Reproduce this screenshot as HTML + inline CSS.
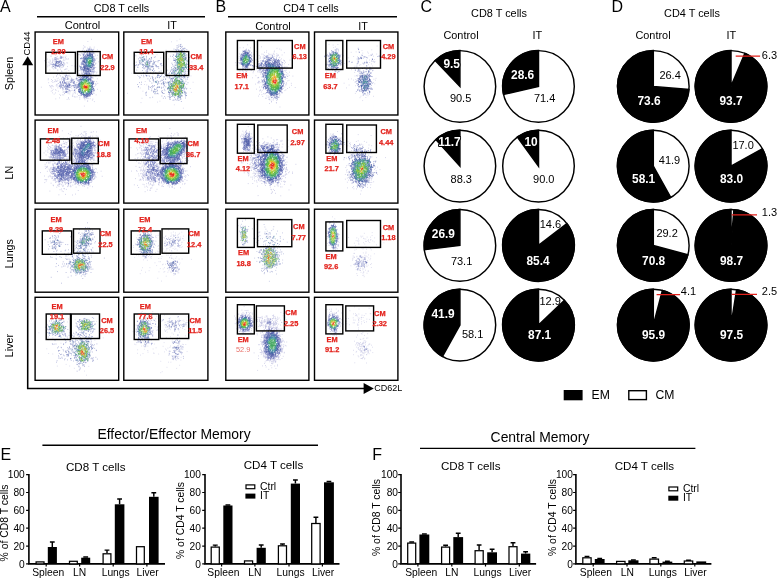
<!DOCTYPE html>
<html><head><meta charset="utf-8"><title>Figure</title>
<style>html,body{margin:0;padding:0;background:#fff}svg{display:block}</style></head><body>
<svg width="777" height="578" viewBox="0 0 777 578" font-family='"Liberation Sans", sans-serif'>
<rect width="777" height="578" fill="#fff"/>
<text x="0" y="11.6" font-size="16">A</text>
<text x="215.6" y="11.6" font-size="16">B</text>
<text x="420.4" y="11.6" font-size="16">C</text>
<text x="611.5" y="11.6" font-size="16">D</text>
<text x="121.5" y="11.8" font-size="10.8" text-anchor="middle">CD8 T cells</text>
<text x="311" y="11.8" font-size="10.8" text-anchor="middle">CD4 T cells</text>
<path d="M37 16.7H205M228 16.7H397" stroke="#000" stroke-width="1.35" fill="none"/>
<text x="82.5" y="29.3" font-size="11.0" text-anchor="middle">Control</text>
<text x="172" y="29.3" font-size="10.8" text-anchor="middle">IT</text>
<text x="273" y="29.8" font-size="11.0" text-anchor="middle">Control</text>
<text x="363" y="29.8" font-size="10.8" text-anchor="middle">IT</text>
<path d="M27.7 62V388.5H366" stroke="#000" stroke-width="1.55" fill="none"/>
<path d="M22.2 65.2L27.7 56.2L33.2 65.2Z" fill="#000"/>
<path d="M363.6 383.0L373.8 388.5L363.6 394.0Z" fill="#000"/>
<text x="30.5" y="55.4" font-size="9.4" transform="rotate(-90 30.5 55.4)">CD44</text>
<text x="374.2" y="391.3" font-size="9.0">CD62L</text>
<text x="13.2" y="73.5" font-size="10.7" text-anchor="middle" transform="rotate(-90 13.2 73.5)">Spleen</text>
<text x="13.2" y="172.6" font-size="10.7" text-anchor="middle" transform="rotate(-90 13.2 172.6)">LN</text>
<text x="13.2" y="253.7" font-size="10.7" text-anchor="middle" transform="rotate(-90 13.2 253.7)">Lungs</text>
<text x="13.2" y="345.6" font-size="10.7" text-anchor="middle" transform="rotate(-90 13.2 345.6)">Liver</text>
<g fill="none" stroke-linecap="round" stroke-width="8" transform="scale(.1)">
<path d="M936 930h0M879 981h0M880 986h0M778 821h0M934 780h0M963 842h0M942 757h0M798 991h0M843 986h0M953 835h0M1004 910h0M798 973h0M799 743h0M957 856h0M877 1013h0M838 978h0M978 834h0M943 1016h0M818 738h0M930 744h0M797 762h0M959 765h0M877 1008h0M929 991h0M771 770h0M785 955h0M945 865h0M819 729h0M764 774h0M941 934h0M819 714h0M765 825h0M967 816h0M843 1061h0M947 904h0M953 844h0M936 740h0M902 987h0M975 893h0M776 941h0M923 1002h0M963 731h0M771 719h0M737 795h0M802 957h0M955 643h0M945 707h0M957 554h0M949 563h0M955 634h0M940 490h0M796 654h0M828 537h0M975 553h0M969 582h0M952 717h0M950 541h0M820 727h0M946 531h0M832 491h0M807 598h0M936 495h0M849 474h0M909 480h0M879 415h0M926 500h0M958 590h0M958 675h0M942 471h0M809 704h0M805 552h0M961 632h0M814 532h0M833 482h0M898 477h0M973 498h0M943 719h0M807 551h0M915 393h0M986 618h0M789 548h0M837 457h0M900 468h0M686 588h0M638 622h0M657 695h0M637 593h0M648 603h0M578 700h0M635 578h0M527 588h0M506 610h0M538 690h0M639 568h0M526 620h0M466 546h0M525 669h0M573 565h0M600 676h0M635 661h0M655 574h0M498 620h0M614 709h0M501 639h0M648 643h0M532 606h0M511 564h0M668 628h0M605 559h0M659 688h0M662 586h0M526 603h0M499 700h0M638 625h0M479 651h0M519 671h0M510 559h0M585 584h0M528 615h0M493 657h0M518 630h0M561 685h0M476 591h0M584 595h0M677 630h0M617 676h0M660 594h0M628 673h0M445 608h0M660 562h0M606 692h0M501 632h0M578 702h0M462 625h0M577 747h0M526 625h0M669 689h0M550 575h0M500 600h0M645 697h0M600 587h0M647 635h0M528 681h0M632 605h0M679 592h0M594 675h0M478 668h0M530 593h0M651 580h0M546 618h0M557 552h0M676 666h0M487 622h0M575 583h0M502 646h0M565 573h0M629 902h0M753 896h0M722 903h0M671 994h0M502 868h0M532 866h0M616 780h0M494 855h0M518 857h0M689 791h0M583 912h0M607 761h0M525 858h0M483 787h0M619 715h0M511 859h0M596 979h0M630 922h0M579 804h0M711 906h0M729 947h0M799 954h0M723 960h0M741 964h0M756 911h0M751 930h0M630 892h0M482 734h0M783 740h0M698 939h0M623 948h0M602 881h0M558 989h0M564 766h0M661 722h0M637 949h0M631 769h0M758 970h0M562 857h0M565 845h0M523 906h0M581 835h0M577 746h0M684 978h0M703 871h0M756 727h0M639 733h0M529 825h0M515 795h0M565 815h0M614 801h0M645 936h0M701 919h0M413 872h0M747 970h0M665 749h0M519 815h0M747 924h0M721 789h0M512 912h0M543 817h0M716 864h0M525 928h0M561 903h0M667 796h0M682 760h0M677 763h0M741 879h0M681 937h0M613 790h0M698 758h0M487 827h0M628 891h0M720 656h0M584 835h0M681 756h0M552 816h0M590 862h0M570 861h0M640 916h0M718 865h0M702 766h0M556 897h0M541 941h0M757 931h0M532 893h0M731 932h0M691 750h0M790 705h0M757 789h0M631 740h0M579 878h0M740 798h0M691 993h0M554 929h0M760 742h0M551 796h0M640 922h0M604 955h0M718 882h0M508 868h0M558 805h0M572 788h0M524 805h0M688 705h0M620 787h0M644 933h0M571 811h0M587 780h0M713 780h0M685 823h0M564 757h0M724 961h0M575 848h0M715 787h0M696 814h0M598 799h0M482 798h0M606 757h0M517 881h0M595 749h0M634 890h0M598 944h0M536 771h0M771 753h0M703 908h0M685 980h0M961 949h0M772 666h0M874 481h0M771 968h0M811 629h0M770 758h0M970 721h0M973 788h0M745 660h0M789 545h0M829 514h0M825 508h0M1009 594h0M796 738h0M850 998h0M771 686h0M767 798h0M849 467h0" stroke="#a4a4d4" stroke-opacity=".66"/>
<path d="M758 854h0M932 867h0M923 945h0M911 944h0M888 961h0M853 975h0M790 812h0M936 903h0M861 970h0M888 963h0M839 741h0M941 905h0M752 852h0M813 955h0M837 969h0M775 848h0M746 902h0M862 982h0M759 845h0M733 829h0M868 975h0M746 850h0M833 749h0M798 774h0M917 791h0M805 765h0M780 848h0M782 798h0M769 786h0M938 715h0M936 842h0M769 863h0M836 714h0M810 776h0M948 674h0M926 940h0M940 814h0M937 814h0M763 860h0M846 977h0M789 772h0M820 758h0M813 692h0M746 816h0M785 810h0M911 747h0M925 778h0M911 775h0M900 962h0M905 765h0M909 768h0M737 854h0M938 916h0M836 723h0M893 487h0M935 687h0M890 499h0M870 535h0M902 510h0M834 546h0M841 524h0M821 638h0M923 712h0M937 532h0M928 539h0M872 501h0M930 696h0M844 512h0M937 689h0M806 687h0M814 629h0M874 526h0M934 527h0M902 755h0M944 651h0M881 536h0M824 750h0M939 673h0M827 644h0M887 518h0M884 491h0M816 663h0M841 535h0M847 542h0M927 538h0M866 545h0M885 502h0M911 512h0M866 510h0M849 520h0M911 493h0M871 515h0M910 493h0M857 520h0M837 554h0M824 601h0M929 719h0M907 744h0M803 674h0M922 523h0M878 515h0M916 530h0M929 501h0M828 585h0M918 764h0M800 667h0M801 665h0M944 609h0M818 588h0M950 598h0M923 520h0M812 646h0M891 509h0M918 500h0M843 724h0M867 504h0M810 694h0M805 682h0M945 598h0M817 699h0M851 525h0M835 557h0M926 695h0M852 520h0M922 709h0M914 739h0M870 530h0M873 523h0M939 687h0M813 675h0M821 695h0M950 605h0M806 585h0M923 512h0M939 675h0M904 777h0M911 708h0M813 634h0M830 543h0M815 580h0M945 590h0M590 664h0M587 655h0M588 659h0M529 658h0M532 662h0M593 624h0M541 646h0M559 670h0M557 618h0M603 584h0M519 644h0M602 657h0M587 650h0M539 640h0M622 649h0M619 570h0M605 608h0M544 598h0M548 587h0M580 635h0M565 609h0M618 620h0M633 631h0M592 663h0M569 588h0M624 645h0M613 635h0M551 664h0M628 647h0M548 677h0M558 597h0M605 614h0M594 646h0M620 574h0M559 600h0M563 662h0M611 565h0M614 624h0M602 573h0M613 584h0M560 637h0M536 665h0M580 639h0M619 580h0M639 651h0M597 618h0M570 593h0M615 639h0M601 612h0M632 660h0M535 642h0M577 664h0M605 639h0M603 629h0M595 611h0M601 662h0M577 661h0M591 626h0M523 644h0M615 574h0M605 649h0M604 573h0M532 643h0M560 583h0M580 660h0M617 618h0M617 657h0M592 643h0M557 592h0M552 575h0M558 631h0M544 649h0M653 830h0M713 823h0M743 877h0M661 836h0M631 848h0M680 782h0M671 919h0M597 852h0M659 889h0M633 856h0M601 822h0M775 804h0M724 856h0M630 878h0M628 854h0M606 820h0M661 921h0M666 843h0M647 798h0M673 889h0M679 788h0M738 860h0M736 828h0M664 889h0M670 758h0M689 897h0M728 797h0M751 870h0M769 883h0M604 879h0M718 806h0M625 827h0M611 871h0M624 820h0M639 776h0M702 849h0M718 814h0M651 753h0M625 772h0M617 849h0M607 859h0M642 826h0M601 868h0M654 771h0M688 919h0M623 827h0M603 830h0M650 830h0M691 875h0M626 817h0M654 885h0M664 923h0M642 869h0M652 827h0M721 801h0M644 822h0M637 852h0M667 844h0M610 841h0M636 837h0M710 816h0M657 765h0M768 879h0M734 858h0M658 863h0M736 829h0M667 822h0M669 837h0M669 897h0M698 869h0M661 881h0M665 919h0M750 864h0M744 902h0M632 859h0M657 925h0M655 852h0M642 785h0M609 837h0M620 873h0M647 817h0M741 908h0M615 863h0M637 808h0M705 826h0M656 789h0M766 788h0M760 842h0M710 854h0M656 831h0M713 794h0M790 776h0M761 876h0M750 853h0M743 875h0M761 882h0M680 820h0M644 869h0M644 832h0M656 917h0M733 830h0M674 918h0M628 830h0M708 803h0M631 797h0M744 902h0M652 873h0M694 906h0M637 783h0M718 804h0M602 824h0M744 829h0M653 897h0M639 807h0M729 803h0M694 832h0M593 862h0M665 912h0M689 901h0M728 821h0M627 881h0M769 786h0M644 788h0M671 775h0M664 918h0M682 837h0M788 800h0M742 835h0M674 850h0M602 819h0M608 849h0M611 854h0M554 680h0M659 753h0M699 875h0M652 858h0M634 798h0M821 739h0M682 878h0M673 793h0M646 823h0M628 817h0M679 791h0M674 895h0M746 820h0M666 753h0M647 803h0M600 863h0M831 560h0M913 720h0M818 757h0M737 812h0M804 668h0M816 583h0M937 700h0M807 584h0M939 723h0M912 802h0M791 804h0M810 677h0M916 776h0M835 547h0M819 646h0M947 620h0M945 687h0M912 779h0M821 689h0M930 730h0M894 494h0M839 550h0M918 718h0" stroke="#7a82c2" stroke-opacity=".95"/>
<path d="M780 854h0M912 926h0M875 954h0M898 771h0M845 964h0M914 935h0M787 917h0M933 837h0M851 963h0M890 956h0M912 934h0M788 896h0M908 802h0M860 961h0M900 786h0M925 820h0M865 963h0M905 794h0M937 899h0M916 819h0M903 794h0M934 832h0M941 898h0M927 890h0M937 829h0M776 873h0M922 898h0M840 951h0M837 954h0M787 900h0M810 939h0M785 902h0M814 940h0M818 948h0M910 805h0M870 965h0M900 955h0M892 949h0M900 944h0M872 962h0M906 940h0M794 921h0M839 958h0M934 885h0M788 917h0M801 791h0M905 785h0M900 742h0M789 894h0M797 819h0M854 758h0M810 931h0M845 741h0M880 951h0M935 883h0M795 923h0M932 883h0M875 963h0M795 795h0M896 786h0M925 810h0M906 795h0M833 768h0M914 934h0M817 776h0M823 766h0M884 717h0M793 924h0M879 954h0M904 947h0M925 826h0M856 737h0M778 864h0M833 695h0M894 734h0M853 758h0M787 915h0M846 743h0M866 740h0M847 736h0M858 738h0M898 796h0M875 752h0M797 802h0M930 820h0M927 813h0M789 875h0M938 889h0M887 758h0M823 762h0M883 741h0M898 729h0M838 678h0M824 770h0M870 743h0M898 757h0M887 712h0M936 633h0M822 682h0M894 539h0M926 651h0M844 563h0M905 715h0M899 705h0M853 724h0M885 740h0M826 636h0M833 677h0M937 564h0M874 714h0M926 556h0M894 530h0M836 648h0M907 715h0M840 697h0M892 525h0M924 658h0M905 712h0M859 730h0M929 677h0M922 555h0M878 722h0M933 573h0M867 708h0M882 728h0M822 614h0M900 529h0M930 658h0M903 702h0M833 639h0M874 718h0M860 706h0M855 553h0M878 738h0M936 584h0M920 681h0M832 579h0M863 726h0M928 664h0M842 704h0M828 690h0M835 751h0M859 556h0M849 712h0M839 604h0M849 700h0M894 538h0M836 644h0M870 716h0M912 672h0M877 743h0M851 758h0M893 540h0M863 742h0M900 713h0M900 524h0M839 656h0M863 733h0M895 731h0M921 661h0M870 569h0M903 537h0M857 738h0M838 669h0M867 738h0M834 594h0M840 601h0M878 544h0M862 715h0M926 546h0M840 680h0M837 582h0M903 531h0M845 566h0M846 646h0M839 664h0M846 578h0M837 666h0M838 638h0M925 546h0M914 674h0M894 529h0M821 674h0M858 713h0M842 706h0M917 673h0M941 582h0M831 704h0M850 755h0M855 565h0M869 564h0M858 709h0M940 658h0M839 710h0M914 675h0M870 733h0M935 650h0M831 698h0M938 622h0M870 569h0M836 702h0M866 735h0M863 720h0M918 688h0M933 650h0M830 621h0M937 620h0M924 545h0M937 644h0M589 628h0M562 629h0M584 622h0M560 651h0M569 617h0M578 616h0M566 621h0M581 613h0M553 656h0M562 614h0M590 614h0M562 653h0M551 651h0M553 642h0M556 652h0M576 658h0M575 616h0M556 641h0M591 618h0M566 627h0M577 629h0M563 631h0M565 622h0M566 652h0M561 654h0M692 854h0M661 861h0M696 849h0M787 833h0M693 859h0M686 842h0M668 870h0M662 870h0M789 878h0M673 858h0M778 872h0M824 764h0M672 880h0M695 842h0M663 859h0M679 869h0M675 861h0M676 868h0M679 862h0M691 846h0M805 937h0M682 855h0M699 846h0M678 858h0M684 868h0M694 854h0M835 767h0M901 708h0M826 611h0M890 751h0M894 711h0M831 640h0M856 709h0M839 578h0M860 566h0M933 832h0M900 738h0M888 711h0M911 697h0M806 784h0M861 551h0M898 752h0M893 951h0M893 753h0M891 743h0M823 624h0M870 733h0M896 742h0M888 729h0M875 961h0M860 704h0M832 581h0M882 766h0M867 748h0M833 572h0M880 719h0" stroke="#5e6ab2" stroke-opacity=".95"/>
<path d="M799 827h0M805 800h0M861 954h0M792 903h0M807 797h0M917 823h0M908 926h0M867 779h0M801 929h0M870 946h0M798 822h0M788 861h0M879 774h0M883 943h0M877 947h0M795 896h0M924 870h0M901 803h0M815 932h0M882 948h0M924 843h0M870 940h0M890 796h0M836 946h0M926 842h0M822 946h0M904 812h0M861 780h0M899 938h0M900 930h0M914 920h0M811 927h0M836 773h0M926 847h0M819 932h0M891 934h0M917 916h0M799 910h0M838 944h0M788 842h0M795 918h0M790 869h0M892 935h0M924 876h0M859 954h0M838 945h0M854 952h0M902 924h0M911 922h0M866 945h0M877 772h0M799 887h0M913 829h0M844 958h0M887 933h0M799 915h0M865 960h0M847 765h0M922 854h0M799 898h0M920 919h0M855 947h0M881 762h0M809 797h0M931 831h0M798 917h0M880 766h0M815 796h0M843 773h0M864 760h0M920 910h0M866 771h0M859 957h0M872 697h0M868 773h0M806 794h0M881 774h0M912 912h0M924 864h0M891 796h0M872 768h0M925 862h0M858 770h0M826 942h0M810 795h0M845 685h0M879 784h0M844 683h0M887 789h0M843 772h0M916 915h0M816 797h0M867 770h0M803 817h0M926 831h0M834 940h0M810 796h0M882 793h0M890 939h0M832 777h0M848 662h0M805 798h0M819 791h0M889 947h0M857 767h0M843 766h0M841 761h0M888 791h0M914 913h0M926 578h0M873 697h0M925 561h0M882 696h0M932 593h0M887 557h0M870 673h0M827 781h0M851 586h0M923 572h0M866 762h0M877 682h0M853 674h0M859 686h0M877 688h0M849 626h0M901 692h0M878 552h0M836 616h0M876 551h0M845 622h0M880 682h0M880 679h0M895 544h0M886 789h0M850 590h0M857 662h0M850 692h0M866 661h0M856 689h0M843 582h0M857 616h0M848 665h0M884 692h0M935 604h0M871 776h0M842 673h0M846 683h0M837 611h0M878 553h0M842 658h0M846 618h0M887 690h0M870 687h0M882 710h0M852 649h0M875 681h0M905 547h0M900 696h0M901 676h0M843 618h0M883 692h0M889 552h0M849 630h0M895 548h0M862 577h0M880 551h0M846 621h0M846 591h0M842 610h0M922 573h0M873 561h0M850 765h0M853 635h0M899 680h0M913 542h0M881 550h0M848 607h0M907 541h0M870 578h0M834 610h0M881 697h0M850 654h0M852 769h0M863 683h0M917 550h0M910 544h0M852 575h0M913 544h0M850 665h0M842 675h0M870 766h0M877 683h0M893 690h0M868 685h0M844 597h0M925 628h0M910 674h0M838 614h0M921 663h0M860 606h0M855 691h0M906 673h0M906 673h0M861 602h0M916 655h0M868 676h0M849 676h0M852 683h0M859 641h0M849 620h0M858 652h0M922 569h0M866 694h0M861 665h0M924 573h0M922 577h0M928 643h0M927 637h0M922 561h0M888 689h0M784 860h0M794 887h0M785 842h0M844 691h0M877 555h0M883 559h0M887 704h0M919 558h0M851 671h0M820 786h0M862 667h0M836 621h0M870 699h0M927 645h0M841 611h0M843 694h0M846 770h0M914 907h0M788 849h0M855 765h0M852 653h0M820 798h0M865 940h0M876 685h0M890 690h0M829 788h0M852 676h0" stroke="#4c5aa6" stroke-opacity=".95"/>
<path d="M801 865h0M893 925h0M837 931h0M820 807h0M912 861h0M913 836h0M912 868h0M809 907h0M876 934h0M828 798h0M865 930h0M861 937h0M797 838h0M843 946h0M795 838h0M833 937h0M874 936h0M866 785h0M816 814h0M835 782h0M819 925h0M818 921h0M860 930h0M795 867h0M812 811h0M859 787h0M882 807h0M824 795h0M913 884h0M795 857h0M849 946h0M921 880h0M848 789h0M816 929h0M913 861h0M812 925h0M912 896h0M814 812h0M877 800h0M905 920h0M915 898h0M824 792h0M869 933h0M820 819h0M920 895h0M814 924h0M800 845h0M913 852h0M916 834h0M791 854h0M916 877h0M909 828h0M831 935h0M874 937h0M899 929h0M913 871h0M921 897h0M875 796h0M882 805h0M796 834h0M913 855h0M845 946h0M920 835h0M843 950h0M799 840h0M802 913h0M834 789h0M866 781h0M810 916h0M903 919h0M885 806h0M918 853h0M869 608h0M866 607h0M913 572h0M925 612h0M875 586h0M871 655h0M915 571h0M919 565h0M859 595h0M861 628h0M873 654h0M860 587h0M894 554h0M857 585h0M901 661h0M890 665h0M903 558h0M866 603h0M866 658h0M897 567h0M913 649h0M893 665h0M867 647h0M923 599h0M888 677h0M876 666h0M865 620h0M858 581h0M852 592h0M922 614h0M869 586h0M920 578h0M895 560h0M882 665h0M889 580h0M909 554h0M862 652h0M895 669h0M900 569h0M930 611h0M888 577h0M877 659h0M921 644h0M926 590h0M880 652h0M860 626h0M891 662h0M863 625h0M867 647h0M857 629h0M915 637h0M904 558h0M922 582h0M915 638h0M867 595h0M852 582h0M865 593h0M927 610h0M872 662h0M904 661h0M862 637h0M876 580h0M856 591h0M860 580h0M891 573h0M855 625h0M878 589h0M894 559h0M923 607h0M874 585h0M905 563h0M927 594h0M911 630h0M915 635h0M905 558h0M921 587h0M902 550h0M865 581h0M885 663h0M911 564h0M882 575h0M885 568h0M928 595h0M891 553h0M916 638h0M906 551h0M922 614h0M927 601h0M870 622h0M916 634h0M864 782h0M805 907h0M879 797h0M793 849h0M828 793h0M897 666h0M870 647h0M915 837h0M864 615h0M869 635h0M825 799h0M798 838h0M824 797h0" stroke="#4272a8" stroke-opacity=".95"/>
<path d="M855 794h0M835 802h0M888 928h0M805 887h0M889 818h0M807 894h0M887 819h0M837 802h0M842 797h0M840 796h0M849 793h0M891 914h0M820 920h0M892 916h0M828 925h0M907 909h0M873 809h0M839 796h0M907 904h0M898 829h0M804 825h0M849 795h0M902 903h0M891 913h0M887 924h0M872 928h0M809 894h0M884 921h0M908 839h0M834 794h0M821 921h0M806 898h0M820 910h0M809 893h0M844 796h0M841 809h0M831 820h0M805 824h0M891 923h0M903 832h0M808 883h0M890 810h0M894 825h0M900 823h0M849 792h0M827 927h0M850 791h0M863 798h0M911 837h0M889 651h0M860 792h0M840 798h0M886 655h0M919 596h0M881 648h0M874 610h0M874 598h0M876 631h0M921 580h0M899 578h0M888 645h0M912 608h0M887 584h0M902 655h0M883 639h0M892 641h0M900 658h0M900 647h0M919 615h0M879 621h0M913 590h0M896 584h0M912 605h0M873 604h0M905 631h0M897 660h0M884 635h0M893 659h0M871 593h0M913 605h0M883 585h0M901 658h0M911 585h0M873 611h0M920 615h0M882 660h0M917 610h0M885 647h0M885 649h0M910 637h0M902 643h0M911 578h0M913 614h0M909 580h0M902 652h0M890 650h0M886 580h0M878 621h0M879 591h0M897 657h0M901 587h0M916 629h0M902 635h0M902 583h0M907 585h0M899 585h0M896 581h0M871 609h0M903 658h0M912 580h0M905 658h0M828 921h0M843 799h0" stroke="#40949c" stroke-opacity=".95"/>
<path d="M810 856h0M823 829h0M821 839h0M901 893h0M902 862h0M889 911h0M817 821h0M825 827h0M810 873h0M809 837h0M867 819h0M808 836h0M892 891h0M858 801h0M903 849h0M803 856h0M825 908h0M847 808h0M882 915h0M854 805h0M815 881h0M897 897h0M810 868h0M884 911h0M835 923h0M894 893h0M907 861h0M815 838h0M885 917h0M864 804h0M821 824h0M881 915h0M827 906h0M816 831h0M834 913h0M890 916h0M821 886h0M908 869h0M863 810h0M825 908h0M822 824h0M863 817h0M875 919h0M890 826h0M902 891h0M814 822h0M906 863h0M867 805h0M851 928h0M910 883h0M893 836h0M835 928h0M821 891h0M813 824h0M905 893h0M807 847h0M856 801h0M900 910h0M837 929h0M877 814h0M842 802h0M882 829h0M903 889h0M865 810h0M905 863h0M822 907h0M812 833h0M820 837h0M806 869h0M849 928h0M802 848h0M895 896h0M825 822h0M809 839h0M863 802h0M820 909h0M893 909h0M877 920h0M892 635h0M887 610h0M895 614h0M896 632h0M893 630h0M883 629h0M907 626h0M893 636h0M895 635h0M902 597h0M883 595h0M907 615h0M899 629h0M893 638h0M907 605h0M886 623h0M897 604h0M896 608h0M894 628h0M893 600h0M890 620h0M908 608h0M901 615h0M885 621h0M902 620h0M889 626h0M899 631h0M905 625h0M908 624h0M901 628h0M903 603h0M894 603h0M883 619h0M890 617h0M903 609h0M892 620h0M807 880h0M838 813h0M867 812h0M895 839h0M908 868h0M893 899h0" stroke="#44a860" stroke-opacity=".95"/>
<path d="M819 876h0M837 827h0M894 867h0M815 844h0M896 855h0M885 906h0M825 884h0M882 898h0M852 811h0M845 910h0M861 813h0M876 834h0M847 819h0M817 850h0M830 880h0M820 855h0M812 867h0M827 839h0M821 844h0M880 833h0M853 826h0M853 815h0M879 834h0M855 911h0M838 835h0M875 905h0M826 880h0M861 820h0M820 867h0M848 825h0M892 876h0M830 842h0M817 858h0M826 845h0M897 855h0M891 899h0M856 916h0M825 898h0M893 851h0M882 902h0M834 830h0M828 883h0M828 848h0M894 864h0M814 869h0M824 844h0M844 820h0M895 858h0M885 895h0M820 843h0M816 879h0M834 835h0M889 834h0M887 849h0M880 833h0M849 916h0M831 829h0M888 841h0M856 827h0M845 910h0M877 832h0M830 887h0M835 839h0M825 890h0M816 876h0M821 859h0" stroke="#5cb840" stroke-opacity=".95"/>
<path d="M855 905h0M860 830h0M850 833h0M877 892h0M890 879h0M854 904h0M851 832h0M859 832h0M889 856h0M847 832h0M873 846h0M886 881h0M867 837h0M883 887h0M827 866h0M873 898h0M870 900h0M845 907h0M837 886h0M862 905h0M870 897h0M888 861h0M826 860h0M855 905h0M883 860h0M833 881h0M825 879h0M826 859h0M823 857h0M825 872h0M854 906h0M823 873h0M832 896h0M872 890h0M849 890h0M835 845h0M860 905h0M881 847h0M874 894h0M882 882h0M843 902h0M882 877h0M874 896h0M826 868h0M885 885h0M885 871h0M839 846h0M872 894h0M863 901h0M884 868h0M887 889h0M875 891h0M882 867h0M883 886h0" stroke="#98c834" stroke-opacity=".95"/>
<path d="M864 842h0M839 859h0M838 880h0M841 856h0M881 859h0M876 855h0M843 884h0M849 841h0M858 841h0M836 857h0M853 893h0M869 841h0M836 877h0M851 841h0M833 877h0M848 886h0M873 890h0M833 877h0M840 870h0M833 880h0M872 859h0M848 845h0M877 856h0M878 852h0M859 891h0M845 888h0M856 899h0M845 886h0M862 849h0M880 856h0" stroke="#d8d22c" stroke-opacity=".95"/>
<path d="M856 884h0M838 869h0M839 866h0M871 875h0M861 887h0M870 882h0M875 861h0M878 870h0M867 887h0M838 864h0M863 888h0M868 887h0M877 869h0M860 888h0M839 867h0M877 864h0M863 881h0M879 879h0M873 875h0M855 890h0M839 863h0" stroke="#f0a026" stroke-opacity=".95"/>
<path d="M843 855h0M850 875h0M847 876h0M858 854h0M841 872h0M846 854h0M844 854h0M849 871h0M847 877h0" stroke="#ee6420" stroke-opacity=".95"/>
<path d="M855 877h0M842 869h0M868 877h0M854 871h0M843 870h0M867 877h0M865 861h0M852 862h0M854 868h0M858 867h0M859 874h0M852 868h0M864 864h0M856 867h0M861 874h0M869 866h0M870 875h0M863 871h0M865 871h0M842 868h0M862 873h0" stroke="#e6261c" stroke-opacity=".95"/>
<path d="M1903 885h0M1743 1048h0M1913 924h0M1770 408h0M1532 544h0M1609 579h0M1570 547h0M1421 526h0M1276 933h0M1410 1026h0M1444 845h0M1529 748h0M1468 849h0M1420 983h0M1599 1012h0M1318 732h0M1452 815h0M1931 823h0M1402 880h0M1429 912h0M1377 754h0M1575 1021h0M1799 392h0M1910 759h0M1716 418h0M1833 1082h0M1661 502h0M1685 590h0M1674 536h0M1916 693h0M1919 619h0" stroke="#a4a4d4" stroke-opacity=".56"/>
<path d="M1864 891h0M1868 844h0M1681 966h0M1658 868h0M1706 992h0M1762 1001h0M1730 1003h0M1872 731h0M1869 551h0M1891 709h0M1732 549h0M1809 444h0M1715 675h0M1873 775h0M1736 580h0M1868 548h0M1878 713h0M1859 792h0M1895 575h0M1868 496h0M1823 464h0M1368 701h0M1426 705h0M1593 605h0M1536 607h0M1348 547h0M1378 670h0M1359 558h0M1463 562h0M1357 725h0M1353 723h0M1362 622h0M1340 638h0M1384 589h0M1436 725h0M1436 753h0M1435 542h0M1559 615h0M1506 728h0M1348 672h0M1543 573h0M1553 568h0M1613 657h0M1379 675h0M1414 551h0M1486 881h0M1633 982h0M1527 972h0M1383 869h0M1611 710h0M1500 977h0M1638 669h0M1538 864h0M1479 788h0M1497 762h0M1672 702h0M1664 711h0M1589 836h0M1604 811h0M1553 787h0M1390 764h0M1653 731h0M1441 734h0M1632 876h0M1413 754h0M1641 935h0M1588 684h0M1592 717h0M1649 906h0M1385 866h0M1396 826h0M1654 794h0M1457 928h0M1462 955h0M1630 656h0M1627 907h0M1558 725h0M1614 883h0M1416 822h0M1488 893h0M1545 855h0M1581 938h0M1647 965h0M1493 801h0M1603 639h0M1412 844h0M1505 783h0M1519 831h0M1656 981h0M1485 862h0M1643 893h0M1619 960h0M1620 743h0M1500 814h0M1438 768h0M1377 845h0M1397 780h0M1558 777h0M1576 846h0M1518 890h0M1682 737h0M1402 774h0M1614 873h0M1490 758h0M1854 980h0M1874 791h0M1868 884h0M1771 455h0M1859 812h0M1813 1015h0M1881 773h0M1727 646h0M1671 771h0M1705 562h0M1880 827h0M1740 491h0M1719 632h0M1724 565h0" stroke="#7a82c2" stroke-opacity=".80"/>
<path d="M1857 959h0M1684 824h0M1777 789h0M1850 777h0M1695 971h0M1853 936h0M1752 768h0M1839 909h0M1691 925h0M1726 789h0M1727 828h0M1821 956h0M1805 972h0M1825 905h0M1774 773h0M1798 788h0M1691 779h0M1676 885h0M1727 816h0M1691 944h0M1697 852h0M1808 994h0M1722 933h0M1845 927h0M1690 923h0M1715 857h0M1726 902h0M1789 980h0M1824 925h0M1781 1003h0M1808 984h0M1687 874h0M1738 945h0M1827 924h0M1810 818h0M1712 811h0M1852 872h0M1816 891h0M1786 966h0M1751 808h0M1693 883h0M1701 905h0M1797 810h0M1705 974h0M1740 1000h0M1805 969h0M1865 954h0M1748 959h0M1713 965h0M1678 757h0M1695 938h0M1819 963h0M1698 970h0M1774 980h0M1692 929h0M1699 956h0M1686 922h0M1758 797h0M1726 930h0M1848 831h0M1708 923h0M1849 884h0M1813 956h0M1736 932h0M1798 933h0M1703 903h0M1794 953h0M1822 876h0M1824 682h0M1772 622h0M1850 699h0M1764 575h0M1755 617h0M1835 536h0M1764 680h0M1878 611h0M1741 519h0M1765 549h0M1805 484h0M1875 696h0M1798 742h0M1849 488h0M1737 551h0M1772 731h0M1786 509h0M1851 718h0M1781 497h0M1829 575h0M1811 716h0M1859 642h0M1746 605h0M1778 650h0M1854 576h0M1848 482h0M1835 488h0M1839 567h0M1761 639h0M1807 449h0M1741 600h0M1873 645h0M1795 807h0M1774 616h0M1794 755h0M1776 694h0M1832 764h0M1849 676h0M1784 697h0M1881 619h0M1831 499h0M1846 572h0M1755 514h0M1842 770h0M1865 646h0M1844 511h0M1797 547h0M1819 499h0M1776 664h0M1855 592h0M1858 581h0M1737 686h0M1831 692h0M1758 496h0M1797 558h0M1853 591h0M1749 627h0M1858 712h0M1790 502h0M1822 749h0M1762 749h0M1828 483h0M1751 651h0M1764 502h0M1838 781h0M1769 542h0M1842 588h0M1845 748h0M1802 465h0M1803 462h0M1805 762h0M1815 471h0M1788 513h0M1842 728h0M1887 594h0M1771 472h0M1868 570h0M1771 489h0M1813 523h0M1784 470h0M1814 515h0M1870 632h0M1872 601h0M1789 450h0M1851 568h0M1800 769h0M1424 642h0M1457 644h0M1525 642h0M1438 570h0M1449 602h0M1367 648h0M1500 625h0M1612 635h0M1384 648h0M1461 662h0M1530 671h0M1400 573h0M1578 666h0M1476 682h0M1419 577h0M1471 672h0M1517 614h0M1478 623h0M1473 667h0M1424 676h0M1517 671h0M1507 610h0M1430 603h0M1394 622h0M1496 586h0M1501 671h0M1486 679h0M1500 655h0M1472 669h0M1449 628h0M1472 698h0M1554 659h0M1580 618h0M1498 616h0M1542 636h0M1524 705h0M1487 621h0M1460 709h0M1451 678h0M1535 719h0M1455 666h0M1454 634h0M1509 616h0M1461 598h0M1547 708h0M1481 630h0M1563 654h0M1544 625h0M1491 592h0M1359 654h0M1534 643h0M1470 647h0M1481 691h0M1417 628h0M1441 688h0M1512 581h0M1462 588h0M1525 704h0M1395 640h0M1470 718h0M1514 578h0M1499 637h0M1482 602h0M1444 599h0M1565 661h0M1381 652h0M1551 647h0M1510 597h0M1514 578h0M1351 657h0M1420 644h0M1582 605h0M1445 586h0M1438 679h0M1476 637h0M1499 701h0M1547 619h0M1432 615h0M1487 643h0M1410 589h0M1401 580h0M1471 693h0M1429 649h0M1525 667h0M1493 621h0M1400 629h0M1436 663h0M1392 609h0M1533 664h0M1464 571h0M1521 663h0M1439 590h0M1426 616h0M1546 890h0M1646 853h0M1571 808h0M1504 874h0M1615 912h0M1464 922h0M1679 885h0M1518 866h0M1470 757h0M1613 838h0M1619 838h0M1524 779h0M1577 871h0M1636 843h0M1528 787h0M1616 757h0M1574 775h0M1538 924h0M1518 907h0M1621 806h0M1621 925h0M1587 668h0M1707 801h0M1657 789h0M1606 765h0M1827 817h0M1476 730h0M1536 796h0M1467 725h0M1568 881h0M1579 875h0M1559 895h0M1620 801h0M1537 686h0M1664 761h0M1591 771h0M1605 763h0M1557 821h0M1846 837h0M1725 790h0M1591 756h0M1522 765h0M1532 694h0M1709 792h0M1640 767h0M1465 755h0M1529 776h0M1490 870h0M1569 913h0M1680 820h0M1637 814h0M1557 814h0M1579 736h0M1541 913h0M1574 933h0M1471 710h0M1527 871h0M1588 816h0M1631 935h0M1458 751h0M1575 756h0M1693 819h0M1548 937h0M1530 801h0M1626 926h0M1807 936h0M1460 940h0M1534 913h0M1548 894h0M1569 668h0M1467 761h0M1577 838h0M1509 698h0M1634 793h0M1698 778h0M1672 748h0M1630 827h0M1650 745h0M1587 752h0M1866 931h0M1609 643h0M1549 912h0M1560 937h0M1537 807h0M1594 777h0M1640 861h0M1687 887h0M1527 856h0M1737 783h0M1641 771h0M1724 710h0M1703 869h0M1655 756h0M1652 821h0M1687 828h0M1576 903h0M1694 990h0M1580 751h0M1584 822h0M1539 818h0M1597 873h0M1741 735h0M1812 782h0M1778 626h0M1755 992h0M1778 780h0M1662 829h0M1745 743h0M1838 766h0M1745 796h0M1829 804h0M1714 789h0M1768 756h0M1793 737h0M1837 818h0M1847 744h0M1791 1001h0M1715 837h0M1704 714h0M1854 759h0M1736 603h0M1734 712h0M1859 956h0M1774 990h0M1717 855h0M1744 976h0M1821 775h0M1744 604h0M1835 533h0M1742 669h0M1845 914h0M1768 696h0M1767 531h0M1853 733h0M1718 727h0M1812 718h0M1696 767h0M1682 826h0M1846 771h0M1727 732h0M1695 730h0M1774 691h0M1710 703h0M1755 706h0M1731 661h0M1757 682h0M1757 687h0M1785 722h0" stroke="#5e6ab2" stroke-opacity=".80"/>
<path d="M1816 854h0M1720 915h0M1702 903h0M1731 925h0M1804 916h0M1854 921h0M1704 915h0M1699 925h0M1812 835h0M1772 939h0M1701 876h0M1765 780h0M1792 837h0M1801 933h0M1782 966h0M1835 841h0M1815 883h0M1746 806h0M1816 870h0M1806 813h0M1688 880h0M1807 904h0M1765 806h0M1729 965h0M1716 923h0M1789 947h0M1793 971h0M1836 846h0M1742 829h0M1817 795h0M1777 944h0M1718 881h0M1758 819h0M1803 951h0M1709 782h0M1706 889h0M1817 927h0M1745 942h0M1832 889h0M1756 952h0M1774 805h0M1705 879h0M1804 826h0M1788 840h0M1750 950h0M1735 926h0M1836 848h0M1819 832h0M1748 726h0M1815 722h0M1810 511h0M1858 663h0M1766 564h0M1790 731h0M1849 540h0M1787 683h0M1775 620h0M1848 696h0M1829 524h0M1856 591h0M1779 756h0M1781 542h0M1751 586h0M1834 616h0M1770 526h0M1839 546h0M1851 594h0M1817 523h0M1818 699h0M1807 517h0M1797 757h0M1768 515h0M1793 771h0M1802 715h0M1797 541h0M1785 683h0M1846 530h0M1819 691h0M1826 543h0M1820 556h0M1753 653h0M1802 510h0M1866 686h0M1822 503h0M1814 504h0M1772 736h0M1767 549h0M1755 518h0M1783 518h0M1794 689h0M1752 734h0M1839 515h0M1795 669h0M1832 587h0M1767 512h0M1801 549h0M1798 678h0M1721 693h0M1750 674h0M1834 588h0M1854 577h0M1802 517h0M1815 709h0M1511 665h0M1469 664h0M1488 681h0M1435 647h0M1400 605h0M1482 608h0M1500 692h0M1472 611h0M1477 633h0M1446 596h0M1490 655h0M1455 660h0M1432 600h0M1490 660h0M1425 601h0M1535 621h0M1723 812h0M1727 804h0M1675 752h0M1848 756h0M1639 837h0M1844 762h0M1714 904h0M1579 750h0M1677 892h0M1732 886h0M1478 711h0M1690 852h0M1726 857h0M1594 870h0M1765 816h0M1639 838h0M1792 869h0M1699 817h0M1792 916h0M1729 721h0M1770 826h0M1815 763h0M1713 852h0M1826 674h0M1696 892h0M1634 824h0M1796 816h0M1760 748h0M1758 703h0M1805 791h0M1829 721h0M1786 670h0M1746 753h0M1779 562h0M1741 817h0M1733 782h0M1751 689h0M1685 838h0M1745 820h0M1762 754h0M1751 702h0" stroke="#4c5aa6" stroke-opacity=".80"/>
<path d="M1793 869h0M1755 759h0M1791 916h0M1777 838h0M1727 951h0M1729 931h0M1796 922h0M1830 858h0M1850 927h0M1735 910h0M1743 848h0M1795 886h0M1724 892h0M1790 894h0M1808 854h0M1791 944h0M1721 882h0M1712 943h0M1746 827h0M1750 832h0M1831 862h0M1726 950h0M1830 885h0M1717 864h0M1737 842h0M1738 937h0M1715 786h0M1852 945h0M1813 886h0M1812 900h0M1709 837h0M1815 900h0M1797 821h0M1788 837h0M1802 968h0M1686 918h0M1811 879h0M1808 872h0M1715 838h0M1811 856h0M1746 858h0M1755 840h0M1808 860h0M1799 923h0M1828 933h0M1788 977h0M1687 873h0M1722 868h0M1792 882h0M1833 870h0M1707 910h0M1805 873h0M1839 633h0M1784 729h0M1796 665h0M1787 570h0M1852 538h0M1834 688h0M1788 717h0M1763 597h0M1831 568h0M1872 670h0M1755 562h0M1755 564h0M1803 730h0M1790 661h0M1865 582h0M1756 607h0M1828 589h0M1801 525h0M1828 678h0M1773 584h0M1832 674h0M1814 662h0M1787 585h0M1835 699h0M1798 529h0M1842 631h0M1870 613h0M1825 636h0M1779 637h0M1855 557h0M1811 700h0M1839 643h0M1794 581h0M1779 633h0M1829 559h0M1763 561h0M1794 603h0M1794 737h0M1792 637h0M1847 511h0M1764 597h0M1837 565h0M1842 634h0M1785 548h0M1772 537h0M1776 677h0M1844 632h0M1780 635h0M1830 750h0M1794 645h0M1816 712h0M1830 654h0M1772 698h0M1799 621h0M1816 673h0M1817 521h0M1800 635h0M1866 676h0M1827 596h0M1847 658h0M1845 683h0M1797 602h0M1843 549h0M1843 604h0M1803 538h0M1836 604h0M1415 593h0M1492 643h0M1438 565h0M1401 618h0M1432 579h0M1460 623h0M1521 659h0M1445 653h0M1500 687h0M1465 614h0M1473 626h0M1531 634h0M1494 634h0M1474 658h0M1429 653h0M1464 648h0M1462 658h0M1422 571h0M1404 639h0M1554 920h0M1717 731h0M1730 778h0M1560 817h0M1760 827h0M1568 826h0M1821 844h0M1639 834h0M1830 873h0M1572 767h0M1582 870h0M1686 849h0M1826 555h0M1742 700h0M1796 872h0M1820 798h0M1783 962h0M1786 952h0M1828 572h0M1811 882h0M1841 858h0M1734 702h0M1802 696h0M1739 702h0M1716 734h0M1736 723h0M1819 831h0M1813 735h0M1719 691h0M1758 763h0M1757 599h0M1759 765h0M1797 890h0M1781 934h0M1795 745h0M1710 840h0M1775 962h0M1805 702h0M1816 691h0M1793 859h0M1800 732h0M1839 682h0M1760 775h0" stroke="#4272a8" stroke-opacity=".80"/>
<path d="M1815 822h0M1762 930h0M1834 831h0M1799 842h0M1743 935h0M1818 859h0M1796 853h0M1782 903h0M1780 932h0M1772 906h0M1842 832h0M1739 858h0M1817 871h0M1825 814h0M1801 916h0M1799 920h0M1724 863h0M1791 837h0M1787 919h0M1735 819h0M1702 823h0M1818 830h0M1768 832h0M1788 925h0M1748 911h0M1757 912h0M1733 890h0M1818 838h0M1834 852h0M1796 881h0M1691 886h0M1760 931h0M1786 760h0M1754 953h0M1727 888h0M1755 939h0M1774 800h0M1793 814h0M1782 911h0M1760 822h0M1731 852h0M1809 836h0M1827 858h0M1781 902h0M1807 860h0M1765 942h0M1820 908h0M1824 832h0M1794 901h0M1799 938h0M1702 868h0M1798 886h0M1691 849h0M1785 879h0M1845 890h0M1865 678h0M1790 539h0M1758 716h0M1819 704h0M1775 617h0M1816 590h0M1792 706h0M1824 555h0M1812 571h0M1805 693h0M1806 640h0M1849 622h0M1795 606h0M1847 554h0M1801 616h0M1821 546h0M1800 584h0M1816 657h0M1794 697h0M1768 650h0M1803 654h0M1840 592h0M1805 672h0M1822 572h0M1810 598h0M1811 569h0M1838 532h0M1852 646h0M1786 624h0M1805 684h0M1844 627h0M1841 653h0M1823 715h0M1865 658h0M1802 509h0M1791 634h0M1797 573h0M1820 651h0M1855 676h0M1817 626h0M1850 675h0M1863 602h0M1818 667h0M1841 638h0M1783 672h0M1808 584h0M1798 656h0M1828 603h0M1818 648h0M1774 598h0M1822 613h0M1832 682h0M1818 800h0M1847 537h0M1813 589h0M1766 559h0M1784 558h0M1761 599h0M1854 665h0M1778 662h0M1768 706h0M1791 519h0M1824 674h0M1792 664h0M1850 643h0M1817 680h0M1850 604h0M1811 700h0M1768 631h0M1779 594h0M1855 674h0M1811 552h0M1813 537h0M1432 616h0M1424 576h0M1413 608h0M1428 607h0M1491 663h0M1481 671h0M1476 614h0M1425 597h0M1484 666h0M1752 937h0M1558 821h0M1796 827h0M1735 851h0M1694 865h0M1679 829h0M1564 821h0M1800 975h0M1798 957h0M1815 743h0M1761 712h0M1721 843h0M1834 873h0M1745 722h0M1775 769h0M1827 710h0M1750 677h0M1699 903h0M1790 824h0M1822 813h0M1721 734h0M1760 759h0M1846 628h0M1767 622h0M1745 772h0M1820 836h0M1794 730h0M1771 803h0M1776 646h0M1748 754h0M1810 759h0M1737 740h0M1775 732h0M1778 735h0" stroke="#40949c" stroke-opacity=".80"/>
<path d="M1721 929h0M1813 950h0M1729 952h0M1730 879h0M1800 752h0M1811 869h0M1806 862h0M1757 831h0M1742 890h0M1708 883h0M1814 908h0M1680 875h0M1772 856h0M1749 920h0M1746 827h0M1812 817h0M1782 944h0M1759 794h0M1775 934h0M1795 826h0M1782 819h0M1810 864h0M1786 878h0M1768 817h0M1691 908h0M1755 942h0M1842 842h0M1735 887h0M1836 865h0M1806 946h0M1731 852h0M1755 818h0M1784 933h0M1825 922h0M1789 930h0M1751 803h0M1742 949h0M1729 884h0M1730 942h0M1760 839h0M1718 868h0M1777 944h0M1797 769h0M1785 904h0M1729 949h0M1756 945h0M1775 902h0M1787 933h0M1768 806h0M1736 863h0M1740 908h0M1824 515h0M1843 629h0M1784 589h0M1787 624h0M1788 591h0M1826 711h0M1845 626h0M1809 577h0M1838 630h0M1798 567h0M1809 630h0M1795 614h0M1804 647h0M1814 551h0M1859 658h0M1801 572h0M1837 716h0M1837 707h0M1777 678h0M1795 628h0M1810 617h0M1836 639h0M1778 581h0M1834 640h0M1796 640h0M1786 594h0M1782 555h0M1816 672h0M1813 669h0M1787 806h0M1770 658h0M1833 648h0M1808 546h0M1769 574h0M1836 543h0M1826 582h0M1816 565h0M1809 656h0M1806 657h0M1801 545h0M1788 606h0M1791 671h0M1773 564h0M1826 589h0M1768 575h0M1780 563h0M1794 615h0M1815 520h0M1814 554h0M1813 531h0M1813 640h0M1781 610h0M1822 570h0M1811 681h0M1818 646h0M1787 661h0M1806 592h0M1796 544h0M1779 601h0M1809 567h0M1829 611h0M1817 560h0M1836 674h0M1857 667h0M1783 537h0M1783 596h0M1801 605h0M1795 622h0M1825 647h0M1806 591h0M1840 529h0M1817 606h0M1781 625h0M1780 600h0M1848 588h0M1821 544h0M1804 727h0M1866 632h0M1828 637h0M1471 648h0M1470 626h0M1460 640h0M1470 631h0M1705 844h0M1709 864h0M1768 745h0M1750 794h0M1753 845h0M1689 869h0M1731 881h0M1817 736h0M1758 844h0M1789 883h0M1806 876h0M1821 930h0M1750 956h0M1838 565h0M1750 754h0M1750 806h0M1792 747h0M1826 871h0M1714 889h0M1735 837h0M1821 649h0M1790 765h0M1755 786h0M1744 716h0M1771 810h0M1762 797h0M1698 832h0M1841 662h0M1825 713h0M1787 772h0M1810 931h0M1805 539h0M1712 884h0M1789 762h0M1811 625h0M1749 766h0M1827 837h0M1831 633h0M1769 772h0M1793 707h0M1782 581h0" stroke="#44a860" stroke-opacity=".80"/>
<path d="M1754 878h0M1795 843h0M1800 826h0M1771 832h0M1813 866h0M1790 833h0M1774 847h0M1759 872h0M1769 890h0M1794 908h0M1786 842h0M1771 802h0M1742 856h0M1802 823h0M1773 941h0M1774 841h0M1789 925h0M1792 824h0M1827 874h0M1813 911h0M1757 798h0M1759 958h0M1835 854h0M1703 877h0M1782 914h0M1783 822h0M1733 864h0M1799 910h0M1727 848h0M1787 944h0M1821 883h0M1835 858h0M1691 890h0M1792 962h0M1703 893h0M1732 902h0M1748 917h0M1760 931h0M1814 918h0M1769 870h0M1736 909h0M1791 811h0M1785 953h0M1809 877h0M1727 866h0M1720 933h0M1754 914h0M1760 838h0M1703 872h0M1757 943h0M1739 820h0M1760 901h0M1811 828h0M1783 801h0M1751 915h0M1743 827h0M1788 807h0M1749 943h0M1707 862h0M1769 906h0M1727 860h0M1797 868h0M1787 636h0M1779 677h0M1841 555h0M1832 610h0M1773 651h0M1847 646h0M1773 600h0M1802 567h0M1814 661h0M1781 565h0M1829 652h0M1818 601h0M1800 587h0M1799 588h0M1813 553h0M1794 690h0M1796 635h0M1846 612h0M1790 737h0M1804 577h0M1811 622h0M1798 617h0M1776 593h0M1842 594h0M1787 565h0M1844 640h0M1824 713h0M1812 706h0M1792 717h0M1845 653h0M1794 582h0M1802 626h0M1840 629h0M1837 695h0M1814 600h0M1805 535h0M1784 641h0M1779 668h0M1808 667h0M1806 617h0M1796 549h0M1819 590h0M1780 690h0M1796 591h0M1802 672h0M1851 582h0M1474 646h0M1802 904h0M1764 833h0M1473 645h0M1749 936h0M1745 856h0M1709 883h0M1704 907h0M1716 849h0M1810 725h0M1802 625h0M1804 835h0M1725 839h0M1853 654h0M1800 706h0M1812 691h0M1796 804h0M1836 854h0M1792 723h0M1776 753h0M1792 811h0M1770 815h0M1782 812h0M1809 691h0M1760 785h0M1777 621h0M1783 610h0M1783 726h0M1835 858h0M1763 785h0M1757 911h0" stroke="#5cb840" stroke-opacity=".80"/>
<path d="M1748 888h0M1764 950h0M1803 834h0M1761 947h0M1744 897h0M1763 916h0M1784 942h0M1756 816h0M1746 866h0M1804 891h0M1757 847h0M1779 941h0M1811 857h0M1796 897h0M1753 860h0M1793 898h0M1756 924h0M1741 859h0M1815 918h0M1789 828h0M1762 834h0M1814 916h0M1772 918h0M1763 826h0M1757 837h0M1731 874h0M1745 941h0M1740 831h0M1738 898h0M1777 915h0M1803 895h0M1796 918h0M1771 930h0M1742 853h0M1737 866h0M1768 918h0M1789 847h0M1775 901h0M1782 870h0M1748 897h0M1754 847h0M1786 925h0M1762 910h0M1823 592h0M1800 553h0M1818 597h0M1803 586h0M1823 631h0M1825 549h0M1817 536h0M1815 591h0M1804 657h0M1792 590h0M1834 628h0M1823 709h0M1844 634h0M1805 536h0M1804 527h0M1822 601h0M1801 527h0M1802 668h0M1799 611h0M1818 631h0M1803 646h0M1805 640h0M1801 699h0M1809 532h0M1800 685h0M1807 592h0M1828 659h0M1836 606h0M1804 551h0M1822 602h0M1834 611h0M1793 591h0M1814 641h0M1809 569h0M1813 640h0M1804 549h0M1829 601h0M1825 640h0M1820 550h0M1823 858h0M1755 876h0M1823 661h0M1811 849h0M1781 592h0M1831 844h0M1738 821h0M1794 846h0M1743 832h0M1804 675h0M1817 667h0M1740 834h0M1834 844h0" stroke="#98c834" stroke-opacity=".80"/>
<path d="M1773 855h0M1746 899h0M1767 860h0M1785 884h0M1775 876h0M1784 882h0M1749 862h0M1786 861h0M1766 833h0M1786 854h0M1791 885h0M1740 883h0M1768 883h0M1741 866h0M1743 873h0M1759 893h0M1753 895h0M1755 914h0M1767 846h0M1757 860h0M1751 900h0M1820 585h0M1822 649h0M1816 631h0M1789 646h0M1789 645h0M1830 650h0M1814 657h0M1788 602h0M1797 590h0M1820 592h0M1811 608h0M1825 581h0M1801 635h0M1811 571h0M1811 561h0M1809 583h0M1790 649h0M1779 600h0M1799 581h0M1810 663h0M1830 646h0M1799 655h0" stroke="#d8d22c" stroke-opacity=".80"/>
<path d="M1750 909h0M1756 907h0M1765 853h0M1770 862h0M1772 855h0M1742 898h0M1782 876h0M1740 889h0M1760 895h0M1764 899h0M1764 905h0M1772 860h0M1769 886h0M1769 876h0M1753 893h0M1816 608h0M1803 607h0M1776 863h0" stroke="#f0a026" stroke-opacity=".80"/>
<path d="M1776 865h0M1760 851h0M1758 878h0M1746 898h0M1766 886h0M1742 892h0" stroke="#ee6420" stroke-opacity=".80"/>
<path d="M1759 896h0M1758 880h0M1775 872h0M1770 867h0M1765 898h0" stroke="#e6261c" stroke-opacity=".80"/>
<path d="M824 1857h0M915 1825h0M958 1685h0M963 1691h0M927 1677h0M962 1771h0M816 1845h0M763 1833h0M953 1726h0M782 1842h0M942 1763h0M811 1847h0M839 1843h0M734 1820h0M831 1860h0M953 1765h0M885 1855h0M947 1781h0M925 1676h0M900 1860h0M939 1791h0M840 1852h0M938 1791h0M950 1778h0M901 1656h0M958 1721h0M1022 1763h0M923 1662h0M713 1802h0M936 1606h0M920 1659h0M945 1694h0M941 1595h0M845 1864h0M936 1630h0M928 1652h0M924 1679h0M925 1794h0M925 1867h0M926 1648h0M682 1847h0M674 1866h0M1011 1712h0M704 1808h0M861 1849h0M873 1849h0M791 1856h0M757 1844h0M878 1879h0M922 1645h0M949 1606h0M943 1783h0M782 1905h0M956 1751h0M897 1649h0M936 1794h0M974 1727h0M977 1606h0M784 1354h0M820 1369h0M696 1459h0M780 1362h0M943 1504h0M954 1529h0M962 1359h0M934 1527h0M706 1484h0M902 1386h0M952 1475h0M946 1565h0M927 1362h0M744 1480h0M746 1602h0M885 1371h0M766 1436h0M862 1352h0M1001 1401h0M939 1528h0M959 1529h0M918 1613h0M941 1581h0M854 1331h0M913 1398h0M893 1368h0M805 1387h0M729 1545h0M842 1375h0M842 1361h0M842 1377h0M760 1357h0M932 1401h0M905 1606h0M715 1412h0M739 1557h0M942 1530h0M700 1504h0M985 1480h0M979 1363h0M947 1631h0M864 1377h0M880 1607h0M889 1626h0M768 1434h0M823 1404h0M910 1323h0M860 1316h0M948 1485h0M915 1646h0M696 1615h0M814 1334h0M781 1397h0M867 1376h0M902 1595h0M778 1421h0M752 1420h0M739 1558h0M834 1353h0M902 1386h0M935 1591h0M804 1403h0M952 1448h0M956 1500h0M839 1321h0M744 1572h0M999 1493h0M716 1463h0M822 1348h0M951 1502h0M936 1317h0M739 1491h0M805 1391h0M847 1393h0M965 1319h0M882 1375h0M876 1610h0M947 1500h0M975 1460h0M768 1411h0M768 1450h0M926 1592h0M941 1489h0M903 1383h0M965 1394h0M778 1407h0M945 1481h0M963 1445h0M941 1539h0M974 1436h0M848 1396h0M904 1369h0M897 1595h0M766 1463h0M804 1392h0M814 1366h0M958 1435h0M887 1366h0M793 1410h0M995 1462h0M855 1369h0M801 1419h0M854 1349h0M982 1505h0M961 1475h0M948 1390h0M952 1520h0M868 1374h0M918 1322h0M906 1361h0M865 1337h0M925 1397h0M929 1387h0M677 1503h0M576 1626h0M478 1509h0M646 1498h0M586 1461h0M638 1470h0M700 1475h0M651 1442h0M500 1536h0M539 1458h0M550 1395h0M485 1452h0M613 1454h0M481 1493h0M652 1466h0M685 1459h0M495 1573h0M494 1465h0M702 1496h0M646 1469h0M561 1444h0M653 1422h0M636 1382h0M505 1567h0M641 1471h0M616 1450h0M479 1524h0M504 1469h0M505 1542h0M718 1512h0M508 1517h0M531 1479h0M683 1566h0M561 1453h0M496 1490h0M721 1469h0M646 1435h0M613 1608h0M698 1378h0M661 1565h0M667 1447h0M499 1590h0M689 1492h0M623 1308h0M547 1416h0M553 1592h0M526 1491h0M594 1448h0M533 1607h0M671 1513h0M614 1597h0M677 1538h0M675 1529h0M678 1516h0M672 1484h0M556 1457h0M510 1478h0M615 1455h0M682 1414h0M522 1455h0M662 1536h0M530 1603h0M675 1602h0M545 1471h0M505 1505h0M506 1526h0M668 1429h0M523 1450h0M640 1430h0M641 1472h0M668 1426h0M527 1602h0M614 1620h0M507 1503h0M508 1478h0M600 1445h0M583 1429h0M459 1510h0M675 1589h0M669 1499h0M483 1449h0M682 1521h0M678 1616h0M666 1595h0M571 1398h0M657 1498h0M691 1533h0M638 1437h0M543 1608h0M621 1466h0M612 1454h0M490 1568h0M483 1481h0M664 1495h0M441 1529h0M621 1440h0M597 1406h0M461 1549h0M503 1579h0M508 1559h0M636 1414h0M475 1472h0M669 1565h0M533 1609h0M674 1533h0M549 1463h0M505 1574h0M594 1445h0M699 1532h0M549 1460h0M569 1595h0M662 1831h0M532 1802h0M539 1610h0M579 1856h0M682 1855h0M483 1769h0M515 1736h0M492 1761h0M650 1587h0M622 1825h0M555 1822h0M707 1825h0M533 1639h0M673 1609h0M539 1664h0M560 1669h0M471 1676h0M666 1583h0M708 1868h0M658 1832h0M639 1582h0M524 1784h0M611 1812h0M490 1690h0M499 1620h0M706 1608h0M458 1795h0M531 1743h0M622 1831h0M602 1840h0M485 1630h0M711 1594h0M499 1911h0M578 1801h0M535 1655h0M519 1769h0M631 1604h0M640 1885h0M655 1944h0M589 1948h0M505 1767h0M627 1824h0M452 1663h0M448 1826h0M650 1827h0M577 1608h0M703 1573h0M554 1639h0M550 1806h0M596 1844h0M667 1607h0M505 1724h0M588 1846h0M510 1729h0M594 1829h0M615 1890h0M523 1739h0M512 1715h0M523 1766h0M719 1606h0M703 1587h0M465 1673h0M540 1800h0M513 1713h0M746 1841h0M455 1684h0M469 1666h0M712 1608h0M709 1863h0M568 1872h0M513 1729h0M555 1736h0M527 1587h0M474 1663h0M522 1777h0M542 1791h0M507 1677h0M527 1736h0M497 1699h0M739 1821h0M531 1851h0M687 1841h0M702 1827h0M632 1916h0M634 1591h0M590 1865h0M508 1698h0M731 1610h0M715 1532h0M646 1593h0M445 1760h0M693 1619h0M522 1676h0M645 1600h0M688 1842h0M584 1823h0M649 1826h0M673 1824h0M495 1710h0M502 1753h0M643 1888h0M481 1619h0M718 1822h0M551 1623h0M707 1853h0M525 1640h0M688 1816h0M509 1616h0M462 1810h0M714 1822h0M689 1632h0M624 1862h0M449 1796h0M683 1816h0M563 1816h0M559 1822h0M552 1803h0M736 1611h0M537 1647h0M698 1620h0M778 1845h0M405 1726h0M519 1786h0M630 1851h0M578 1850h0M504 1686h0M689 1862h0M546 1783h0M519 1674h0M653 1604h0M451 1643h0M648 1820h0M550 1631h0M621 1909h0M591 1835h0M701 1598h0M592 1848h0M616 1847h0M729 1638h0M700 1832h0M691 1803h0M676 1831h0M544 1790h0M468 1796h0M466 1628h0M473 1713h0M750 1614h0M653 1844h0M636 1860h0M663 1894h0M680 1579h0M544 1634h0M536 1767h0M615 1619h0M527 1651h0M536 1857h0M565 1647h0M499 1631h0M669 1829h0M522 1612h0M511 1832h0M600 1897h0M644 1603h0M549 1783h0M693 1583h0M844 1378h0M699 1477h0M685 1406h0M802 1344h0M671 1474h0M872 1618h0M926 1586h0M714 1451h0M738 1371h0M704 1460h0M765 1432h0M766 1452h0M732 1594h0M748 1596h0M782 1422h0M648 1465h0M993 1614h0M871 1601h0M754 1941h0M725 1623h0M749 1393h0M546 1429h0M724 1473h0M702 1347h0M769 1461h0M702 1430h0M810 1263h0M755 1835h0M737 1588h0M747 1386h0M711 1538h0M981 1514h0M731 1429h0M733 1488h0M745 1469h0M725 1950h0M734 1456h0M946 1554h0M741 1602h0M720 1472h0M908 1648h0M689 1580h0M737 1504h0M725 1399h0M677 1381h0M718 1459h0M738 1614h0M684 1336h0M744 1624h0M692 1624h0M706 1377h0M761 1871h0M727 1628h0M727 1437h0M680 1490h0M682 1589h0M712 1319h0M707 1591h0M728 1851h0M761 1833h0M709 1490h0M847 1318h0M592 1366h0M779 1399h0M882 1376h0" stroke="#a4a4d4" stroke-opacity=".70"/>
<path d="M929 1692h0M932 1737h0M841 1839h0M939 1746h0M706 1716h0M933 1717h0M925 1765h0M941 1730h0M771 1825h0M742 1804h0M917 1807h0M789 1637h0M861 1631h0M783 1836h0M860 1842h0M892 1829h0M887 1836h0M856 1836h0M716 1694h0M939 1724h0M774 1631h0M922 1700h0M948 1723h0M941 1724h0M833 1834h0M924 1775h0M913 1791h0M778 1822h0M853 1839h0M925 1782h0M852 1835h0M906 1802h0M883 1837h0M940 1754h0M862 1638h0M713 1794h0M947 1744h0M858 1832h0M786 1831h0M715 1689h0M923 1698h0M932 1713h0M937 1701h0M931 1749h0M681 1641h0M766 1649h0M886 1842h0M774 1826h0M740 1657h0M876 1835h0M932 1723h0M722 1664h0M771 1645h0M791 1638h0M689 1760h0M935 1710h0M903 1673h0M937 1723h0M796 1597h0M922 1770h0M772 1646h0M748 1665h0M752 1816h0M945 1732h0M804 1835h0M747 1807h0M792 1596h0M803 1633h0M757 1626h0M730 1660h0M794 1638h0M761 1642h0M666 1631h0M901 1824h0M890 1844h0M938 1752h0M850 1600h0M699 1790h0M683 1778h0M919 1809h0M813 1648h0M933 1765h0M723 1656h0M735 1677h0M892 1831h0M771 1639h0M713 1717h0M766 1618h0M942 1424h0M917 1518h0M753 1537h0M800 1458h0M847 1598h0M911 1550h0M756 1562h0M789 1472h0M865 1586h0M912 1504h0M911 1509h0M744 1502h0M745 1659h0M948 1423h0M921 1502h0M795 1592h0M779 1562h0M871 1383h0M759 1535h0M796 1439h0M924 1544h0M851 1630h0M925 1535h0M776 1553h0M886 1582h0M937 1456h0M929 1479h0M738 1540h0M756 1653h0M919 1529h0M788 1442h0M786 1503h0M750 1527h0M760 1572h0M862 1620h0M878 1585h0M897 1374h0M870 1626h0M866 1579h0M807 1417h0M919 1571h0M935 1553h0M769 1518h0M870 1410h0M772 1564h0M886 1589h0M874 1639h0M876 1403h0M865 1595h0M773 1448h0M941 1460h0M748 1501h0M898 1378h0M785 1477h0M762 1612h0M722 1538h0M819 1634h0M769 1508h0M753 1550h0M776 1535h0M931 1565h0M756 1553h0M876 1590h0M768 1530h0M759 1581h0M920 1499h0M936 1429h0M756 1497h0M810 1640h0M757 1520h0M908 1410h0M934 1423h0M757 1580h0M759 1513h0M768 1529h0M757 1490h0M911 1552h0M749 1488h0M848 1604h0M813 1418h0M844 1599h0M887 1650h0M737 1546h0M940 1463h0M858 1601h0M765 1540h0M785 1437h0M851 1383h0M778 1543h0M829 1414h0M781 1589h0M858 1378h0M785 1474h0M948 1457h0M753 1495h0M928 1524h0M873 1586h0M917 1541h0M950 1461h0M933 1439h0M760 1587h0M883 1588h0M870 1586h0M772 1511h0M761 1497h0M735 1539h0M773 1512h0M927 1549h0M770 1473h0M904 1575h0M756 1507h0M933 1557h0M922 1479h0M774 1570h0M771 1530h0M743 1500h0M936 1444h0M788 1531h0M795 1448h0M852 1605h0M712 1673h0M910 1557h0M932 1444h0M846 1602h0M785 1467h0M903 1396h0M781 1482h0M862 1392h0M929 1548h0M852 1624h0M792 1592h0M907 1589h0M770 1617h0M753 1536h0M779 1469h0M906 1552h0M953 1457h0M779 1469h0M751 1536h0M914 1576h0M944 1457h0M732 1524h0M775 1504h0M904 1402h0M758 1545h0M750 1496h0M915 1527h0M913 1512h0M947 1457h0M920 1493h0M935 1427h0M915 1551h0M919 1528h0M841 1605h0M781 1445h0M780 1516h0M779 1477h0M917 1510h0M905 1577h0M938 1471h0M744 1559h0M781 1593h0M848 1406h0M884 1396h0M922 1480h0M751 1482h0M759 1493h0M925 1510h0M764 1526h0M765 1599h0M901 1407h0M913 1419h0M928 1424h0M936 1413h0M881 1391h0M886 1396h0M917 1420h0M930 1424h0M932 1423h0M928 1428h0M574 1491h0M593 1607h0M625 1581h0M623 1549h0M626 1560h0M700 1466h0M521 1530h0M557 1561h0M636 1541h0M541 1506h0M634 1509h0M580 1571h0M658 1625h0M606 1478h0M583 1558h0M636 1572h0M640 1542h0M613 1486h0M601 1585h0M597 1592h0M595 1582h0M577 1570h0M643 1536h0M541 1501h0M587 1464h0M626 1543h0M525 1551h0M600 1566h0M537 1564h0M644 1525h0M536 1543h0M618 1556h0M651 1537h0M655 1563h0M653 1555h0M648 1528h0M639 1553h0M604 1645h0M517 1516h0M514 1522h0M560 1486h0M646 1520h0M608 1578h0M600 1589h0M621 1578h0M651 1548h0M570 1545h0M583 1578h0M591 1470h0M573 1469h0M622 1498h0M551 1591h0M512 1529h0M568 1582h0M579 1587h0M512 1561h0M533 1548h0M599 1475h0M574 1591h0M666 1548h0M613 1576h0M603 1554h0M511 1543h0M516 1542h0M599 1559h0M596 1627h0M609 1633h0M555 1577h0M571 1571h0M587 1482h0M529 1507h0M640 1507h0M653 1530h0M569 1542h0M545 1595h0M584 1549h0M643 1552h0M555 1483h0M512 1531h0M681 1476h0M646 1565h0M570 1568h0M595 1562h0M531 1527h0M598 1608h0M585 1555h0M626 1497h0M649 1516h0M674 1477h0M595 1576h0M570 1551h0M642 1546h0M556 1547h0M595 1457h0M537 1513h0M601 1573h0M538 1573h0M550 1496h0M516 1522h0M644 1544h0M527 1542h0M585 1480h0M535 1577h0M606 1548h0M517 1571h0M595 1480h0M537 1556h0M605 1479h0M549 1513h0M542 1592h0M600 1553h0M690 1477h0M604 1594h0M526 1534h0M521 1541h0M606 1549h0M560 1464h0M530 1507h0M565 1475h0M583 1476h0M649 1504h0M618 1474h0M546 1555h0M630 1577h0M545 1491h0M587 1551h0M528 1506h0M584 1464h0M573 1553h0M516 1508h0M555 1559h0M580 1542h0M561 1480h0M599 1555h0M609 1567h0M612 1589h0M548 1488h0M570 1552h0M611 1482h0M656 1555h0M512 1502h0M522 1581h0M533 1553h0M605 1655h0M590 1590h0M566 1462h0M605 1580h0M561 1568h0M555 1545h0M588 1598h0M523 1557h0M534 1562h0M626 1636h0M522 1574h0M570 1462h0M621 1552h0M525 1545h0M603 1548h0M547 1573h0M552 1474h0M645 1558h0M593 1470h0M533 1513h0M545 1518h0M631 1509h0M597 1811h0M572 1647h0M679 1658h0M546 1741h0M717 1680h0M577 1706h0M654 1773h0M699 1760h0M575 1780h0M694 1649h0M653 1622h0M646 1639h0M544 1717h0M553 1790h0M588 1686h0M570 1775h0M726 1643h0M585 1809h0M590 1638h0M591 1659h0M651 1652h0M686 1834h0M614 1640h0M597 1771h0M547 1740h0M700 1755h0M550 1755h0M620 1809h0M682 1778h0M579 1723h0M631 1805h0M710 1755h0M536 1734h0M578 1752h0M658 1763h0M664 1788h0M593 1688h0M560 1763h0M649 1772h0M657 1639h0M593 1796h0M700 1655h0M642 1637h0M598 1594h0M538 1578h0M577 1682h0M638 1785h0M530 1719h0M716 1690h0M684 1831h0M609 1649h0M566 1685h0M666 1646h0M650 1808h0M656 1757h0M534 1684h0M717 1799h0M634 1780h0M551 1672h0M559 1682h0M573 1588h0M578 1752h0M576 1670h0M586 1763h0M702 1716h0M540 1706h0M569 1713h0M650 1750h0M550 1766h0M581 1669h0M634 1624h0M594 1614h0M673 1768h0M703 1784h0M650 1655h0M552 1693h0M754 1638h0M569 1705h0M611 1793h0M571 1642h0M550 1759h0M702 1656h0M571 1685h0M716 1664h0M653 1648h0M567 1724h0M637 1630h0M628 1636h0M657 1779h0M586 1622h0M564 1701h0M581 1748h0M658 1646h0M611 1651h0M578 1763h0M573 1742h0M626 1639h0M681 1783h0M552 1758h0M659 1755h0M667 1665h0M579 1719h0M601 1802h0M645 1783h0M716 1788h0M674 1801h0M637 1627h0M627 1643h0M683 1789h0M612 1645h0M575 1774h0M716 1716h0M598 1816h0M676 1777h0M694 1731h0M702 1708h0M560 1761h0M617 1795h0M692 1775h0M533 1699h0M537 1695h0M656 1662h0M676 1790h0M579 1569h0M581 1816h0M694 1652h0M549 1700h0M610 1580h0M768 1645h0M637 1775h0M581 1633h0M535 1681h0M578 1677h0M574 1723h0M623 1799h0M687 1765h0M662 1788h0M656 1617h0M576 1707h0M649 1791h0M647 1652h0M689 1807h0M579 1639h0M665 1768h0M611 1649h0M571 1642h0M634 1560h0M685 1836h0M626 1791h0M563 1701h0M670 1644h0M634 1654h0M633 1552h0M682 1648h0M563 1581h0M610 1658h0M594 1663h0M647 1653h0M565 1695h0M686 1781h0M605 1799h0M525 1712h0M684 1801h0M632 1809h0M580 1789h0M597 1815h0M669 1620h0M597 1785h0M540 1708h0M651 1769h0M756 1820h0M584 1683h0M540 1732h0M695 1781h0M670 1630h0M558 1688h0M691 1655h0M644 1797h0M611 1809h0M630 1796h0M649 1793h0M670 1795h0M682 1756h0M550 1582h0M660 1626h0M632 1645h0M592 1773h0M693 1737h0M597 1763h0M571 1774h0M684 1807h0M675 1753h0M657 1561h0M553 1712h0M576 1701h0M636 1777h0M532 1715h0M582 1764h0M691 1658h0M540 1675h0M534 1672h0M636 1787h0M657 1789h0M555 1743h0M646 1781h0M659 1752h0M655 1795h0M629 1583h0M572 1776h0M542 1676h0M596 1634h0M573 1635h0M571 1752h0M579 1676h0M695 1738h0M561 1763h0M578 1671h0M729 1662h0M522 1696h0M625 1638h0M667 1791h0M524 1695h0M589 1619h0M588 1692h0M593 1816h0M548 1701h0M656 1628h0M655 1660h0M663 1643h0M578 1665h0M670 1791h0M675 1785h0M576 1643h0M672 1644h0M555 1713h0M583 1611h0M711 1674h0M568 1759h0M674 1802h0M605 1801h0M632 1655h0M649 1802h0M521 1687h0M535 1700h0M748 1652h0M595 1681h0M574 1670h0M615 1640h0M569 1722h0M590 1800h0M717 1642h0M573 1640h0M544 1685h0M564 1778h0M605 1597h0M569 1779h0M666 1669h0M526 1718h0M577 1670h0M532 1738h0M751 1639h0M700 1764h0M582 1653h0M697 1644h0M579 1787h0M597 1799h0M597 1812h0M691 1796h0M545 1716h0M568 1699h0M696 1755h0M577 1769h0M536 1694h0M591 1785h0M545 1755h0M709 1669h0M576 1731h0M632 1660h0M661 1799h0M653 1800h0M559 1786h0M708 1663h0M750 1522h0M880 1393h0M783 1519h0M802 1426h0M938 1553h0M744 1495h0M912 1591h0M689 1469h0M650 1633h0M711 1667h0M780 1639h0M771 1599h0M908 1570h0M848 1842h0M943 1454h0M923 1691h0M942 1451h0M733 1522h0M689 1463h0M762 1625h0M940 1555h0M654 1543h0M748 1649h0M767 1543h0M779 1560h0M776 1586h0M927 1577h0M665 1638h0M767 1498h0M853 1604h0M683 1660h0M724 1690h0M864 1640h0M883 1646h0M831 1832h0M917 1576h0M684 1466h0M778 1569h0M599 1621h0M745 1568h0M786 1481h0M761 1660h0M719 1694h0M760 1518h0M684 1753h0M647 1504h0M591 1762h0M761 1604h0M780 1531h0M764 1619h0M681 1473h0M767 1536h0M774 1460h0M761 1598h0M655 1618h0M780 1546h0M824 1832h0M779 1449h0M771 1598h0M643 1567h0M706 1660h0M780 1627h0M680 1639h0M630 1550h0M773 1553h0M729 1533h0M656 1549h0M724 1644h0M741 1514h0M812 1636h0M855 1391h0M796 1649h0M800 1443h0M705 1648h0M917 1582h0M744 1648h0M771 1548h0M750 1564h0M759 1586h0M716 1659h0M801 1637h0M771 1561h0M775 1493h0M765 1498h0M927 1571h0" stroke="#7a82c2"/>
<path d="M840 1643h0M733 1793h0M923 1758h0M885 1826h0M875 1826h0M892 1668h0M737 1772h0M861 1830h0M919 1716h0M786 1826h0M896 1802h0M728 1732h0M922 1720h0M922 1748h0M902 1688h0M776 1817h0M900 1667h0M836 1645h0M922 1730h0M844 1823h0M896 1669h0M727 1723h0M859 1649h0M885 1814h0M850 1822h0M914 1771h0M885 1816h0M914 1789h0M719 1757h0M874 1651h0M874 1655h0M817 1658h0M894 1662h0M726 1768h0M882 1823h0M737 1785h0M926 1709h0M930 1719h0M899 1676h0M919 1777h0M724 1703h0M740 1743h0M921 1769h0M776 1812h0M727 1791h0M818 1653h0M863 1652h0M916 1718h0M900 1804h0M913 1719h0M792 1654h0M708 1780h0M897 1805h0M768 1667h0M720 1759h0M734 1795h0M850 1824h0M728 1784h0M922 1725h0M864 1823h0M895 1802h0M868 1660h0M859 1823h0M876 1655h0M728 1768h0M926 1748h0M716 1733h0M878 1651h0M834 1648h0M789 1827h0M725 1752h0M800 1828h0M754 1679h0M789 1822h0M886 1829h0M925 1717h0M719 1740h0M901 1679h0M922 1746h0M880 1646h0M895 1804h0M850 1646h0M924 1750h0M740 1687h0M761 1676h0M740 1777h0M739 1787h0M903 1791h0M905 1698h0M751 1685h0M899 1670h0M701 1772h0M906 1795h0M738 1794h0M762 1667h0M846 1647h0M719 1771h0M808 1660h0M859 1647h0M828 1633h0M796 1589h0M838 1635h0M904 1686h0M821 1620h0M722 1716h0M776 1657h0M835 1616h0M735 1754h0M731 1771h0M852 1647h0M851 1826h0M879 1653h0M881 1829h0M841 1624h0M725 1744h0M921 1703h0M841 1657h0M738 1773h0M887 1826h0M781 1661h0M885 1830h0M729 1693h0M740 1797h0M834 1636h0M886 1816h0M738 1693h0M878 1653h0M784 1660h0M821 1609h0M928 1746h0M801 1658h0M726 1768h0M748 1679h0M726 1757h0M847 1631h0M746 1677h0M824 1605h0M883 1666h0M702 1684h0M867 1658h0M840 1614h0M817 1580h0M808 1630h0M785 1629h0M847 1661h0M807 1604h0M823 1621h0M753 1665h0M794 1615h0M714 1734h0M740 1785h0M795 1603h0M733 1747h0M745 1685h0M782 1625h0M885 1653h0M723 1711h0M912 1708h0M730 1745h0M885 1663h0M709 1674h0M844 1621h0M910 1696h0M917 1700h0M719 1755h0M726 1694h0M786 1612h0M825 1630h0M769 1815h0M832 1634h0M801 1628h0M776 1656h0M790 1657h0M807 1462h0M909 1541h0M903 1511h0M856 1562h0M855 1416h0M791 1572h0M847 1624h0M915 1473h0M847 1424h0M822 1466h0M837 1650h0M905 1503h0M897 1539h0M799 1463h0M806 1467h0M877 1539h0M817 1444h0M808 1603h0M800 1580h0M817 1422h0M902 1530h0M864 1413h0M800 1566h0M802 1572h0M825 1619h0M900 1512h0M854 1423h0M798 1516h0M840 1431h0M802 1444h0M822 1609h0M796 1573h0M797 1494h0M839 1588h0M836 1639h0M852 1420h0M807 1455h0M787 1533h0M928 1453h0M822 1591h0M884 1403h0M866 1560h0M814 1467h0M810 1433h0M880 1565h0M802 1586h0M843 1562h0M915 1487h0M870 1544h0M911 1464h0M795 1489h0M820 1582h0M835 1591h0M852 1401h0M799 1533h0M899 1508h0M915 1456h0M915 1462h0M883 1555h0M814 1425h0M833 1632h0M825 1612h0M918 1471h0M827 1592h0M885 1529h0M793 1545h0M899 1571h0M889 1578h0M815 1469h0M842 1420h0M892 1404h0M811 1448h0M867 1418h0M811 1614h0M811 1435h0M894 1560h0M914 1481h0M798 1579h0M887 1550h0M885 1543h0M897 1548h0M912 1462h0M845 1615h0M824 1461h0M902 1507h0M820 1619h0M872 1581h0M917 1432h0M885 1570h0M828 1600h0M814 1572h0M848 1638h0M806 1601h0M788 1542h0M863 1548h0M854 1578h0M852 1569h0M812 1614h0M873 1542h0M897 1401h0M896 1565h0M829 1630h0M840 1621h0M912 1433h0M908 1500h0M815 1422h0M894 1535h0M793 1578h0M889 1559h0M917 1447h0M801 1494h0M800 1489h0M875 1552h0M880 1660h0M828 1605h0M793 1573h0M840 1423h0M793 1508h0M797 1562h0M795 1491h0M810 1467h0M800 1463h0M888 1413h0M792 1526h0M838 1580h0M866 1417h0M818 1443h0M786 1612h0M878 1536h0M907 1531h0M928 1455h0M833 1415h0M882 1402h0M818 1425h0M896 1505h0M847 1629h0M833 1428h0M818 1435h0M789 1567h0M894 1563h0M788 1629h0M857 1580h0M847 1424h0M813 1573h0M816 1450h0M924 1454h0M793 1543h0M860 1413h0M870 1564h0M889 1568h0M894 1527h0M884 1546h0M873 1558h0M873 1581h0M823 1623h0M862 1646h0M803 1572h0M892 1536h0M796 1477h0M823 1575h0M910 1529h0M885 1562h0M852 1402h0M867 1550h0M787 1535h0M926 1436h0M841 1577h0M889 1570h0M814 1449h0M829 1426h0M882 1556h0M831 1585h0M809 1454h0M885 1574h0M816 1457h0M887 1563h0M799 1519h0M811 1626h0M899 1534h0M816 1593h0M899 1533h0M795 1543h0M835 1602h0M791 1559h0M896 1550h0M879 1549h0M892 1550h0M910 1540h0M864 1555h0M820 1435h0M793 1554h0M793 1549h0M811 1593h0M879 1564h0M804 1450h0M849 1573h0M918 1462h0M796 1537h0M846 1621h0M840 1575h0M829 1469h0M921 1488h0M860 1572h0M897 1509h0M851 1419h0M891 1543h0M814 1437h0M783 1612h0M917 1435h0M911 1431h0M816 1577h0M846 1426h0M782 1579h0M799 1536h0M909 1532h0M796 1489h0M860 1429h0M792 1494h0M823 1586h0M833 1573h0M852 1574h0M826 1424h0M907 1528h0M930 1439h0M865 1560h0M874 1532h0M874 1552h0M789 1553h0M854 1413h0M896 1515h0M928 1450h0M901 1509h0M786 1612h0M839 1426h0M871 1421h0M889 1410h0M926 1458h0M917 1433h0M879 1419h0M626 1503h0M535 1525h0M556 1519h0M557 1496h0M568 1493h0M614 1508h0M544 1535h0M598 1486h0M589 1525h0M556 1516h0M595 1550h0M564 1537h0M542 1538h0M568 1519h0M629 1521h0M587 1669h0M600 1510h0M538 1522h0M570 1497h0M636 1537h0M621 1522h0M614 1658h0M620 1531h0M601 1496h0M572 1494h0M629 1529h0M600 1549h0M623 1518h0M578 1521h0M566 1523h0M603 1489h0M610 1530h0M567 1486h0M588 1511h0M564 1495h0M577 1508h0M558 1523h0M558 1493h0M563 1493h0M562 1503h0M586 1524h0M589 1518h0M598 1492h0M555 1502h0M597 1507h0M627 1514h0M547 1537h0M573 1507h0M583 1503h0M615 1523h0M607 1491h0M582 1531h0M616 1506h0M566 1533h0M544 1524h0M588 1528h0M538 1534h0M571 1536h0M596 1522h0M574 1536h0M634 1521h0M637 1514h0M570 1515h0M577 1506h0M612 1526h0M586 1520h0M613 1498h0M587 1514h0M562 1489h0M604 1494h0M564 1518h0M619 1504h0M560 1497h0M581 1531h0M617 1504h0M603 1522h0M574 1495h0M605 1493h0M562 1495h0M546 1540h0M617 1510h0M635 1525h0M626 1513h0M641 1513h0M557 1531h0M609 1529h0M579 1529h0M595 1539h0M587 1527h0M583 1497h0M591 1492h0M555 1534h0M560 1505h0M639 1524h0M608 1501h0M539 1527h0M596 1539h0M556 1536h0M620 1538h0M572 1528h0M611 1524h0M617 1497h0M558 1503h0M612 1528h0M555 1497h0M578 1528h0M626 1525h0M558 1525h0M608 1482h0M546 1537h0M577 1502h0M586 1535h0M638 1534h0M566 1509h0M569 1510h0M600 1535h0M580 1536h0M625 1510h0M607 1525h0M590 1524h0M540 1534h0M558 1521h0M609 1491h0M636 1710h0M612 1715h0M636 1725h0M614 1791h0M634 1762h0M669 1718h0M675 1720h0M623 1711h0M690 1669h0M677 1726h0M665 1733h0M588 1745h0M603 1716h0M679 1717h0M674 1701h0M620 1690h0M620 1778h0M787 1615h0M640 1718h0M681 1688h0M584 1724h0M720 1733h0M584 1720h0M581 1671h0M592 1727h0M613 1670h0M640 1749h0M610 1754h0M605 1760h0M651 1715h0M640 1758h0M801 1659h0M685 1688h0M628 1741h0M633 1748h0M641 1683h0M687 1739h0M717 1747h0M697 1674h0M620 1730h0M607 1702h0M586 1720h0M713 1744h0M606 1736h0M629 1768h0M643 1672h0M603 1728h0M655 1676h0M677 1691h0M611 1746h0M583 1670h0M606 1671h0M615 1656h0M640 1728h0M676 1677h0M608 1670h0M583 1725h0M685 1678h0M637 1686h0M671 1722h0M705 1689h0M588 1710h0M750 1689h0M696 1684h0M589 1704h0M631 1742h0M686 1725h0M678 1697h0M682 1685h0M694 1716h0M677 1729h0M627 1680h0M658 1737h0M642 1694h0M705 1726h0M584 1667h0M609 1703h0M677 1671h0M641 1718h0M610 1789h0M627 1699h0M677 1744h0M615 1659h0M618 1763h0M637 1750h0M712 1758h0M683 1742h0M704 1772h0M781 1651h0M640 1695h0M589 1680h0M627 1739h0M632 1731h0M650 1738h0M670 1679h0M691 1663h0M614 1771h0M605 1782h0M672 1717h0M707 1695h0M609 1674h0M684 1727h0M642 1719h0M631 1712h0M605 1746h0M611 1693h0M597 1691h0M787 1615h0M610 1698h0M641 1753h0M638 1718h0M615 1748h0M611 1787h0M665 1743h0M681 1684h0M647 1689h0M635 1753h0M633 1743h0M662 1743h0M617 1681h0M671 1720h0M694 1690h0M606 1668h0M685 1689h0M654 1713h0M676 1682h0M668 1687h0M706 1694h0M623 1674h0M657 1716h0M600 1747h0M699 1712h0M598 1748h0M617 1763h0M586 1759h0M635 1740h0M690 1673h0M708 1770h0M602 1702h0M631 1685h0M660 1697h0M667 1759h0M621 1757h0M612 1674h0M677 1725h0M627 1774h0M683 1697h0M606 1716h0M619 1709h0M632 1710h0M597 1748h0M718 1770h0M693 1683h0M613 1790h0M680 1670h0M614 1766h0M688 1730h0M618 1689h0M582 1680h0M667 1680h0M680 1749h0M693 1721h0M665 1741h0M631 1710h0M641 1705h0M628 1752h0M715 1779h0M662 1692h0M632 1702h0M598 1733h0M612 1758h0M660 1737h0M595 1741h0M612 1676h0M599 1749h0M616 1711h0M676 1673h0M684 1702h0M604 1722h0M618 1764h0M659 1734h0M716 1748h0M646 1674h0M673 1730h0M621 1662h0M629 1728h0M710 1696h0M627 1672h0M595 1708h0M712 1724h0M650 1709h0M682 1739h0M615 1789h0M594 1746h0M617 1765h0M667 1694h0M685 1674h0M637 1731h0M701 1724h0M677 1718h0M595 1703h0M641 1695h0M626 1713h0M618 1696h0M633 1704h0M591 1708h0M585 1752h0M609 1787h0M688 1728h0M650 1667h0M646 1681h0M615 1731h0M691 1708h0M611 1697h0M669 1735h0M600 1729h0M604 1693h0M660 1702h0M679 1670h0M697 1690h0M604 1783h0M691 1722h0M678 1697h0M618 1705h0M595 1727h0M741 1674h0M634 1690h0M741 1693h0M600 1741h0M631 1727h0M589 1714h0M666 1720h0M629 1664h0M597 1730h0M667 1729h0M633 1737h0M614 1743h0M691 1662h0M615 1717h0M749 1796h0M606 1678h0M609 1780h0M707 1727h0M650 1708h0M610 1755h0M623 1670h0M592 1736h0M670 1760h0M695 1692h0M595 1748h0M621 1732h0M649 1719h0M630 1770h0M651 1694h0M669 1742h0M696 1699h0M623 1729h0M712 1767h0M595 1536h0M662 1695h0M677 1667h0M643 1663h0M679 1746h0M649 1721h0M641 1665h0M586 1713h0M655 1673h0M606 1709h0M681 1700h0M625 1712h0M758 1663h0M663 1724h0M652 1699h0M634 1681h0M615 1768h0M614 1713h0M583 1719h0M660 1697h0M606 1690h0M625 1731h0M676 1673h0M627 1758h0M582 1751h0M618 1747h0M707 1684h0M642 1680h0M618 1752h0M616 1733h0M688 1681h0M718 1765h0M683 1735h0M674 1705h0M614 1669h0M600 1708h0M648 1703h0M670 1757h0M689 1715h0M708 1775h0M651 1664h0M587 1742h0M609 1677h0M699 1716h0M703 1773h0M640 1769h0M624 1666h0M729 1736h0M603 1688h0M618 1750h0M700 1701h0M608 1701h0M724 1713h0M630 1701h0M685 1748h0M661 1717h0M621 1751h0M617 1746h0M793 1525h0M717 1773h0M668 1696h0M798 1490h0M698 1727h0M649 1682h0M863 1829h0M665 1743h0M805 1628h0M663 1735h0M651 1747h0M907 1415h0M823 1572h0M822 1593h0M822 1614h0M730 1731h0M814 1601h0M759 1810h0M816 1609h0M819 1625h0M846 1638h0M795 1502h0M714 1752h0M589 1745h0M808 1455h0M656 1711h0M808 1574h0M826 1636h0M810 1591h0M829 1613h0M791 1620h0M782 1612h0M828 1430h0M887 1578h0M633 1533h0M814 1579h0M772 1656h0M621 1728h0M853 1632h0M788 1532h0M747 1798h0M840 1614h0M880 1661h0M797 1625h0M786 1625h0M848 1639h0M809 1612h0M749 1682h0M844 1575h0M700 1692h0M817 1592h0M793 1611h0M734 1783h0M815 1587h0M851 1651h0M914 1710h0M756 1803h0M927 1731h0M788 1579h0M685 1675h0M795 1611h0M765 1669h0M834 1578h0" stroke="#5e6ab2"/>
<path d="M859 1661h0M732 1732h0M748 1773h0M754 1691h0M910 1707h0M784 1814h0M805 1666h0M745 1743h0M908 1782h0M918 1724h0M814 1824h0M770 1682h0M744 1773h0M903 1705h0M901 1780h0M899 1683h0M884 1802h0M876 1674h0M777 1678h0M742 1707h0M806 1824h0M748 1777h0M753 1789h0M745 1784h0M745 1699h0M903 1772h0M763 1801h0M890 1805h0M908 1704h0M771 1803h0M742 1777h0M905 1791h0M831 1660h0M881 1680h0M782 1669h0M768 1680h0M912 1737h0M892 1691h0M899 1698h0M765 1691h0M893 1793h0M765 1681h0M904 1791h0M837 1821h0M895 1689h0M757 1708h0M756 1799h0M873 1680h0M888 1810h0M921 1733h0M735 1713h0M745 1703h0M843 1665h0M840 1660h0M879 1661h0M747 1772h0M820 1830h0M902 1783h0M748 1777h0M735 1712h0M783 1666h0M765 1681h0M743 1693h0M763 1673h0M888 1676h0M754 1708h0M860 1665h0M851 1665h0M896 1684h0M867 1666h0M880 1681h0M903 1773h0M741 1705h0M809 1664h0M912 1755h0M734 1703h0M887 1679h0M817 1553h0M903 1703h0M916 1757h0M756 1707h0M890 1801h0M824 1655h0M898 1697h0M805 1559h0M749 1789h0M738 1706h0M811 1824h0M918 1722h0M765 1802h0M805 1824h0M778 1666h0M809 1485h0M910 1445h0M899 1483h0M883 1505h0M829 1448h0M882 1430h0M825 1556h0M868 1525h0M860 1545h0M905 1483h0M907 1475h0M805 1472h0M883 1521h0M849 1546h0M873 1525h0M834 1560h0M819 1521h0M871 1532h0M816 1547h0M803 1471h0M838 1454h0M817 1483h0M830 1435h0M839 1452h0M901 1488h0M860 1445h0M900 1489h0M878 1503h0M838 1448h0M849 1550h0M822 1454h0M848 1550h0M866 1516h0M908 1463h0M902 1489h0M839 1472h0M877 1524h0M863 1424h0M813 1514h0M824 1564h0M910 1465h0M817 1487h0M886 1509h0M850 1455h0M901 1435h0M841 1468h0M907 1465h0M904 1440h0M805 1500h0M809 1570h0M888 1517h0M832 1463h0M833 1440h0M901 1415h0M877 1516h0M815 1480h0M878 1511h0M887 1424h0M801 1669h0M825 1454h0M801 1486h0M834 1454h0M873 1515h0M857 1529h0M837 1439h0M859 1544h0M802 1548h0M843 1554h0M847 1532h0M805 1534h0M848 1548h0M863 1526h0M842 1439h0M819 1552h0M875 1527h0M872 1522h0M860 1542h0M839 1448h0M839 1443h0M867 1534h0M806 1520h0M823 1553h0M844 1553h0M891 1484h0M835 1562h0M822 1458h0M890 1515h0M829 1559h0M824 1434h0M846 1560h0M832 1472h0M874 1516h0M808 1522h0M858 1561h0M839 1467h0M882 1521h0M801 1482h0M810 1563h0M841 1446h0M808 1531h0M822 1443h0M844 1453h0M831 1445h0M840 1456h0M812 1485h0M881 1503h0M809 1545h0M891 1412h0M834 1450h0M906 1436h0M849 1446h0M824 1660h0M859 1545h0M892 1417h0M809 1484h0M901 1430h0M879 1527h0M828 1472h0M807 1481h0M812 1476h0M844 1431h0M803 1556h0M875 1521h0M804 1474h0M860 1444h0M887 1426h0M842 1529h0M835 1570h0M909 1430h0M846 1543h0M810 1517h0M820 1495h0M819 1557h0M882 1509h0M817 1558h0M810 1567h0M861 1527h0M834 1441h0M891 1490h0M904 1480h0M850 1452h0M803 1551h0M852 1542h0M858 1544h0M805 1532h0M888 1504h0M804 1504h0M821 1502h0M811 1487h0M832 1565h0M880 1516h0M831 1459h0M813 1511h0M820 1486h0M820 1476h0M875 1501h0M896 1429h0M856 1529h0M869 1514h0M843 1528h0M876 1424h0M856 1530h0M904 1429h0M883 1485h0M895 1419h0M894 1416h0M906 1461h0M905 1455h0M904 1445h0M874 1507h0M905 1466h0M873 1498h0M608 1502h0M606 1519h0M605 1502h0M603 1512h0M593 1519h0M595 1515h0M593 1518h0M608 1508h0M737 1715h0M763 1677h0M750 1756h0M750 1700h0M740 1708h0M732 1707h0M814 1548h0M812 1551h0M889 1496h0M823 1479h0M808 1543h0M798 1669h0M746 1756h0M824 1556h0M779 1671h0M820 1566h0M806 1550h0M817 1486h0M772 1679h0M815 1515h0M902 1711h0M759 1688h0M831 1460h0M733 1740h0" stroke="#4c5aa6"/>
<path d="M770 1784h0M750 1724h0M851 1819h0M839 1667h0M853 1815h0M864 1817h0M790 1679h0M759 1779h0M893 1785h0M745 1735h0M879 1684h0M907 1732h0M759 1777h0M878 1681h0M864 1815h0M867 1672h0M751 1714h0M801 1814h0M902 1759h0M769 1794h0M758 1765h0M755 1754h0M889 1795h0M766 1787h0M883 1685h0M767 1784h0M781 1805h0M754 1763h0M909 1765h0M760 1720h0M773 1807h0M837 1812h0M743 1722h0M888 1688h0M864 1816h0M749 1724h0M910 1736h0M850 1819h0M896 1702h0M903 1732h0M899 1708h0M792 1679h0M762 1696h0M756 1771h0M761 1708h0M809 1821h0M865 1674h0M905 1726h0M838 1815h0M905 1759h0M905 1769h0M743 1732h0M867 1814h0M903 1752h0M898 1789h0M815 1663h0M884 1796h0M749 1731h0M780 1808h0M885 1682h0M864 1818h0M804 1817h0M750 1713h0M770 1697h0M799 1679h0M906 1755h0M750 1729h0M895 1789h0M863 1820h0M886 1794h0M793 1679h0M837 1665h0M822 1665h0M742 1716h0M882 1699h0M906 1737h0M883 1700h0M758 1774h0M888 1689h0M767 1791h0M756 1718h0M859 1816h0M878 1691h0M745 1727h0M808 1819h0M875 1807h0M890 1698h0M766 1791h0M874 1687h0M788 1678h0M767 1691h0M793 1671h0M853 1819h0M825 1662h0M771 1804h0M865 1679h0M774 1685h0M826 1482h0M845 1490h0M847 1481h0M818 1526h0M846 1486h0M856 1470h0M822 1542h0M851 1509h0M825 1524h0M838 1550h0M848 1481h0M852 1475h0M831 1532h0M837 1495h0M820 1536h0M871 1448h0M874 1438h0M860 1487h0M853 1468h0M833 1491h0M839 1509h0M825 1524h0M856 1486h0M833 1533h0M874 1436h0M900 1449h0M827 1541h0M837 1533h0M895 1432h0M885 1466h0M824 1550h0M831 1546h0M879 1483h0M861 1465h0M840 1496h0M885 1466h0M821 1518h0M827 1511h0M844 1521h0M864 1493h0M853 1466h0M895 1475h0M833 1488h0M827 1541h0M828 1533h0M869 1451h0M818 1537h0M843 1512h0M875 1435h0M824 1491h0M900 1480h0M814 1530h0M837 1548h0M821 1506h0M868 1495h0M828 1482h0M865 1446h0M858 1459h0M838 1495h0M868 1462h0M897 1438h0M858 1458h0M897 1477h0M876 1437h0M879 1486h0M819 1526h0M824 1540h0M816 1522h0M827 1514h0M899 1440h0M837 1486h0M844 1484h0M839 1506h0M835 1531h0M825 1509h0M851 1452h0M825 1527h0M872 1442h0M878 1474h0M882 1435h0M857 1476h0M892 1443h0M867 1462h0M829 1503h0M891 1438h0M875 1443h0M861 1461h0M893 1435h0M890 1479h0M861 1489h0M875 1451h0M891 1451h0M821 1506h0M894 1440h0M862 1498h0M852 1498h0M894 1466h0M858 1496h0M862 1461h0M881 1445h0M868 1459h0M896 1434h0M858 1507h0M897 1458h0M865 1445h0M900 1449h0M851 1471h0M899 1453h0M842 1517h0M843 1488h0M892 1476h0M891 1468h0M871 1473h0M837 1522h0M852 1467h0M745 1726h0M755 1721h0M753 1763h0M750 1738h0M831 1497h0M854 1680h0M816 1670h0M835 1548h0M784 1680h0" stroke="#4272a8"/>
<path d="M823 1818h0M769 1779h0M894 1721h0M880 1800h0M861 1805h0M899 1716h0M898 1779h0M868 1684h0M759 1747h0M827 1678h0M843 1680h0M800 1802h0M864 1686h0M879 1700h0M792 1689h0M900 1728h0M782 1810h0M802 1680h0M815 1672h0M878 1696h0M766 1775h0M869 1806h0M811 1672h0M894 1761h0M798 1685h0M863 1804h0M799 1687h0M874 1795h0M821 1815h0M794 1688h0M887 1705h0M785 1687h0M837 1677h0M862 1690h0M894 1712h0M805 1680h0M753 1724h0M880 1698h0M759 1730h0M867 1801h0M826 1812h0M885 1786h0M753 1748h0M779 1796h0M773 1800h0M898 1722h0M794 1689h0M881 1785h0M780 1696h0M837 1678h0M790 1686h0M791 1686h0M822 1820h0M756 1727h0M821 1812h0M802 1679h0M802 1671h0M895 1728h0M886 1782h0M786 1804h0M791 1802h0M800 1686h0M826 1812h0M843 1676h0M833 1673h0M810 1678h0M815 1674h0M790 1685h0M792 1809h0M889 1444h0M844 1501h0M843 1499h0M874 1463h0M871 1477h0M890 1449h0M867 1479h0M890 1451h0M843 1504h0M867 1473h0M848 1491h0M847 1505h0M884 1447h0M883 1443h0M842 1505h0M889 1452h0M884 1443h0M881 1456h0M875 1464h0M875 1456h0M847 1496h0M862 1474h0M828 1679h0M892 1762h0" stroke="#40949c"/>
<path d="M889 1743h0M778 1773h0M803 1694h0M787 1786h0M813 1695h0M764 1769h0M850 1690h0M892 1734h0M792 1795h0M808 1806h0M867 1796h0M848 1682h0M778 1788h0M879 1788h0M853 1800h0M823 1808h0M823 1693h0M772 1703h0M886 1718h0M888 1763h0M887 1721h0M835 1806h0M764 1746h0M856 1791h0M766 1743h0M782 1782h0M866 1799h0M887 1777h0M779 1713h0M788 1791h0M825 1803h0M851 1693h0M766 1737h0M883 1712h0M863 1692h0M882 1770h0M817 1806h0M769 1729h0M784 1795h0M817 1690h0M817 1808h0M762 1762h0M812 1808h0M882 1740h0M766 1730h0M857 1802h0M860 1799h0M813 1691h0M880 1778h0M860 1684h0M782 1701h0M894 1757h0M830 1689h0M778 1709h0M779 1779h0M862 1693h0M887 1719h0M790 1703h0M768 1750h0M839 1684h0M800 1796h0M791 1796h0M877 1709h0M898 1754h0M810 1688h0M771 1716h0M872 1773h0M837 1688h0M787 1786h0M815 1698h0M778 1790h0M876 1784h0M891 1760h0M858 1687h0M820 1802h0M789 1786h0M771 1744h0M792 1792h0M857 1795h0M890 1775h0M884 1740h0M870 1795h0M776 1719h0M859 1697h0M855 1809h0M774 1706h0M852 1683h0M853 1690h0M801 1696h0M784 1698h0M803 1804h0M804 1808h0M795 1792h0M799 1798h0M773 1778h0M822 1807h0M831 1683h0M810 1685h0M782 1783h0M869 1795h0M891 1727h0M881 1767h0M828 1811h0M778 1775h0M803 1685h0M834 1683h0M818 1802h0M778 1772h0M896 1747h0M894 1758h0M854 1690h0M863 1799h0M779 1765h0M781 1697h0M808 1696h0M846 1693h0M898 1741h0M888 1766h0M774 1702h0M899 1734h0M842 1685h0M766 1759h0M788 1801h0M764 1723h0M791 1695h0M882 1773h0M766 1725h0M788 1698h0M817 1685h0M865 1696h0M791 1700h0M793 1701h0M874 1709h0" stroke="#44a860"/>
<path d="M866 1716h0M867 1715h0M879 1721h0M878 1730h0M865 1701h0M780 1729h0M843 1793h0M789 1774h0M880 1717h0M797 1774h0M800 1771h0M878 1717h0M780 1746h0M775 1730h0M810 1784h0M793 1719h0M816 1800h0M781 1761h0M815 1702h0M855 1784h0M850 1706h0M878 1713h0M802 1707h0M852 1776h0M859 1711h0M792 1716h0M877 1724h0M810 1798h0M869 1768h0M817 1705h0M839 1703h0M877 1751h0M801 1800h0M863 1706h0M780 1724h0M776 1747h0M812 1796h0M808 1782h0M856 1707h0M771 1729h0M880 1765h0M807 1705h0M801 1706h0M869 1706h0M859 1780h0M792 1703h0M838 1708h0M869 1716h0M864 1776h0M837 1791h0M871 1761h0M878 1727h0M801 1772h0M879 1750h0M873 1738h0M793 1775h0M841 1793h0M840 1711h0M834 1692h0M802 1708h0M876 1737h0M819 1797h0M875 1742h0M866 1719h0M838 1800h0M875 1762h0M811 1704h0M791 1762h0M841 1794h0M865 1721h0M776 1760h0M777 1727h0M819 1795h0M809 1789h0M790 1781h0M852 1789h0M817 1703h0M776 1746h0M786 1772h0M775 1723h0M795 1787h0M835 1798h0M792 1777h0M876 1737h0M879 1731h0M800 1789h0M773 1759h0M835 1699h0M778 1752h0M853 1780h0M797 1701h0M803 1796h0M875 1762h0M879 1767h0M783 1776h0M872 1748h0M787 1724h0M881 1768h0M783 1723h0M784 1716h0M868 1719h0M873 1720h0M776 1732h0M851 1707h0M832 1706h0M881 1735h0M871 1751h0M850 1706h0" stroke="#5cb840"/>
<path d="M801 1714h0M861 1722h0M863 1728h0M826 1785h0M799 1769h0M793 1761h0M841 1784h0M835 1781h0M860 1769h0M815 1716h0M820 1719h0M844 1779h0M787 1745h0M799 1761h0M869 1756h0M829 1785h0M784 1736h0M820 1714h0M866 1727h0M804 1720h0M855 1761h0M836 1784h0M844 1777h0M862 1761h0M871 1757h0M857 1714h0M837 1719h0M820 1779h0M803 1773h0M801 1757h0M865 1735h0M850 1780h0M811 1780h0M825 1785h0M834 1716h0M821 1717h0M783 1757h0M795 1757h0M816 1772h0M822 1782h0M806 1716h0M847 1777h0M823 1720h0M827 1785h0M849 1712h0M815 1779h0M868 1732h0M851 1781h0M793 1769h0M868 1735h0M785 1758h0M788 1746h0M829 1787h0M841 1790h0M868 1721h0M828 1783h0M864 1739h0M816 1771h0M823 1717h0M847 1715h0M870 1759h0M784 1742h0M804 1771h0M844 1712h0" stroke="#98c834"/>
<path d="M858 1726h0M857 1748h0M802 1724h0M855 1748h0M858 1736h0M795 1734h0M792 1732h0M857 1746h0M794 1744h0M858 1730h0M793 1740h0M795 1745h0M835 1776h0M855 1744h0M859 1761h0M857 1726h0M853 1758h0M858 1748h0M858 1740h0M855 1748h0M795 1744h0" stroke="#d8d22c"/>
<path d="M830 1780h0M811 1770h0M821 1730h0M828 1779h0M840 1722h0M849 1762h0M846 1768h0M839 1728h0M848 1770h0M849 1764h0M816 1722h0M821 1762h0M830 1727h0M825 1773h0M831 1780h0M820 1727h0" stroke="#f0a026"/>
<path d="M851 1736h0M832 1765h0M837 1770h0M849 1749h0M842 1757h0M833 1763h0M833 1762h0M804 1738h0M806 1738h0M846 1738h0M824 1762h0M834 1766h0M846 1756h0M843 1741h0M823 1761h0M848 1754h0M850 1743h0M835 1768h0M847 1740h0M803 1734h0M837 1766h0" stroke="#ee6420"/>
<path d="M837 1753h0M826 1736h0M815 1738h0M829 1741h0M832 1755h0M836 1731h0M838 1735h0M826 1760h0M812 1747h0M835 1740h0M829 1739h0M814 1746h0M821 1758h0M827 1745h0M834 1751h0M839 1734h0M839 1757h0M817 1750h0M819 1749h0M820 1742h0M819 1748h0M813 1736h0" stroke="#e6261c"/>
<path d="M1726 1867h0M1743 1882h0M1617 1826h0M1621 1813h0M1744 1852h0M1821 1814h0M1606 1647h0M1695 1841h0M1842 1765h0M1701 1855h0M1861 1760h0M1636 1865h0M1724 1873h0M1845 1687h0M1870 1804h0M1850 1708h0M1582 1798h0M1847 1841h0M1849 1794h0M1715 1869h0M1788 1837h0M1841 1739h0M1806 1877h0M1874 1746h0M1680 1858h0M1885 1754h0M1905 1667h0M1588 1637h0M1568 1635h0M1830 1814h0M1846 1622h0M1819 1798h0M1591 1826h0M1807 1825h0M1852 1757h0M1631 1842h0M1615 1817h0M1869 1709h0M1855 1773h0M1822 1802h0M1831 1810h0M1850 1834h0M1832 1680h0M1856 1411h0M1892 1452h0M1902 1425h0M1853 1531h0M1873 1431h0M1841 1383h0M1879 1448h0M1848 1381h0M1872 1419h0M1619 1563h0M1854 1370h0M1879 1445h0M1835 1399h0M1843 1386h0M1881 1460h0M1829 1387h0M1825 1384h0M1874 1481h0M1851 1625h0M1842 1565h0M1560 1424h0M1843 1542h0M1856 1527h0M1737 1353h0M1739 1384h0M1692 1413h0M1848 1511h0M1732 1420h0M1716 1421h0M1786 1352h0M1650 1449h0M1840 1546h0M1850 1583h0M1752 1408h0M1889 1409h0M1839 1548h0M1748 1339h0M1606 1465h0M1602 1442h0M1607 1436h0M1716 1399h0M1782 1337h0M1621 1625h0M1715 1334h0M1810 1597h0M1824 1576h0M1757 1400h0M1877 1489h0M1778 1401h0M1630 1468h0M1637 1457h0M1777 1350h0M1685 1416h0M1856 1588h0M1712 1391h0M1722 1387h0M1705 1358h0M1615 1448h0M1671 1392h0M1714 1374h0M1819 1669h0M1715 1359h0M1816 1567h0M1631 1449h0M1834 1647h0M1588 1363h0M1638 1442h0M1846 1559h0M1827 1583h0M1699 1285h0M1649 1436h0M1606 1466h0M1672 1395h0M1830 1567h0M1884 1606h0M1663 1409h0M1828 1679h0M1610 1460h0M1573 1544h0M1393 1479h0M1374 1498h0M1444 1491h0M1411 1532h0M1349 1408h0M1480 1432h0M1484 1433h0M1437 1566h0M1420 1663h0M1485 1479h0M1396 1443h0M1342 1418h0M1310 1477h0M1576 1427h0M1555 1449h0M1477 1459h0M1413 1462h0M1443 1535h0M1435 1417h0M1455 1470h0M1577 1449h0M1611 1458h0M1581 1434h0M1559 1470h0M1437 1428h0M1602 1519h0M1374 1537h0M1438 1568h0M1558 1449h0M1445 1402h0M1574 1385h0M1558 1425h0M1442 1508h0M1417 1618h0M1530 1418h0M1515 1596h0M1512 1418h0M1425 1435h0M1508 1537h0M1496 1374h0M1428 1528h0M1427 1585h0M1388 1533h0M1445 1479h0M1465 1444h0M1368 1480h0M1520 1437h0M1439 1602h0M1436 1472h0M1433 1498h0M1492 1467h0M1581 1440h0M1438 1586h0M1434 1546h0M1446 1565h0M1443 1523h0M1437 1446h0M1484 1453h0M1416 1548h0M1410 1537h0M1458 1552h0M1430 1459h0M1413 1506h0M1443 1422h0M1558 1602h0M1592 1518h0M1359 1549h0M1498 1431h0M1351 1586h0M1622 1658h0M1579 1477h0M1466 1582h0M1403 1527h0M1430 1504h0M1402 1453h0M1454 1435h0M1425 1548h0M1523 1441h0M1402 1472h0M1463 1441h0M1498 1445h0M1607 1521h0M1557 1460h0M1444 1416h0M1509 1417h0M1555 1549h0M1409 1457h0M1593 1478h0M1451 1398h0M1388 1412h0M1493 1411h0M1560 1399h0M1506 1369h0M1414 1423h0M1421 1510h0M1458 1583h0M1421 1419h0M1421 1400h0M1454 1558h0M1417 1490h0M1437 1535h0M1508 1437h0M1433 1503h0M1580 1663h0M1459 1609h0M1403 1583h0M1413 1488h0M1413 1566h0M1506 1834h0M1619 1862h0M1569 1784h0M1495 1749h0M1499 1815h0M1419 1734h0M1564 1491h0M1503 1814h0M1440 1771h0M1535 1831h0M1486 1825h0M1410 1678h0M1424 1771h0M1434 1672h0M1429 1749h0M1390 1759h0M1429 1589h0M1450 1620h0M1476 1801h0M1575 1650h0M1447 1639h0M1403 1792h0M1390 1627h0M1457 1703h0M1554 1822h0M1508 1845h0M1559 1813h0M1577 1652h0M1501 1902h0M1445 1744h0M1380 1577h0M1451 1917h0M1316 1711h0M1439 1695h0M1365 1612h0M1430 1792h0M1387 1875h0M1371 1713h0M1594 1820h0M1594 1828h0M1446 1763h0M1453 1612h0M1586 1831h0M1426 1775h0M1521 1850h0M1364 1706h0M1432 1783h0M1448 1715h0M1447 1707h0M1434 1625h0M1474 1673h0M1410 1694h0M1406 1737h0M1376 1854h0M1462 1694h0M1533 1824h0M1487 1835h0M1581 1787h0M1570 1813h0M1430 1750h0M1374 1583h0M1427 1739h0M1443 1582h0M1434 1723h0M1393 1801h0M1429 1602h0M1432 1785h0M1585 1845h0M1457 1779h0M1418 1763h0M1481 1747h0M1434 1803h0M1466 1862h0M1449 1870h0M1476 1901h0M1459 1688h0M1431 1701h0M1510 1818h0M1454 1800h0M1430 1652h0M1568 1604h0M1465 1799h0M1595 1644h0M1519 1879h0M1570 1893h0M1433 1637h0M1442 1848h0M1442 1729h0M1489 1803h0M1511 1880h0M1408 1797h0M1480 1804h0M1601 1669h0M1450 1653h0M1438 1761h0M1623 1859h0M1392 1673h0M1518 1812h0M1403 1708h0M1389 1634h0M1593 1808h0M1512 1802h0M1408 1637h0M1529 1852h0M1446 1663h0M1523 1858h0M1467 1837h0M1398 1674h0M1409 1801h0M1354 1786h0M1559 1622h0M1384 1739h0M1494 1758h0M1549 1823h0M1477 1872h0M1602 1649h0M1559 1914h0M1430 1843h0M1501 1903h0M1492 1807h0M1437 1686h0M1360 1664h0M1611 1630h0M1435 1701h0M1506 1883h0M1438 1740h0M1459 1768h0M1443 1709h0M1343 1848h0M1462 1652h0M1491 1849h0M1599 1642h0M1412 1703h0M1460 1675h0M1591 1850h0M1539 1848h0M1424 1710h0M1437 1612h0M1819 1624h0M1630 1399h0M1871 1619h0M1596 1628h0M1608 1496h0M1601 1625h0M1826 1840h0M1832 1641h0M1590 1660h0M1694 1870h0M1559 1786h0M1613 1830h0M1873 1622h0M1595 1624h0M1889 1546h0M1692 1389h0M1771 1327h0M1827 1620h0M1642 1469h0M1569 1614h0M1901 1574h0M1628 1649h0M1623 1418h0M1854 1606h0M1578 1639h0M1645 1832h0M1598 1673h0M1679 1359h0M1566 1645h0M1855 1712h0M1823 1610h0M1717 1373h0" stroke="#a4a4d4" stroke-opacity=".70"/>
<path d="M1630 1805h0M1639 1823h0M1822 1734h0M1623 1805h0M1824 1763h0M1798 1818h0M1664 1836h0M1686 1644h0M1793 1813h0M1751 1629h0M1814 1790h0M1724 1848h0M1599 1741h0M1607 1693h0M1819 1719h0M1820 1772h0M1777 1833h0M1829 1733h0M1655 1648h0M1761 1650h0M1671 1834h0M1644 1819h0M1799 1809h0M1818 1724h0M1598 1749h0M1836 1719h0M1583 1673h0M1591 1718h0M1646 1618h0M1769 1606h0M1814 1651h0M1831 1722h0M1600 1754h0M1621 1583h0M1594 1744h0M1809 1694h0M1783 1649h0M1813 1693h0M1786 1653h0M1829 1736h0M1809 1659h0M1821 1736h0M1636 1807h0M1633 1669h0M1798 1658h0M1668 1647h0M1757 1633h0M1819 1708h0M1543 1777h0M1667 1649h0M1722 1843h0M1788 1634h0M1807 1590h0M1769 1836h0M1834 1704h0M1801 1633h0M1804 1659h0M1761 1643h0M1600 1779h0M1601 1763h0M1606 1708h0M1823 1691h0M1532 1760h0M1831 1715h0M1548 1719h0M1654 1648h0M1802 1673h0M1572 1686h0M1647 1634h0M1753 1846h0M1685 1611h0M1681 1635h0M1628 1645h0M1560 1695h0M1792 1635h0M1655 1630h0M1823 1687h0M1810 1626h0M1608 1748h0M1819 1771h0M1774 1610h0M1824 1696h0M1587 1681h0M1810 1636h0M1606 1768h0M1623 1677h0M1768 1648h0M1824 1781h0M1789 1633h0M1636 1816h0M1810 1618h0M1799 1658h0M1758 1638h0M1760 1633h0M1592 1789h0M1820 1702h0M1825 1779h0M1561 1736h0M1631 1668h0M1816 1800h0M1867 1456h0M1859 1418h0M1844 1505h0M1865 1426h0M1876 1471h0M1629 1587h0M1820 1405h0M1721 1425h0M1852 1440h0M1844 1403h0M1859 1481h0M1864 1481h0M1711 1437h0M1836 1409h0M1865 1419h0M1846 1411h0M1850 1473h0M1874 1442h0M1875 1461h0M1749 1415h0M1850 1511h0M1852 1414h0M1873 1479h0M1850 1496h0M1843 1529h0M1858 1431h0M1717 1434h0M1817 1401h0M1842 1415h0M1866 1421h0M1866 1460h0M1869 1445h0M1835 1523h0M1643 1577h0M1642 1577h0M1664 1603h0M1835 1421h0M1617 1609h0M1631 1485h0M1613 1481h0M1759 1623h0M1758 1421h0M1808 1638h0M1632 1536h0M1626 1543h0M1669 1434h0M1780 1632h0M1632 1553h0M1682 1430h0M1676 1431h0M1862 1480h0M1645 1590h0M1634 1472h0M1691 1434h0M1629 1540h0M1627 1510h0M1638 1614h0M1597 1569h0M1795 1596h0M1615 1463h0M1621 1599h0M1680 1435h0M1726 1430h0M1745 1412h0M1807 1628h0M1613 1486h0M1635 1498h0M1703 1439h0M1645 1617h0M1800 1650h0M1655 1628h0M1628 1540h0M1525 1540h0M1624 1514h0M1619 1517h0M1678 1440h0M1652 1471h0M1732 1422h0M1615 1573h0M1771 1631h0M1684 1426h0M1756 1421h0M1788 1621h0M1765 1615h0M1791 1627h0M1621 1487h0M1646 1478h0M1617 1477h0M1814 1634h0M1633 1484h0M1808 1621h0M1608 1539h0M1804 1605h0M1805 1620h0M1839 1511h0M1632 1558h0M1668 1613h0M1613 1539h0M1843 1514h0M1691 1431h0M1805 1615h0M1808 1663h0M1661 1454h0M1838 1521h0M1635 1495h0M1788 1638h0M1812 1554h0M1678 1424h0M1655 1470h0M1525 1461h0M1498 1570h0M1522 1472h0M1482 1499h0M1534 1455h0M1494 1588h0M1578 1552h0M1543 1633h0M1454 1571h0M1506 1527h0M1587 1534h0M1605 1481h0M1504 1491h0M1510 1485h0M1459 1481h0M1482 1544h0M1522 1616h0M1519 1460h0M1533 1597h0M1476 1544h0M1541 1465h0M1599 1608h0M1528 1539h0M1538 1503h0M1498 1552h0M1535 1511h0M1475 1615h0M1509 1493h0M1565 1504h0M1465 1490h0M1542 1472h0M1550 1528h0M1467 1497h0M1483 1532h0M1492 1580h0M1576 1558h0M1537 1502h0M1527 1529h0M1535 1605h0M1464 1539h0M1496 1456h0M1566 1522h0M1629 1600h0M1484 1522h0M1546 1471h0M1459 1475h0M1532 1569h0M1478 1580h0M1475 1503h0M1603 1563h0M1516 1480h0M1529 1597h0M1491 1456h0M1479 1575h0M1495 1552h0M1464 1635h0M1583 1525h0M1469 1502h0M1476 1547h0M1542 1493h0M1496 1493h0M1462 1530h0M1486 1587h0M1476 1502h0M1486 1522h0M1472 1608h0M1517 1523h0M1521 1563h0M1568 1511h0M1464 1482h0M1490 1543h0M1472 1518h0M1468 1581h0M1525 1564h0M1459 1633h0M1474 1509h0M1547 1652h0M1566 1590h0M1481 1546h0M1540 1552h0M1548 1577h0M1480 1501h0M1458 1645h0M1450 1497h0M1499 1513h0M1503 1619h0M1459 1526h0M1609 1479h0M1451 1504h0M1596 1569h0M1566 1577h0M1542 1468h0M1581 1501h0M1456 1549h0M1520 1553h0M1470 1541h0M1522 1585h0M1529 1463h0M1483 1570h0M1550 1488h0M1529 1608h0M1532 1514h0M1521 1611h0M1529 1534h0M1496 1501h0M1569 1508h0M1566 1599h0M1589 1595h0M1533 1545h0M1563 1555h0M1512 1561h0M1473 1475h0M1481 1583h0M1534 1515h0M1610 1529h0M1505 1526h0M1548 1621h0M1544 1454h0M1554 1572h0M1511 1490h0M1517 1692h0M1536 1534h0M1468 1516h0M1496 1588h0M1597 1600h0M1464 1497h0M1455 1562h0M1487 1494h0M1507 1530h0M1480 1612h0M1540 1638h0M1513 1460h0M1545 1499h0M1479 1626h0M1548 1524h0M1451 1506h0M1508 1640h0M1516 1509h0M1492 1458h0M1517 1460h0M1459 1497h0M1634 1628h0M1491 1573h0M1515 1562h0M1500 1570h0M1582 1525h0M1541 1475h0M1461 1531h0M1577 1562h0M1488 1453h0M1530 1521h0M1513 1554h0M1625 1505h0M1523 1557h0M1551 1512h0M1585 1489h0M1516 1515h0M1482 1481h0M1536 1574h0M1543 1561h0M1587 1493h0M1467 1525h0M1470 1528h0M1462 1531h0M1572 1531h0M1533 1573h0M1496 1588h0M1451 1573h0M1563 1562h0M1642 1599h0M1504 1459h0M1537 1645h0M1459 1472h0M1504 1612h0M1474 1478h0M1538 1532h0M1467 1542h0M1507 1481h0M1583 1483h0M1522 1541h0M1576 1601h0M1552 1484h0M1618 1514h0M1586 1518h0M1557 1587h0M1512 1653h0M1522 1566h0M1541 1510h0M1501 1502h0M1527 1511h0M1574 1583h0M1481 1620h0M1545 1495h0M1455 1540h0M1486 1538h0M1527 1493h0M1459 1642h0M1546 1555h0M1601 1489h0M1566 1520h0M1520 1477h0M1451 1571h0M1518 1500h0M1579 1537h0M1548 1520h0M1582 1594h0M1529 1590h0M1506 1623h0M1521 1752h0M1500 1779h0M1527 1739h0M1481 1637h0M1506 1755h0M1507 1665h0M1535 1654h0M1533 1628h0M1580 1699h0M1508 1646h0M1481 1618h0M1519 1669h0M1481 1795h0M1470 1725h0M1466 1754h0M1511 1765h0M1545 1601h0M1571 1667h0M1530 1734h0M1568 1758h0M1516 1795h0M1520 1657h0M1556 1775h0M1484 1724h0M1544 1808h0M1509 1749h0M1591 1786h0M1557 1753h0M1547 1751h0M1551 1698h0M1523 1596h0M1502 1718h0M1475 1717h0M1576 1593h0M1553 1806h0M1593 1719h0M1532 1774h0M1571 1712h0M1499 1570h0M1587 1702h0M1473 1717h0M1604 1768h0M1514 1781h0M1474 1697h0M1461 1723h0M1482 1767h0M1469 1716h0M1524 1783h0M1488 1723h0M1607 1707h0M1464 1633h0M1482 1610h0M1484 1675h0M1484 1647h0M1595 1567h0M1542 1745h0M1497 1729h0M1592 1568h0M1494 1791h0M1563 1723h0M1493 1671h0M1524 1772h0M1530 1799h0M1491 1713h0M1572 1702h0M1472 1781h0M1540 1664h0M1545 1633h0M1473 1665h0M1532 1573h0M1539 1672h0M1505 1636h0M1634 1809h0M1566 1666h0M1482 1767h0M1492 1692h0M1495 1718h0M1575 1689h0M1566 1653h0M1489 1778h0M1508 1577h0M1538 1707h0M1545 1735h0M1546 1782h0M1646 1659h0M1505 1784h0M1483 1586h0M1523 1667h0M1597 1704h0M1616 1789h0M1549 1629h0M1529 1810h0M1511 1714h0M1470 1610h0M1540 1678h0M1509 1760h0M1480 1709h0M1552 1581h0M1502 1556h0M1559 1694h0M1542 1581h0M1527 1730h0M1465 1753h0M1621 1677h0M1581 1757h0M1462 1638h0M1579 1685h0M1642 1603h0M1504 1777h0M1549 1808h0M1499 1685h0M1527 1677h0M1505 1672h0M1464 1737h0M1477 1712h0M1521 1725h0M1515 1479h0M1483 1693h0M1489 1654h0M1558 1670h0M1589 1795h0M1507 1692h0M1490 1725h0M1502 1739h0M1586 1540h0M1610 1576h0M1547 1733h0M1501 1700h0M1528 1622h0M1554 1753h0M1451 1632h0M1516 1647h0M1540 1767h0M1481 1780h0M1502 1722h0M1482 1562h0M1532 1791h0M1572 1711h0M1466 1747h0M1539 1773h0M1553 1813h0M1511 1771h0M1549 1749h0M1518 1618h0M1544 1799h0M1498 1612h0M1459 1755h0M1554 1621h0M1572 1713h0M1462 1735h0M1503 1737h0M1513 1708h0M1516 1790h0M1540 1583h0M1484 1719h0M1552 1752h0M1523 1738h0M1600 1781h0M1534 1645h0M1534 1784h0M1525 1727h0M1626 1794h0M1484 1652h0M1589 1725h0M1539 1727h0M1545 1702h0M1542 1676h0M1532 1590h0M1517 1798h0M1550 1697h0M1512 1695h0M1508 1711h0M1521 1727h0M1531 1632h0M1487 1731h0M1456 1742h0M1466 1625h0M1548 1793h0M1565 1723h0M1483 1792h0M1631 1597h0M1607 1767h0M1469 1631h0M1559 1714h0M1594 1752h0M1590 1723h0M1653 1822h0M1531 1763h0M1492 1698h0M1566 1764h0M1583 1702h0M1571 1768h0M1581 1766h0M1627 1796h0M1476 1774h0M1524 1625h0M1555 1738h0M1513 1716h0M1501 1651h0M1511 1652h0M1541 1791h0M1503 1642h0M1530 1638h0M1449 1647h0M1591 1800h0M1596 1767h0M1554 1701h0M1508 1730h0M1587 1577h0M1591 1799h0M1536 1787h0M1526 1674h0M1511 1746h0M1478 1535h0M1480 1786h0M1557 1809h0M1615 1781h0M1536 1604h0M1492 1693h0M1573 1734h0M1477 1753h0M1499 1769h0M1614 1609h0M1585 1753h0M1580 1766h0M1536 1650h0M1550 1779h0M1606 1590h0M1478 1783h0M1605 1709h0M1587 1519h0M1483 1668h0M1554 1713h0M1516 1613h0M1478 1666h0M1529 1736h0M1483 1668h0M1570 1711h0M1550 1789h0M1526 1642h0M1483 1703h0M1486 1622h0M1555 1792h0M1439 1754h0M1517 1731h0M1497 1649h0M1556 1654h0M1537 1611h0M1538 1803h0M1557 1815h0M1485 1654h0M1515 1663h0M1628 1619h0M1525 1627h0M1664 1617h0M1766 1650h0M1663 1599h0M1613 1549h0M1632 1650h0M1569 1502h0M1588 1559h0M1594 1577h0M1550 1569h0M1632 1604h0M1632 1533h0M1645 1626h0M1674 1451h0M1688 1639h0M1573 1496h0M1660 1645h0M1648 1602h0M1541 1674h0M1602 1597h0M1690 1604h0M1639 1488h0M1679 1620h0M1613 1577h0M1475 1696h0M1671 1616h0M1611 1551h0M1595 1494h0M1614 1555h0M1616 1678h0M1797 1634h0M1626 1602h0M1546 1616h0M1633 1608h0M1547 1672h0M1527 1605h0M1620 1553h0M1696 1609h0M1605 1605h0M1550 1712h0M1586 1723h0M1802 1653h0M1632 1666h0M1790 1633h0M1591 1579h0M1577 1507h0M1537 1509h0M1836 1693h0M1622 1510h0M1596 1590h0M1539 1463h0M1670 1614h0M1763 1602h0M1672 1603h0M1550 1626h0M1610 1591h0M1654 1647h0M1571 1704h0M1649 1628h0M1686 1603h0M1563 1569h0M1703 1426h0M1802 1621h0M1571 1599h0M1775 1621h0M1639 1553h0M1785 1604h0M1555 1518h0M1634 1642h0M1798 1592h0M1572 1669h0M1616 1687h0M1818 1551h0M1789 1597h0M1639 1579h0M1791 1591h0M1558 1518h0M1820 1542h0M1685 1606h0M1629 1617h0M1601 1696h0M1640 1610h0M1669 1641h0M1647 1650h0" stroke="#7a82c2"/>
<path d="M1732 1642h0M1798 1809h0M1743 1839h0M1740 1834h0M1810 1771h0M1775 1824h0M1638 1674h0M1617 1697h0M1614 1738h0M1755 1832h0M1608 1759h0M1662 1827h0M1768 1826h0M1625 1784h0M1686 1837h0M1735 1832h0M1815 1705h0M1806 1682h0M1776 1826h0M1795 1677h0M1696 1646h0M1809 1758h0M1791 1675h0M1772 1824h0M1812 1743h0M1610 1740h0M1810 1717h0M1621 1770h0M1646 1804h0M1795 1806h0M1781 1667h0M1784 1812h0M1789 1810h0M1611 1727h0M1616 1716h0M1813 1751h0M1813 1714h0M1758 1670h0M1762 1841h0M1727 1832h0M1626 1779h0M1739 1633h0M1622 1770h0M1761 1665h0M1633 1679h0M1607 1723h0M1783 1814h0M1766 1655h0M1758 1834h0M1812 1734h0M1654 1811h0M1603 1716h0M1812 1763h0M1735 1634h0M1815 1731h0M1618 1778h0M1807 1788h0M1812 1762h0M1802 1710h0M1768 1835h0M1800 1789h0M1650 1814h0M1736 1841h0M1629 1678h0M1800 1793h0M1776 1655h0M1763 1821h0M1572 1749h0M1658 1668h0M1758 1837h0M1721 1840h0M1765 1824h0M1608 1726h0M1640 1803h0M1619 1760h0M1740 1597h0M1622 1686h0M1758 1662h0M1729 1602h0M1800 1691h0M1793 1674h0M1802 1798h0M1688 1647h0M1655 1662h0M1727 1837h0M1626 1696h0M1800 1720h0M1803 1720h0M1755 1610h0M1789 1676h0M1814 1777h0M1811 1770h0M1771 1660h0M1799 1696h0M1812 1727h0M1656 1667h0M1723 1838h0M1791 1672h0M1666 1668h0M1817 1702h0M1805 1689h0M1722 1630h0M1679 1832h0M1628 1783h0M1738 1612h0M1809 1703h0M1771 1667h0M1654 1813h0M1730 1650h0M1694 1633h0M1619 1772h0M1757 1652h0M1636 1793h0M1782 1666h0M1813 1740h0M1680 1832h0M1691 1642h0M1788 1815h0M1618 1781h0M1613 1717h0M1804 1783h0M1680 1590h0M1658 1654h0M1684 1837h0M1626 1753h0M1621 1784h0M1766 1664h0M1739 1646h0M1643 1669h0M1638 1678h0M1784 1665h0M1609 1734h0M1750 1656h0M1849 1455h0M1815 1416h0M1847 1471h0M1776 1587h0M1814 1414h0M1851 1446h0M1631 1515h0M1737 1604h0M1831 1502h0M1643 1496h0M1839 1432h0M1844 1475h0M1667 1562h0M1836 1422h0M1815 1412h0M1833 1505h0M1848 1460h0M1758 1424h0M1643 1501h0M1829 1429h0M1826 1428h0M1777 1414h0M1646 1532h0M1823 1425h0M1816 1532h0M1675 1470h0M1840 1482h0M1652 1573h0M1684 1582h0M1828 1427h0M1692 1592h0M1678 1469h0M1724 1431h0M1734 1433h0M1844 1438h0M1784 1571h0M1801 1412h0M1848 1469h0M1807 1414h0M1854 1452h0M1839 1426h0M1835 1428h0M1743 1427h0M1820 1529h0M1851 1460h0M1839 1494h0M1843 1424h0M1729 1591h0M1818 1530h0M1822 1429h0M1801 1414h0M1658 1510h0M1844 1485h0M1809 1533h0M1643 1494h0M1824 1423h0M1641 1500h0M1828 1427h0M1782 1414h0M1717 1445h0M1776 1416h0M1832 1426h0M1760 1426h0M1853 1442h0M1841 1437h0M1692 1448h0M1857 1464h0M1792 1591h0M1684 1451h0M1693 1443h0M1817 1530h0M1774 1584h0M1707 1621h0M1804 1554h0M1708 1597h0M1736 1611h0M1746 1597h0M1741 1602h0M1667 1513h0M1707 1624h0M1638 1504h0M1702 1442h0M1650 1568h0M1699 1608h0M1775 1597h0M1680 1462h0M1649 1581h0M1727 1593h0M1678 1458h0M1775 1599h0M1656 1566h0M1667 1477h0M1777 1594h0M1683 1452h0M1662 1588h0M1747 1608h0M1757 1652h0M1651 1545h0M1799 1542h0M1760 1431h0M1730 1601h0M1656 1521h0M1653 1540h0M1683 1459h0M1813 1538h0M1634 1521h0M1760 1592h0M1745 1623h0M1671 1453h0M1767 1430h0M1741 1631h0M1758 1597h0M1710 1611h0M1774 1582h0M1700 1599h0M1776 1591h0M1679 1453h0M1649 1544h0M1730 1626h0M1714 1610h0M1757 1592h0M1793 1555h0M1659 1511h0M1733 1582h0M1781 1568h0M1651 1565h0M1717 1446h0M1781 1668h0M1673 1467h0M1641 1521h0M1684 1442h0M1743 1617h0M1713 1615h0M1788 1574h0M1702 1625h0M1642 1527h0M1704 1458h0M1763 1421h0M1791 1564h0M1726 1639h0M1671 1582h0M1742 1598h0M1721 1604h0M1784 1584h0M1655 1543h0M1663 1574h0M1807 1545h0M1657 1516h0M1736 1629h0M1737 1599h0M1628 1528h0M1753 1650h0M1773 1413h0M1724 1589h0M1773 1418h0M1648 1555h0M1732 1438h0M1659 1551h0M1716 1581h0M1747 1599h0M1670 1456h0M1667 1574h0M1656 1579h0M1770 1591h0M1657 1551h0M1629 1522h0M1656 1502h0M1643 1516h0M1750 1600h0M1758 1428h0M1704 1445h0M1727 1612h0M1822 1527h0M1810 1532h0M1630 1528h0M1679 1469h0M1723 1449h0M1724 1431h0M1657 1532h0M1704 1600h0M1744 1614h0M1671 1588h0M1708 1611h0M1722 1600h0M1641 1503h0M1784 1577h0M1825 1518h0M1646 1495h0M1715 1445h0M1846 1490h0M1681 1450h0M1780 1587h0M1724 1630h0M1794 1567h0M1818 1522h0M1790 1584h0M1716 1446h0M1710 1600h0M1788 1559h0M1795 1568h0M1640 1545h0M1728 1624h0M1646 1547h0M1696 1597h0M1711 1453h0M1667 1476h0M1642 1520h0M1714 1589h0M1816 1531h0M1703 1585h0M1643 1546h0M1605 1724h0M1613 1756h0M1542 1689h0M1536 1676h0M1528 1684h0M1525 1700h0M1609 1713h0M1583 1744h0M1518 1709h0M1530 1709h0M1587 1740h0M1535 1700h0M1536 1708h0M1667 1573h0M1612 1746h0M1580 1748h0M1626 1689h0M1578 1749h0M1519 1696h0M1621 1688h0M1542 1694h0M1535 1695h0M1568 1707h0M1533 1683h0M1565 1703h0M1573 1750h0M1610 1735h0M1559 1709h0M1534 1702h0M1524 1688h0M1544 1692h0M1528 1687h0M1582 1737h0M1573 1750h0M1522 1698h0M1576 1746h0M1570 1742h0M1533 1674h0M1536 1703h0M1536 1689h0M1614 1699h0M1535 1694h0M1579 1735h0M1582 1739h0M1626 1695h0M1654 1669h0M1661 1585h0M1696 1626h0M1776 1667h0M1658 1534h0M1653 1654h0M1738 1622h0M1726 1613h0M1641 1510h0M1841 1436h0M1708 1625h0M1780 1581h0M1689 1638h0M1793 1578h0M1705 1591h0M1788 1586h0M1674 1451h0M1723 1603h0M1684 1442h0M1740 1635h0M1703 1614h0M1666 1662h0M1685 1586h0M1657 1500h0M1631 1677h0M1696 1628h0M1668 1653h0M1757 1597h0M1773 1601h0M1660 1669h0M1610 1723h0M1788 1590h0M1658 1529h0M1761 1420h0M1801 1553h0M1696 1589h0M1738 1618h0M1619 1778h0M1659 1588h0M1706 1616h0M1654 1562h0M1800 1553h0M1706 1622h0M1521 1699h0M1689 1585h0M1679 1599h0M1698 1442h0M1737 1613h0" stroke="#5e6ab2"/>
<path d="M1771 1683h0M1800 1776h0M1677 1827h0M1778 1685h0M1716 1828h0M1652 1683h0M1654 1803h0M1803 1769h0M1655 1685h0M1742 1655h0M1736 1659h0M1685 1823h0M1699 1649h0M1712 1659h0M1636 1770h0M1752 1829h0M1799 1733h0M1721 1824h0M1679 1826h0M1680 1825h0M1799 1778h0M1638 1780h0M1670 1667h0M1673 1663h0M1625 1705h0M1734 1658h0M1783 1806h0M1718 1827h0M1736 1830h0M1663 1678h0M1722 1654h0M1632 1783h0M1734 1823h0M1791 1710h0M1623 1705h0M1637 1755h0M1661 1676h0M1740 1652h0M1763 1815h0M1722 1659h0M1761 1813h0M1745 1824h0M1624 1723h0M1638 1754h0M1807 1775h0M1651 1680h0M1761 1814h0M1736 1829h0M1780 1801h0M1797 1798h0M1643 1788h0M1706 1649h0M1636 1698h0M1802 1736h0M1800 1729h0M1806 1724h0M1746 1830h0M1783 1687h0M1652 1683h0M1679 1667h0M1779 1809h0M1720 1823h0M1664 1816h0M1796 1708h0M1680 1825h0M1712 1625h0M1769 1681h0M1756 1667h0M1629 1788h0M1710 1822h0M1633 1688h0M1620 1724h0M1636 1716h0M1793 1706h0M1635 1685h0M1637 1755h0M1628 1700h0M1690 1654h0M1757 1666h0M1695 1667h0M1701 1644h0M1628 1713h0M1724 1660h0M1620 1739h0M1701 1821h0M1676 1662h0M1719 1647h0M1791 1685h0M1702 1647h0M1632 1696h0M1715 1642h0M1639 1798h0M1797 1794h0M1791 1796h0M1712 1629h0M1642 1685h0M1701 1655h0M1691 1659h0M1633 1715h0M1697 1825h0M1642 1689h0M1627 1714h0M1621 1703h0M1668 1680h0M1732 1652h0M1622 1739h0M1783 1677h0M1697 1664h0M1763 1680h0M1724 1646h0M1791 1684h0M1789 1710h0M1622 1731h0M1797 1790h0M1689 1830h0M1684 1668h0M1710 1648h0M1631 1694h0M1720 1658h0M1621 1706h0M1711 1630h0M1670 1830h0M1741 1660h0M1676 1667h0M1695 1578h0M1831 1487h0M1662 1488h0M1832 1432h0M1802 1429h0M1673 1519h0M1825 1432h0M1834 1449h0M1827 1441h0M1668 1538h0M1791 1425h0M1683 1491h0M1834 1495h0M1676 1488h0M1740 1573h0M1685 1496h0M1670 1501h0M1796 1542h0M1834 1447h0M1834 1472h0M1763 1437h0M1736 1576h0M1793 1539h0M1667 1535h0M1672 1543h0M1817 1439h0M1790 1543h0M1685 1565h0M1833 1483h0M1780 1543h0M1669 1553h0M1845 1441h0M1843 1448h0M1823 1432h0M1746 1432h0M1681 1501h0M1679 1489h0M1665 1487h0M1738 1447h0M1780 1426h0M1768 1586h0M1663 1534h0M1816 1439h0M1839 1460h0M1724 1572h0M1674 1562h0M1725 1458h0M1700 1574h0M1794 1427h0M1683 1475h0M1779 1550h0M1761 1573h0M1684 1574h0M1785 1430h0M1672 1540h0M1675 1572h0M1845 1469h0M1753 1432h0M1692 1578h0M1703 1574h0M1832 1449h0M1820 1505h0M1667 1496h0M1763 1437h0M1818 1512h0M1842 1458h0M1675 1524h0M1795 1550h0M1813 1435h0M1774 1567h0M1834 1443h0M1846 1466h0M1830 1495h0M1697 1476h0M1710 1573h0M1674 1564h0M1812 1517h0M1734 1449h0M1672 1506h0M1678 1528h0M1662 1491h0M1772 1555h0M1793 1540h0M1767 1574h0M1774 1429h0M1763 1581h0M1669 1528h0M1663 1483h0M1672 1516h0M1705 1635h0M1718 1626h0M1835 1501h0M1812 1513h0M1792 1427h0M1675 1568h0M1662 1538h0M1747 1439h0M1754 1579h0M1751 1439h0M1670 1580h0M1790 1543h0M1663 1523h0M1703 1578h0M1661 1543h0M1748 1583h0M1691 1665h0M1740 1587h0M1693 1471h0M1679 1477h0M1686 1580h0M1702 1572h0M1708 1462h0M1686 1479h0M1768 1562h0M1762 1573h0M1671 1486h0M1676 1535h0M1768 1571h0M1673 1479h0M1708 1576h0M1719 1575h0M1802 1529h0M1776 1578h0M1774 1562h0M1675 1573h0M1666 1535h0M1676 1488h0M1745 1591h0M1782 1550h0M1845 1451h0M1700 1465h0M1673 1506h0M1664 1524h0M1671 1483h0M1729 1571h0M1670 1485h0M1699 1468h0M1727 1647h0M1664 1497h0M1677 1509h0M1774 1553h0M1668 1504h0M1676 1568h0M1676 1493h0M1673 1540h0M1829 1434h0M1765 1567h0M1830 1433h0M1725 1578h0M1710 1575h0M1708 1573h0M1747 1587h0M1677 1480h0M1804 1531h0M1659 1521h0M1808 1521h0M1660 1492h0M1666 1492h0M1678 1580h0M1809 1518h0M1677 1483h0M1660 1490h0M1664 1549h0M1636 1692h0M1621 1732h0M1625 1739h0M1718 1649h0M1671 1531h0M1705 1659h0M1666 1499h0M1645 1794h0M1661 1485h0M1715 1575h0M1668 1536h0M1756 1579h0M1619 1744h0M1696 1656h0M1674 1565h0M1752 1578h0M1784 1691h0M1710 1643h0M1741 1578h0M1804 1730h0M1716 1634h0M1683 1496h0M1655 1678h0M1632 1765h0M1717 1627h0M1709 1638h0M1669 1547h0M1698 1632h0M1803 1522h0M1662 1496h0" stroke="#4c5aa6"/>
<path d="M1654 1799h0M1725 1669h0M1747 1675h0M1681 1812h0M1746 1679h0M1733 1670h0M1672 1811h0M1787 1693h0M1701 1821h0M1761 1688h0M1645 1761h0M1785 1700h0M1748 1663h0M1685 1817h0M1673 1812h0M1652 1788h0M1780 1787h0M1785 1794h0M1791 1726h0M1737 1679h0M1640 1707h0M1711 1669h0M1660 1804h0M1651 1698h0M1656 1693h0M1782 1798h0M1630 1751h0M1633 1751h0M1671 1819h0M1770 1802h0M1648 1706h0M1642 1773h0M1781 1794h0M1644 1705h0M1751 1812h0M1704 1815h0M1660 1801h0M1679 1673h0M1801 1759h0M1795 1720h0M1788 1762h0M1730 1674h0M1762 1804h0M1719 1679h0M1765 1802h0M1721 1663h0M1655 1792h0M1674 1821h0M1777 1696h0M1745 1668h0M1782 1783h0M1785 1697h0M1651 1786h0M1739 1675h0M1674 1686h0M1705 1666h0M1797 1719h0M1698 1811h0M1719 1667h0M1718 1662h0M1640 1716h0M1673 1812h0M1711 1814h0M1639 1762h0M1649 1697h0M1782 1790h0M1728 1675h0M1701 1669h0M1665 1791h0M1798 1749h0M1788 1785h0M1744 1672h0M1665 1801h0M1791 1776h0M1635 1747h0M1669 1815h0M1640 1719h0M1713 1814h0M1770 1805h0M1676 1811h0M1682 1677h0M1707 1668h0M1681 1675h0M1671 1689h0M1798 1776h0M1775 1805h0M1778 1791h0M1649 1791h0M1662 1793h0M1790 1772h0M1712 1813h0M1641 1724h0M1762 1691h0M1653 1787h0M1685 1817h0M1803 1746h0M1681 1817h0M1650 1700h0M1702 1816h0M1629 1750h0M1699 1571h0M1679 1820h0M1725 1670h0M1681 1672h0M1636 1751h0M1643 1698h0M1733 1669h0M1728 1663h0M1807 1760h0M1715 1670h0M1679 1675h0M1736 1670h0M1762 1685h0M1770 1809h0M1713 1814h0M1808 1758h0M1670 1671h0M1640 1694h0M1725 1663h0M1685 1560h0M1760 1555h0M1790 1514h0M1785 1533h0M1695 1568h0M1813 1500h0M1691 1490h0M1721 1568h0M1727 1469h0M1827 1453h0M1816 1500h0M1681 1556h0M1814 1504h0M1693 1558h0M1832 1464h0M1742 1448h0M1828 1472h0M1682 1541h0M1812 1497h0M1803 1511h0M1716 1480h0M1817 1503h0M1715 1561h0M1823 1458h0M1768 1548h0M1832 1453h0M1683 1546h0M1804 1438h0M1680 1516h0M1708 1477h0M1751 1562h0M1754 1442h0M1834 1456h0M1819 1489h0M1782 1438h0M1822 1479h0M1725 1468h0M1775 1440h0M1817 1509h0M1811 1503h0M1824 1489h0M1695 1562h0M1686 1509h0M1783 1532h0M1760 1542h0M1712 1474h0M1679 1527h0M1692 1564h0M1822 1487h0M1807 1514h0M1688 1491h0M1818 1476h0M1693 1552h0M1686 1514h0M1832 1469h0M1747 1450h0M1830 1460h0M1741 1447h0M1702 1480h0M1791 1515h0M1741 1449h0M1835 1457h0M1709 1478h0M1691 1499h0M1768 1547h0M1834 1468h0M1711 1478h0M1698 1484h0M1738 1561h0M1736 1455h0M1695 1498h0M1701 1479h0M1687 1526h0M1837 1461h0M1714 1563h0M1816 1499h0M1784 1540h0M1794 1514h0M1823 1493h0M1720 1469h0M1822 1489h0M1684 1554h0M1679 1506h0M1733 1567h0M1702 1562h0M1687 1551h0M1766 1559h0M1740 1441h0M1772 1541h0M1743 1569h0M1710 1570h0M1743 1566h0M1731 1456h0M1703 1473h0M1753 1551h0M1782 1537h0M1755 1448h0M1772 1542h0M1735 1470h0M1796 1523h0M1756 1568h0M1782 1541h0M1737 1461h0M1818 1455h0M1780 1535h0M1692 1498h0M1785 1535h0M1812 1501h0M1645 1720h0M1643 1695h0M1654 1796h0M1749 1552h0M1745 1571h0M1833 1469h0M1651 1692h0M1796 1713h0M1686 1546h0M1742 1815h0M1685 1560h0M1793 1716h0M1645 1779h0M1744 1570h0M1646 1712h0M1718 1669h0M1701 1666h0" stroke="#4272a8"/>
<path d="M1714 1677h0M1673 1810h0M1782 1779h0M1673 1798h0M1682 1683h0M1784 1780h0M1652 1707h0M1762 1794h0M1775 1800h0M1783 1721h0M1763 1794h0M1656 1771h0M1773 1799h0M1762 1795h0M1751 1806h0M1672 1810h0M1762 1800h0M1655 1730h0M1646 1752h0M1655 1775h0M1776 1788h0M1679 1803h0M1704 1671h0M1665 1784h0M1651 1781h0M1789 1749h0M1666 1784h0M1738 1815h0M1650 1707h0M1666 1789h0M1641 1739h0M1674 1805h0M1676 1809h0M1782 1714h0M1770 1787h0M1789 1732h0M1775 1788h0M1771 1701h0M1657 1701h0M1769 1702h0M1656 1718h0M1784 1780h0M1757 1686h0M1678 1684h0M1639 1752h0M1790 1743h0M1700 1679h0M1705 1679h0M1794 1759h0M1753 1685h0M1669 1801h0M1679 1683h0M1750 1804h0M1709 1681h0M1755 1805h0M1657 1728h0M1763 1800h0M1638 1733h0M1780 1772h0M1747 1684h0M1659 1700h0M1778 1781h0M1724 1811h0M1792 1759h0M1790 1739h0M1653 1713h0M1679 1687h0M1682 1688h0M1735 1816h0M1738 1683h0M1642 1741h0M1676 1803h0M1758 1699h0M1764 1698h0M1655 1773h0M1681 1682h0M1650 1722h0M1789 1760h0M1758 1454h0M1773 1528h0M1804 1501h0M1787 1529h0M1822 1463h0M1730 1559h0M1771 1449h0M1769 1445h0M1807 1447h0M1689 1515h0M1824 1466h0M1806 1441h0M1690 1548h0M1716 1483h0M1786 1525h0M1732 1554h0M1761 1441h0M1694 1541h0M1793 1440h0M1740 1557h0M1802 1450h0M1702 1488h0M1766 1539h0M1715 1559h0M1713 1554h0M1787 1512h0M1729 1560h0M1800 1450h0M1768 1445h0M1761 1534h0M1698 1498h0M1815 1476h0M1760 1531h0M1770 1522h0M1805 1484h0M1740 1559h0M1689 1501h0M1708 1551h0M1698 1487h0M1707 1560h0M1721 1559h0M1793 1503h0M1698 1552h0M1806 1491h0M1817 1464h0M1753 1454h0M1790 1505h0M1693 1504h0M1702 1553h0M1725 1555h0M1729 1545h0M1774 1443h0M1691 1539h0M1777 1528h0M1690 1522h0M1815 1467h0M1747 1555h0M1815 1467h0M1694 1514h0M1734 1474h0M1769 1531h0M1714 1486h0M1723 1477h0M1693 1538h0M1714 1557h0M1696 1505h0M1741 1558h0M1815 1456h0M1728 1561h0M1654 1726h0M1699 1679h0M1715 1490h0M1700 1681h0M1800 1484h0M1681 1690h0M1694 1674h0M1697 1511h0M1654 1712h0" stroke="#40949c"/>
<path d="M1673 1784h0M1664 1720h0M1660 1764h0M1686 1794h0M1762 1785h0M1692 1792h0M1725 1805h0M1683 1782h0M1678 1783h0M1666 1706h0M1776 1723h0M1761 1788h0M1673 1787h0M1667 1771h0M1769 1722h0M1742 1699h0M1660 1707h0M1771 1772h0M1759 1786h0M1714 1805h0M1737 1686h0M1758 1783h0M1713 1804h0M1760 1710h0M1719 1803h0M1780 1764h0M1754 1794h0M1661 1780h0M1665 1717h0M1658 1727h0M1652 1760h0M1668 1717h0M1779 1746h0M1664 1719h0M1715 1809h0M1691 1800h0M1747 1699h0M1676 1711h0M1706 1805h0M1734 1687h0M1779 1738h0M1774 1711h0M1662 1773h0M1694 1687h0M1663 1702h0M1763 1716h0M1684 1789h0M1671 1780h0M1653 1754h0M1664 1733h0M1758 1693h0M1671 1776h0M1765 1719h0M1667 1727h0M1741 1800h0M1652 1731h0M1654 1735h0M1662 1723h0M1690 1801h0M1656 1745h0M1648 1769h0M1755 1791h0M1675 1698h0M1739 1803h0M1668 1775h0M1777 1775h0M1741 1800h0M1666 1737h0M1668 1773h0M1743 1802h0M1685 1795h0M1752 1703h0M1781 1744h0M1681 1786h0M1762 1713h0M1670 1773h0M1661 1767h0M1769 1780h0M1703 1802h0M1732 1804h0M1766 1791h0M1744 1692h0M1778 1750h0M1782 1732h0M1773 1765h0M1723 1801h0M1681 1799h0M1783 1769h0M1666 1764h0M1782 1745h0M1777 1715h0M1653 1752h0M1750 1701h0M1749 1695h0M1668 1772h0M1787 1756h0M1745 1796h0M1709 1681h0M1674 1695h0M1655 1736h0M1782 1742h0M1719 1809h0M1675 1698h0M1760 1705h0M1774 1713h0M1658 1703h0M1663 1763h0M1675 1710h0M1670 1713h0M1767 1704h0M1667 1767h0M1732 1689h0M1768 1721h0M1666 1702h0M1730 1538h0M1792 1498h0M1748 1478h0M1708 1549h0M1720 1486h0M1792 1441h0M1770 1454h0M1713 1511h0M1786 1447h0M1746 1534h0M1803 1479h0M1702 1512h0M1796 1463h0M1722 1506h0M1785 1466h0M1720 1538h0M1788 1449h0M1720 1498h0M1706 1532h0M1716 1529h0M1744 1491h0M1798 1460h0M1747 1481h0M1775 1457h0M1792 1449h0M1780 1494h0M1789 1448h0M1726 1542h0M1742 1540h0M1726 1527h0M1732 1522h0M1777 1471h0M1793 1467h0M1794 1467h0M1791 1472h0M1795 1496h0M1779 1444h0M1795 1494h0M1765 1511h0M1768 1523h0M1717 1524h0M1801 1471h0M1758 1514h0M1776 1465h0M1777 1518h0M1802 1477h0M1805 1456h0M1712 1522h0M1771 1470h0M1714 1508h0M1752 1475h0M1752 1468h0M1804 1469h0M1699 1506h0M1802 1480h0M1702 1513h0M1738 1533h0M1709 1526h0M1743 1489h0M1704 1533h0M1761 1451h0M1725 1526h0M1722 1486h0M1777 1457h0M1716 1546h0M1740 1479h0M1706 1506h0M1780 1503h0M1782 1506h0M1712 1514h0M1725 1527h0M1802 1461h0M1725 1522h0M1721 1500h0M1800 1451h0M1751 1471h0M1792 1468h0M1733 1485h0M1723 1548h0M1766 1460h0M1779 1451h0M1727 1513h0M1768 1466h0M1714 1538h0M1735 1496h0M1788 1451h0M1738 1479h0M1713 1513h0M1775 1463h0M1728 1536h0M1749 1530h0M1745 1487h0M1723 1508h0M1730 1496h0M1737 1500h0M1762 1453h0M1711 1512h0M1791 1473h0M1704 1549h0M1757 1534h0M1799 1458h0M1717 1519h0M1749 1533h0M1712 1536h0M1701 1513h0M1745 1471h0M1717 1531h0M1706 1515h0M1759 1463h0M1758 1528h0M1705 1520h0M1735 1535h0M1749 1465h0M1711 1494h0M1739 1466h0M1751 1473h0M1789 1477h0M1744 1469h0M1733 1537h0M1713 1520h0M1716 1501h0M1712 1527h0M1741 1549h0M1731 1532h0M1769 1460h0M1756 1522h0M1713 1504h0M1708 1532h0M1702 1526h0M1762 1455h0M1702 1536h0M1785 1456h0M1786 1461h0M1703 1546h0M1722 1500h0M1768 1468h0M1710 1543h0M1748 1490h0M1705 1526h0M1753 1534h0M1723 1530h0M1786 1457h0M1709 1505h0M1709 1519h0M1717 1502h0M1702 1541h0M1779 1492h0M1783 1506h0M1691 1693h0M1735 1494h0M1690 1695h0M1745 1698h0M1710 1522h0M1660 1707h0M1692 1804h0" stroke="#44a860"/>
<path d="M1676 1722h0M1683 1708h0M1701 1797h0M1671 1725h0M1692 1709h0M1775 1740h0M1690 1783h0M1707 1693h0M1765 1752h0M1662 1756h0M1772 1758h0M1758 1776h0M1758 1725h0M1733 1798h0M1724 1792h0M1701 1795h0M1701 1794h0M1749 1774h0M1746 1790h0M1765 1781h0M1736 1793h0M1741 1707h0M1722 1795h0M1765 1726h0M1764 1729h0M1772 1750h0M1747 1710h0M1742 1709h0M1743 1787h0M1778 1751h0M1684 1776h0M1750 1718h0M1733 1692h0M1694 1783h0M1734 1794h0M1663 1754h0M1734 1692h0M1777 1736h0M1732 1784h0M1677 1760h0M1728 1699h0M1762 1772h0M1715 1697h0M1764 1753h0M1756 1713h0M1772 1734h0M1772 1736h0M1761 1763h0M1752 1720h0M1705 1698h0M1701 1794h0M1774 1755h0M1720 1794h0M1667 1759h0M1758 1761h0M1675 1750h0M1765 1765h0M1702 1794h0M1777 1739h0M1751 1776h0M1723 1691h0M1762 1732h0M1719 1699h0M1683 1779h0M1729 1798h0M1731 1783h0M1750 1783h0M1759 1733h0M1690 1787h0M1769 1750h0M1774 1738h0M1718 1801h0M1729 1791h0M1694 1709h0M1682 1719h0M1732 1793h0M1731 1706h0M1762 1722h0M1750 1717h0M1738 1705h0M1763 1760h0M1761 1732h0M1734 1784h0M1739 1709h0M1690 1788h0M1672 1747h0M1745 1711h0M1677 1751h0M1769 1732h0M1669 1754h0M1742 1711h0M1742 1710h0M1774 1749h0M1749 1772h0M1712 1697h0M1752 1714h0M1692 1708h0M1772 1755h0M1668 1748h0M1681 1707h0M1674 1742h0M1754 1720h0M1760 1735h0M1740 1514h0M1765 1496h0M1761 1477h0M1755 1493h0M1731 1520h0M1768 1507h0M1769 1489h0M1755 1484h0M1769 1486h0M1746 1519h0M1775 1481h0M1749 1512h0M1756 1484h0M1746 1493h0M1730 1517h0M1767 1504h0M1772 1508h0M1782 1487h0M1769 1494h0M1760 1482h0M1771 1474h0M1757 1499h0M1741 1524h0M1747 1524h0M1759 1492h0M1762 1487h0M1771 1489h0M1759 1509h0M1735 1507h0M1770 1498h0M1772 1484h0M1755 1512h0M1778 1510h0M1754 1486h0M1747 1497h0M1739 1528h0M1756 1503h0M1770 1506h0M1772 1507h0M1767 1507h0M1762 1504h0M1742 1524h0M1769 1481h0M1745 1526h0M1769 1500h0M1740 1530h0M1739 1500h0M1732 1502h0M1736 1520h0M1753 1514h0M1733 1520h0M1748 1512h0M1756 1503h0M1747 1518h0M1757 1501h0M1735 1511h0M1739 1505h0M1763 1730h0M1774 1497h0" stroke="#5cb840"/>
<path d="M1690 1717h0M1711 1703h0M1700 1709h0M1728 1705h0M1680 1739h0M1696 1712h0M1704 1785h0M1681 1758h0M1752 1756h0M1755 1768h0M1741 1772h0M1755 1728h0M1753 1764h0M1689 1713h0M1732 1778h0M1717 1785h0M1695 1725h0M1679 1736h0M1753 1741h0M1695 1726h0M1694 1766h0M1694 1769h0M1703 1788h0M1719 1717h0M1742 1721h0M1749 1734h0M1740 1728h0M1722 1719h0M1683 1767h0M1727 1713h0M1745 1778h0M1704 1776h0M1756 1758h0M1689 1722h0M1704 1782h0M1755 1760h0M1684 1762h0M1748 1769h0M1698 1712h0M1692 1777h0M1708 1787h0M1678 1762h0M1748 1717h0M1702 1713h0M1715 1787h0M1697 1721h0M1728 1782h0M1733 1713h0M1678 1756h0M1682 1750h0M1697 1716h0M1686 1757h0M1722 1709h0M1692 1731h0M1741 1712h0M1749 1763h0M1755 1760h0M1730 1714h0M1679 1763h0M1681 1746h0M1683 1755h0M1702 1773h0M1768 1744h0M1742 1716h0M1751 1729h0M1690 1774h0M1755 1723h0M1712 1705h0M1746 1719h0M1724 1713h0M1681 1749h0M1761 1746h0M1742 1775h0M1701 1788h0M1689 1714h0" stroke="#98c834"/>
<path d="M1716 1772h0M1736 1726h0M1723 1773h0M1713 1776h0M1738 1762h0M1757 1748h0M1724 1775h0M1755 1750h0M1724 1780h0M1716 1720h0" stroke="#d8d22c"/>
<path d="M1700 1728h0M1695 1731h0M1713 1724h0M1710 1725h0M1701 1727h0M1742 1734h0M1697 1748h0M1694 1743h0M1704 1764h0M1741 1753h0M1714 1726h0M1702 1727h0M1726 1731h0M1718 1723h0M1713 1731h0M1704 1729h0M1743 1739h0M1737 1766h0M1717 1724h0M1690 1736h0M1709 1731h0M1716 1728h0M1711 1730h0M1696 1759h0M1695 1739h0M1689 1742h0M1740 1734h0" stroke="#f0a026"/>
<path d="M1730 1736h0M1728 1765h0M1700 1751h0M1709 1768h0M1737 1737h0M1742 1748h0M1708 1765h0M1734 1733h0M1708 1754h0M1724 1763h0M1748 1744h0M1713 1762h0M1718 1738h0M1730 1740h0M1730 1741h0M1726 1769h0M1709 1766h0" stroke="#ee6420"/>
<path d="M1705 1737h0M1709 1750h0M1735 1746h0M1729 1749h0M1734 1743h0M1717 1759h0M1709 1739h0M1713 1742h0M1732 1746h0M1716 1751h0M1700 1737h0M1704 1738h0M1716 1745h0M1736 1749h0M1738 1755h0M1725 1752h0M1734 1757h0M1731 1748h0M1734 1741h0M1726 1747h0M1725 1747h0M1715 1733h0M1735 1748h0M1719 1744h0M1719 1761h0M1732 1760h0M1724 1757h0M1700 1743h0M1707 1748h0M1703 1744h0" stroke="#e6261c"/>
<path d="M904 2649h0M828 2785h0M728 2595h0M929 2691h0M850 2762h0M912 2615h0M881 2714h0M910 2725h0M737 2587h0M829 2746h0M840 2748h0M868 2737h0M911 2693h0M813 2760h0M824 2573h0M852 2744h0M803 2345h0M907 2297h0M850 2302h0M801 2387h0M855 2276h0M769 2458h0M750 2413h0M878 2278h0M751 2488h0M820 2331h0M876 2228h0M893 2462h0M946 2370h0M892 2515h0M955 2416h0M948 2429h0M787 2333h0M818 2360h0M804 2368h0M925 2302h0M881 2494h0M934 2344h0M917 2433h0M539 2302h0M483 2447h0M528 2380h0M564 2379h0M496 2385h0M480 2420h0M503 2411h0M586 2364h0M545 2378h0M629 2424h0M487 2490h0M451 2398h0M508 2430h0M523 2357h0M582 2376h0M528 2407h0M539 2515h0M596 2335h0M565 2470h0M605 2329h0M521 2461h0M544 2355h0M497 2465h0M564 2511h0M581 2357h0M548 2292h0M661 2725h0M700 2601h0M632 2618h0M708 2723h0M504 2569h0M750 2460h0M678 2671h0M520 2574h0M644 2538h0M599 2566h0M571 2502h0M681 2772h0M612 2574h0M709 2720h0M928 2478h0M659 2584h0M563 2593h0M650 2660h0M512 2773h0M585 2654h0M560 2666h0M658 2560h0M729 2574h0M684 2498h0M619 2669h0M562 2552h0M759 2752h0M565 2636h0M561 2584h0M562 2535h0M657 2445h0M895 2596h0M627 2640h0M616 2832h0M657 2501h0M669 2559h0M636 2661h0M703 2547h0M651 2508h0M703 2525h0M610 2513h0M644 2639h0M673 2592h0M574 2716h0M1043 2581h0M690 2591h0M682 2659h0M682 2529h0M667 2595h0M712 2759h0M893 2526h0M795 2297h0M745 2503h0M687 2550h0M916 2571h0M879 2544h0M706 2368h0M853 2532h0M791 2328h0M931 2520h0M885 2564h0M742 2548h0M767 2449h0M678 2446h0M792 2544h0M714 2518h0M873 2521h0M877 2534h0M911 2553h0" stroke="#7a82c2" stroke-opacity=".72"/>
<path d="M708 2644h0M799 2726h0M848 2567h0M734 2703h0M850 2725h0M854 2692h0M834 2723h0M855 2738h0M855 2712h0M799 2729h0M734 2716h0M763 2722h0M804 2732h0M882 2586h0M771 2739h0M693 2617h0M863 2714h0M858 2703h0M872 2645h0M760 2683h0M882 2694h0M743 2616h0M874 2711h0M750 2657h0M894 2678h0M737 2645h0M802 2585h0M780 2710h0M760 2604h0M841 2608h0M909 2668h0M883 2631h0M730 2628h0M862 2715h0M712 2700h0M833 2694h0M836 2729h0M840 2586h0M736 2623h0M787 2576h0M866 2677h0M728 2698h0M815 2713h0M776 2570h0M726 2565h0M842 2564h0M719 2663h0M752 2636h0M856 2675h0M885 2654h0M871 2630h0M839 2700h0M847 2616h0M878 2664h0M856 2673h0M836 2584h0M748 2701h0M847 2589h0M868 2682h0M821 2591h0M721 2562h0M723 2659h0M909 2678h0M884 2644h0M848 2681h0M845 2714h0M762 2719h0M813 2729h0M861 2618h0M900 2641h0M770 2724h0M779 2721h0M875 2690h0M734 2605h0M808 2727h0M876 2634h0M894 2619h0M882 2704h0M777 2582h0M812 2722h0M892 2621h0M798 2602h0M748 2720h0M842 2580h0M847 2618h0M756 2731h0M793 2579h0M828 2599h0M783 2702h0M902 2627h0M883 2579h0M795 2591h0M869 2604h0M795 2739h0M822 2617h0M775 2608h0M787 2720h0M876 2663h0M827 2601h0M837 2704h0M737 2606h0M719 2694h0M749 2626h0M850 2365h0M825 2401h0M894 2311h0M828 2394h0M875 2358h0M904 2403h0M844 2329h0M896 2285h0M834 2352h0M879 2405h0M859 2459h0M813 2408h0M781 2508h0M886 2402h0M842 2452h0M929 2327h0M816 2461h0M886 2307h0M799 2458h0M793 2417h0M917 2349h0M861 2475h0M918 2325h0M911 2405h0M861 2314h0M863 2458h0M832 2394h0M837 2413h0M869 2341h0M881 2358h0M846 2352h0M789 2521h0M864 2375h0M778 2417h0M894 2367h0M868 2377h0M845 2369h0M863 2308h0M895 2394h0M830 2340h0M867 2343h0M762 2520h0M868 2408h0M875 2336h0M801 2460h0M913 2411h0M841 2429h0M883 2384h0M816 2399h0M886 2307h0M781 2431h0M811 2387h0M809 2429h0M879 2455h0M873 2339h0M873 2425h0M846 2346h0M893 2282h0M916 2500h0M822 2398h0M851 2392h0M802 2515h0M813 2475h0M804 2398h0M909 2336h0M908 2441h0M854 2391h0M925 2393h0M827 2418h0M848 2420h0M830 2461h0M930 2397h0M842 2382h0M927 2341h0M824 2427h0M816 2435h0M856 2499h0M928 2382h0M786 2490h0M848 2456h0M872 2431h0M863 2310h0M802 2485h0M820 2529h0M865 2378h0M827 2372h0M872 2432h0M884 2433h0M832 2488h0M775 2437h0M879 2332h0M857 2340h0M791 2531h0M886 2410h0M808 2509h0M854 2338h0M799 2429h0M882 2447h0M911 2494h0M823 2443h0M773 2406h0M832 2358h0M855 2441h0M908 2397h0M852 2311h0M897 2349h0M869 2338h0M910 2443h0M845 2484h0M867 2451h0M848 2398h0M851 2543h0M884 2323h0M851 2486h0M834 2454h0M841 2339h0M900 2438h0M884 2444h0M844 2382h0M888 2407h0M791 2404h0M922 2343h0M854 2408h0M897 2330h0M903 2397h0M909 2354h0M863 2423h0M907 2338h0M860 2390h0M863 2481h0M845 2451h0M864 2360h0M891 2430h0M864 2408h0M864 2415h0M807 2472h0M808 2442h0M611 2443h0M546 2443h0M557 2399h0M600 2463h0M558 2488h0M523 2479h0M547 2473h0M540 2415h0M541 2404h0M506 2380h0M572 2399h0M531 2488h0M524 2461h0M579 2441h0M570 2405h0M554 2463h0M546 2426h0M554 2480h0M576 2400h0M544 2434h0M546 2470h0M555 2388h0M599 2459h0M516 2428h0M569 2443h0M537 2444h0M545 2414h0M539 2471h0M530 2426h0M554 2452h0M561 2426h0M597 2442h0M564 2446h0M541 2447h0M527 2364h0M559 2368h0M577 2407h0M589 2418h0M593 2429h0M550 2485h0M580 2403h0M552 2357h0M595 2462h0M555 2490h0M600 2412h0M502 2379h0M613 2423h0M522 2485h0M561 2425h0M606 2423h0M723 2653h0M769 2581h0M667 2641h0M703 2686h0M864 2531h0M667 2638h0M762 2478h0M764 2557h0M683 2637h0M855 2592h0M843 2495h0M711 2652h0M778 2534h0M703 2615h0M725 2546h0M700 2623h0M730 2659h0M859 2520h0M722 2545h0M845 2505h0M692 2641h0M692 2632h0M704 2673h0M824 2529h0M741 2668h0M891 2690h0M853 2475h0M763 2423h0M822 2534h0M840 2507h0M784 2454h0M851 2516h0M835 2551h0M880 2434h0M824 2543h0M814 2478h0M774 2591h0M774 2523h0M751 2599h0M767 2527h0M918 2510h0M812 2521h0M821 2444h0M800 2487h0M790 2465h0M872 2512h0M764 2473h0M817 2442h0M862 2601h0M830 2516h0M725 2560h0M770 2565h0M896 2580h0M803 2456h0M777 2560h0M794 2513h0M877 2605h0M784 2549h0M891 2589h0M829 2556h0M777 2487h0M787 2542h0M790 2468h0M857 2564h0M816 2484h0" stroke="#5e6ab2" stroke-opacity=".72"/>
<path d="M804 2704h0M813 2699h0M810 2723h0M801 2609h0M761 2610h0M726 2669h0M735 2646h0M853 2605h0M732 2699h0M703 2630h0M827 2720h0M795 2597h0M738 2676h0M755 2694h0M856 2684h0M747 2645h0M764 2646h0M742 2601h0M781 2599h0M853 2663h0M828 2627h0M785 2574h0M767 2591h0M757 2616h0M839 2687h0M741 2675h0M805 2695h0M895 2664h0M883 2669h0M867 2625h0M780 2627h0M843 2664h0M874 2637h0M839 2720h0M819 2692h0M855 2706h0M858 2651h0M819 2595h0M865 2659h0M755 2639h0M749 2636h0M811 2619h0M845 2625h0M887 2413h0M846 2354h0M908 2344h0M824 2387h0M857 2435h0M836 2492h0M861 2394h0M852 2436h0M838 2412h0M882 2382h0M808 2403h0M916 2347h0M844 2382h0M862 2421h0M835 2403h0M829 2384h0M820 2417h0M817 2423h0M807 2417h0M827 2381h0M902 2398h0M839 2365h0M827 2446h0M901 2384h0M856 2356h0M893 2388h0M860 2450h0M828 2387h0M871 2366h0M850 2363h0M861 2417h0M867 2432h0M882 2438h0M594 2462h0M572 2429h0M590 2428h0M521 2423h0M543 2446h0M541 2422h0M751 2625h0M707 2620h0M750 2698h0M796 2423h0M803 2463h0M822 2437h0M817 2422h0M825 2597h0M848 2608h0M886 2391h0M850 2509h0" stroke="#4c5aa6" stroke-opacity=".72"/>
<path d="M754 2629h0M855 2657h0M827 2701h0M866 2667h0M813 2671h0M754 2701h0M831 2695h0M817 2598h0M808 2616h0M798 2683h0M762 2690h0M770 2670h0M784 2625h0M823 2667h0M871 2679h0M762 2706h0M800 2710h0M821 2681h0M779 2669h0M845 2615h0M799 2585h0M768 2674h0M757 2602h0M827 2627h0M878 2675h0M798 2607h0M756 2602h0M808 2608h0M694 2633h0M869 2675h0M761 2665h0M812 2683h0M811 2672h0M852 2664h0M786 2590h0M818 2618h0M802 2721h0M773 2731h0M719 2671h0M760 2657h0M859 2672h0M810 2663h0M774 2594h0M834 2706h0M726 2626h0M773 2668h0M841 2704h0M812 2691h0M856 2641h0M757 2667h0M762 2672h0M760 2659h0M846 2635h0M814 2610h0M762 2623h0M889 2629h0M778 2707h0M822 2401h0M869 2466h0M887 2435h0M906 2396h0M874 2395h0M836 2374h0M896 2378h0M861 2448h0M855 2461h0M885 2367h0M868 2396h0M892 2406h0M802 2455h0M891 2339h0M850 2345h0M798 2485h0M869 2390h0M804 2475h0M819 2429h0M807 2453h0M857 2347h0M849 2353h0M865 2455h0M831 2428h0M908 2389h0M899 2348h0M819 2458h0M860 2363h0M851 2456h0M844 2350h0M585 2457h0M591 2461h0M546 2414h0M557 2434h0M542 2421h0M528 2418h0M581 2405h0M530 2478h0M775 2517h0M740 2641h0M904 2389h0M789 2721h0M770 2707h0M757 2669h0M711 2621h0M833 2498h0M867 2601h0M899 2614h0M839 2560h0M803 2426h0M815 2411h0M829 2549h0" stroke="#4272a8" stroke-opacity=".72"/>
<path d="M835 2614h0M767 2670h0M815 2602h0M780 2686h0M744 2657h0M890 2682h0M714 2662h0M796 2620h0M861 2651h0M777 2622h0M835 2686h0M799 2688h0M842 2646h0M841 2711h0M792 2704h0M858 2606h0M808 2676h0M822 2630h0M830 2625h0M773 2641h0M851 2689h0M770 2678h0M819 2599h0M825 2687h0M858 2603h0M819 2696h0M823 2691h0M769 2609h0M785 2693h0M750 2693h0M815 2667h0M826 2620h0M865 2670h0M771 2700h0M751 2646h0M736 2628h0M808 2639h0M788 2617h0M762 2657h0M771 2620h0M732 2623h0M783 2640h0M757 2670h0M876 2688h0M853 2634h0M843 2697h0M748 2648h0M836 2699h0M774 2727h0M788 2618h0M836 2671h0M818 2642h0M825 2616h0M785 2619h0M743 2665h0M791 2625h0M808 2635h0M844 2431h0M823 2432h0M893 2389h0M865 2379h0M861 2363h0M831 2430h0M828 2426h0M843 2396h0M832 2389h0M835 2495h0M848 2442h0M842 2435h0M828 2391h0M836 2424h0M860 2427h0M876 2371h0M831 2437h0M874 2691h0M824 2618h0M757 2715h0M756 2597h0M763 2728h0M775 2691h0M740 2661h0M754 2703h0M812 2421h0M772 2599h0M761 2621h0M819 2694h0M776 2657h0" stroke="#40949c" stroke-opacity=".72"/>
<path d="M838 2659h0M759 2692h0M852 2681h0M772 2684h0M812 2652h0M792 2709h0M755 2634h0M783 2625h0M778 2690h0M816 2627h0M747 2637h0M787 2637h0M796 2610h0M749 2663h0M783 2666h0M756 2616h0M742 2682h0M830 2603h0M759 2670h0M820 2596h0M773 2697h0M773 2645h0M791 2685h0M763 2638h0M791 2695h0M849 2698h0M788 2619h0M855 2664h0M765 2631h0M828 2677h0M782 2596h0M778 2636h0M810 2709h0M793 2619h0M804 2610h0M831 2635h0M768 2653h0M849 2624h0M761 2674h0M837 2605h0M764 2712h0M783 2663h0M840 2674h0M826 2404h0M876 2396h0M861 2389h0M868 2372h0M808 2420h0M875 2398h0M897 2386h0M864 2409h0M850 2409h0M875 2403h0M842 2421h0M825 2433h0M843 2421h0M887 2402h0M894 2388h0M838 2380h0M822 2446h0M819 2425h0M831 2416h0M799 2600h0M795 2632h0M765 2609h0M758 2625h0M769 2607h0M841 2405h0" stroke="#44a860" stroke-opacity=".72"/>
<path d="M824 2677h0M803 2637h0M802 2653h0M811 2628h0M838 2633h0M843 2645h0M778 2686h0M836 2627h0M790 2632h0M762 2684h0M790 2632h0M748 2678h0M834 2663h0M778 2615h0M839 2697h0M802 2654h0M828 2654h0M745 2680h0M757 2650h0M788 2676h0M783 2677h0M789 2646h0M819 2610h0M821 2667h0M852 2680h0M780 2662h0M852 2671h0M792 2694h0M802 2614h0M766 2625h0M829 2670h0M840 2633h0M782 2597h0M790 2686h0M778 2686h0M826 2609h0M812 2675h0M785 2605h0M832 2621h0M827 2413h0M744 2640h0M757 2679h0M769 2645h0M843 2635h0" stroke="#5cb840" stroke-opacity=".72"/>
<path d="M795 2684h0M814 2628h0M791 2662h0M785 2686h0M859 2669h0M829 2636h0M781 2634h0M792 2622h0M805 2627h0M773 2618h0M772 2624h0M790 2682h0M838 2653h0M829 2640h0M784 2659h0M832 2628h0M840 2640h0M804 2611h0M776 2618h0M804 2650h0M794 2701h0M810 2619h0M831 2654h0M847 2656h0M813 2683h0M781 2645h0M837 2679h0M830 2688h0M777 2653h0M799 2604h0M839 2690h0M784 2674h0M766 2620h0M768 2612h0" stroke="#98c834" stroke-opacity=".72"/>
<path d="M779 2661h0M835 2646h0M804 2654h0M799 2633h0M794 2640h0M793 2636h0M804 2671h0M810 2670h0M791 2661h0M761 2659h0M798 2690h0M823 2645h0M783 2642h0M850 2647h0M817 2658h0M800 2675h0M793 2677h0M778 2670h0M754 2657h0" stroke="#d8d22c" stroke-opacity=".72"/>
<path d="M790 2656h0M798 2671h0M822 2641h0M787 2659h0M784 2656h0M814 2650h0M786 2665h0M815 2650h0M786 2672h0M825 2640h0M812 2645h0M790 2640h0M809 2635h0" stroke="#f0a026" stroke-opacity=".72"/>
<path d="M813 2643h0M793 2676h0M787 2650h0M807 2646h0M805 2652h0M805 2652h0" stroke="#ee6420" stroke-opacity=".72"/>
<path d="M796 2653h0M790 2660h0M793 2681h0M794 2652h0M808 2650h0M793 2650h0M829 2648h0M818 2647h0M828 2649h0" stroke="#e6261c" stroke-opacity=".72"/>
<path d="M1560 2357h0M1411 2319h0M1554 2368h0M1508 2334h0M1391 2539h0M1527 2316h0M1335 2537h0M1347 2576h0M1444 2582h0M1516 2565h0M1561 2412h0M1562 2375h0M1512 2582h0M1585 2456h0M1388 2559h0M1435 2598h0M1525 2548h0M1530 2299h0M1473 2603h0M1504 2570h0M1335 2457h0M1353 2437h0M1552 2411h0M1552 2312h0M1467 2305h0M1424 2677h0M1592 2340h0M1369 2503h0M1367 2378h0M1311 2477h0M1441 2307h0M1542 2476h0M1335 2315h0M1417 2287h0M1486 2565h0M1485 2315h0M1549 2316h0M1679 2484h0M1818 2322h0M1759 2487h0M1755 2329h0M1660 2359h0M1749 2468h0M1895 2406h0M1645 2454h0M1687 2375h0M1655 2364h0M1667 2484h0M1640 2374h0M1816 2423h0M1687 2299h0M1815 2443h0M1779 2349h0M1697 2500h0M1733 2320h0M1553 2454h0M1691 2455h0M1748 2493h0M1708 2476h0M1829 2387h0M1837 2361h0M1733 2347h0M1580 2464h0M1712 2361h0M1645 2419h0M1807 2370h0M1643 2382h0M1823 2422h0M1731 2484h0M1788 2343h0M1828 2385h0M1795 2333h0M1772 2359h0M1728 2380h0M1712 2330h0M1840 2403h0M1772 2502h0M1793 2474h0M1714 2506h0M1822 2467h0M1707 2364h0M1655 2404h0M1675 2683h0M1632 2642h0M1679 2722h0M1639 2721h0M1717 2573h0M1590 2617h0M1739 2751h0M1715 2585h0M1705 2555h0M1667 2611h0M1758 2583h0M1796 2644h0M1655 2643h0M1714 2722h0M1779 2728h0M1788 2728h0M1821 2590h0M1738 2591h0M1705 2720h0M1662 2762h0M1646 2677h0M1682 2552h0M1719 2511h0M1721 2584h0M1674 2686h0M1697 2578h0M1689 2707h0M1800 2630h0M1791 2591h0M1697 2574h0M1811 2475h0M1581 2354h0M1587 2519h0M1555 2524h0M1402 2737h0M1632 2690h0M1612 2585h0M1590 2718h0M1455 2722h0M1578 2510h0M1642 2517h0M1337 2475h0M1567 2656h0M1919 2309h0M1648 2716h0M1366 2551h0M1719 2349h0M1379 2352h0M1578 2782h0M1579 2520h0M1767 2568h0M1550 2628h0M1603 2686h0M1491 2707h0M1415 2703h0M1659 2511h0M1631 2489h0M1717 2551h0M1585 2489h0M1913 2594h0M1598 2517h0M1499 2677h0M1619 2566h0M1604 2617h0M1626 2647h0M1668 2499h0M1588 2585h0M1697 2473h0M1668 2551h0M1615 2811h0" stroke="#a4a4d4" stroke-opacity=".50"/>
<path d="M1454 2321h0M1536 2375h0M1475 2329h0M1516 2343h0M1529 2445h0M1482 2330h0M1537 2407h0M1496 2551h0M1377 2425h0M1488 2341h0M1406 2517h0M1472 2550h0M1406 2343h0M1373 2393h0M1438 2324h0M1392 2513h0M1394 2350h0M1376 2416h0M1541 2435h0M1360 2447h0M1463 2577h0M1404 2534h0M1393 2495h0M1534 2464h0M1544 2445h0M1533 2475h0M1404 2349h0M1404 2348h0M1501 2542h0M1523 2497h0M1527 2372h0M1524 2374h0M1443 2563h0M1692 2441h0M1785 2444h0M1753 2352h0M1757 2379h0M1734 2402h0M1770 2397h0M1730 2456h0M1709 2385h0M1739 2357h0M1710 2465h0M1672 2445h0M1757 2437h0M1688 2418h0M1695 2425h0M1665 2449h0M1710 2453h0M1667 2456h0M1661 2420h0M1751 2430h0M1695 2396h0M1700 2397h0M1740 2363h0M1754 2377h0M1699 2429h0M1798 2459h0M1778 2463h0M1698 2416h0M1800 2456h0M1738 2390h0M1674 2449h0M1677 2394h0M1787 2372h0M1779 2378h0M1785 2412h0M1802 2388h0M1671 2394h0M1781 2454h0M1711 2406h0M1650 2433h0M1758 2375h0M1742 2436h0M1664 2385h0M1786 2463h0M1802 2401h0M1790 2402h0M1788 2412h0M1694 2434h0M1780 2455h0M1676 2425h0M1783 2433h0M1688 2388h0M1793 2401h0M1778 2402h0M1730 2397h0M1751 2741h0M1776 2620h0M1676 2616h0M1702 2627h0M1692 2689h0M1772 2612h0M1673 2609h0M1771 2674h0M1755 2609h0M1793 2689h0M1717 2697h0M1766 2652h0M1685 2652h0M1759 2646h0M1784 2698h0M1760 2704h0M1768 2689h0M1694 2637h0M1777 2670h0M1760 2658h0M1762 2714h0M1735 2714h0M1739 2734h0M1759 2711h0M1779 2684h0M1677 2640h0M1745 2610h0M1771 2621h0M1754 2712h0M1677 2634h0M1778 2712h0M1777 2623h0M1759 2637h0M1752 2738h0M1683 2621h0M1726 2715h0M1675 2632h0M1676 2634h0M1648 2436h0M1652 2461h0M1457 2579h0M1464 2555h0M1463 2561h0M1791 2696h0M1673 2438h0M1475 2546h0M1776 2433h0" stroke="#7a82c2" stroke-opacity=".72"/>
<path d="M1394 2404h0M1435 2541h0M1518 2406h0M1448 2355h0M1437 2360h0M1461 2531h0M1493 2371h0M1384 2444h0M1509 2493h0M1441 2346h0M1499 2501h0M1455 2521h0M1472 2486h0M1464 2515h0M1405 2498h0M1386 2403h0M1504 2519h0M1433 2522h0M1418 2463h0M1502 2504h0M1490 2479h0M1523 2429h0M1509 2355h0M1410 2470h0M1454 2522h0M1391 2405h0M1416 2370h0M1417 2399h0M1475 2503h0M1437 2358h0M1392 2425h0M1476 2350h0M1495 2378h0M1395 2466h0M1374 2448h0M1505 2532h0M1405 2496h0M1498 2484h0M1428 2497h0M1518 2448h0M1498 2484h0M1391 2472h0M1491 2376h0M1509 2456h0M1514 2471h0M1485 2507h0M1398 2465h0M1370 2448h0M1466 2512h0M1416 2493h0M1399 2411h0M1452 2504h0M1435 2543h0M1481 2352h0M1442 2529h0M1381 2444h0M1498 2352h0M1495 2467h0M1381 2395h0M1462 2536h0M1526 2416h0M1469 2525h0M1531 2420h0M1439 2349h0M1502 2390h0M1413 2371h0M1515 2452h0M1490 2483h0M1510 2364h0M1415 2472h0M1445 2521h0M1501 2380h0M1513 2418h0M1497 2484h0M1393 2444h0M1491 2374h0M1391 2393h0M1498 2346h0M1510 2429h0M1454 2563h0M1482 2385h0M1476 2489h0M1480 2501h0M1497 2514h0M1504 2390h0M1434 2339h0M1413 2385h0M1423 2477h0M1500 2474h0M1467 2354h0M1388 2395h0M1482 2371h0M1499 2433h0M1390 2433h0M1438 2513h0M1437 2333h0M1413 2376h0M1520 2453h0M1492 2522h0M1412 2404h0M1445 2520h0M1437 2357h0M1390 2379h0M1437 2543h0M1394 2422h0M1421 2371h0M1415 2521h0M1407 2488h0M1470 2346h0M1479 2374h0M1433 2485h0M1426 2359h0M1483 2353h0M1408 2353h0M1410 2377h0M1425 2470h0M1472 2351h0M1394 2379h0M1439 2543h0M1512 2413h0M1372 2441h0M1526 2437h0M1513 2388h0M1413 2521h0M1431 2557h0M1397 2415h0M1522 2403h0M1445 2549h0M1461 2536h0M1488 2402h0M1403 2453h0M1450 2350h0M1522 2516h0M1489 2519h0M1521 2424h0M1441 2493h0M1520 2502h0M1418 2391h0M1418 2523h0M1407 2382h0M1497 2353h0M1524 2502h0M1398 2475h0M1431 2561h0M1418 2414h0M1439 2545h0M1513 2371h0M1524 2523h0M1518 2531h0M1428 2538h0M1476 2528h0M1487 2506h0M1378 2452h0M1502 2425h0M1390 2437h0M1496 2526h0M1485 2502h0M1517 2410h0M1470 2363h0M1505 2529h0M1448 2336h0M1426 2355h0M1500 2355h0M1501 2489h0M1720 2460h0M1754 2406h0M1725 2426h0M1732 2426h0M1747 2423h0M1715 2433h0M1733 2442h0M1723 2412h0M1756 2404h0M1750 2418h0M1726 2421h0M1732 2415h0M1743 2410h0M1709 2434h0M1716 2445h0M1721 2453h0M1737 2427h0M1742 2415h0M1746 2403h0M1719 2443h0M1725 2410h0M1734 2617h0M1739 2678h0M1683 2649h0M1706 2676h0M1741 2631h0M1740 2633h0M1757 2677h0M1744 2680h0M1689 2652h0M1744 2645h0M1733 2703h0M1699 2637h0M1722 2625h0M1731 2653h0M1753 2616h0M1694 2667h0M1736 2670h0M1721 2632h0M1736 2698h0M1715 2661h0M1702 2654h0M1723 2705h0M1754 2637h0M1720 2680h0M1736 2615h0M1741 2694h0M1692 2653h0M1739 2623h0M1717 2667h0M1758 2614h0M1732 2681h0M1720 2682h0M1703 2641h0M1723 2684h0M1738 2655h0M1709 2642h0M1725 2646h0M1714 2664h0M1731 2658h0M1746 2681h0M1716 2644h0M1709 2653h0M1723 2640h0M1733 2698h0M1700 2673h0M1728 2708h0M1752 2679h0M1737 2638h0M1723 2670h0M1694 2676h0M1724 2656h0M1730 2708h0M1736 2698h0M1768 2672h0M1754 2679h0M1521 2528h0M1690 2674h0M1516 2466h0M1424 2529h0M1453 2572h0M1728 2618h0" stroke="#5e6ab2" stroke-opacity=".72"/>
<path d="M1455 2359h0M1504 2446h0M1401 2473h0M1478 2493h0M1494 2485h0M1389 2400h0M1512 2455h0M1444 2371h0M1447 2374h0M1490 2446h0M1495 2421h0M1402 2437h0M1447 2366h0M1447 2388h0M1504 2484h0M1446 2495h0M1455 2342h0M1501 2401h0M1489 2411h0M1490 2411h0M1502 2388h0M1416 2396h0M1462 2390h0M1486 2462h0M1444 2468h0M1502 2401h0M1469 2470h0M1412 2493h0M1493 2401h0M1433 2390h0M1457 2391h0M1413 2414h0M1492 2405h0M1518 2412h0M1505 2513h0M1466 2374h0M1401 2430h0M1447 2483h0M1487 2354h0M1433 2496h0M1494 2504h0M1423 2355h0M1511 2390h0M1488 2489h0M1425 2490h0M1442 2506h0M1408 2457h0M1395 2452h0M1470 2507h0M1465 2371h0M1470 2396h0M1413 2365h0M1433 2503h0M1425 2444h0M1396 2427h0M1499 2503h0M1435 2524h0M1448 2510h0M1399 2374h0M1431 2506h0M1483 2357h0M1410 2470h0M1477 2492h0M1448 2356h0M1414 2488h0M1448 2349h0M1430 2459h0M1442 2531h0M1468 2510h0M1422 2491h0M1467 2493h0M1402 2439h0M1479 2529h0M1434 2487h0M1444 2520h0M1455 2336h0M1509 2442h0M1421 2497h0M1489 2456h0M1406 2465h0M1722 2636h0M1735 2625h0M1733 2632h0M1704 2653h0M1711 2632h0" stroke="#4c5aa6" stroke-opacity=".72"/>
<path d="M1500 2428h0M1419 2420h0M1460 2358h0M1464 2513h0M1505 2472h0M1455 2355h0M1459 2495h0M1425 2476h0M1458 2476h0M1521 2422h0M1502 2428h0M1446 2407h0M1414 2420h0M1455 2353h0M1433 2485h0M1500 2453h0M1415 2389h0M1414 2449h0M1443 2503h0M1452 2342h0M1438 2387h0M1448 2492h0M1496 2384h0M1478 2417h0M1434 2434h0M1505 2467h0M1443 2402h0M1474 2500h0M1470 2378h0M1404 2386h0M1502 2505h0M1432 2369h0M1433 2520h0M1498 2373h0M1489 2356h0M1422 2473h0M1467 2383h0M1447 2408h0M1473 2383h0M1397 2395h0M1411 2411h0M1490 2469h0M1403 2462h0M1427 2503h0M1476 2463h0M1436 2416h0M1413 2465h0M1422 2478h0M1489 2395h0M1468 2526h0M1459 2401h0M1504 2466h0M1460 2507h0M1432 2420h0M1474 2527h0M1417 2489h0M1424 2491h0M1442 2350h0M1415 2406h0M1452 2410h0M1476 2360h0M1510 2435h0M1428 2446h0M1408 2419h0M1510 2466h0M1430 2532h0M1436 2478h0M1505 2506h0M1439 2502h0M1460 2493h0M1512 2405h0M1461 2400h0M1508 2437h0M1482 2508h0M1442 2470h0M1457 2363h0M1713 2654h0M1722 2625h0M1731 2630h0M1515 2517h0M1397 2443h0" stroke="#4272a8" stroke-opacity=".72"/>
<path d="M1395 2411h0M1451 2457h0M1474 2475h0M1408 2403h0M1447 2410h0M1412 2383h0M1402 2431h0M1469 2386h0M1460 2406h0M1434 2352h0M1420 2437h0M1478 2379h0M1419 2502h0M1413 2401h0M1434 2497h0M1483 2410h0M1433 2408h0M1474 2519h0M1417 2411h0M1458 2461h0M1503 2422h0M1414 2442h0M1427 2479h0M1405 2454h0M1444 2442h0M1426 2490h0M1410 2430h0M1417 2406h0M1404 2426h0M1416 2447h0M1432 2393h0M1416 2409h0M1484 2385h0M1431 2415h0M1441 2458h0M1502 2425h0M1495 2407h0M1517 2451h0M1499 2412h0M1437 2372h0M1516 2415h0M1433 2450h0M1431 2475h0M1425 2497h0M1474 2381h0M1408 2430h0M1442 2502h0M1441 2375h0M1472 2406h0M1430 2449h0M1475 2494h0M1408 2418h0M1478 2362h0M1456 2503h0M1405 2445h0M1394 2462h0M1434 2459h0M1495 2492h0M1399 2460h0M1450 2455h0M1437 2521h0M1497 2460h0M1399 2458h0M1457 2518h0" stroke="#40949c" stroke-opacity=".72"/>
<path d="M1497 2409h0M1475 2411h0M1452 2378h0M1483 2423h0M1413 2483h0M1470 2446h0M1408 2434h0M1448 2392h0M1470 2360h0M1476 2370h0M1438 2448h0M1409 2436h0M1474 2383h0M1486 2389h0M1464 2452h0M1459 2394h0M1430 2453h0M1459 2380h0M1420 2427h0M1500 2413h0M1414 2490h0M1452 2387h0M1461 2493h0M1489 2441h0M1456 2355h0M1482 2378h0M1426 2445h0M1449 2401h0M1462 2422h0M1475 2465h0M1474 2434h0M1439 2387h0M1510 2414h0M1504 2401h0M1489 2464h0M1436 2498h0M1457 2498h0M1405 2395h0M1400 2415h0M1460 2461h0M1401 2398h0M1459 2422h0M1457 2359h0M1474 2449h0M1484 2468h0M1453 2406h0M1483 2407h0M1451 2462h0M1401 2462h0M1482 2500h0M1453 2486h0M1472 2357h0" stroke="#44a860" stroke-opacity=".72"/>
<path d="M1413 2427h0M1456 2454h0M1469 2410h0M1500 2419h0M1411 2439h0M1470 2461h0M1464 2426h0M1421 2427h0M1449 2402h0M1471 2370h0M1416 2471h0M1463 2420h0M1484 2386h0M1499 2443h0M1496 2412h0M1472 2409h0M1426 2456h0M1459 2406h0M1402 2431h0M1423 2482h0M1453 2424h0M1435 2380h0M1448 2469h0M1458 2396h0M1436 2424h0M1417 2420h0M1455 2402h0M1422 2385h0M1500 2448h0M1470 2469h0M1452 2488h0M1471 2410h0M1435 2387h0M1427 2487h0M1478 2390h0M1485 2466h0M1448 2391h0M1447 2423h0M1453 2479h0M1444 2475h0M1461 2364h0M1410 2466h0" stroke="#5cb840" stroke-opacity=".72"/>
<path d="M1489 2447h0M1449 2472h0M1451 2408h0M1470 2432h0M1444 2388h0M1469 2392h0M1422 2416h0M1447 2454h0M1456 2452h0M1475 2457h0M1464 2460h0M1429 2445h0M1455 2468h0M1452 2476h0M1471 2384h0M1450 2487h0M1453 2426h0M1438 2486h0M1479 2396h0M1433 2427h0M1435 2409h0M1471 2449h0M1453 2389h0M1437 2407h0M1466 2417h0M1478 2408h0M1447 2452h0M1430 2474h0M1472 2389h0M1419 2440h0M1456 2487h0M1438 2388h0M1486 2397h0M1471 2384h0M1476 2455h0M1492 2442h0" stroke="#98c834" stroke-opacity=".72"/>
<path d="M1452 2442h0M1436 2424h0M1478 2422h0M1475 2456h0M1442 2443h0M1452 2470h0M1439 2443h0M1458 2410h0M1458 2415h0M1441 2424h0M1483 2411h0M1441 2449h0M1445 2440h0M1442 2414h0M1487 2418h0M1461 2458h0" stroke="#d8d22c" stroke-opacity=".72"/>
<path d="M1465 2441h0M1452 2441h0M1448 2446h0M1454 2427h0M1459 2456h0M1463 2451h0M1444 2439h0M1450 2437h0" stroke="#f0a026" stroke-opacity=".72"/>
<path d="M1442 2424h0M1464 2451h0M1460 2445h0M1468 2461h0M1456 2421h0" stroke="#ee6420" stroke-opacity=".72"/>
<path d="M1460 2445h0M1451 2446h0" stroke="#e6261c" stroke-opacity=".72"/>
<path d="M673 3220h0M528 3379h0M610 3432h0M389 3328h0M622 3113h0M705 3245h0M967 3213h0M752 3198h0M802 3145h0M888 3664h0M866 3752h0M1010 3334h0M743 3683h0M949 3403h0M979 3372h0M844 3711h0M684 3189h0M1032 3379h0M487 3535h0M573 3661h0M697 3660h0M468 3488h0M528 3540h0M486 3396h0M661 3644h0" stroke="#a4a4d4" stroke-opacity=".52"/>
<path d="M514 3209h0M495 3210h0M495 3355h0M457 3272h0M638 3356h0M475 3249h0M482 3370h0M678 3295h0M523 3188h0M691 3354h0M557 3192h0M542 3441h0M923 3175h0M937 3183h0M911 3334h0M911 3430h0M927 3614h0M933 3578h0M674 3599h0M736 3332h0M734 3610h0M750 3340h0M792 3701h0M806 3680h0M736 3368h0M743 3361h0M760 3321h0M699 3328h0M973 3591h0M927 3325h0M964 3506h0M771 3712h0M943 3447h0M947 3484h0M698 3416h0M913 3412h0M671 3564h0M923 3520h0M969 3439h0M962 3501h0M959 3573h0M672 3370h0M674 3389h0M637 3438h0M560 3440h0M523 3437h0M622 3583h0M631 3497h0M589 3570h0M565 3622h0M712 3604h0M714 3549h0M635 3445h0M611 3473h0M637 3509h0M550 3406h0M651 3587h0M606 3584h0M529 3445h0M619 3572h0M616 3477h0M656 3427h0M635 3550h0M642 3558h0M570 3394h0M586 3558h0M574 3479h0M769 3643h0M646 3598h0M677 3476h0M662 3420h0M590 3584h0M593 3535h0M571 3607h0M584 3469h0" stroke="#7a82c2" stroke-opacity=".75"/>
<path d="M616 3195h0M567 3205h0M614 3328h0M624 3250h0M504 3289h0M504 3289h0M550 3314h0M595 3208h0M574 3224h0M576 3333h0M520 3330h0M477 3291h0M589 3365h0M566 3213h0M616 3238h0M614 3260h0M539 3213h0M635 3258h0M520 3303h0M521 3285h0M482 3298h0M485 3269h0M499 3288h0M656 3269h0M585 3212h0M630 3345h0M601 3197h0M592 3232h0M533 3345h0M634 3281h0M656 3341h0M511 3254h0M477 3326h0M624 3301h0M604 3356h0M569 3345h0M507 3335h0M558 3356h0M617 3262h0M599 3227h0M620 3311h0M639 3220h0M617 3199h0M647 3293h0M572 3344h0M624 3341h0M603 3364h0M594 3364h0M527 3350h0M591 3347h0M593 3364h0M497 3276h0M484 3262h0M648 3390h0M587 3324h0M612 3197h0M646 3340h0M493 3330h0M639 3212h0M632 3317h0M655 3285h0M640 3308h0M509 3235h0M557 3335h0M658 3360h0M792 3221h0M923 3286h0M941 3291h0M859 3304h0M896 3204h0M761 3231h0M889 3199h0M808 3237h0M797 3195h0M939 3214h0M837 3321h0M769 3240h0M789 3299h0M932 3256h0M925 3313h0M949 3292h0M779 3275h0M948 3246h0M797 3271h0M804 3262h0M775 3268h0M777 3215h0M762 3261h0M820 3203h0M839 3312h0M923 3231h0M907 3279h0M882 3313h0M797 3248h0M818 3320h0M784 3287h0M924 3243h0M802 3297h0M785 3218h0M797 3249h0M836 3338h0M916 3265h0M773 3261h0M837 3190h0M861 3339h0M914 3243h0M878 3194h0M906 3277h0M861 3202h0M911 3296h0M901 3260h0M951 3239h0M828 3213h0M849 3184h0M845 3208h0M822 3335h0M843 3189h0M800 3197h0M839 3442h0M911 3587h0M769 3590h0M807 3612h0M705 3585h0M844 3432h0M902 3551h0M853 3601h0M876 3538h0M772 3561h0M808 3617h0M833 3625h0M795 3632h0M826 3414h0M748 3579h0M865 3471h0M762 3495h0M890 3474h0M914 3494h0M883 3607h0M906 3465h0M802 3633h0M759 3546h0M864 3459h0M792 3641h0M893 3575h0M791 3669h0M774 3500h0M837 3384h0M764 3576h0M782 3544h0M883 3415h0M908 3510h0M850 3417h0M865 3363h0M767 3484h0M882 3585h0M758 3568h0M860 3626h0M855 3607h0M876 3454h0M755 3601h0M772 3621h0M884 3460h0M746 3528h0M831 3648h0M846 3663h0M829 3657h0M887 3410h0M925 3589h0M908 3444h0M853 3588h0M821 3414h0M896 3484h0M891 3545h0M769 3605h0M890 3420h0M842 3618h0M857 3627h0M825 3432h0M860 3444h0M811 3633h0M792 3589h0M923 3447h0M786 3635h0M825 3604h0M799 3691h0M860 3444h0M695 3470h0M729 3444h0M890 3513h0M764 3469h0M882 3578h0M814 3399h0M798 3606h0M752 3449h0M839 3622h0M715 3348h0M863 3392h0M784 3420h0M792 3396h0M930 3477h0M688 3518h0M909 3396h0M710 3584h0M743 3457h0M725 3520h0M897 3358h0M766 3327h0M760 3513h0M846 3355h0M776 3403h0M797 3292h0M713 3508h0M780 3339h0M881 3416h0M785 3339h0M884 3369h0M803 3399h0M708 3532h0M759 3439h0M707 3589h0M843 3381h0M728 3407h0M760 3528h0M775 3561h0M912 3475h0M797 3584h0M809 3394h0M917 3390h0M922 3485h0M893 3345h0M859 3334h0M903 3391h0M713 3353h0M773 3646h0M931 3457h0M790 3345h0M691 3532h0M728 3353h0M925 3366h0M728 3450h0M884 3313h0M865 3426h0M804 3377h0M733 3431h0M745 3469h0M738 3554h0M704 3416h0M848 3391h0M857 3405h0M915 3473h0M916 3464h0M874 3440h0M761 3401h0M749 3558h0M797 3364h0M745 3487h0M854 3364h0M790 3360h0M739 3457h0M819 3326h0M816 3396h0M930 3607h0M842 3603h0M769 3556h0M882 3394h0M919 3580h0M908 3316h0M720 3402h0M695 3472h0M785 3612h0M782 3344h0M804 3347h0M800 3324h0M878 3396h0M756 3538h0M769 3384h0M900 3394h0M913 3364h0M915 3453h0M757 3399h0M770 3605h0M884 3467h0M730 3473h0M867 3370h0M826 3604h0M934 3310h0M751 3423h0M787 3382h0M838 3343h0M752 3414h0M792 3433h0M686 3560h0M882 3379h0M817 3354h0M830 3362h0M653 3339h0M743 3581h0M933 3601h0M727 3492h0M617 3543h0M714 3442h0M660 3524h0M668 3547h0M584 3507h0M670 3549h0M586 3510h0M672 3543h0M678 3503h0M683 3489h0M682 3552h0M707 3440h0M664 3522h0M656 3358h0M711 3535h0M703 3439h0M736 3465h0M680 3546h0M743 3526h0M604 3546h0M706 3489h0M656 3516h0M597 3505h0M653 3403h0M758 3487h0M788 3661h0M701 3403h0M738 3512h0M761 3436h0M641 3390h0M660 3508h0M693 3489h0" stroke="#5e6ab2" stroke-opacity=".75"/>
<path d="M531 3275h0M516 3288h0M598 3311h0M532 3291h0M508 3265h0M502 3303h0M614 3231h0M623 3225h0M629 3320h0M498 3268h0M612 3278h0M502 3269h0M560 3209h0M600 3241h0M538 3241h0M506 3260h0M615 3306h0M515 3243h0M493 3323h0M600 3257h0M531 3240h0M595 3247h0M619 3259h0M603 3280h0M501 3295h0M577 3336h0M494 3295h0M552 3239h0M498 3332h0M523 3311h0M644 3318h0M550 3336h0M579 3317h0M561 3204h0M638 3273h0M659 3265h0M556 3315h0M600 3338h0M530 3326h0M519 3262h0M902 3269h0M889 3286h0M845 3206h0M787 3278h0M913 3284h0M871 3223h0M811 3267h0M861 3220h0M823 3212h0M890 3230h0M829 3259h0M923 3217h0M816 3265h0M882 3221h0M815 3229h0M880 3307h0M866 3302h0M885 3293h0M827 3236h0M850 3231h0M861 3193h0M909 3249h0M816 3233h0M888 3292h0M901 3215h0M908 3299h0M844 3215h0M793 3206h0M790 3504h0M769 3465h0M750 3577h0M791 3461h0M781 3506h0M897 3550h0M810 3578h0M889 3559h0M737 3416h0M864 3566h0M754 3550h0M757 3551h0M843 3444h0M823 3584h0M862 3563h0M801 3433h0M847 3576h0M862 3548h0M798 3579h0M829 3428h0M785 3475h0M876 3418h0M880 3488h0M896 3540h0M888 3416h0M877 3509h0M784 3493h0M800 3601h0M814 3582h0M791 3515h0M856 3582h0M878 3491h0M791 3454h0M774 3520h0M809 3546h0M785 3534h0M839 3571h0M864 3593h0M854 3539h0M807 3580h0M854 3592h0M887 3496h0M759 3483h0M885 3544h0M768 3464h0M786 3491h0M813 3290h0M879 3441h0M869 3399h0M880 3541h0M818 3385h0M803 3350h0M837 3416h0M772 3351h0M775 3448h0M808 3609h0M785 3505h0M813 3413h0M922 3487h0M840 3649h0M853 3564h0M768 3453h0M827 3406h0M810 3459h0M797 3485h0M686 3513h0M821 3420h0M761 3469h0M898 3375h0M690 3522h0M752 3558h0M783 3464h0M749 3484h0M728 3459h0M687 3541h0M681 3553h0M733 3422h0" stroke="#4c5aa6" stroke-opacity=".75"/>
<path d="M625 3226h0M527 3250h0M602 3204h0M634 3306h0M492 3339h0M535 3251h0M600 3287h0M584 3231h0M549 3249h0M566 3199h0M596 3263h0M551 3352h0M534 3278h0M553 3238h0M599 3292h0M593 3263h0M531 3229h0M498 3284h0M594 3312h0M528 3231h0M582 3320h0M540 3284h0M546 3251h0M633 3268h0M593 3256h0M546 3281h0M529 3273h0M525 3272h0M547 3222h0M547 3324h0M610 3372h0M521 3243h0M597 3355h0M529 3313h0M545 3314h0M567 3312h0M614 3313h0M633 3274h0M636 3285h0M523 3307h0M522 3336h0M561 3319h0M490 3330h0M526 3243h0M591 3260h0M562 3218h0M565 3215h0M853 3266h0M895 3251h0M823 3230h0M850 3285h0M850 3219h0M910 3271h0M845 3226h0M804 3266h0M839 3253h0M871 3287h0M829 3285h0M820 3207h0M848 3283h0M872 3226h0M821 3229h0M880 3250h0M852 3223h0M870 3273h0M840 3322h0M810 3216h0M832 3284h0M904 3244h0M875 3274h0M844 3298h0M874 3281h0M936 3289h0M907 3264h0M849 3243h0M851 3285h0M799 3279h0M859 3221h0M881 3257h0M814 3269h0M893 3251h0M829 3324h0M912 3250h0M868 3213h0M904 3250h0M848 3222h0M863 3226h0M897 3236h0M890 3240h0M874 3283h0M853 3280h0M852 3264h0M812 3301h0M889 3221h0M908 3238h0M891 3538h0M799 3508h0M820 3492h0M844 3501h0M822 3493h0M854 3521h0M882 3595h0M781 3507h0M873 3472h0M839 3413h0M854 3517h0M920 3484h0M842 3564h0M871 3591h0M879 3432h0M868 3554h0M820 3464h0M803 3462h0M835 3456h0M793 3479h0M859 3513h0M883 3473h0M874 3554h0M778 3495h0M864 3447h0M763 3600h0M842 3531h0M867 3558h0M802 3401h0M834 3597h0M816 3583h0M814 3442h0M857 3469h0M868 3412h0M826 3638h0M825 3554h0M829 3459h0M850 3449h0M817 3477h0M875 3530h0M876 3608h0M875 3569h0M831 3456h0M847 3556h0M805 3487h0M783 3468h0M819 3581h0M826 3562h0M864 3585h0M863 3453h0M850 3512h0M877 3610h0M834 3565h0M852 3532h0M895 3491h0M860 3511h0M805 3535h0M791 3463h0M797 3598h0M808 3437h0M857 3375h0M850 3301h0M865 3449h0M849 3594h0M723 3430h0M812 3475h0M764 3511h0M815 3427h0M810 3462h0M854 3481h0M802 3441h0M724 3412h0M725 3500h0M890 3561h0M874 3287h0M871 3565h0M746 3455h0M902 3560h0M828 3395h0M917 3380h0M868 3413h0M754 3453h0M717 3491h0M737 3527h0" stroke="#4272a8" stroke-opacity=".75"/>
<path d="M549 3241h0M587 3231h0M526 3296h0M540 3270h0M601 3287h0M531 3280h0M593 3284h0M601 3277h0M604 3303h0M518 3246h0M578 3331h0M516 3275h0M558 3314h0M493 3267h0M590 3277h0M547 3238h0M530 3304h0M574 3324h0M630 3314h0M545 3272h0M586 3294h0M514 3318h0M581 3278h0M589 3259h0M558 3310h0M625 3299h0M554 3223h0M560 3239h0M559 3295h0M585 3307h0M547 3291h0M604 3312h0M592 3240h0M590 3333h0M640 3280h0M588 3260h0M599 3286h0M577 3231h0M579 3234h0M555 3323h0M578 3310h0M609 3234h0M564 3239h0M651 3267h0M598 3309h0M533 3256h0M576 3311h0M577 3233h0M631 3295h0M899 3246h0M826 3261h0M880 3253h0M832 3267h0M866 3258h0M866 3200h0M827 3258h0M802 3233h0M916 3218h0M888 3292h0M903 3234h0M930 3256h0M855 3271h0M873 3286h0M876 3255h0M827 3264h0M839 3237h0M839 3263h0M874 3249h0M819 3273h0M913 3227h0M899 3227h0M839 3215h0M892 3299h0M827 3245h0M844 3245h0M899 3259h0M887 3298h0M828 3236h0M866 3239h0M837 3275h0M817 3287h0M841 3216h0M833 3250h0M877 3261h0M821 3233h0M921 3280h0M876 3232h0M821 3284h0M851 3278h0M868 3294h0M899 3223h0M871 3283h0M924 3269h0M848 3295h0M844 3243h0M856 3234h0M857 3503h0M793 3569h0M834 3446h0M881 3449h0M857 3473h0M790 3571h0M796 3510h0M863 3493h0M818 3593h0M900 3527h0M865 3487h0M849 3543h0M777 3496h0M832 3589h0M853 3496h0M817 3410h0M784 3552h0M823 3570h0M812 3586h0M792 3522h0M862 3531h0M867 3565h0M878 3570h0M787 3507h0M871 3548h0M823 3476h0M776 3595h0M816 3563h0M763 3545h0M797 3588h0M778 3608h0M809 3531h0M768 3548h0M814 3554h0M845 3435h0M848 3490h0M813 3436h0M808 3536h0M816 3604h0M829 3560h0M840 3462h0M809 3540h0M868 3415h0M810 3553h0M844 3601h0M824 3424h0M844 3537h0M851 3466h0M795 3491h0M842 3484h0M782 3480h0M813 3441h0M893 3524h0M867 3538h0M864 3483h0M876 3512h0M841 3529h0M853 3570h0M894 3476h0M874 3529h0M842 3467h0M818 3572h0M788 3466h0M837 3499h0M866 3489h0M753 3513h0M890 3500h0M828 3483h0M927 3264h0M809 3620h0M812 3423h0M795 3447h0M797 3548h0M820 3451h0M825 3453h0M868 3583h0M799 3509h0M849 3427h0M782 3459h0M809 3576h0M896 3559h0M833 3458h0M790 3546h0M805 3214h0M856 3486h0M843 3603h0M751 3493h0M751 3536h0" stroke="#40949c" stroke-opacity=".75"/>
<path d="M578 3308h0M494 3267h0M536 3245h0M548 3294h0M539 3329h0M592 3304h0M537 3320h0M586 3293h0M603 3245h0M541 3279h0M523 3320h0M623 3271h0M636 3269h0M543 3299h0M558 3217h0M615 3265h0M607 3258h0M561 3310h0M592 3229h0M514 3266h0M531 3248h0M594 3260h0M532 3248h0M571 3305h0M556 3280h0M574 3228h0M565 3305h0M596 3226h0M592 3294h0M534 3260h0M531 3246h0M628 3267h0M579 3247h0M612 3290h0M562 3321h0M647 3278h0M557 3293h0M586 3277h0M575 3248h0M537 3248h0M590 3292h0M891 3214h0M827 3252h0M846 3269h0M842 3264h0M834 3294h0M895 3297h0M814 3286h0M846 3208h0M833 3232h0M856 3245h0M839 3259h0M878 3284h0M864 3259h0M822 3282h0M849 3250h0M890 3275h0M881 3227h0M920 3261h0M870 3229h0M826 3297h0M844 3249h0M864 3264h0M871 3290h0M903 3221h0M844 3290h0M841 3285h0M868 3200h0M859 3227h0M820 3218h0M900 3239h0M881 3220h0M894 3251h0M841 3223h0M831 3252h0M861 3464h0M816 3614h0M796 3500h0M831 3464h0M873 3456h0M864 3562h0M829 3427h0M864 3559h0M862 3532h0M803 3504h0M879 3433h0M771 3458h0M852 3535h0M844 3453h0M817 3498h0M838 3440h0M841 3466h0M808 3430h0M801 3451h0M822 3464h0M803 3444h0M825 3567h0M777 3508h0M814 3584h0M841 3602h0M763 3544h0M843 3576h0M861 3474h0M784 3538h0M835 3459h0M854 3579h0M864 3597h0M879 3584h0M837 3569h0M883 3524h0M895 3542h0M839 3558h0M789 3458h0M789 3537h0M875 3598h0M881 3499h0M847 3481h0M863 3547h0M811 3603h0M805 3504h0M859 3521h0M766 3504h0M803 3500h0M887 3487h0M868 3516h0M871 3512h0M847 3439h0M867 3446h0M839 3424h0M797 3471h0M776 3518h0M790 3535h0M808 3484h0M869 3482h0M638 3272h0" stroke="#44a860" stroke-opacity=".75"/>
<path d="M557 3247h0M609 3304h0M621 3288h0M513 3273h0M562 3234h0M593 3283h0M579 3243h0M556 3327h0M589 3290h0M529 3261h0M556 3226h0M544 3313h0M543 3279h0M565 3318h0M592 3241h0M539 3305h0M595 3269h0M593 3269h0M601 3318h0M528 3247h0M614 3267h0M602 3277h0M560 3253h0M553 3281h0M575 3295h0M550 3289h0M576 3248h0M525 3288h0M615 3274h0M550 3255h0M539 3266h0M618 3310h0M623 3305h0M603 3301h0M587 3267h0M574 3286h0M622 3301h0M890 3272h0M850 3293h0M889 3251h0M891 3258h0M814 3222h0M828 3235h0M868 3208h0M813 3256h0M869 3209h0M845 3247h0M829 3242h0M885 3229h0M831 3218h0M823 3280h0M819 3235h0M842 3259h0M823 3298h0M870 3209h0M842 3247h0M880 3242h0M840 3229h0M840 3290h0M816 3292h0M868 3288h0M836 3206h0M873 3279h0M848 3287h0M866 3270h0M889 3274h0M854 3278h0M872 3240h0M838 3218h0M840 3284h0M869 3297h0M863 3248h0M885 3245h0M844 3267h0M859 3291h0M853 3240h0M819 3234h0M815 3227h0M854 3503h0M809 3531h0M794 3522h0M849 3481h0M783 3538h0M821 3554h0M852 3494h0M877 3517h0M783 3512h0M796 3537h0M781 3531h0M859 3577h0M838 3488h0M865 3512h0M816 3586h0M848 3489h0M851 3503h0M816 3464h0M828 3606h0M849 3561h0M840 3549h0M762 3470h0M831 3607h0M868 3549h0M861 3523h0M866 3525h0M819 3500h0M799 3513h0M806 3478h0M805 3472h0M833 3562h0M876 3603h0M858 3580h0M809 3542h0M862 3543h0M843 3544h0M849 3569h0M831 3614h0M843 3580h0M798 3565h0M809 3462h0M849 3569h0M809 3599h0M827 3423h0M791 3573h0M824 3608h0M821 3457h0M870 3486h0M851 3508h0M824 3512h0M822 3601h0M804 3482h0M835 3577h0M791 3573h0M798 3479h0M812 3593h0M781 3472h0M813 3578h0M875 3589h0M858 3295h0M799 3540h0M832 3474h0M780 3481h0M852 3440h0M796 3469h0M790 3472h0M616 3301h0" stroke="#5cb840" stroke-opacity=".75"/>
<path d="M577 3243h0M560 3257h0M536 3245h0M540 3282h0M586 3313h0M579 3252h0M611 3311h0M558 3316h0M590 3311h0M529 3249h0M587 3272h0M543 3251h0M521 3266h0M599 3276h0M555 3291h0M555 3246h0M547 3282h0M599 3270h0M558 3293h0M554 3289h0M589 3318h0M523 3262h0M609 3284h0M839 3242h0M857 3289h0M829 3247h0M888 3275h0M841 3257h0M867 3251h0M897 3223h0M859 3244h0M824 3282h0M835 3279h0M864 3288h0M851 3248h0M845 3259h0M874 3247h0M820 3227h0M900 3262h0M889 3271h0M829 3268h0M863 3246h0M891 3222h0M880 3229h0M887 3292h0M858 3219h0M897 3236h0M877 3239h0M858 3245h0M878 3271h0M843 3554h0M814 3594h0M808 3524h0M830 3516h0M859 3486h0M792 3542h0M789 3464h0M866 3520h0M819 3604h0M796 3456h0M801 3483h0M856 3494h0M819 3593h0M865 3520h0M865 3544h0M858 3516h0M826 3512h0M861 3554h0M829 3493h0M809 3602h0M870 3512h0M849 3466h0M839 3531h0M845 3528h0M871 3509h0M809 3471h0M839 3531h0M824 3525h0M836 3500h0M867 3531h0M845 3475h0M795 3481h0M816 3548h0M822 3512h0M846 3581h0M859 3551h0M799 3515h0M819 3501h0M809 3577h0M825 3510h0M862 3495h0M797 3490h0M817 3554h0M834 3465h0M834 3455h0M815 3587h0M806 3519h0M809 3516h0M791 3517h0M858 3555h0M782 3517h0M862 3291h0M819 3444h0M846 3544h0M843 3444h0M813 3454h0M785 3485h0" stroke="#98c834" stroke-opacity=".75"/>
<path d="M554 3303h0M546 3289h0M573 3281h0M583 3306h0M554 3284h0M579 3243h0M588 3299h0M546 3273h0M577 3305h0M575 3305h0M569 3256h0M572 3266h0M546 3262h0M569 3286h0M593 3268h0M593 3269h0M531 3243h0M870 3239h0M849 3234h0M855 3233h0M837 3266h0M879 3261h0M828 3251h0M837 3272h0M859 3237h0M843 3255h0M826 3481h0M829 3510h0M844 3543h0M845 3488h0M860 3501h0M854 3492h0M855 3562h0M827 3489h0M827 3488h0M827 3550h0M849 3501h0M825 3461h0M835 3468h0M812 3499h0M827 3457h0M810 3520h0M845 3518h0M820 3531h0M857 3492h0M845 3565h0M843 3472h0M825 3544h0M797 3471h0M814 3489h0M828 3543h0M839 3509h0M810 3503h0M809 3464h0M839 3561h0M814 3552h0M849 3525h0M843 3473h0M826 3463h0" stroke="#d8d22c" stroke-opacity=".75"/>
<path d="M563 3256h0M549 3259h0M570 3248h0M571 3290h0M553 3298h0M554 3291h0M573 3289h0M557 3262h0M555 3256h0M580 3262h0M574 3252h0M850 3256h0M843 3244h0M838 3544h0M804 3527h0M827 3523h0M826 3522h0M837 3553h0M830 3520h0M812 3547h0M803 3517h0M802 3533h0M856 3484h0M847 3490h0" stroke="#f0a026" stroke-opacity=".75"/>
<path d="M556 3284h0M552 3276h0M567 3254h0M566 3291h0M572 3284h0M572 3261h0M568 3261h0M560 3276h0M836 3535h0M826 3513h0M839 3541h0M812 3542h0M833 3525h0M836 3537h0M820 3516h0M819 3540h0" stroke="#ee6420" stroke-opacity=".75"/>
<path d="M565 3268h0M564 3256h0M840 3538h0M819 3526h0M818 3509h0M812 3513h0M821 3519h0M825 3542h0M830 3538h0M813 3504h0M824 3519h0M817 3533h0M816 3528h0" stroke="#e6261c" stroke-opacity=".75"/>
<path d="M1360 3250h0M1366 3351h0M1518 3253h0M1445 3153h0M1532 3302h0M1514 3403h0M1492 3165h0M1412 3126h0M1561 3478h0M1432 3135h0M1422 3115h0M1359 3447h0M1543 3440h0M1479 3461h0M1347 3442h0M1405 3160h0M1405 3551h0M1542 3533h0M1480 3187h0M1430 3536h0M1331 3317h0M1443 3492h0M1417 3461h0M1376 3533h0M1451 3131h0M1551 3265h0M1358 3342h0M1377 3498h0M1437 3418h0M1480 3522h0M1437 3457h0M1528 3116h0M1478 3505h0M1663 3374h0M1645 3150h0M1795 3322h0M1702 3179h0M1619 3215h0M1703 3297h0M1869 3205h0M1679 3294h0M1825 3284h0M1911 3283h0M1877 3169h0M1582 3183h0M1840 3216h0M1821 3207h0M1892 3279h0M1646 3250h0M1651 3223h0M1903 3307h0M1838 3202h0M1672 3216h0M1592 3215h0M1667 3301h0M1792 3191h0M1853 3358h0M1915 3178h0M1646 3298h0M1806 3275h0M1848 3295h0M1938 3256h0M1943 3244h0M1869 3260h0M1554 3188h0M1912 3230h0M1871 3516h0M1788 3567h0M1762 3603h0M1767 3684h0M1703 3367h0M1654 3490h0M1809 3601h0M1720 3330h0M1797 3653h0M1709 3622h0M1721 3410h0M1684 3622h0M1796 3375h0M1665 3501h0M1704 3460h0M1823 3443h0M1811 3573h0M1699 3474h0M1679 3481h0M1834 3446h0M1858 3445h0M1654 3271h0M1608 3727h0M1589 3378h0M1608 3613h0M1558 3214h0M1727 3391h0M1568 3305h0M1559 3397h0M1646 3519h0M1734 3342h0M1631 3463h0M1568 3163h0M1670 3673h0M1641 3426h0M1529 3365h0M1587 3540h0M1672 3321h0M1671 3142h0M1591 3239h0M1578 3289h0M1534 3531h0M1622 3717h0M1531 3490h0M1880 3398h0M1621 3390h0" stroke="#a4a4d4" stroke-opacity=".50"/>
<path d="M1376 3269h0M1385 3400h0M1361 3291h0M1524 3319h0M1458 3173h0M1377 3212h0M1374 3216h0M1532 3235h0M1365 3322h0M1506 3245h0M1463 3203h0M1372 3211h0M1454 3197h0M1500 3211h0M1498 3401h0M1521 3433h0M1524 3235h0M1529 3349h0M1502 3345h0M1451 3185h0M1388 3413h0M1513 3434h0M1527 3352h0M1360 3312h0M1555 3239h0M1514 3446h0M1506 3232h0M1369 3426h0M1465 3439h0M1458 3457h0M1519 3147h0M1449 3438h0M1407 3423h0M1528 3328h0M1545 3206h0M1519 3434h0M1513 3346h0M1443 3467h0M1377 3408h0M1528 3309h0M1517 3203h0M1490 3429h0M1382 3422h0M1457 3467h0M1783 3233h0M1629 3205h0M1795 3257h0M1678 3265h0M1726 3208h0M1837 3238h0M1871 3224h0M1827 3245h0M1779 3289h0M1783 3165h0M1588 3263h0M1783 3218h0M1779 3207h0M1748 3307h0M1815 3251h0M1697 3202h0M1861 3243h0M1680 3233h0M1756 3209h0M1850 3250h0M1660 3248h0M1605 3264h0M1671 3272h0M1621 3200h0M1667 3256h0M1780 3351h0M1716 3208h0M1692 3223h0M1828 3268h0M1578 3271h0M1788 3298h0M1783 3246h0M1833 3265h0M1801 3246h0M1712 3277h0M1773 3380h0M1659 3246h0M1797 3257h0M1778 3351h0M1765 3274h0M1757 3282h0M1746 3282h0M1850 3240h0M1692 3272h0M1774 3391h0M1718 3249h0M1692 3287h0M1785 3286h0M1859 3228h0M1760 3225h0M1636 3195h0M1602 3257h0M1805 3206h0M1756 3211h0M1692 3185h0M1728 3525h0M1692 3512h0M1792 3428h0M1731 3570h0M1771 3433h0M1736 3596h0M1798 3473h0M1767 3398h0M1723 3591h0M1725 3566h0M1827 3468h0M1697 3540h0M1810 3459h0M1721 3558h0M1801 3527h0M1791 3496h0M1816 3539h0M1787 3459h0M1800 3490h0M1836 3583h0M1761 3507h0M1732 3435h0M1771 3587h0M1701 3513h0M1760 3423h0M1813 3489h0M1761 3539h0M1792 3515h0M1740 3558h0M1817 3471h0M1790 3440h0M1726 3423h0M1833 3564h0M1793 3408h0M1805 3463h0M1784 3538h0M1739 3583h0M1773 3459h0M1800 3411h0M1823 3527h0M1760 3427h0M1787 3586h0M1787 3546h0M1828 3491h0M1755 3536h0M1792 3504h0M1831 3471h0M1756 3590h0M1782 3512h0M1774 3571h0M1730 3584h0M1745 3511h0M1682 3213h0M1573 3299h0M1539 3201h0M1755 3403h0M1689 3551h0M1653 3311h0M1776 3405h0M1735 3507h0M1779 3170h0M1556 3244h0M1484 3206h0M1514 3147h0M1692 3533h0M1526 3359h0" stroke="#7a82c2" stroke-opacity=".72"/>
<path d="M1492 3342h0M1456 3351h0M1386 3342h0M1509 3333h0M1417 3344h0M1480 3263h0M1476 3368h0M1370 3299h0M1434 3215h0M1436 3198h0M1451 3368h0M1459 3225h0M1403 3212h0M1416 3222h0M1508 3332h0M1445 3374h0M1474 3229h0M1427 3212h0M1425 3198h0M1471 3347h0M1399 3366h0M1392 3350h0M1406 3225h0M1428 3242h0M1390 3383h0M1497 3265h0M1448 3219h0M1500 3283h0M1396 3239h0M1472 3377h0M1406 3210h0M1378 3274h0M1407 3284h0M1376 3314h0M1465 3207h0M1405 3239h0M1489 3266h0M1501 3314h0M1515 3284h0M1443 3214h0M1502 3308h0M1448 3380h0M1497 3344h0M1481 3358h0M1395 3335h0M1403 3369h0M1466 3387h0M1381 3279h0M1410 3324h0M1494 3241h0M1477 3374h0M1458 3242h0M1411 3355h0M1416 3253h0M1387 3378h0M1484 3347h0M1435 3201h0M1481 3372h0M1386 3314h0M1500 3325h0M1393 3238h0M1505 3289h0M1479 3385h0M1482 3263h0M1378 3286h0M1397 3228h0M1486 3234h0M1478 3267h0M1386 3381h0M1442 3403h0M1452 3371h0M1386 3297h0M1475 3214h0M1476 3242h0M1411 3325h0M1491 3276h0M1425 3229h0M1517 3277h0M1465 3371h0M1404 3225h0M1390 3260h0M1382 3251h0M1424 3400h0M1450 3395h0M1498 3294h0M1427 3355h0M1445 3222h0M1397 3242h0M1471 3252h0M1449 3219h0M1407 3253h0M1455 3370h0M1428 3364h0M1391 3262h0M1460 3355h0M1483 3404h0M1394 3323h0M1484 3334h0M1412 3211h0M1382 3259h0M1443 3390h0M1372 3257h0M1430 3211h0M1413 3260h0M1459 3349h0M1411 3197h0M1406 3215h0M1512 3338h0M1432 3219h0M1493 3287h0M1399 3234h0M1393 3302h0M1450 3213h0M1389 3351h0M1461 3389h0M1516 3275h0M1391 3305h0M1403 3343h0M1513 3281h0M1473 3425h0M1448 3397h0M1399 3419h0M1415 3422h0M1455 3413h0M1452 3447h0M1469 3432h0M1454 3414h0M1413 3386h0M1458 3412h0M1451 3217h0M1453 3370h0M1493 3325h0M1394 3324h0M1481 3222h0M1496 3343h0M1393 3383h0M1421 3392h0M1517 3312h0M1499 3313h0M1427 3383h0M1386 3287h0M1410 3371h0M1409 3214h0M1411 3374h0M1381 3258h0M1410 3429h0M1402 3405h0M1451 3448h0M1454 3422h0M1493 3240h0M1406 3410h0M1408 3399h0M1383 3392h0M1481 3241h0M1473 3379h0M1480 3413h0M1469 3374h0M1476 3264h0M1388 3337h0M1403 3231h0M1429 3386h0M1392 3282h0M1386 3381h0M1487 3417h0M1462 3381h0M1413 3426h0M1406 3370h0M1481 3409h0M1691 3252h0M1763 3261h0M1717 3214h0M1750 3252h0M1727 3231h0M1755 3221h0M1756 3253h0M1751 3270h0M1717 3265h0M1739 3264h0M1832 3263h0M1748 3250h0M1832 3254h0M1792 3210h0M1748 3311h0M1740 3229h0M1721 3231h0M1730 3233h0M1725 3248h0M1699 3220h0M1767 3217h0M1794 3210h0M1728 3246h0M1745 3263h0M1756 3230h0M1703 3221h0M1720 3225h0M1738 3236h0M1759 3251h0M1749 3294h0M1754 3293h0M1749 3294h0M1709 3268h0M1696 3248h0M1755 3232h0M1845 3261h0M1691 3259h0M1694 3262h0M1839 3245h0M1701 3220h0M1714 3269h0M1729 3250h0M1749 3519h0M1772 3545h0M1748 3511h0M1748 3570h0M1751 3485h0M1785 3420h0M1745 3425h0M1757 3568h0M1783 3480h0M1768 3470h0M1767 3475h0M1773 3491h0M1810 3521h0M1745 3470h0M1776 3544h0M1750 3502h0M1740 3420h0M1800 3513h0M1772 3476h0M1729 3477h0M1734 3432h0M1754 3561h0M1783 3478h0M1761 3473h0M1742 3419h0M1783 3484h0M1761 3486h0M1811 3523h0M1753 3576h0M1756 3533h0M1764 3494h0M1748 3415h0M1768 3561h0M1761 3479h0M1768 3538h0M1753 3475h0M1744 3526h0M1741 3470h0M1731 3483h0M1740 3474h0M1758 3568h0M1757 3473h0M1783 3477h0M1773 3495h0M1740 3524h0M1782 3430h0M1486 3426h0M1496 3384h0M1386 3334h0M1790 3415h0M1451 3423h0M1764 3253h0" stroke="#5e6ab2" stroke-opacity=".72"/>
<path d="M1442 3358h0M1445 3244h0M1450 3217h0M1379 3313h0M1438 3365h0M1390 3250h0M1427 3250h0M1415 3285h0M1493 3297h0M1433 3362h0M1416 3264h0M1461 3256h0M1434 3240h0M1456 3354h0M1416 3242h0M1475 3220h0M1408 3205h0M1420 3225h0M1433 3351h0M1428 3240h0M1404 3342h0M1494 3289h0M1405 3348h0M1483 3273h0M1446 3339h0M1383 3379h0M1451 3259h0M1450 3358h0M1415 3259h0M1483 3314h0M1416 3252h0M1414 3330h0M1451 3389h0M1404 3366h0M1481 3385h0M1471 3239h0M1442 3360h0M1481 3393h0M1401 3346h0M1485 3267h0M1487 3375h0M1480 3345h0M1425 3246h0M1451 3383h0M1429 3372h0M1491 3303h0M1508 3273h0" stroke="#4c5aa6" stroke-opacity=".72"/>
<path d="M1428 3279h0M1480 3313h0M1429 3258h0M1480 3300h0M1391 3360h0M1460 3218h0M1470 3297h0M1395 3319h0M1457 3335h0M1444 3356h0M1497 3307h0M1461 3267h0M1472 3303h0M1481 3352h0M1387 3297h0M1462 3340h0M1481 3345h0M1424 3263h0M1473 3230h0M1481 3294h0M1430 3324h0M1435 3238h0M1501 3291h0M1474 3307h0M1393 3293h0M1435 3360h0M1413 3350h0M1465 3276h0M1421 3216h0M1483 3365h0M1403 3267h0M1403 3362h0M1450 3335h0M1448 3244h0M1406 3284h0M1389 3325h0M1457 3261h0M1426 3280h0M1468 3256h0M1411 3241h0M1476 3344h0M1393 3268h0M1474 3280h0M1456 3272h0M1414 3316h0M1481 3382h0M1412 3336h0M1399 3336h0M1453 3217h0M1387 3320h0M1458 3346h0M1421 3246h0M1390 3357h0M1431 3259h0M1404 3308h0M1503 3326h0M1475 3333h0M1379 3316h0M1420 3358h0M1396 3269h0M1467 3228h0M1383 3291h0M1414 3320h0M1764 3479h0" stroke="#4272a8" stroke-opacity=".72"/>
<path d="M1390 3319h0M1463 3336h0M1399 3271h0M1431 3365h0M1483 3322h0M1431 3337h0M1467 3233h0M1471 3297h0M1448 3229h0M1384 3311h0M1405 3308h0M1431 3315h0M1405 3321h0M1427 3262h0M1391 3342h0M1416 3295h0M1436 3258h0M1452 3353h0M1397 3302h0M1471 3251h0M1457 3323h0M1485 3248h0M1429 3224h0M1469 3258h0M1417 3238h0M1402 3327h0M1407 3254h0M1442 3339h0M1456 3241h0M1438 3371h0M1436 3227h0M1456 3355h0M1433 3262h0M1476 3326h0M1487 3305h0M1432 3358h0M1459 3330h0M1422 3244h0M1390 3293h0M1480 3249h0M1419 3223h0M1493 3275h0M1392 3275h0M1414 3340h0M1413 3286h0M1481 3289h0M1393 3271h0M1453 3241h0M1453 3315h0M1414 3268h0M1416 3242h0M1413 3232h0M1484 3374h0M1491 3279h0" stroke="#40949c" stroke-opacity=".72"/>
<path d="M1416 3328h0M1488 3281h0M1450 3231h0M1454 3337h0M1460 3262h0M1416 3291h0M1400 3298h0M1461 3233h0M1398 3289h0M1418 3285h0M1418 3280h0M1490 3286h0M1434 3226h0M1447 3232h0M1465 3330h0M1470 3287h0M1445 3220h0M1468 3256h0M1443 3319h0M1440 3260h0M1465 3259h0M1455 3337h0M1426 3286h0M1412 3298h0M1399 3308h0M1421 3297h0M1433 3338h0M1414 3344h0M1477 3279h0M1409 3348h0M1404 3254h0M1414 3297h0M1448 3231h0M1452 3335h0M1441 3318h0M1414 3337h0M1402 3318h0M1485 3279h0M1473 3330h0M1417 3230h0M1453 3236h0M1458 3259h0M1494 3276h0M1421 3330h0M1391 3267h0M1433 3349h0M1449 3230h0M1473 3283h0M1400 3308h0M1457 3241h0M1471 3312h0M1419 3318h0M1404 3295h0M1423 3248h0M1437 3346h0" stroke="#44a860" stroke-opacity=".72"/>
<path d="M1397 3302h0M1397 3311h0M1471 3329h0M1414 3265h0M1454 3230h0M1466 3251h0M1458 3287h0M1433 3272h0M1423 3313h0M1483 3277h0M1454 3341h0M1414 3281h0M1440 3259h0M1425 3278h0M1416 3233h0M1401 3298h0M1487 3300h0M1447 3339h0M1435 3323h0M1470 3307h0M1464 3283h0M1416 3315h0M1475 3286h0M1433 3335h0M1408 3297h0M1475 3281h0M1440 3243h0M1440 3311h0M1429 3334h0M1467 3275h0M1448 3239h0M1431 3338h0M1412 3272h0M1466 3318h0M1412 3344h0" stroke="#5cb840" stroke-opacity=".72"/>
<path d="M1460 3306h0M1435 3347h0M1439 3270h0M1429 3260h0M1427 3245h0M1459 3290h0M1461 3280h0M1457 3256h0M1453 3327h0M1432 3258h0M1452 3327h0M1420 3312h0M1428 3294h0M1426 3294h0M1466 3265h0M1436 3276h0M1432 3270h0M1443 3309h0M1409 3284h0M1442 3268h0M1428 3303h0M1422 3350h0M1411 3286h0" stroke="#98c834" stroke-opacity=".72"/>
<path d="M1412 3303h0M1437 3326h0M1453 3315h0M1450 3325h0M1464 3318h0M1449 3308h0M1465 3313h0M1466 3274h0M1470 3306h0M1465 3299h0M1460 3294h0M1425 3293h0M1435 3276h0M1450 3330h0M1436 3302h0M1442 3256h0M1429 3320h0M1435 3312h0M1473 3305h0M1429 3284h0" stroke="#d8d22c" stroke-opacity=".72"/>
<path d="M1464 3315h0M1441 3315h0M1438 3291h0M1436 3289h0M1434 3291h0M1455 3313h0M1437 3276h0M1444 3293h0M1461 3321h0M1436 3276h0M1463 3321h0M1448 3320h0M1458 3296h0M1444 3292h0" stroke="#f0a026" stroke-opacity=".72"/>
<path d="M1450 3284h0M1432 3297h0M1451 3307h0M1451 3290h0M1443 3294h0M1468 3308h0M1451 3310h0M1448 3295h0M1449 3298h0" stroke="#ee6420" stroke-opacity=".72"/>
<path d="M1443 3285h0M1436 3289h0M1436 3291h0M1444 3301h0M1443 3291h0" stroke="#e6261c" stroke-opacity=".72"/>
<path d="M2402 692h0M2399 710h0M2395 604h0M2427 509h0M2489 505h0M2466 490h0M2453 702h0M2477 756h0M2400 478h0M2474 754h0M2456 498h0M2379 583h0M2474 756h0M2506 478h0M2425 691h0M2392 568h0M2462 712h0M2362 652h0M2425 708h0M2513 529h0M2398 539h0M2523 562h0M2357 627h0M2514 527h0M2477 448h0M2453 724h0M2464 497h0M2526 678h0M2433 477h0M2426 686h0M2496 683h0M2387 626h0M2434 720h0M2655 934h0M2698 971h0M2720 999h0M2823 927h0M2669 959h0M2800 949h0M2775 998h0M2698 988h0M2763 1025h0M2842 664h0M2781 546h0M2585 777h0M2764 1030h0M2868 670h0M2859 843h0M2688 961h0M2659 984h0M2952 875h0M2811 614h0M2789 970h0M2566 892h0M2634 937h0M2715 1014h0M2863 701h0M2613 770h0M2892 754h0M2849 906h0M2594 943h0M2613 920h0M2736 985h0M2867 837h0M2861 746h0M2616 796h0M2589 811h0M2586 823h0M2800 1070h0M2741 520h0M2878 809h0M2805 600h0M2619 947h0M2595 909h0M2687 992h0M2605 901h0M2660 982h0M2584 961h0M2870 785h0M2853 703h0M2694 995h0M2895 874h0M2770 553h0M2622 903h0M2913 833h0M2875 765h0M2711 543h0M2868 757h0M2859 852h0M2586 818h0M2591 723h0M2896 722h0M2621 827h0M2852 793h0M2849 870h0M2863 826h0M2694 1035h0M2867 726h0M2594 816h0M2929 761h0M2688 534h0M2874 885h0M2842 705h0M2577 778h0M2851 677h0M2742 546h0M2824 646h0M2914 853h0M2682 975h0M2765 1004h0M2768 538h0M2795 958h0M2603 901h0M2878 764h0M2554 841h0M2578 642h0M2852 718h0M2729 543h0M2859 898h0M2858 669h0M2589 832h0M2879 739h0M2826 928h0M2715 1020h0M2736 999h0M2627 858h0M2890 803h0M2628 965h0M2700 1000h0M2595 871h0M2738 536h0M2649 939h0M2575 828h0M2531 728h0M2614 869h0M2634 892h0M2587 774h0M2609 610h0M2535 543h0M2604 741h0M2557 661h0M2609 607h0M2544 672h0M2632 569h0M2632 543h0M2770 483h0M2614 468h0M2570 516h0M2798 572h0M2619 541h0M2603 567h0M2564 689h0M2462 782h0M2525 778h0M2774 560h0M2900 601h0M2812 501h0M2821 550h0M2792 578h0M2887 646h0M2690 545h0M2667 507h0M2549 631h0M2702 570h0M2813 619h0M2784 555h0M2820 639h0M2603 720h0M2746 510h0M2878 672h0M2562 597h0M2700 549h0M2575 718h0M2538 583h0M2534 716h0M2747 563h0M2544 645h0M2601 826h0M2644 523h0M2602 577h0M2574 613h0M2846 608h0M2581 707h0M2601 585h0M2643 554h0M2467 718h0M2767 561h0M2583 615h0M2592 556h0M2515 704h0M2508 701h0M2641 558h0M2559 757h0M2529 622h0M2547 555h0M2577 612h0M2834 602h0M2926 557h0M2533 696h0M2845 609h0M2856 623h0M2843 527h0M2577 613h0M2664 522h0M2816 589h0M2844 638h0M2631 579h0M2798 490h0" stroke="#a4a4d4" stroke-opacity=".66"/>
<path d="M2515 562h0M2493 512h0M2398 630h0M2431 514h0M2480 678h0M2492 523h0M2457 687h0M2504 547h0M2500 511h0M2423 662h0M2444 508h0M2403 627h0M2525 604h0M2509 623h0M2487 500h0M2443 676h0M2519 594h0M2416 540h0M2438 685h0M2510 647h0M2477 681h0M2512 558h0M2474 697h0M2457 680h0M2461 504h0M2509 543h0M2468 692h0M2480 510h0M2436 513h0M2507 652h0M2429 677h0M2471 694h0M2480 694h0M2402 638h0M2431 666h0M2765 963h0M2789 938h0M2709 961h0M2788 975h0M2835 850h0M2750 976h0M2747 977h0M2852 777h0M2818 660h0M2796 921h0M2813 927h0M2813 913h0M2838 820h0M2799 636h0M2822 892h0M2771 968h0M2850 765h0M2796 608h0M2792 936h0M2832 850h0M2820 893h0M2834 841h0M2776 989h0M2841 833h0M2707 952h0M2770 976h0M2627 743h0M2828 676h0M2779 943h0M2643 806h0M2644 798h0M2765 982h0M2735 604h0M2821 662h0M2764 580h0M2830 884h0M2627 809h0M2777 970h0M2593 638h0M2568 665h0M2637 760h0M2631 843h0M2760 987h0M2686 931h0M2653 892h0M2623 811h0M2636 659h0M2623 819h0M2761 593h0M2665 925h0M2647 784h0M2829 686h0M2710 606h0M2766 594h0M2634 753h0M2646 619h0M2835 862h0M2675 925h0M2624 760h0M2621 809h0M2637 881h0M2633 796h0M2636 874h0M2642 755h0M2635 764h0M2756 977h0M2813 652h0M2635 878h0M2852 773h0M2828 856h0M2600 691h0M2675 919h0M2631 705h0M2818 674h0M2746 590h0M2642 675h0M2842 747h0M2810 901h0M2632 877h0M2639 777h0M2627 712h0M2605 697h0M2830 835h0M2612 720h0M2718 974h0M2716 976h0M2623 739h0M2638 850h0M2632 803h0M2728 972h0M2769 965h0M2843 775h0M2828 627h0M2669 928h0M2579 657h0M2638 689h0M2530 657h0M2597 690h0M2666 570h0M2725 561h0M2676 560h0M2593 675h0M2638 648h0M2602 637h0M2633 702h0M2677 578h0M2737 586h0M2629 699h0M2629 687h0M2787 599h0M2842 677h0M2584 664h0M2596 696h0M2635 610h0M2645 581h0M2611 625h0M2583 688h0M2612 727h0M2662 559h0M2526 655h0M2625 618h0M2719 609h0M2628 703h0M2521 658h0M2641 583h0M2821 627h0M2784 595h0M2630 609h0M2726 615h0M2651 609h0M2635 870h0M2681 560h0M2592 708h0M2733 572h0M2619 715h0M2688 589h0M2664 597h0M2661 580h0M2686 576h0M2666 571h0M2734 590h0M2727 599h0M2634 648h0M2634 768h0M2635 600h0M2687 579h0M2531 661h0M2633 613h0M2756 599h0M2626 769h0M2657 609h0M2839 744h0M2659 565h0M2500 652h0M2722 570h0M2748 593h0M2537 669h0M2581 680h0M2789 604h0M2631 736h0M2576 675h0M2696 577h0M2726 575h0M2579 672h0M2610 697h0M2588 650h0M2624 607h0M2588 639h0M2642 673h0M2637 750h0M2672 562h0M2631 664h0M2722 556h0M2581 640h0M2593 672h0M2672 591h0M2672 575h0M2651 581h0M2608 699h0" stroke="#7a82c2" stroke-opacity=".95"/>
<path d="M2489 556h0M2468 676h0M2509 602h0M2413 628h0M2403 586h0M2435 535h0M2406 581h0M2425 558h0M2481 525h0M2440 514h0M2470 670h0M2405 609h0M2425 559h0M2418 627h0M2415 641h0M2515 617h0M2439 664h0M2490 531h0M2411 551h0M2421 560h0M2456 511h0M2439 515h0M2411 567h0M2450 512h0M2429 530h0M2463 672h0M2425 547h0M2496 558h0M2419 544h0M2404 591h0M2469 526h0M2414 576h0M2511 588h0M2479 525h0M2490 547h0M2416 635h0M2409 552h0M2442 513h0M2420 547h0M2432 532h0M2494 547h0M2410 569h0M2446 524h0M2410 575h0M2460 514h0M2475 523h0M2413 645h0M2518 601h0M2470 673h0M2773 650h0M2814 896h0M2829 754h0M2646 811h0M2680 918h0M2791 643h0M2823 707h0M2770 948h0M2711 953h0M2768 629h0M2691 924h0M2748 957h0M2837 761h0M2803 916h0M2832 751h0M2747 606h0M2818 864h0M2821 855h0M2787 625h0M2770 624h0M2656 732h0M2831 771h0M2665 885h0M2740 959h0M2761 959h0M2837 815h0M2778 607h0M2736 955h0M2832 758h0M2710 587h0M2656 725h0M2698 942h0M2830 812h0M2653 771h0M2831 804h0M2641 847h0M2776 646h0M2749 960h0M2762 616h0M2819 863h0M2708 943h0M2833 745h0M2772 949h0M2651 707h0M2649 867h0M2675 898h0M2774 942h0M2648 800h0M2823 861h0M2802 905h0M2653 864h0M2725 623h0M2809 698h0M2813 688h0M2779 638h0M2795 660h0M2663 883h0M2652 695h0M2663 869h0M2664 882h0M2772 620h0M2835 739h0M2659 870h0M2684 599h0M2711 581h0M2656 725h0M2665 681h0M2698 935h0M2613 657h0M2653 637h0M2793 632h0M2666 616h0M2741 626h0M2708 624h0M2804 915h0M2649 703h0M2807 647h0M2654 880h0M2652 679h0M2673 908h0M2695 923h0M2695 596h0M2753 634h0M2648 815h0M2654 880h0M2655 633h0M2653 710h0M2829 714h0M2648 864h0M2786 642h0M2824 863h0M2741 601h0M2657 774h0M2793 639h0M2656 755h0M2656 673h0M2693 602h0M2670 902h0M2830 777h0M2640 825h0M2645 739h0M2837 758h0M2765 623h0M2750 635h0M2639 767h0M2608 645h0M2746 616h0M2746 624h0M2712 583h0M2832 731h0M2645 727h0M2761 648h0M2820 871h0M2722 950h0M2831 765h0M2682 595h0M2686 625h0M2633 727h0M2673 907h0M2673 880h0M2803 650h0M2640 814h0M2623 632h0M2829 824h0M2653 882h0M2656 718h0M2649 862h0M2657 860h0M2682 904h0M2785 607h0M2683 920h0M2646 861h0M2652 816h0M2770 646h0M2717 951h0M2752 647h0M2720 954h0M2825 681h0M2752 601h0M2810 693h0M2655 878h0M2776 636h0M2665 874h0M2762 606h0M2770 631h0M2643 726h0M2779 615h0M2640 749h0M2760 625h0M2795 645h0M2617 650h0M2793 611h0M2515 590h0M2817 673h0M2786 619h0M2664 690h0M2696 620h0M2713 582h0M2591 666h0M2612 675h0M2794 639h0M2655 738h0M2601 680h0M2796 634h0M2625 671h0M2681 607h0M2616 634h0M2681 610h0M2615 632h0M2654 739h0M2653 706h0M2662 620h0M2698 594h0M2640 651h0M2653 638h0M2771 652h0M2612 687h0M2807 680h0M2678 606h0M2709 583h0M2699 605h0M2619 667h0M2650 656h0M2678 614h0M2644 636h0M2615 681h0M2693 602h0M2609 674h0M2640 669h0M2701 626h0M2592 660h0M2827 690h0M2652 626h0M2625 675h0M2734 625h0M2620 648h0M2682 613h0M2515 582h0M2676 611h0M2659 615h0M2678 593h0M2709 594h0M2793 621h0M2705 606h0M2621 636h0M2616 632h0M2746 614h0M2655 649h0M2605 653h0M2657 623h0M2648 728h0M2772 602h0M2654 639h0M2742 619h0M2690 623h0M2611 657h0M2775 605h0M2610 677h0M2638 695h0M2648 657h0M2768 639h0M2655 624h0M2819 682h0M2754 642h0M2668 611h0M2502 626h0M2499 555h0M2802 675h0M2597 658h0M2609 669h0M2617 646h0M2691 590h0M2601 651h0M2770 624h0M2823 696h0M2635 718h0M2651 644h0M2779 618h0" stroke="#5e6ab2" stroke-opacity=".95"/>
<path d="M2499 616h0M2467 663h0M2478 537h0M2414 585h0M2469 661h0M2479 647h0M2499 578h0M2507 612h0M2435 559h0M2479 559h0M2471 652h0M2468 523h0M2437 552h0M2460 666h0M2490 567h0M2481 535h0M2459 531h0M2427 648h0M2450 652h0M2506 614h0M2457 669h0M2454 522h0M2417 593h0M2416 599h0M2475 534h0M2418 587h0M2415 593h0M2457 526h0M2408 598h0M2413 592h0M2489 644h0M2427 643h0M2445 548h0M2452 669h0M2466 667h0M2503 575h0M2489 642h0M2453 533h0M2505 615h0M2478 657h0M2427 641h0M2484 556h0M2454 650h0M2481 654h0M2437 655h0M2505 575h0M2476 664h0M2471 536h0M2461 527h0M2431 558h0M2428 576h0M2496 635h0M2494 629h0M2409 601h0M2483 538h0M2494 622h0M2493 636h0M2459 523h0M2438 548h0M2491 562h0M2456 534h0M2482 641h0M2481 659h0M2476 651h0M2481 541h0M2430 654h0M2505 605h0M2494 632h0M2430 566h0M2425 580h0M2448 537h0M2500 577h0M2491 631h0M2437 557h0M2438 547h0M2444 535h0M2485 642h0M2471 537h0M2498 600h0M2449 527h0M2451 653h0M2502 614h0M2427 650h0M2426 640h0M2416 602h0M2412 585h0M2490 641h0M2502 580h0M2735 948h0M2793 903h0M2810 715h0M2751 940h0M2769 925h0M2769 926h0M2744 656h0M2677 858h0M2744 642h0M2793 910h0M2663 799h0M2686 881h0M2810 868h0M2680 885h0M2712 939h0M2673 695h0M2785 651h0M2716 933h0M2668 718h0M2671 686h0M2673 854h0M2685 679h0M2748 945h0M2667 791h0M2728 942h0M2675 679h0M2823 752h0M2664 786h0M2683 886h0M2655 834h0M2649 849h0M2809 877h0M2663 787h0M2823 814h0M2700 930h0M2677 699h0M2811 882h0M2676 703h0M2791 668h0M2668 807h0M2764 665h0M2680 871h0M2687 892h0M2711 935h0M2819 766h0M2666 753h0M2793 672h0M2824 783h0M2764 936h0M2672 698h0M2727 943h0M2820 792h0M2776 925h0M2769 920h0M2673 851h0M2693 920h0M2705 917h0M2817 712h0M2779 914h0M2703 928h0M2824 807h0M2667 698h0M2673 874h0M2812 876h0M2766 946h0M2779 664h0M2753 941h0M2696 635h0M2650 843h0M2696 632h0M2815 882h0M2714 637h0M2823 787h0M2705 917h0M2818 806h0M2814 880h0M2818 717h0M2709 946h0M2700 911h0M2785 671h0M2796 909h0M2725 648h0M2718 939h0M2712 642h0M2654 832h0M2739 648h0M2766 662h0M2769 931h0M2781 656h0M2738 646h0M2697 900h0M2753 627h0M2711 934h0M2722 941h0M2823 789h0M2824 817h0M2827 781h0M2732 642h0M2819 778h0M2660 648h0M2655 830h0M2654 844h0M2801 701h0M2699 911h0M2823 786h0M2822 826h0M2754 619h0M2798 907h0M2742 660h0M2682 631h0M2662 854h0M2791 688h0M2723 647h0M2661 730h0M2816 876h0M2684 633h0M2791 675h0M2660 757h0M2671 620h0M2764 944h0M2658 730h0M2757 613h0M2653 841h0M2720 646h0M2675 871h0M2668 705h0M2814 876h0M2822 810h0M2710 948h0M2659 750h0M2689 902h0M2669 642h0M2822 775h0M2675 708h0M2671 631h0M2724 647h0M2827 712h0M2814 712h0M2700 638h0M2820 713h0M2816 845h0M2667 851h0M2714 948h0M2824 718h0M2803 702h0M2704 934h0M2667 802h0M2722 940h0M2685 690h0M2794 670h0M2667 840h0M2710 642h0M2811 879h0M2774 660h0M2654 836h0M2654 824h0M2662 624h0M2672 859h0M2678 862h0M2768 922h0M2700 910h0M2656 839h0M2798 899h0M2756 653h0M2649 835h0M2682 896h0M2748 632h0M2771 940h0M2809 713h0M2663 793h0M2721 637h0M2712 638h0M2752 614h0M2744 631h0M2669 652h0M2687 664h0M2662 663h0M2792 672h0M2663 661h0M2789 670h0M2797 666h0M2667 664h0M2683 665h0M2674 668h0M2669 656h0M2672 650h0M2669 650h0M2691 637h0M2819 714h0M2791 671h0M2681 664h0M2499 588h0M2784 666h0M2677 678h0M2662 643h0M2477 536h0M2796 662h0M2670 695h0M2661 664h0M2685 662h0M2669 701h0M2487 650h0M2662 669h0M2673 700h0M2660 663h0M2685 683h0M2664 758h0M2790 676h0M2753 611h0M2659 622h0M2801 693h0M2739 642h0M2737 636h0M2722 632h0M2684 631h0M2737 637h0M2662 642h0M2678 677h0M2781 657h0M2667 694h0M2667 664h0M2777 669h0M2664 668h0M2453 665h0M2678 635h0M2697 637h0M2753 657h0M2673 649h0M2673 621h0M2662 709h0M2666 649h0M2727 649h0" stroke="#4c5aa6" stroke-opacity=".95"/>
<path d="M2473 648h0M2469 556h0M2444 557h0M2476 548h0M2444 648h0M2442 641h0M2429 576h0M2446 556h0M2454 643h0M2423 639h0M2494 608h0M2422 620h0M2436 643h0M2486 635h0M2492 580h0M2480 627h0M2476 636h0M2420 618h0M2489 574h0M2462 545h0M2496 618h0M2486 611h0M2488 609h0M2422 636h0M2498 601h0M2463 541h0M2454 549h0M2492 575h0M2464 650h0M2472 646h0M2454 543h0M2466 542h0M2496 598h0M2458 550h0M2492 572h0M2424 636h0M2468 648h0M2430 573h0M2472 642h0M2486 636h0M2421 588h0M2494 586h0M2469 558h0M2469 554h0M2461 655h0M2426 597h0M2431 649h0M2486 636h0M2493 600h0M2476 645h0M2487 565h0M2475 560h0M2464 549h0M2490 616h0M2461 658h0M2427 634h0M2491 572h0M2498 581h0M2424 599h0M2471 637h0M2428 619h0M2430 646h0M2466 657h0M2426 604h0M2476 543h0M2463 653h0M2419 596h0M2436 643h0M2755 932h0M2772 914h0M2759 915h0M2695 658h0M2691 667h0M2809 770h0M2719 915h0M2753 934h0M2665 816h0M2808 763h0M2806 885h0M2726 666h0M2763 672h0M2724 666h0M2739 665h0M2680 706h0M2723 923h0M2743 937h0M2713 926h0M2665 770h0M2686 646h0M2685 857h0M2804 711h0M2733 667h0M2797 891h0M2733 934h0M2676 734h0M2818 752h0M2774 917h0M2789 695h0M2681 718h0M2804 874h0M2733 926h0M2791 691h0M2751 935h0M2705 675h0M2811 765h0M2695 704h0M2717 671h0M2712 924h0M2741 927h0M2696 708h0M2668 730h0M2824 729h0M2708 683h0M2824 736h0M2795 693h0M2669 738h0M2754 933h0M2669 734h0M2823 740h0M2658 761h0M2711 913h0M2728 938h0M2663 834h0M2781 903h0M2816 783h0M2763 917h0M2802 884h0M2673 746h0M2697 887h0M2740 927h0M2675 781h0M2698 667h0M2827 736h0M2806 882h0M2719 935h0M2748 922h0M2683 868h0M2747 920h0M2734 667h0M2686 852h0M2700 689h0M2812 776h0M2811 838h0M2761 920h0M2690 705h0M2799 724h0M2716 671h0M2813 766h0M2767 929h0M2811 725h0M2667 826h0M2757 668h0M2803 879h0M2811 835h0M2744 928h0M2823 739h0M2727 923h0M2680 711h0M2668 780h0M2675 745h0M2731 937h0M2729 658h0M2700 905h0M2738 921h0M2737 654h0M2756 936h0M2727 663h0M2669 752h0M2666 778h0M2694 685h0M2812 726h0M2762 926h0M2707 656h0M2708 657h0M2703 906h0M2716 657h0M2690 644h0M2692 687h0M2668 786h0M2822 739h0M2679 715h0M2666 766h0M2740 938h0M2793 693h0M2816 832h0M2690 695h0M2761 918h0M2714 674h0M2755 924h0M2706 664h0M2802 884h0M2664 760h0M2689 654h0M2675 733h0M2701 658h0M2703 671h0M2736 662h0M2718 925h0M2731 656h0M2780 686h0M2784 904h0M2702 641h0M2731 932h0M2687 647h0M2765 912h0M2716 667h0M2677 745h0M2754 667h0M2789 700h0M2688 696h0M2817 727h0M2690 710h0M2735 666h0M2691 662h0M2675 756h0M2679 853h0M2771 675h0M2691 693h0M2798 887h0M2679 869h0M2816 836h0M2676 744h0M2729 920h0M2662 771h0M2691 897h0M2820 737h0M2743 937h0M2691 649h0M2659 776h0M2658 767h0M2815 729h0M2763 671h0M2676 781h0M2815 785h0M2719 928h0M2709 920h0M2699 680h0M2680 647h0M2804 890h0M2827 724h0M2760 676h0M2694 645h0M2707 648h0M2732 658h0M2766 677h0M2705 656h0M2701 665h0M2704 663h0M2477 636h0M2739 668h0M2698 666h0M2690 651h0M2692 698h0M2671 723h0M2722 652h0M2819 727h0M2750 664h0M2778 682h0M2707 661h0M2722 652h0M2699 649h0M2706 649h0M2690 676h0M2683 641h0M2682 656h0" stroke="#4272a8" stroke-opacity=".95"/>
<path d="M2441 569h0M2460 554h0M2450 635h0M2457 551h0M2433 615h0M2488 583h0M2460 556h0M2444 630h0M2463 552h0M2469 626h0M2438 632h0M2444 637h0M2448 566h0M2432 616h0M2444 572h0M2475 568h0M2443 565h0M2447 574h0M2448 565h0M2436 632h0M2450 640h0M2429 620h0M2466 631h0M2438 638h0M2430 630h0M2442 633h0M2487 570h0M2433 616h0M2468 562h0M2469 575h0M2465 552h0M2456 555h0M2438 615h0M2437 582h0M2433 581h0M2430 639h0M2432 586h0M2468 631h0M2473 624h0M2458 555h0M2451 558h0M2818 790h0M2743 909h0M2676 834h0M2811 790h0M2670 813h0M2719 685h0M2802 732h0M2782 895h0M2810 821h0M2793 875h0M2791 711h0M2770 689h0M2687 776h0M2692 879h0M2688 716h0M2673 821h0M2673 770h0M2798 855h0M2792 729h0M2681 749h0M2786 891h0M2686 728h0M2720 679h0M2703 898h0M2685 741h0M2808 782h0M2727 673h0M2791 871h0M2721 689h0M2726 688h0M2683 736h0M2708 692h0M2711 680h0M2812 828h0M2719 685h0M2734 680h0M2669 761h0M2790 707h0M2815 744h0M2813 808h0M2809 804h0M2795 886h0M2812 746h0M2676 776h0M2695 712h0M2709 682h0M2736 910h0M2799 783h0M2705 899h0M2680 771h0M2783 890h0M2691 879h0M2704 897h0M2790 704h0M2728 906h0M2776 909h0M2802 735h0M2775 690h0M2722 904h0M2721 906h0M2669 828h0M2752 920h0M2803 855h0M2676 799h0M2674 821h0M2702 700h0M2678 829h0M2699 694h0M2680 733h0M2683 740h0M2720 900h0M2682 734h0M2802 773h0M2684 728h0M2679 736h0M2806 861h0M2813 810h0M2786 895h0M2671 794h0M2704 693h0M2668 822h0M2813 829h0M2816 736h0M2672 819h0M2810 791h0M2809 817h0M2815 798h0M2780 895h0M2676 780h0M2771 688h0M2673 767h0M2788 887h0M2809 742h0M2673 801h0M2670 831h0M2805 860h0M2800 734h0M2788 714h0M2680 724h0M2748 918h0M2816 734h0M2684 736h0M2795 714h0M2690 716h0M2758 675h0M2671 769h0M2740 672h0M2669 780h0M2680 726h0M2696 720h0" stroke="#40949c" stroke-opacity=".95"/>
<path d="M2478 618h0M2440 583h0M2480 593h0M2455 628h0M2455 582h0M2460 561h0M2454 584h0M2475 616h0M2433 599h0M2445 616h0M2440 598h0M2450 580h0M2453 625h0M2464 565h0M2487 598h0M2477 596h0M2446 608h0M2457 568h0M2431 609h0M2466 621h0M2438 614h0M2438 629h0M2441 592h0M2467 614h0M2477 596h0M2484 607h0M2446 606h0M2456 588h0M2459 585h0M2441 589h0M2436 596h0M2453 627h0M2455 576h0M2472 608h0M2466 620h0M2458 565h0M2479 593h0M2480 607h0M2447 585h0M2475 580h0M2455 579h0M2462 566h0M2462 624h0M2434 595h0M2464 574h0M2458 589h0M2445 615h0M2468 580h0M2457 572h0M2440 583h0M2439 622h0M2440 621h0M2447 611h0M2462 620h0M2441 599h0M2469 593h0M2433 602h0M2463 589h0M2487 591h0M2792 780h0M2785 698h0M2697 785h0M2753 694h0M2790 823h0M2772 886h0M2799 746h0M2790 822h0M2736 897h0M2795 772h0M2718 723h0M2724 897h0M2783 881h0M2792 774h0M2724 703h0M2764 909h0M2716 871h0M2784 884h0M2806 762h0M2691 770h0M2798 791h0M2727 712h0M2688 840h0M2797 735h0M2681 799h0M2791 867h0M2750 891h0M2762 891h0M2770 884h0M2687 838h0M2801 809h0M2689 820h0M2709 691h0M2803 766h0M2797 776h0M2791 867h0M2695 744h0M2774 690h0M2704 713h0M2746 688h0M2680 782h0M2770 875h0M2795 856h0M2766 881h0M2781 885h0M2779 861h0M2740 709h0M2780 890h0M2801 822h0M2700 863h0M2788 705h0M2797 820h0M2743 897h0M2715 871h0M2725 695h0M2804 813h0M2801 753h0M2743 893h0M2792 818h0M2786 882h0M2758 896h0M2766 699h0M2759 698h0M2802 826h0M2759 906h0M2688 761h0M2740 697h0M2789 868h0M2756 693h0M2793 830h0M2789 767h0M2704 724h0M2713 883h0M2735 896h0M2792 817h0M2795 740h0M2794 827h0M2781 717h0M2695 782h0M2714 892h0M2723 899h0M2799 833h0M2718 698h0M2794 811h0M2702 730h0M2683 750h0M2696 851h0M2773 886h0M2680 810h0M2795 735h0M2786 705h0M2779 706h0M2717 895h0M2776 889h0M2695 755h0M2682 808h0M2692 830h0M2766 687h0M2753 894h0M2795 790h0M2758 896h0M2726 694h0M2783 713h0M2799 792h0M2711 691h0M2748 897h0M2697 845h0M2714 714h0M2780 877h0M2760 693h0M2774 871h0M2708 885h0M2679 758h0M2782 877h0M2744 696h0M2683 799h0M2702 884h0M2806 813h0M2693 727h0M2693 818h0M2770 708h0M2682 836h0M2687 832h0M2799 806h0M2712 874h0M2697 821h0M2705 710h0M2778 695h0M2778 868h0M2765 881h0M2721 881h0M2807 797h0M2785 877h0M2692 835h0M2771 898h0M2763 893h0M2715 889h0M2683 849h0M2708 723h0M2721 897h0M2789 755h0M2767 685h0M2717 708h0M2807 816h0M2778 868h0M2732 705h0M2791 843h0M2695 760h0M2746 692h0M2798 775h0M2804 747h0M2755 692h0M2755 909h0M2754 909h0M2700 729h0M2728 882h0M2792 741h0M2692 777h0M2788 837h0M2720 702h0M2753 907h0M2791 746h0M2762 693h0M2725 896h0M2796 756h0M2715 889h0M2749 907h0M2803 793h0M2682 769h0M2714 874h0M2793 787h0M2796 775h0M2747 687h0M2804 767h0M2787 701h0M2800 793h0M2731 707h0M2679 768h0M2697 790h0M2770 885h0M2795 787h0M2686 796h0M2692 745h0M2739 691h0M2717 694h0M2796 743h0M2680 795h0M2798 766h0M2763 695h0M2726 700h0M2753 690h0M2680 757h0M2682 807h0M2729 893h0M2756 894h0M2737 696h0M2723 706h0M2701 721h0M2717 712h0M2704 862h0M2717 895h0M2798 842h0M2777 874h0M2719 695h0M2710 702h0M2801 807h0M2749 685h0M2680 831h0M2707 879h0M2804 769h0M2756 689h0M2780 865h0M2788 746h0M2680 757h0M2738 680h0M2803 752h0M2744 691h0M2794 761h0M2786 701h0M2691 842h0M2703 866h0M2748 896h0M2725 694h0M2707 730h0M2743 689h0M2747 685h0M2694 819h0M2710 699h0M2776 889h0M2773 705h0M2698 712h0M2713 718h0M2719 720h0M2764 886h0M2738 684h0M2697 857h0M2779 709h0M2722 718h0M2795 781h0M2753 891h0M2765 887h0M2752 900h0M2729 699h0M2753 907h0M2786 875h0M2777 709h0M2693 726h0M2745 688h0M2748 693h0M2723 699h0M2733 688h0M2756 690h0M2748 696h0M2688 785h0M2726 692h0M2770 701h0M2780 694h0" stroke="#44a860" stroke-opacity=".95"/>
<path d="M2462 597h0M2461 598h0M2455 596h0M2458 601h0M2458 601h0M2455 598h0M2449 605h0M2461 610h0M2452 603h0M2751 862h0M2788 782h0M2752 860h0M2782 837h0M2722 874h0M2746 871h0M2730 875h0M2701 844h0M2778 846h0M2769 736h0M2716 849h0M2764 702h0M2727 869h0M2706 740h0M2705 736h0M2734 870h0M2787 795h0M2739 883h0M2781 824h0M2748 871h0M2778 777h0M2757 873h0M2723 871h0M2754 877h0M2773 726h0M2768 874h0M2724 723h0M2709 843h0M2721 854h0M2776 855h0M2790 806h0M2742 728h0M2779 763h0M2784 849h0M2772 725h0M2786 851h0M2781 768h0M2731 878h0M2715 843h0M2771 731h0M2736 867h0M2774 868h0M2697 799h0M2770 854h0M2770 732h0M2760 875h0M2736 880h0M2749 860h0M2731 710h0M2703 802h0M2773 732h0M2762 851h0M2732 890h0M2713 731h0M2769 769h0M2752 717h0M2707 795h0M2770 713h0M2711 856h0M2707 760h0M2743 872h0M2717 850h0M2699 806h0M2778 831h0M2784 825h0M2737 862h0M2692 809h0M2707 755h0M2771 751h0M2737 729h0M2708 731h0M2711 857h0M2787 739h0M2700 740h0M2704 750h0M2708 828h0M2756 887h0M2690 808h0M2716 854h0M2747 728h0M2737 874h0M2703 751h0M2706 847h0M2749 712h0M2753 864h0M2718 852h0M2763 870h0M2731 889h0M2714 868h0M2719 867h0M2705 820h0M2781 753h0M2769 716h0M2767 862h0M2757 886h0M2703 834h0M2704 819h0M2784 832h0M2706 776h0M2726 735h0M2772 868h0M2747 870h0M2754 864h0M2728 868h0M2692 798h0M2772 743h0M2776 767h0M2731 880h0M2749 704h0M2703 843h0M2786 738h0M2768 769h0M2767 713h0M2777 856h0M2764 877h0M2748 715h0M2788 750h0M2706 804h0M2710 850h0M2738 710h0M2773 861h0M2688 794h0M2780 751h0M2782 770h0M2760 858h0M2787 770h0M2755 703h0M2774 852h0M2777 717h0M2707 776h0M2774 721h0M2765 867h0M2702 745h0M2699 750h0M2723 732h0M2713 855h0M2730 869h0M2787 747h0M2744 729h0M2771 728h0M2763 715h0M2728 856h0M2788 841h0M2786 860h0M2713 734h0M2714 852h0M2781 737h0M2776 728h0M2781 756h0M2763 852h0M2707 772h0M2699 761h0M2778 728h0M2744 715h0M2712 864h0M2782 792h0M2748 715h0M2741 880h0M2722 854h0M2705 766h0M2752 716h0M2778 764h0M2747 876h0M2762 711h0M2776 711h0M2734 722h0M2705 775h0M2785 858h0M2700 768h0M2735 890h0M2730 715h0M2688 795h0M2701 736h0M2777 735h0M2772 856h0M2703 750h0M2780 853h0M2756 874h0M2699 840h0M2787 732h0M2775 718h0M2788 775h0M2720 732h0M2774 752h0M2780 752h0M2703 790h0M2778 727h0M2754 876h0M2769 857h0M2774 747h0M2748 705h0" stroke="#5cb840" stroke-opacity=".95"/>
<path d="M2774 821h0M2765 720h0M2740 856h0M2720 744h0M2740 865h0M2733 739h0M2722 742h0M2771 841h0M2740 745h0M2744 742h0M2772 778h0M2773 824h0M2763 744h0M2718 794h0M2726 755h0M2711 806h0M2756 846h0M2743 750h0M2772 849h0M2725 746h0M2743 851h0M2764 731h0M2726 741h0M2709 750h0M2718 799h0M2719 755h0M2735 856h0M2754 720h0M2742 866h0M2715 764h0M2709 776h0M2767 848h0M2709 766h0M2733 859h0M2755 850h0M2734 857h0M2767 753h0M2772 820h0M2730 846h0M2768 842h0M2775 833h0M2712 822h0M2711 792h0M2712 806h0M2757 723h0M2711 832h0M2742 749h0M2728 849h0M2753 841h0M2710 783h0M2723 750h0M2773 849h0M2711 783h0M2763 767h0M2731 733h0M2777 799h0M2751 859h0M2711 751h0M2768 848h0M2730 845h0M2716 746h0M2715 755h0M2726 748h0M2725 837h0M2748 739h0M2716 783h0M2777 835h0M2715 785h0M2767 755h0M2717 768h0M2764 757h0M2710 808h0M2718 847h0M2771 777h0M2744 865h0M2725 744h0M2761 844h0M2749 738h0M2725 747h0M2747 750h0M2742 844h0M2720 747h0M2738 747h0M2717 794h0M2759 721h0M2722 745h0M2775 837h0M2730 855h0M2752 723h0M2752 725h0M2727 835h0M2741 846h0M2759 846h0M2759 753h0M2711 755h0M2726 743h0M2726 754h0M2770 835h0M2749 731h0M2770 835h0M2710 757h0" stroke="#98c834" stroke-opacity=".95"/>
<path d="M2724 820h0M2741 752h0M2721 821h0M2735 753h0M2778 810h0M2726 777h0M2724 778h0M2728 774h0M2724 761h0M2742 753h0M2721 820h0M2726 821h0M2719 781h0M2724 825h0M2724 782h0M2768 774h0M2721 788h0M2761 784h0M2719 828h0M2762 772h0M2726 789h0M2771 805h0" stroke="#d8d22c" stroke-opacity=".95"/>
<path d="M2733 786h0M2742 778h0M2743 840h0M2741 761h0M2741 794h0M2755 833h0M2746 775h0M2739 800h0M2746 770h0M2729 828h0M2731 821h0M2762 798h0M2740 778h0M2730 772h0M2731 784h0M2742 766h0M2725 800h0M2743 761h0M2737 783h0M2735 796h0M2766 830h0M2723 812h0M2767 823h0M2735 792h0M2752 788h0M2738 763h0M2720 814h0M2740 774h0M2757 771h0M2720 792h0M2726 811h0M2756 769h0M2754 777h0M2753 782h0M2727 817h0M2753 779h0M2747 830h0M2741 780h0M2726 809h0M2725 816h0M2756 787h0M2760 790h0M2734 826h0M2760 797h0M2757 838h0M2734 828h0M2751 765h0" stroke="#f0a026" stroke-opacity=".95"/>
<path d="M2758 793h0M2735 803h0M2733 802h0M2761 811h0M2760 814h0M2768 802h0M2767 807h0M2765 809h0M2737 809h0M2762 803h0M2732 808h0M2751 792h0M2731 807h0M2765 811h0" stroke="#ee6420" stroke-opacity=".95"/>
<path d="M2740 810h0M2743 827h0M2757 822h0M2750 806h0M2738 827h0M2757 803h0M2732 813h0M2740 818h0M2736 814h0M2754 828h0M2750 825h0M2752 827h0M2757 814h0M2753 829h0M2741 814h0M2741 827h0M2751 828h0M2749 801h0M2751 804h0" stroke="#e6261c" stroke-opacity=".95"/>
<path d="M3353 469h0M3436 558h0M3309 730h0M3290 446h0M3409 544h0M3415 682h0M3325 704h0M3340 742h0M3300 699h0M3266 722h0M3408 706h0M3316 770h0M3331 450h0M3337 476h0M3370 783h0M3379 445h0M3637 705h0M3555 857h0M3754 802h0M3627 1006h0M3734 826h0M3662 952h0M3600 977h0M3735 963h0M3609 962h0M3680 958h0M3736 702h0M3648 674h0M3677 520h0M3550 662h0M3514 697h0M3466 879h0M3739 792h0M3536 801h0M3659 975h0M3441 832h0M3574 568h0M3558 795h0M3487 792h0M3595 652h0M3577 762h0M3550 822h0M3491 850h0M3547 724h0M3608 647h0M3748 838h0M3442 635h0M3349 876h0M3760 783h0M3553 934h0M3718 498h0M3715 639h0M3726 660h0M3550 760h0M3697 625h0M3664 601h0M3514 789h0M3580 750h0M3750 617h0M3767 541h0M3771 460h0M3746 595h0M3628 531h0M3683 532h0M3690 558h0M3620 506h0M3685 647h0M3561 519h0M3735 562h0M3481 579h0M3512 523h0M3537 565h0M3695 600h0" stroke="#a4a4d4" stroke-opacity=".59"/>
<path d="M3359 715h0M3284 597h0M3276 678h0M3361 496h0M3247 567h0M3261 556h0M3285 558h0M3303 678h0M3272 544h0M3279 561h0M3285 685h0M3293 529h0M3383 509h0M3350 706h0M3294 539h0M3351 499h0M3369 487h0M3244 561h0M3317 505h0M3385 675h0M3409 651h0M3391 716h0M3377 727h0M3420 643h0M3280 621h0M3271 689h0M3324 695h0M3419 609h0M3351 719h0M3381 493h0M3259 648h0M3382 714h0M3632 954h0M3647 721h0M3574 901h0M3598 708h0M3633 712h0M3591 904h0M3724 832h0M3716 880h0M3602 718h0M3667 657h0M3647 934h0M3677 926h0M3599 697h0M3566 810h0M3701 871h0M3591 871h0M3633 941h0M3583 891h0M3585 868h0M3568 757h0M3695 779h0M3583 709h0M3695 940h0M3655 939h0M3711 894h0M3575 900h0M3722 766h0M3624 928h0M3668 691h0M3705 732h0M3723 893h0M3569 836h0M3600 914h0M3716 764h0M3673 740h0M3713 853h0M3600 897h0M3679 939h0M3559 818h0M3665 717h0M3670 697h0M3573 837h0M3576 712h0M3585 598h0M3587 687h0M3568 678h0M3657 717h0M3579 611h0M3591 719h0M3582 693h0M3569 661h0M3571 639h0M3719 691h0M3699 673h0M3574 631h0M3661 694h0M3552 700h0M3630 632h0M3563 916h0M3673 579h0M3542 680h0M3625 685h0M3710 725h0M3585 494h0M3632 581h0M3626 685h0M3582 483h0M3717 610h0M3725 707h0M3493 613h0M3710 736h0M3599 735h0M3638 640h0M3647 631h0M3543 681h0M3572 590h0M3585 628h0M3519 625h0M3650 568h0M3591 520h0M3619 551h0M3603 580h0M3491 618h0M3587 496h0M3725 592h0M3623 556h0M3742 621h0M3649 571h0M3778 565h0M3717 553h0M3521 621h0M3796 561h0M3664 574h0M3585 615h0M3790 561h0M3583 575h0M3731 612h0M3555 702h0M3594 524h0M3723 542h0M3668 661h0M3640 566h0M3709 551h0" stroke="#7a82c2" stroke-opacity=".85"/>
<path d="M3303 536h0M3377 675h0M3332 517h0M3354 525h0M3386 645h0M3387 563h0M3401 555h0M3366 686h0M3375 531h0M3289 654h0M3398 603h0M3377 653h0M3390 547h0M3315 666h0M3293 639h0M3401 648h0M3391 559h0M3373 679h0M3379 530h0M3314 548h0M3301 564h0M3343 524h0M3361 673h0M3304 551h0M3346 673h0M3289 567h0M3292 668h0M3314 647h0M3381 559h0M3389 575h0M3292 609h0M3367 535h0M3338 672h0M3369 679h0M3337 520h0M3360 511h0M3357 529h0M3400 623h0M3300 545h0M3361 511h0M3335 682h0M3358 669h0M3395 617h0M3293 651h0M3308 640h0M3366 526h0M3304 631h0M3310 547h0M3395 636h0M3402 568h0M3328 520h0M3314 530h0M3301 645h0M3400 616h0M3318 678h0M3409 609h0M3329 528h0M3321 514h0M3354 526h0M3298 554h0M3355 677h0M3378 637h0M3358 691h0M3291 585h0M3269 555h0M3404 638h0M3268 650h0M3291 610h0M3318 684h0M3414 624h0M3303 645h0M3328 682h0M3282 646h0M3373 691h0M3398 596h0M3289 662h0M3271 641h0M3378 654h0M3409 636h0M3304 655h0M3330 521h0M3370 684h0M3407 603h0M3334 674h0M3377 540h0M3361 698h0M3290 617h0M3319 678h0M3303 624h0M3311 661h0M3305 580h0M3377 675h0M3696 917h0M3639 742h0M3599 782h0M3612 831h0M3633 907h0M3620 909h0M3637 789h0M3607 773h0M3681 777h0M3657 790h0M3676 879h0M3700 843h0M3631 884h0M3586 810h0M3597 825h0M3706 804h0M3683 752h0M3684 711h0M3644 855h0M3693 911h0M3595 815h0M3578 788h0M3611 870h0M3616 887h0M3696 792h0M3613 841h0M3681 831h0M3610 786h0M3642 940h0M3615 772h0M3647 880h0M3595 795h0M3665 778h0M3641 907h0M3706 798h0M3601 754h0M3637 912h0M3591 812h0M3623 841h0M3654 794h0M3684 711h0M3673 885h0M3639 903h0M3583 808h0M3677 775h0M3639 886h0M3622 813h0M3666 793h0M3605 806h0M3617 869h0M3691 805h0M3697 885h0M3586 849h0M3577 852h0M3650 785h0M3640 832h0M3614 761h0M3625 767h0M3620 732h0M3598 908h0M3706 836h0M3647 866h0M3631 799h0M3591 822h0M3677 885h0M3647 833h0M3660 880h0M3692 830h0M3657 903h0M3623 853h0M3629 772h0M3673 796h0M3677 813h0M3694 713h0M3586 818h0M3665 824h0M3659 804h0M3657 883h0M3704 813h0M3677 790h0M3619 886h0M3697 692h0M3668 904h0M3613 890h0M3644 795h0M3653 879h0M3657 849h0M3695 840h0M3621 853h0M3675 814h0M3713 818h0M3698 920h0M3665 766h0M3662 883h0M3608 798h0M3705 888h0M3596 777h0M3627 923h0M3694 922h0M3694 790h0M3676 782h0M3619 793h0M3675 742h0M3597 826h0M3586 785h0M3662 789h0M3646 900h0M3701 764h0M3687 846h0M3683 901h0M3686 807h0M3589 865h0M3615 872h0M3698 795h0M3699 920h0M3594 813h0M3676 882h0M3676 843h0M3695 797h0M3643 753h0M3688 728h0M3619 912h0M3712 828h0M3662 908h0M3675 845h0M3644 893h0M3619 821h0M3656 834h0M3631 909h0M3690 836h0M3622 764h0M3687 830h0M3605 769h0M3595 867h0M3586 844h0M3610 737h0M3681 862h0M3587 794h0M3719 888h0M3683 781h0M3644 888h0M3593 791h0M3633 791h0M3612 728h0M3667 897h0M3688 856h0M3687 884h0M3658 908h0M3653 758h0M3614 866h0M3632 729h0M3651 852h0M3651 749h0M3686 768h0M3684 828h0M3637 910h0M3615 858h0M3633 723h0M3654 794h0M3632 815h0M3648 840h0M3632 921h0M3697 843h0M3602 765h0M3698 755h0M3618 895h0M3684 714h0M3663 888h0M3670 741h0M3644 782h0M3703 814h0M3627 768h0M3672 758h0M3704 843h0M3634 808h0M3622 784h0M3688 726h0M3613 818h0M3644 894h0M3638 873h0M3617 822h0M3694 745h0M3703 758h0M3708 693h0M3701 681h0M3667 765h0M3671 630h0M3584 841h0M3578 807h0M3692 743h0M3686 812h0M3690 866h0M3723 591h0M3615 574h0M3692 762h0M3591 813h0M3627 780h0M3701 840h0M3646 623h0M3625 736h0M3662 627h0M3699 699h0M3587 824h0M3626 754h0M3601 753h0M3692 810h0M3616 720h0M3587 700h0M3586 586h0M3663 620h0M3724 595h0M3616 584h0M3609 584h0M3673 623h0M3605 573h0M3616 586h0M3594 588h0" stroke="#5e6ab2" stroke-opacity=".85"/>
<path d="M3363 658h0M3391 619h0M3390 600h0M3334 547h0M3336 658h0M3377 559h0M3310 554h0M3306 578h0M3304 575h0M3392 564h0M3376 601h0M3384 602h0M3309 583h0M3386 586h0M3341 654h0M3306 608h0M3323 664h0M3387 549h0M3358 640h0M3363 654h0M3384 626h0M3361 657h0M3333 647h0M3393 583h0M3387 635h0M3336 656h0M3294 614h0M3395 602h0M3295 586h0M3394 580h0M3368 564h0M3315 645h0M3347 663h0M3310 582h0M3374 659h0M3297 583h0M3333 662h0M3365 646h0M3299 616h0M3395 571h0M3326 646h0M3341 676h0M3315 608h0M3388 581h0M3356 653h0M3381 553h0M3298 649h0M3338 536h0M3365 687h0M3381 636h0M3335 651h0M3328 539h0M3304 603h0M3297 610h0M3346 656h0M3360 672h0M3314 639h0M3339 663h0M3337 534h0M3653 783h0M3645 860h0M3635 832h0M3648 817h0M3653 814h0M3685 889h0M3659 814h0M3641 861h0M3617 860h0M3613 857h0M3677 891h0M3697 764h0M3691 800h0M3599 822h0M3675 813h0M3632 882h0M3620 821h0M3622 760h0M3615 869h0M3639 776h0M3595 787h0M3628 858h0M3651 766h0M3672 833h0M3658 857h0M3606 804h0M3621 902h0M3617 858h0M3630 754h0M3619 759h0M3651 757h0M3608 796h0M3647 764h0M3639 832h0M3697 816h0M3696 792h0M3635 805h0M3670 862h0M3681 844h0M3661 757h0M3665 834h0M3623 773h0M3634 877h0M3668 855h0M3602 857h0M3612 858h0M3671 798h0M3662 865h0M3607 769h0M3631 758h0M3679 851h0M3656 873h0M3640 803h0M3647 778h0M3670 851h0M3605 809h0M3668 893h0M3636 803h0M3637 852h0M3655 772h0M3667 752h0M3651 851h0M3657 815h0M3664 858h0M3647 777h0M3620 801h0M3672 878h0M3659 897h0M3695 802h0M3624 902h0M3681 814h0M3645 828h0M3625 830h0M3676 783h0M3636 843h0M3664 849h0M3687 756h0M3675 852h0M3674 813h0M3680 869h0M3633 814h0M3669 760h0M3600 769h0M3621 751h0" stroke="#4c5aa6" stroke-opacity=".85"/>
<path d="M3318 616h0M3303 581h0M3365 635h0M3329 554h0M3354 631h0M3328 554h0M3386 629h0M3356 653h0M3317 558h0M3325 567h0M3305 645h0M3306 545h0M3306 606h0M3344 545h0M3366 597h0M3402 615h0M3330 559h0M3336 626h0M3330 640h0M3367 545h0M3313 591h0M3307 555h0M3320 613h0M3384 579h0M3324 549h0M3314 595h0M3398 629h0M3370 533h0M3364 562h0M3322 657h0M3324 598h0M3322 630h0M3345 655h0M3317 651h0M3357 552h0M3296 620h0M3320 547h0M3378 590h0M3366 575h0M3394 558h0M3395 616h0M3343 620h0M3370 598h0M3344 663h0M3368 689h0M3385 582h0M3365 573h0M3320 670h0M3390 595h0M3358 540h0M3300 579h0M3317 558h0M3319 590h0M3320 573h0M3348 634h0M3375 561h0M3297 603h0M3325 669h0M3386 625h0M3630 794h0M3636 870h0M3641 859h0M3598 821h0M3608 828h0M3671 875h0M3651 803h0M3661 801h0M3646 800h0M3656 827h0M3631 835h0M3629 772h0M3644 816h0M3630 823h0M3662 835h0M3633 847h0M3638 887h0M3651 862h0M3624 848h0M3648 896h0M3676 816h0M3664 820h0M3650 862h0M3629 775h0M3681 856h0M3665 874h0M3661 790h0M3629 793h0M3657 858h0M3641 765h0M3666 770h0M3684 865h0M3638 818h0M3680 859h0M3619 758h0M3665 767h0M3617 812h0M3675 767h0M3620 860h0M3650 907h0M3610 852h0M3658 909h0M3649 903h0M3688 854h0M3679 861h0M3613 820h0M3648 835h0M3617 859h0M3670 861h0M3682 873h0M3673 838h0M3650 868h0M3636 830h0M3637 800h0M3630 789h0" stroke="#4272a8" stroke-opacity=".85"/>
<path d="M3379 559h0M3315 574h0M3372 627h0M3363 559h0M3344 651h0M3383 606h0M3376 574h0M3381 611h0M3328 601h0M3335 559h0M3368 562h0M3382 554h0M3331 606h0M3384 605h0M3343 550h0M3381 557h0M3347 530h0M3390 604h0M3359 650h0M3372 603h0M3317 611h0M3363 642h0M3376 613h0M3321 633h0M3315 664h0M3356 654h0M3318 570h0M3315 612h0M3362 542h0M3386 573h0M3343 616h0M3337 650h0M3361 541h0M3370 634h0M3334 598h0M3383 552h0M3319 621h0M3354 531h0M3366 570h0M3348 555h0M3321 657h0M3368 612h0M3361 538h0M3305 593h0M3358 598h0M3374 548h0M3323 581h0M3356 627h0M3392 628h0M3314 615h0M3343 631h0M3357 532h0M3323 594h0M3362 563h0M3310 639h0M3310 556h0M3360 540h0M3350 626h0M3308 577h0M3306 630h0M3309 642h0M3320 663h0M3632 836h0M3648 884h0M3646 825h0M3641 821h0M3663 813h0M3637 808h0M3665 776h0M3665 824h0M3648 874h0M3644 767h0M3645 875h0M3648 878h0M3673 829h0M3672 827h0M3649 789h0M3656 823h0M3667 814h0M3631 829h0M3658 850h0M3645 780h0M3644 810h0M3666 856h0" stroke="#40949c" stroke-opacity=".85"/>
<path d="M3328 613h0M3333 631h0M3346 641h0M3332 630h0M3352 550h0M3329 639h0M3367 579h0M3369 603h0M3372 585h0M3337 607h0M3323 606h0M3351 575h0M3306 592h0M3335 544h0M3359 621h0M3354 553h0M3370 610h0M3349 632h0M3323 604h0M3344 654h0M3336 646h0M3325 562h0M3341 614h0M3336 530h0M3330 592h0M3356 554h0M3353 631h0M3313 575h0M3381 628h0M3308 552h0M3313 564h0M3378 589h0M3363 601h0M3378 585h0M3317 608h0M3333 634h0M3323 558h0M3359 650h0M3381 625h0M3329 580h0M3313 632h0M3314 637h0M3357 553h0M3327 549h0M3309 573h0M3336 658h0M3359 578h0M3324 555h0M3331 656h0M3349 650h0M3358 632h0M3357 651h0M3365 644h0M3651 813h0M3655 760h0M3639 826h0" stroke="#44a860" stroke-opacity=".85"/>
<path d="M3340 549h0M3326 588h0M3357 600h0M3362 611h0M3322 564h0M3334 618h0M3370 571h0M3364 544h0M3350 596h0M3363 592h0M3320 590h0M3351 620h0M3341 578h0M3370 618h0M3325 556h0M3341 549h0M3340 626h0M3364 609h0M3326 560h0M3309 595h0M3364 544h0M3317 588h0M3343 578h0M3332 589h0M3330 610h0M3327 628h0M3315 598h0" stroke="#5cb840" stroke-opacity=".85"/>
<path d="M3325 581h0M3335 586h0M3328 605h0M3327 598h0M3361 591h0M3353 584h0M3347 594h0M3332 578h0M3372 618h0M3343 564h0M3346 563h0M3356 613h0M3353 581h0M3331 578h0M3358 624h0M3341 568h0M3351 614h0M3353 558h0M3365 599h0M3358 606h0M3372 584h0M3338 618h0" stroke="#98c834" stroke-opacity=".85"/>
<path d="M3329 589h0M3349 591h0M3343 590h0M3354 583h0M3336 571h0M3342 582h0M3347 595h0M3357 586h0M3355 613h0" stroke="#d8d22c" stroke-opacity=".85"/>
<path d="M3346 589h0M3344 584h0M3342 599h0" stroke="#f0a026" stroke-opacity=".85"/>
<path d="M3344 582h0M3344 587h0" stroke="#e6261c" stroke-opacity=".85"/>
<path d="M2464 1303h0M2432 1346h0M2518 1370h0M2482 1266h0M2428 1364h0M2433 1358h0M2410 1358h0M2437 1614h0M2524 1451h0M2415 1618h0M2419 1342h0M2418 1431h0M2512 1338h0M2523 1426h0M2518 1513h0M2473 1516h0M2434 1516h0M2469 1325h0M2459 1314h0M2419 1400h0M2495 1318h0M2507 1484h0M2535 1450h0M2459 1314h0M2415 1420h0M2521 1390h0M2406 1368h0M2510 1510h0M2440 1330h0M2436 1535h0M2527 1483h0M2531 1411h0M2429 1312h0M2523 1376h0M2455 1323h0M2859 1710h0M2814 1793h0M2842 1686h0M2776 1469h0M2817 1813h0M2780 1850h0M2885 1727h0M2656 1855h0M2858 1716h0M2582 1797h0M2617 1802h0M2806 1410h0M2880 1467h0M2628 1814h0M2821 1470h0M2852 1750h0M2867 1647h0M2771 1849h0M2563 1454h0M2758 1822h0M2662 1830h0M2686 1833h0M2745 1905h0M2860 1502h0M2860 1645h0M2804 1840h0M2814 1767h0M2836 1813h0M2755 1933h0M2733 1894h0M2843 1844h0M2671 1439h0M2867 1695h0M2855 1777h0M2793 1822h0M2841 1761h0M2841 1638h0M2585 1789h0M2795 1459h0M2748 1863h0M2716 1898h0M2847 1674h0M2806 1522h0M2959 1643h0M2855 1691h0M2584 1536h0M2685 1430h0M2852 1596h0M2648 1839h0M2876 1572h0M2846 1812h0M2629 1388h0M2853 1816h0M2865 1573h0M2868 1744h0M2703 1871h0M2713 1935h0M2721 1926h0M2848 1561h0M2856 1719h0M2862 1736h0M2591 1476h0M2854 1628h0M2820 1869h0M2723 1917h0M2709 1893h0M2864 1687h0M2836 1760h0M2830 1762h0M2874 1700h0M2822 1786h0M2624 1784h0M2880 1402h0M2853 1748h0M2925 1721h0M2864 1677h0M2864 1673h0M2547 1511h0M2848 1824h0M2909 1850h0M2712 1380h0M2896 1718h0M2582 1748h0M2776 1425h0M2730 1427h0M2890 1899h0M2587 1804h0M2752 1456h0M2767 1469h0M2819 1521h0M2662 1833h0M2808 1958h0M2821 1760h0M2576 1410h0M2699 1854h0M2781 1862h0M2870 1621h0M2791 1506h0M2816 1534h0M2805 1869h0M2925 1734h0M2566 1539h0M2637 1435h0M2845 1554h0M2820 1404h0M2681 1441h0M2677 1429h0M2777 1397h0M2779 1448h0M2790 1476h0M2767 1430h0M2505 1576h0M2509 1576h0M2553 1482h0M2544 1531h0M2785 1474h0M2571 1422h0M2559 1495h0M2818 1413h0M2764 1398h0M2795 1445h0M2543 1501h0M2556 1556h0M2819 1539h0M2874 1521h0M2733 1424h0M2594 1450h0M2581 1460h0M2904 1455h0M2648 1422h0M2704 1437h0M2738 1398h0M2575 1436h0M2668 1428h0M2576 1513h0M2764 1477h0M2571 1488h0M2743 1411h0M2794 1500h0M2761 1441h0M2679 1369h0M2580 1478h0M2626 1438h0M2828 1520h0M2513 1535h0M2570 1415h0M2588 1435h0M2499 1557h0M2593 1425h0M2644 1418h0M2754 1449h0M2637 1425h0M2828 1442h0M2600 1450h0M2781 1471h0M2741 1440h0M2618 1808h0M2429 1629h0M2469 1671h0M2521 1679h0M2443 1584h0M2442 1728h0M2514 1701h0M2543 1779h0M2548 1739h0M2525 1634h0M2499 1644h0M2482 1836h0M2531 1736h0M2512 1625h0M2519 1664h0M2504 1640h0M2608 1784h0M2514 1562h0M2481 1701h0M2488 1732h0M2579 1753h0M2619 1835h0M2517 1561h0M2509 1771h0M2522 1611h0M2567 1719h0M2607 1781h0M2600 1811h0M2556 1737h0M2540 1759h0M2475 1594h0M2568 1715h0M2566 1761h0M2528 1835h0M2512 1705h0M2522 1628h0M2585 1754h0M2509 1680h0M2609 1803h0M2548 1731h0M2537 1691h0M2595 1789h0M2475 1725h0M2523 1656h0M2583 1404h0M2526 1791h0M2476 1635h0M2481 1738h0M2510 1587h0M2499 1671h0M2558 1513h0M2518 1603h0M2575 1772h0M2512 1548h0M2570 1822h0M2554 1710h0M2490 1749h0M2547 1809h0M2649 1834h0M2556 1765h0M2555 1470h0M2554 1742h0M2581 1956h0M2510 1555h0M2519 1596h0M2571 1735h0M2413 1628h0M2566 1808h0M2475 1558h0M2526 1613h0M2505 1600h0M2508 1669h0M2488 1729h0M2546 1526h0M2532 1657h0M2541 1546h0M2545 1757h0M2576 1861h0M2495 1601h0M2538 1720h0M2523 1771h0M2539 1550h0M2484 1758h0" stroke="#a4a4d4" stroke-opacity=".70"/>
<path d="M2500 1467h0M2437 1470h0M2498 1494h0M2499 1454h0M2484 1506h0M2489 1492h0M2493 1353h0M2435 1430h0M2494 1350h0M2438 1386h0M2485 1367h0M2457 1491h0M2496 1477h0M2469 1508h0M2498 1429h0M2453 1350h0M2436 1475h0M2499 1364h0M2502 1451h0M2453 1366h0M2428 1413h0M2434 1495h0M2490 1353h0M2419 1389h0M2450 1500h0M2446 1497h0M2513 1385h0M2434 1442h0M2495 1340h0M2461 1343h0M2468 1370h0M2482 1350h0M2421 1387h0M2497 1509h0M2472 1488h0M2490 1339h0M2422 1426h0M2502 1443h0M2477 1500h0M2479 1496h0M2436 1480h0M2431 1411h0M2441 1494h0M2492 1332h0M2488 1346h0M2429 1482h0M2445 1439h0M2503 1457h0M2459 1362h0M2435 1421h0M2481 1363h0M2436 1497h0M2461 1343h0M2471 1356h0M2468 1493h0M2481 1490h0M2508 1424h0M2438 1377h0M2492 1500h0M2475 1493h0M2457 1351h0M2431 1484h0M2485 1365h0M2467 1334h0M2506 1412h0M2500 1469h0M2492 1362h0M2433 1452h0M2443 1361h0M2457 1508h0M2465 1332h0M2437 1436h0M2457 1366h0M2479 1334h0M2419 1387h0M2515 1411h0M2511 1413h0M2488 1503h0M2509 1388h0M2458 1367h0M2747 1470h0M2737 1829h0M2734 1816h0M2644 1777h0M2768 1802h0M2810 1521h0M2811 1743h0M2766 1501h0M2744 1803h0M2700 1828h0M2714 1844h0M2785 1803h0M2830 1584h0M2812 1741h0M2788 1505h0M2671 1804h0M2829 1581h0M2771 1799h0M2757 1802h0M2828 1708h0M2831 1654h0M2788 1794h0M2809 1585h0M2753 1814h0M2676 1799h0M2830 1658h0M2667 1809h0M2823 1712h0M2812 1553h0M2563 1640h0M2798 1800h0M2715 1825h0M2731 1818h0M2700 1822h0M2656 1800h0M2847 1655h0M2601 1487h0M2637 1777h0M2579 1623h0M2607 1768h0M2590 1707h0M2610 1748h0M2582 1714h0M2772 1826h0M2841 1649h0M2701 1851h0M2837 1549h0M2812 1588h0M2828 1658h0M2829 1565h0M2552 1603h0M2811 1587h0M2782 1827h0M2683 1819h0M2620 1539h0M2666 1465h0M2835 1561h0M2605 1740h0M2638 1789h0M2795 1549h0M2841 1610h0M2774 1441h0M2582 1700h0M2823 1729h0M2593 1561h0M2597 1536h0M2591 1554h0M2653 1821h0M2588 1716h0M2644 1824h0M2707 1461h0M2775 1794h0M2649 1793h0M2791 1788h0M2810 1561h0M2773 1829h0M2790 1791h0M2833 1652h0M2842 1649h0M2567 1653h0M2804 1781h0M2593 1773h0M2598 1761h0M2546 1679h0M2685 1819h0M2564 1656h0M2548 1661h0M2829 1666h0M2639 1817h0M2757 1817h0M2595 1714h0M2768 1793h0M2556 1592h0M2549 1637h0M2838 1598h0M2639 1779h0M2756 1806h0M2802 1783h0M2588 1651h0M2832 1570h0M2809 1513h0M2824 1721h0M2601 1739h0M2588 1545h0M2578 1649h0M2549 1537h0M2622 1780h0M2584 1582h0M2557 1577h0M2716 1840h0M2677 1813h0M2838 1608h0M2541 1585h0M2607 1464h0M2803 1788h0M2832 1695h0M2645 1814h0M2649 1443h0M2722 1832h0M2702 1835h0M2620 1536h0M2837 1605h0M2780 1831h0M2785 1820h0M2655 1457h0M2615 1472h0M2565 1576h0M2554 1662h0M2587 1654h0M2649 1790h0M2539 1643h0M2697 1834h0M2820 1601h0M2814 1739h0M2589 1762h0M2783 1528h0M2769 1805h0M2704 1847h0M2831 1554h0M2552 1543h0M2838 1608h0M2718 1825h0M2600 1757h0M2833 1689h0M2563 1652h0M2775 1491h0M2738 1452h0M2640 1817h0M2805 1556h0M2823 1576h0M2822 1726h0M2620 1518h0M2613 1473h0M2606 1511h0M2596 1550h0M2772 1493h0M2609 1503h0M2682 1466h0M2741 1473h0M2531 1594h0M2673 1444h0M2665 1482h0M2737 1451h0M2698 1461h0M2676 1463h0M2600 1536h0M2699 1455h0M2657 1447h0M2614 1538h0M2824 1543h0M2793 1524h0M2572 1545h0M2602 1519h0M2689 1476h0M2598 1500h0M2676 1470h0M2619 1456h0M2582 1501h0M2572 1499h0M2773 1495h0M2599 1501h0M2784 1492h0M2583 1494h0M2602 1497h0M2610 1534h0M2750 1473h0M2760 1446h0M2617 1479h0M2596 1518h0M2600 1560h0M2632 1454h0M2582 1493h0M2584 1505h0M2699 1442h0M2572 1551h0M2769 1446h0M2693 1470h0M2581 1603h0M2621 1528h0M2654 1497h0M2787 1494h0M2610 1455h0M2617 1454h0M2627 1456h0M2666 1449h0M2613 1509h0M2816 1525h0M2666 1446h0M2690 1453h0M2757 1496h0M2547 1635h0M2540 1693h0M2548 1681h0M2604 1680h0M2602 1687h0M2585 1604h0M2577 1673h0M2551 1637h0M2565 1619h0M2565 1685h0M2529 1581h0M2583 1638h0M2589 1733h0M2561 1604h0M2541 1683h0M2569 1591h0M2585 1697h0M2581 1656h0M2550 1625h0M2553 1664h0M2532 1639h0M2553 1629h0M2549 1699h0M2550 1577h0M2582 1721h0M2618 1464h0M2575 1696h0M2561 1556h0M2560 1609h0M2531 1582h0M2556 1685h0M2610 1524h0M2572 1708h0M2532 1579h0M2607 1618h0M2581 1649h0M2612 1762h0M2583 1617h0M2544 1624h0M2624 1543h0M2576 1575h0M2554 1658h0M2613 1526h0M2584 1666h0M2571 1565h0M2583 1602h0M2598 1680h0M2568 1661h0M2528 1600h0M2616 1768h0M2590 1627h0M2550 1625h0M2597 1718h0M2568 1656h0M2568 1674h0M2578 1567h0M2568 1682h0M2589 1664h0M2601 1732h0M2546 1612h0M2555 1645h0M2547 1586h0M2583 1621h0M2557 1683h0M2583 1630h0M2570 1595h0M2542 1579h0M2531 1675h0" stroke="#7a82c2"/>
<path d="M2504 1385h0M2495 1445h0M2440 1389h0M2445 1382h0M2457 1455h0M2458 1487h0M2454 1439h0M2492 1457h0M2448 1385h0M2480 1453h0M2492 1380h0M2490 1438h0M2467 1454h0M2460 1465h0M2494 1409h0M2498 1387h0M2440 1425h0M2477 1474h0M2475 1456h0M2485 1397h0M2492 1458h0M2440 1396h0M2506 1392h0M2443 1464h0M2446 1428h0M2447 1418h0M2465 1449h0M2453 1445h0M2468 1471h0M2487 1376h0M2497 1379h0M2447 1455h0M2465 1440h0M2478 1456h0M2445 1473h0M2444 1453h0M2488 1413h0M2466 1442h0M2446 1453h0M2457 1473h0M2473 1371h0M2498 1392h0M2466 1453h0M2480 1464h0M2478 1377h0M2466 1452h0M2445 1417h0M2463 1465h0M2488 1385h0M2473 1479h0M2456 1468h0M2490 1455h0M2468 1462h0M2445 1474h0M2444 1431h0M2448 1434h0M2451 1484h0M2500 1396h0M2467 1382h0M2492 1417h0M2493 1434h0M2458 1420h0M2456 1381h0M2504 1382h0M2489 1398h0M2458 1489h0M2440 1466h0M2490 1457h0M2443 1488h0M2448 1451h0M2488 1435h0M2446 1417h0M2454 1417h0M2445 1413h0M2447 1483h0M2465 1390h0M2495 1400h0M2494 1429h0M2462 1474h0M2495 1422h0M2487 1398h0M2481 1388h0M2490 1417h0M2467 1381h0M2452 1380h0M2467 1475h0M2789 1769h0M2621 1552h0M2736 1810h0M2707 1809h0M2811 1681h0M2803 1735h0M2772 1534h0M2817 1643h0M2692 1805h0M2759 1518h0M2787 1779h0M2753 1521h0M2803 1575h0M2772 1539h0M2772 1519h0M2600 1715h0M2808 1686h0M2810 1628h0M2621 1618h0M2663 1774h0M2753 1525h0M2698 1816h0M2630 1585h0M2800 1748h0M2702 1804h0M2820 1693h0M2761 1785h0M2809 1621h0M2684 1795h0M2762 1784h0M2658 1787h0M2826 1610h0M2621 1769h0M2710 1808h0M2752 1792h0M2644 1534h0M2694 1808h0M2821 1647h0M2810 1656h0M2650 1774h0M2681 1486h0M2722 1817h0M2799 1573h0M2808 1603h0M2745 1505h0M2817 1642h0M2821 1618h0M2769 1782h0M2629 1754h0M2701 1802h0M2682 1801h0M2717 1479h0M2751 1527h0M2730 1487h0M2755 1517h0M2617 1571h0M2645 1573h0M2738 1474h0M2811 1603h0M2814 1633h0M2760 1787h0M2629 1758h0M2651 1507h0M2626 1727h0M2768 1531h0M2634 1590h0M2623 1610h0M2645 1546h0M2803 1587h0M2814 1711h0M2702 1484h0M2809 1685h0M2586 1566h0M2670 1487h0M2601 1577h0M2617 1619h0M2639 1484h0M2595 1647h0M2714 1817h0M2636 1498h0M2813 1638h0M2813 1676h0M2648 1545h0M2635 1481h0M2677 1506h0M2610 1589h0M2631 1493h0M2728 1819h0M2602 1697h0M2608 1675h0M2580 1570h0M2631 1749h0M2730 1809h0M2808 1652h0M2683 1801h0M2614 1727h0M2619 1575h0M2625 1724h0M2601 1634h0M2813 1598h0M2643 1510h0M2614 1664h0M2730 1485h0M2623 1731h0M2820 1627h0M2823 1673h0M2624 1564h0M2810 1663h0M2788 1766h0M2825 1706h0M2686 1795h0M2647 1533h0M2728 1810h0M2606 1588h0M2827 1620h0M2695 1805h0M2826 1636h0M2825 1652h0M2613 1590h0M2824 1674h0M2763 1514h0M2783 1770h0M2679 1801h0M2626 1675h0M2817 1663h0M2602 1645h0M2625 1726h0M2651 1776h0M2622 1742h0M2618 1686h0M2672 1493h0M2817 1631h0M2816 1625h0M2751 1509h0M2791 1758h0M2613 1667h0M2603 1607h0M2616 1691h0M2604 1653h0M2609 1681h0M2729 1805h0M2799 1750h0M2615 1616h0M2618 1664h0M2746 1511h0M2645 1524h0M2614 1758h0M2590 1594h0M2601 1701h0M2818 1672h0M2633 1476h0M2793 1766h0M2771 1508h0M2771 1524h0M2820 1605h0M2623 1762h0M2726 1817h0M2670 1481h0M2680 1782h0M2606 1588h0M2683 1473h0M2722 1453h0M2625 1757h0M2816 1714h0M2820 1687h0M2646 1533h0M2824 1647h0M2643 1488h0M2598 1701h0M2775 1527h0M2821 1681h0M2608 1626h0M2644 1528h0M2644 1503h0M2601 1564h0M2645 1485h0M2818 1624h0M2610 1611h0M2606 1606h0M2752 1529h0M2622 1571h0M2767 1528h0M2649 1765h0M2805 1745h0M2807 1588h0M2740 1504h0M2676 1507h0M2821 1618h0M2673 1788h0M2651 1777h0M2792 1766h0M2815 1660h0M2626 1483h0M2633 1505h0M2584 1566h0M2622 1594h0M2729 1490h0M2628 1523h0M2746 1492h0M2634 1563h0M2621 1564h0M2626 1488h0M2729 1462h0M2720 1460h0M2671 1481h0M2630 1550h0M2643 1463h0M2630 1503h0M2643 1512h0M2588 1562h0M2649 1462h0M2639 1472h0M2773 1537h0M2628 1561h0M2714 1465h0M2682 1500h0M2798 1561h0M2658 1479h0M2762 1516h0M2733 1480h0M2634 1490h0M2647 1521h0M2668 1509h0M2606 1574h0M2675 1472h0M2717 1475h0M2736 1461h0M2645 1462h0M2713 1460h0M2735 1481h0M2600 1596h0M2716 1451h0M2578 1576h0M2726 1459h0M2647 1528h0M2638 1520h0M2736 1462h0M2723 1451h0M2644 1517h0M2671 1479h0M2714 1472h0M2770 1510h0M2622 1464h0M2632 1554h0M2637 1486h0M2783 1537h0M2628 1480h0M2716 1459h0M2628 1494h0M2638 1548h0M2760 1506h0M2649 1464h0M2665 1475h0M2641 1469h0M2620 1471h0M2626 1484h0M2631 1486h0M2674 1472h0M2606 1570h0M2626 1578h0M2642 1470h0M2626 1484h0M2769 1506h0M2638 1465h0M2719 1481h0M2742 1508h0M2638 1562h0M2617 1575h0M2603 1651h0M2601 1644h0M2628 1562h0M2631 1555h0M2604 1713h0M2612 1614h0M2607 1587h0M2581 1571h0M2605 1723h0M2591 1594h0M2609 1620h0M2611 1599h0M2600 1600h0M2603 1640h0M2619 1674h0M2610 1725h0M2605 1670h0M2615 1755h0M2604 1578h0M2619 1733h0M2622 1736h0M2580 1575h0M2617 1595h0M2589 1561h0M2629 1752h0M2630 1739h0M2628 1740h0M2605 1632h0M2621 1613h0M2599 1636h0M2603 1584h0M2625 1758h0M2616 1561h0M2595 1650h0" stroke="#5e6ab2"/>
<path d="M2460 1428h0M2466 1403h0M2483 1450h0M2463 1398h0M2476 1408h0M2474 1395h0M2470 1426h0M2471 1414h0M2467 1430h0M2451 1398h0M2452 1387h0M2486 1402h0M2451 1404h0M2460 1395h0M2487 1446h0M2453 1383h0M2484 1424h0M2462 1411h0M2472 1400h0M2458 1410h0M2450 1400h0M2478 1430h0M2478 1421h0M2478 1446h0M2478 1418h0M2479 1406h0M2467 1392h0M2471 1414h0M2483 1427h0M2487 1410h0M2487 1413h0M2471 1418h0M2484 1434h0M2482 1429h0M2462 1418h0M2465 1408h0M2468 1447h0M2477 1429h0M2485 1443h0M2470 1399h0M2451 1386h0M2487 1409h0M2463 1417h0M2459 1417h0M2472 1435h0M2469 1392h0M2449 1394h0M2478 1442h0M2452 1401h0M2452 1386h0M2477 1438h0M2477 1451h0M2484 1411h0M2476 1439h0M2464 1422h0M2480 1435h0M2450 1401h0M2481 1448h0M2701 1499h0M2805 1619h0M2771 1761h0M2717 1794h0M2805 1674h0M2661 1541h0M2734 1790h0M2645 1716h0M2656 1583h0M2736 1526h0M2757 1781h0M2667 1567h0M2735 1498h0M2666 1519h0M2801 1652h0M2783 1552h0M2748 1783h0M2724 1795h0M2655 1587h0M2691 1777h0M2620 1702h0M2705 1508h0M2642 1670h0M2713 1797h0M2718 1796h0M2654 1548h0M2719 1795h0M2803 1653h0M2636 1686h0M2628 1696h0M2644 1724h0M2804 1719h0M2720 1483h0M2747 1517h0M2650 1753h0M2632 1690h0M2800 1631h0M2802 1663h0M2637 1658h0M2794 1587h0M2782 1561h0M2696 1794h0M2644 1653h0M2799 1668h0M2799 1627h0M2634 1617h0M2713 1797h0M2784 1756h0M2733 1789h0M2801 1706h0M2770 1769h0M2643 1583h0M2644 1597h0M2663 1568h0M2688 1773h0M2724 1515h0M2644 1718h0M2643 1726h0M2730 1514h0M2686 1774h0M2803 1703h0M2782 1758h0M2762 1777h0M2804 1693h0M2698 1796h0M2780 1544h0M2649 1566h0M2699 1511h0M2675 1520h0M2790 1722h0M2734 1524h0M2707 1493h0M2642 1668h0M2677 1773h0M2792 1598h0M2793 1725h0M2709 1484h0M2625 1702h0M2702 1796h0M2647 1661h0M2704 1500h0M2795 1592h0M2797 1593h0M2675 1779h0M2724 1519h0M2815 1695h0M2738 1781h0M2644 1760h0M2726 1488h0M2799 1655h0M2767 1778h0M2644 1738h0M2699 1515h0M2661 1554h0M2705 1799h0M2640 1724h0M2800 1706h0M2643 1676h0M2779 1753h0M2802 1614h0M2661 1554h0M2714 1801h0M2634 1611h0M2791 1733h0M2649 1752h0M2616 1634h0M2641 1757h0M2690 1493h0M2635 1706h0M2798 1623h0M2809 1700h0M2793 1732h0M2613 1652h0M2739 1515h0M2646 1597h0M2655 1577h0M2740 1529h0M2643 1713h0M2799 1697h0M2629 1647h0M2746 1527h0M2792 1744h0M2642 1738h0M2643 1662h0M2758 1538h0M2634 1625h0M2799 1607h0M2637 1648h0M2616 1645h0M2818 1701h0M2633 1719h0M2706 1506h0M2800 1631h0M2793 1585h0M2619 1703h0M2697 1774h0M2667 1568h0M2721 1510h0M2659 1767h0M2725 1800h0M2618 1705h0M2785 1559h0M2641 1649h0M2650 1548h0M2678 1515h0M2627 1702h0M2638 1587h0M2645 1624h0M2639 1551h0M2647 1597h0M2625 1714h0M2623 1640h0M2623 1700h0M2793 1575h0M2772 1543h0M2634 1611h0M2723 1495h0M2652 1578h0M2647 1689h0M2691 1500h0M2698 1796h0M2800 1694h0M2774 1544h0M2620 1625h0M2659 1525h0M2654 1525h0M2789 1751h0M2638 1623h0M2752 1782h0M2640 1722h0M2655 1524h0M2621 1647h0M2734 1783h0M2628 1635h0M2732 1511h0M2640 1681h0M2804 1667h0M2639 1647h0M2642 1748h0M2652 1573h0M2738 1517h0M2622 1652h0M2736 1785h0M2799 1715h0M2780 1549h0M2686 1502h0M2622 1639h0M2815 1704h0M2641 1630h0M2640 1746h0M2809 1698h0M2804 1665h0M2628 1695h0M2628 1644h0M2790 1744h0M2800 1604h0M2697 1516h0M2652 1759h0M2621 1704h0M2631 1673h0M2678 1779h0M2624 1702h0M2665 1530h0M2667 1552h0M2661 1521h0M2795 1599h0M2722 1509h0M2780 1755h0M2640 1639h0M2623 1700h0M2628 1652h0M2609 1646h0M2806 1602h0M2696 1493h0M2677 1780h0M2789 1719h0M2618 1699h0M2712 1496h0M2627 1682h0M2718 1495h0M2628 1637h0M2798 1568h0M2809 1702h0M2643 1755h0M2652 1520h0M2624 1685h0M2720 1485h0M2622 1714h0M2648 1554h0M2641 1640h0M2633 1662h0M2705 1494h0M2805 1685h0M2643 1676h0M2803 1666h0M2707 1795h0M2644 1716h0M2661 1523h0M2675 1777h0M2630 1604h0M2643 1593h0M2610 1714h0M2638 1626h0M2623 1650h0M2616 1691h0M2611 1695h0M2760 1533h0M2629 1620h0M2627 1713h0M2649 1589h0M2648 1756h0M2805 1605h0M2645 1637h0M2638 1711h0M2610 1717h0M2647 1583h0M2708 1494h0M2709 1514h0M2736 1521h0M2690 1511h0M2699 1500h0M2689 1511h0M2642 1558h0M2728 1500h0M2657 1511h0M2654 1514h0M2689 1504h0M2726 1500h0M2682 1508h0M2686 1509h0M2659 1525h0M2725 1501h0M2658 1519h0M2651 1566h0M2653 1549h0M2657 1565h0M2650 1523h0M2677 1524h0M2639 1552h0M2710 1491h0M2649 1551h0M2717 1514h0M2690 1513h0M2725 1483h0M2686 1513h0M2651 1557h0M2694 1491h0M2714 1494h0M2675 1515h0M2680 1520h0M2720 1487h0M2745 1518h0M2655 1525h0M2639 1681h0M2711 1497h0M2706 1491h0M2713 1492h0M2627 1705h0M2633 1598h0M2665 1543h0M2629 1659h0M2641 1591h0M2633 1713h0M2624 1683h0M2618 1624h0M2792 1571h0M2639 1676h0M2660 1560h0M2618 1654h0M2624 1687h0M2626 1637h0M2656 1586h0M2637 1596h0M2642 1752h0M2639 1650h0M2614 1704h0M2638 1610h0M2639 1556h0M2627 1635h0M2632 1668h0M2620 1650h0M2614 1643h0M2619 1649h0" stroke="#4c5aa6"/>
<path d="M2749 1543h0M2790 1675h0M2659 1747h0M2688 1767h0M2777 1558h0M2769 1760h0M2786 1578h0M2794 1635h0M2788 1633h0M2787 1600h0M2678 1557h0M2708 1789h0M2713 1783h0M2790 1612h0M2687 1761h0M2781 1588h0M2687 1524h0M2784 1588h0M2784 1562h0M2704 1784h0M2674 1539h0M2788 1569h0M2795 1690h0M2727 1526h0M2678 1533h0M2752 1543h0M2705 1780h0M2784 1743h0M2646 1615h0M2793 1656h0M2737 1540h0M2756 1780h0M2650 1734h0M2741 1774h0M2656 1710h0M2673 1764h0M2701 1791h0M2730 1779h0M2669 1554h0M2758 1768h0M2697 1761h0M2753 1549h0M2790 1631h0M2717 1783h0M2790 1701h0M2781 1570h0M2727 1791h0M2671 1548h0M2674 1551h0M2785 1579h0M2759 1770h0M2795 1702h0M2796 1642h0M2795 1607h0M2774 1557h0M2793 1701h0M2785 1574h0M2793 1617h0M2640 1709h0M2794 1692h0M2691 1527h0M2791 1690h0M2655 1737h0M2705 1530h0M2780 1571h0M2670 1771h0M2794 1632h0M2656 1709h0M2764 1544h0M2668 1751h0M2759 1551h0M2789 1620h0M2789 1671h0M2797 1661h0M2755 1541h0M2797 1635h0M2697 1526h0M2757 1773h0M2792 1632h0M2775 1754h0M2793 1617h0M2790 1686h0M2781 1578h0M2786 1743h0M2642 1692h0M2668 1750h0M2645 1603h0M2676 1552h0M2791 1651h0M2653 1742h0M2650 1737h0M2736 1532h0M2790 1648h0M2641 1613h0M2661 1760h0M2680 1526h0M2660 1758h0M2668 1541h0M2678 1531h0M2705 1530h0M2692 1770h0M2785 1741h0M2647 1706h0M2702 1771h0M2726 1781h0M2666 1588h0M2712 1529h0M2673 1574h0M2781 1570h0M2685 1526h0M2734 1537h0M2737 1540h0M2779 1585h0M2794 1652h0M2741 1542h0M2674 1580h0M2658 1661h0M2751 1549h0M2677 1535h0M2657 1745h0M2782 1563h0M2656 1733h0M2703 1528h0M2753 1550h0M2703 1782h0M2656 1599h0M2796 1656h0M2658 1595h0M2768 1761h0M2750 1544h0M2777 1551h0M2780 1583h0M2752 1550h0M2762 1542h0M2668 1753h0M2659 1759h0M2651 1674h0M2644 1693h0M2699 1781h0M2794 1649h0M2674 1770h0M2676 1531h0M2670 1552h0M2675 1532h0M2725 1527h0M2727 1531h0M2674 1553h0M2697 1523h0M2672 1549h0M2699 1525h0M2784 1564h0M2670 1539h0M2670 1547h0M2711 1531h0M2689 1537h0M2676 1551h0M2701 1527h0M2651 1676h0M2648 1613h0M2652 1658h0M2669 1567h0M2654 1733h0M2664 1743h0" stroke="#4272a8"/>
<path d="M2726 1534h0M2672 1751h0M2699 1548h0M2784 1719h0M2654 1646h0M2776 1592h0M2673 1748h0M2659 1595h0M2770 1563h0M2770 1588h0M2771 1567h0M2691 1552h0M2741 1763h0M2726 1540h0M2718 1773h0M2722 1775h0M2659 1728h0M2674 1747h0M2664 1712h0M2776 1591h0M2699 1551h0M2772 1570h0M2725 1541h0M2780 1611h0M2785 1705h0M2779 1714h0M2756 1558h0M2787 1698h0M2782 1609h0M2705 1540h0M2656 1690h0M2735 1545h0M2779 1730h0M2734 1553h0M2732 1552h0M2667 1721h0M2782 1603h0M2718 1774h0M2778 1697h0M2780 1717h0M2781 1714h0M2775 1586h0M2771 1747h0M2656 1697h0M2773 1562h0M2665 1598h0M2666 1713h0M2679 1551h0M2745 1551h0M2687 1750h0M2773 1745h0M2745 1762h0M2663 1713h0M2742 1765h0M2774 1598h0M2769 1590h0M2672 1581h0M2703 1545h0M2666 1730h0M2704 1545h0M2681 1755h0M2671 1591h0M2724 1531h0M2692 1754h0M2710 1776h0M2769 1735h0M2678 1561h0M2648 1683h0M2657 1645h0M2745 1762h0M2676 1737h0M2687 1569h0M2668 1595h0M2714 1536h0M2727 1776h0M2757 1765h0M2748 1761h0M2770 1739h0M2651 1692h0M2673 1748h0M2661 1595h0M2710 1779h0M2785 1702h0M2771 1579h0M2746 1768h0M2655 1639h0M2749 1552h0M2655 1638h0M2663 1727h0M2782 1714h0M2652 1641h0M2655 1684h0M2653 1621h0M2668 1595h0M2778 1745h0M2730 1542h0M2651 1690h0M2698 1543h0M2694 1550h0M2765 1570h0M2753 1557h0M2699 1544h0M2700 1534h0M2736 1556h0M2773 1564h0M2710 1534h0M2651 1691h0M2693 1753h0M2657 1603h0" stroke="#40949c"/>
<path d="M2670 1625h0M2716 1552h0M2704 1573h0M2678 1711h0M2674 1708h0M2775 1620h0M2740 1751h0M2751 1585h0M2764 1581h0M2663 1644h0M2781 1654h0M2776 1706h0M2731 1564h0M2766 1579h0M2757 1582h0M2680 1721h0M2765 1578h0M2696 1737h0M2719 1568h0M2686 1588h0M2678 1596h0M2771 1621h0M2701 1748h0M2728 1549h0M2761 1576h0M2783 1675h0M2661 1705h0M2663 1652h0M2727 1551h0M2675 1665h0M2673 1601h0M2663 1696h0M2699 1748h0M2661 1693h0M2732 1754h0M2744 1570h0M2717 1754h0M2693 1743h0M2726 1544h0M2670 1685h0M2728 1576h0M2781 1687h0M2714 1561h0M2664 1686h0M2759 1590h0M2785 1628h0M2706 1758h0M2764 1599h0M2782 1641h0M2711 1760h0M2771 1625h0M2730 1764h0M2774 1611h0M2724 1544h0M2701 1573h0M2751 1566h0M2748 1748h0M2715 1757h0M2687 1575h0M2674 1727h0M2679 1583h0M2709 1769h0M2761 1578h0M2714 1757h0M2662 1688h0M2758 1593h0M2674 1717h0M2684 1720h0M2686 1718h0M2768 1613h0M2687 1578h0M2757 1748h0M2766 1607h0M2673 1601h0M2750 1579h0M2776 1725h0M2673 1593h0M2706 1559h0M2704 1759h0M2678 1689h0M2700 1748h0M2763 1599h0M2774 1727h0M2764 1587h0M2713 1542h0M2759 1724h0M2781 1618h0M2783 1619h0M2677 1697h0M2707 1568h0M2767 1729h0M2680 1583h0M2786 1619h0M2677 1614h0M2674 1619h0M2718 1754h0M2734 1578h0M2726 1754h0M2708 1569h0M2664 1695h0M2774 1610h0M2714 1580h0M2769 1610h0M2777 1614h0M2760 1589h0M2755 1570h0M2724 1766h0M2668 1706h0M2661 1650h0M2762 1574h0M2738 1573h0M2670 1605h0M2755 1733h0M2663 1630h0M2665 1700h0M2711 1752h0M2725 1561h0M2776 1704h0M2775 1607h0M2672 1632h0M2741 1575h0M2754 1737h0M2713 1579h0M2717 1542h0M2677 1727h0M2780 1680h0M2696 1732h0M2749 1757h0M2663 1667h0M2750 1577h0M2731 1756h0M2691 1565h0M2729 1562h0M2662 1696h0M2746 1563h0M2756 1756h0M2773 1611h0M2710 1575h0M2710 1546h0M2696 1566h0M2784 1627h0M2778 1634h0M2784 1626h0M2724 1757h0M2733 1757h0M2756 1747h0M2787 1614h0M2767 1732h0M2744 1760h0M2770 1729h0M2716 1756h0M2732 1580h0M2757 1740h0M2672 1610h0M2759 1585h0M2749 1743h0M2724 1551h0M2666 1635h0M2665 1602h0M2676 1713h0M2779 1624h0M2776 1619h0M2725 1758h0M2675 1731h0M2666 1676h0M2778 1631h0M2665 1635h0M2709 1579h0M2756 1577h0M2701 1559h0M2658 1645h0M2659 1652h0M2702 1742h0M2757 1578h0M2675 1618h0M2703 1569h0M2720 1560h0M2679 1720h0M2715 1760h0M2749 1582h0M2685 1713h0M2742 1574h0M2759 1740h0M2659 1704h0M2666 1650h0M2753 1759h0M2677 1624h0M2664 1604h0M2703 1558h0M2732 1753h0M2674 1627h0M2673 1725h0M2685 1719h0M2671 1692h0M2747 1743h0M2669 1694h0M2779 1613h0M2688 1740h0M2687 1580h0M2669 1615h0M2682 1730h0M2677 1729h0M2681 1576h0M2663 1705h0M2769 1701h0M2735 1752h0M2770 1698h0M2673 1678h0M2704 1567h0M2728 1563h0M2707 1745h0M2733 1754h0M2765 1582h0M2786 1623h0M2672 1719h0M2694 1578h0M2720 1548h0M2719 1545h0M2708 1558h0M2725 1561h0M2659 1615h0M2702 1754h0M2659 1696h0M2672 1713h0M2671 1729h0" stroke="#44a860"/>
<path d="M2769 1675h0M2771 1643h0M2679 1678h0M2771 1671h0M2737 1733h0M2736 1740h0M2681 1627h0M2746 1726h0M2763 1714h0M2707 1583h0M2685 1639h0M2674 1655h0M2762 1682h0M2693 1597h0M2685 1637h0M2668 1653h0M2705 1587h0M2683 1685h0M2700 1589h0M2691 1706h0M2772 1689h0M2742 1598h0M2743 1589h0M2734 1738h0M2699 1735h0M2683 1635h0M2773 1661h0M2687 1658h0M2768 1681h0M2704 1726h0M2771 1662h0M2718 1585h0M2708 1737h0M2687 1622h0M2771 1633h0M2680 1661h0M2743 1739h0M2776 1652h0M2725 1737h0M2704 1737h0M2767 1721h0M2707 1729h0M2748 1722h0M2681 1637h0M2714 1581h0M2720 1747h0M2736 1599h0M2763 1683h0M2683 1686h0M2735 1749h0M2701 1727h0M2770 1688h0M2746 1720h0M2773 1684h0M2762 1623h0M2678 1637h0M2678 1708h0M2773 1661h0M2752 1617h0M2686 1644h0M2749 1726h0M2672 1642h0M2682 1690h0M2698 1720h0M2721 1746h0M2745 1740h0M2771 1637h0M2673 1641h0M2749 1726h0M2681 1593h0M2699 1590h0M2713 1588h0M2768 1636h0M2774 1668h0M2710 1588h0M2699 1734h0M2690 1706h0M2694 1701h0M2746 1738h0M2757 1617h0M2742 1595h0M2770 1668h0M2731 1593h0M2707 1712h0M2685 1607h0M2718 1743h0M2701 1584h0M2776 1682h0M2692 1591h0M2677 1660h0M2749 1598h0M2682 1692h0M2678 1662h0M2699 1725h0M2718 1743h0M2721 1750h0M2771 1638h0M2752 1720h0M2756 1723h0M2704 1730h0M2681 1644h0M2746 1593h0M2777 1666h0M2759 1713h0M2680 1689h0M2750 1604h0M2679 1647h0M2756 1608h0M2759 1705h0M2764 1617h0M2680 1672h0M2770 1659h0M2760 1629h0M2682 1640h0M2715 1731h0M2682 1684h0M2685 1621h0M2674 1652h0M2677 1641h0M2747 1588h0M2769 1665h0M2736 1587h0M2761 1716h0M2688 1634h0M2696 1714h0M2759 1697h0M2738 1596h0M2671 1642h0M2768 1691h0M2771 1633h0M2744 1726h0M2769 1675h0M2731 1742h0M2697 1586h0M2762 1630h0M2720 1576h0M2769 1650h0M2681 1592h0M2681 1693h0M2687 1619h0M2764 1624h0M2765 1711h0M2757 1712h0M2678 1595h0M2685 1702h0M2690 1723h0M2763 1683h0M2686 1701h0" stroke="#5cb840"/>
<path d="M2697 1603h0M2763 1649h0M2757 1698h0M2762 1660h0M2737 1720h0M2707 1597h0M2759 1668h0M2713 1608h0M2742 1709h0M2692 1634h0M2693 1632h0M2766 1646h0M2750 1687h0M2715 1725h0M2701 1610h0M2690 1684h0M2697 1604h0M2689 1666h0M2688 1670h0M2728 1713h0M2760 1643h0M2722 1729h0M2696 1664h0M2712 1730h0M2719 1601h0M2697 1632h0M2759 1664h0M2767 1663h0M2708 1704h0M2720 1712h0M2709 1718h0M2750 1706h0M2709 1602h0M2735 1606h0M2757 1626h0M2693 1622h0M2719 1717h0M2759 1680h0M2732 1712h0M2696 1673h0M2700 1702h0M2712 1730h0M2703 1692h0M2743 1620h0M2712 1724h0M2759 1667h0M2725 1721h0M2752 1698h0M2714 1597h0M2729 1714h0M2743 1709h0M2691 1630h0M2692 1688h0M2697 1689h0M2701 1597h0M2727 1722h0M2759 1650h0M2762 1658h0M2726 1721h0M2744 1706h0M2712 1597h0M2765 1663h0M2731 1712h0M2731 1607h0M2719 1598h0M2701 1706h0M2763 1635h0M2720 1601h0M2716 1718h0M2726 1731h0M2729 1610h0M2720 1611h0M2703 1606h0M2694 1616h0M2743 1704h0M2765 1668h0M2691 1614h0M2714 1596h0M2739 1617h0M2709 1611h0M2693 1616h0M2717 1721h0M2756 1711h0M2717 1721h0M2761 1651h0M2728 1597h0M2735 1702h0M2721 1610h0M2696 1619h0M2715 1730h0M2758 1656h0M2708 1599h0M2752 1690h0M2745 1618h0" stroke="#98c834"/>
<path d="M2754 1661h0M2740 1630h0M2751 1646h0M2727 1613h0M2751 1635h0M2729 1614h0M2727 1614h0M2756 1665h0M2755 1668h0M2713 1617h0M2746 1628h0M2752 1662h0M2748 1646h0M2741 1693h0M2742 1701h0M2697 1656h0M2738 1701h0M2693 1657h0M2745 1695h0M2750 1667h0M2756 1661h0M2712 1621h0M2691 1649h0M2751 1668h0M2731 1620h0M2712 1613h0M2752 1648h0M2748 1628h0M2689 1658h0M2702 1631h0M2748 1622h0M2717 1708h0M2710 1618h0M2746 1689h0M2745 1624h0M2716 1711h0M2709 1613h0M2715 1613h0M2690 1660h0M2750 1649h0M2752 1659h0M2708 1619h0M2699 1683h0M2730 1621h0M2693 1649h0M2756 1647h0M2748 1643h0M2739 1627h0M2733 1700h0M2697 1649h0M2707 1684h0M2707 1616h0M2708 1618h0M2698 1614h0" stroke="#d8d22c"/>
<path d="M2733 1684h0M2747 1675h0M2730 1685h0M2723 1699h0M2738 1681h0M2715 1698h0M2748 1634h0M2743 1679h0M2741 1654h0M2734 1623h0M2748 1638h0M2730 1687h0M2712 1622h0M2742 1669h0M2738 1677h0M2715 1622h0M2741 1666h0M2713 1629h0M2745 1669h0M2741 1637h0M2716 1629h0M2738 1633h0M2738 1623h0M2746 1657h0M2715 1696h0M2739 1652h0" stroke="#f0a026"/>
<path d="M2744 1651h0M2699 1656h0M2719 1628h0M2725 1687h0M2732 1661h0M2714 1638h0M2718 1681h0M2707 1651h0M2700 1669h0M2742 1642h0M2713 1681h0M2704 1650h0M2717 1631h0M2727 1682h0M2719 1684h0M2703 1647h0M2705 1660h0M2707 1644h0M2734 1667h0M2737 1632h0M2733 1659h0M2729 1676h0M2735 1653h0M2741 1643h0M2724 1622h0M2700 1655h0M2722 1691h0M2700 1652h0M2738 1663h0M2729 1656h0M2726 1687h0M2735 1660h0M2700 1667h0M2708 1641h0" stroke="#ee6420"/>
<path d="M2709 1680h0M2711 1647h0M2709 1677h0M2715 1649h0M2727 1637h0M2719 1662h0M2727 1659h0M2734 1642h0M2730 1650h0M2712 1647h0M2719 1678h0M2732 1650h0M2727 1635h0M2715 1650h0M2737 1650h0M2728 1654h0M2716 1674h0M2719 1674h0M2725 1669h0M2737 1645h0M2711 1673h0M2715 1678h0M2713 1670h0M2726 1634h0M2723 1651h0M2723 1657h0M2721 1639h0M2714 1654h0M2720 1658h0M2711 1669h0" stroke="#e6261c"/>
<path d="M3300 1361h0M3338 1553h0M3390 1541h0M3416 1508h0M3431 1396h0M3440 1579h0M3332 1337h0M3266 1374h0M3480 1417h0M3376 1315h0M3308 1340h0M3355 1564h0M3444 1444h0M3349 1585h0M3424 1475h0M3418 1341h0M3417 1336h0M3410 1377h0M3776 1672h0M3453 1744h0M3676 1874h0M3708 1848h0M3539 1888h0M3720 1569h0M3566 1889h0M3715 1799h0M3526 1876h0M3464 1658h0M3776 1743h0M3612 1908h0M3481 1652h0M3514 1832h0M3504 1551h0M3705 1876h0M3487 1802h0M3686 1552h0M3487 1639h0M3475 1879h0M3471 1696h0M3712 1532h0M3746 1693h0M3473 1781h0M3606 1941h0M3856 1576h0M3470 1723h0M3708 1825h0M3458 1675h0M3453 1792h0M3718 1824h0M3676 1847h0M3737 1818h0M3535 1866h0M3754 1682h0M3762 1708h0M3464 1708h0M3765 1576h0M3800 1696h0M3473 1822h0M3615 1442h0M3488 1519h0M3667 1423h0M3629 1450h0M3464 1581h0M3502 1429h0M3508 1521h0M3429 1458h0M3563 1415h0M3502 1461h0M3711 1355h0M3582 1346h0M3514 1506h0M3439 1597h0M3494 1436h0M3690 1450h0M3643 1414h0M3582 1408h0M3684 1482h0M3478 1458h0M3506 1446h0M3717 1457h0M3464 1442h0" stroke="#a4a4d4" stroke-opacity=".66"/>
<path d="M3402 1512h0M3274 1419h0M3345 1542h0M3291 1391h0M3319 1360h0M3270 1439h0M3277 1417h0M3295 1410h0M3285 1398h0M3408 1389h0M3291 1516h0M3263 1445h0M3436 1428h0M3260 1449h0M3330 1348h0M3283 1471h0M3287 1536h0M3689 1813h0M3697 1800h0M3571 1834h0M3705 1511h0M3743 1725h0M3518 1559h0M3633 1849h0M3697 1783h0M3490 1773h0M3490 1728h0M3656 1845h0M3679 1509h0M3496 1519h0M3496 1585h0M3601 1873h0M3629 1848h0M3691 1826h0M3685 1506h0M3699 1583h0M3739 1638h0M3637 1848h0M3646 1849h0M3737 1617h0M3734 1641h0M3650 1856h0M3622 1864h0M3653 1861h0M3765 1731h0M3478 1750h0M3499 1786h0M3500 1749h0M3737 1730h0M3749 1663h0M3536 1826h0M3494 1723h0M3529 1540h0M3511 1804h0M3495 1598h0M3623 1880h0M3518 1577h0M3759 1611h0M3491 1587h0M3491 1714h0M3572 1860h0M3525 1829h0M3737 1748h0M3701 1567h0M3510 1583h0M3634 1872h0M3631 1874h0M3488 1574h0M3599 1504h0M3756 1620h0M3696 1588h0M3497 1636h0M3750 1613h0M3708 1571h0M3530 1809h0M3551 1525h0M3761 1726h0M3447 1576h0M3498 1563h0M3649 1501h0M3718 1781h0M3523 1802h0M3574 1870h0M3767 1727h0M3479 1750h0M3574 1849h0M3584 1457h0M3516 1547h0M3559 1459h0M3546 1467h0M3546 1447h0M3485 1571h0M3626 1468h0M3515 1476h0M3524 1482h0M3597 1442h0M3416 1418h0M3705 1508h0M3540 1521h0M3632 1474h0M3547 1449h0M3576 1477h0M3534 1474h0M3562 1470h0M3535 1459h0M3539 1529h0M3600 1451h0M3521 1572h0M3575 1458h0M3708 1495h0M3651 1498h0M3440 1425h0M3600 1477h0" stroke="#7a82c2" stroke-opacity=".95"/>
<path d="M3295 1455h0M3301 1435h0M3333 1377h0M3370 1381h0M3356 1398h0M3301 1468h0M3309 1427h0M3296 1442h0M3302 1490h0M3374 1513h0M3396 1484h0M3311 1532h0M3368 1504h0M3301 1539h0M3313 1426h0M3303 1381h0M3289 1474h0M3299 1458h0M3388 1513h0M3321 1511h0M3321 1385h0M3355 1513h0M3334 1407h0M3391 1502h0M3316 1404h0M3320 1427h0M3335 1535h0M3354 1525h0M3400 1501h0M3383 1405h0M3414 1446h0M3294 1437h0M3334 1361h0M3329 1389h0M3375 1524h0M3304 1415h0M3359 1527h0M3386 1472h0M3291 1456h0M3375 1383h0M3343 1394h0M3345 1533h0M3377 1419h0M3396 1416h0M3387 1492h0M3309 1518h0M3405 1404h0M3325 1407h0M3313 1502h0M3389 1451h0M3388 1530h0M3399 1486h0M3405 1442h0M3280 1450h0M3369 1392h0M3314 1383h0M3349 1381h0M3360 1393h0M3382 1485h0M3387 1426h0M3352 1370h0M3387 1457h0M3313 1503h0M3325 1377h0M3375 1526h0M3339 1375h0M3407 1440h0M3304 1451h0M3393 1497h0M3379 1510h0M3362 1370h0M3387 1452h0M3379 1413h0M3347 1517h0M3414 1417h0M3349 1517h0M3328 1408h0M3315 1522h0M3390 1382h0M3298 1441h0M3295 1428h0M3301 1382h0M3364 1513h0M3322 1365h0M3406 1489h0M3345 1361h0M3349 1389h0M3359 1533h0M3412 1434h0M3356 1366h0M3310 1378h0M3388 1451h0M3390 1394h0M3318 1510h0M3298 1523h0M3408 1411h0M3404 1430h0M3309 1391h0M3284 1427h0M3389 1441h0M3325 1392h0M3358 1370h0M3334 1373h0M3404 1412h0M3382 1405h0M3305 1375h0M3396 1398h0M3351 1362h0M3304 1525h0M3319 1510h0M3319 1426h0M3358 1367h0M3398 1460h0M3323 1522h0M3339 1370h0M3303 1492h0M3298 1502h0M3396 1445h0M3399 1485h0M3310 1535h0M3343 1397h0M3286 1478h0M3575 1606h0M3532 1747h0M3695 1594h0M3556 1609h0M3689 1696h0M3560 1616h0M3585 1802h0M3534 1618h0M3698 1726h0M3695 1744h0M3664 1822h0M3681 1599h0M3635 1529h0M3640 1824h0M3542 1766h0M3645 1564h0M3550 1622h0M3670 1605h0M3634 1565h0M3582 1547h0M3532 1686h0M3512 1681h0M3515 1693h0M3681 1642h0M3662 1783h0M3597 1812h0M3658 1565h0M3696 1610h0M3646 1515h0M3538 1618h0M3626 1830h0M3574 1558h0M3583 1823h0M3670 1604h0M3563 1824h0M3656 1568h0M3628 1782h0M3541 1775h0M3533 1704h0M3699 1662h0M3594 1836h0M3710 1695h0M3728 1674h0M3524 1800h0M3570 1818h0M3516 1637h0M3671 1803h0M3539 1727h0M3543 1734h0M3669 1789h0M3552 1779h0M3690 1748h0M3524 1743h0M3542 1505h0M3618 1579h0M3627 1812h0M3519 1642h0M3524 1716h0M3623 1514h0M3703 1754h0M3721 1728h0M3548 1611h0M3591 1553h0M3686 1673h0M3729 1757h0M3639 1543h0M3676 1752h0M3644 1571h0M3692 1644h0M3593 1833h0M3682 1824h0M3511 1775h0M3572 1576h0M3680 1796h0M3566 1794h0M3718 1764h0M3566 1557h0M3655 1803h0M3514 1683h0M3717 1730h0M3636 1578h0M3699 1680h0M3591 1853h0M3531 1717h0M3520 1718h0M3525 1641h0M3509 1662h0M3657 1817h0M3556 1815h0M3729 1672h0M3512 1664h0M3531 1648h0M3688 1630h0M3599 1802h0M3599 1599h0M3587 1575h0M3554 1820h0M3583 1594h0M3601 1813h0M3666 1752h0M3592 1548h0M3653 1535h0M3723 1675h0M3639 1599h0M3536 1622h0M3624 1565h0M3630 1559h0M3584 1847h0M3605 1841h0M3626 1567h0M3547 1670h0M3542 1507h0M3587 1602h0M3712 1670h0M3696 1637h0M3579 1566h0M3680 1760h0M3521 1716h0M3684 1780h0M3602 1599h0M3716 1656h0M3588 1811h0M3529 1551h0M3528 1746h0M3658 1606h0M3500 1657h0M3563 1590h0M3559 1803h0M3564 1814h0M3570 1552h0M3529 1620h0M3640 1787h0M3506 1745h0M3691 1615h0M3697 1743h0M3626 1511h0M3604 1548h0M3620 1792h0M3509 1659h0M3650 1580h0M3659 1831h0M3713 1714h0M3653 1830h0M3624 1547h0M3627 1599h0M3704 1670h0M3667 1805h0M3626 1815h0M3637 1798h0M3621 1584h0M3527 1735h0M3551 1641h0M3724 1767h0M3625 1837h0M3711 1661h0M3545 1560h0M3520 1757h0M3555 1781h0M3526 1777h0M3597 1864h0M3612 1861h0M3718 1749h0M3700 1757h0M3539 1785h0M3693 1685h0M3597 1580h0M3719 1673h0M3581 1520h0M3665 1814h0M3523 1750h0M3526 1601h0M3582 1568h0M3650 1814h0M3708 1688h0M3672 1566h0M3614 1815h0M3684 1739h0M3660 1818h0M3594 1588h0M3659 1593h0M3693 1750h0M3707 1735h0M3628 1550h0M3715 1704h0M3641 1814h0M3544 1557h0M3584 1855h0M3587 1821h0M3673 1776h0M3613 1537h0M3674 1577h0M3530 1767h0M3593 1534h0M3685 1753h0M3599 1863h0M3707 1623h0M3527 1561h0M3621 1583h0M3627 1782h0M3545 1655h0M3646 1556h0M3704 1754h0M3711 1647h0M3732 1661h0M3552 1588h0M3537 1818h0M3609 1848h0M3742 1653h0M3628 1537h0M3535 1619h0M3560 1497h0M3512 1797h0M3732 1755h0M3593 1858h0M3526 1778h0M3552 1575h0M3649 1562h0M3522 1708h0M3515 1765h0M3703 1755h0M3556 1590h0M3600 1554h0M3738 1655h0M3713 1645h0M3525 1609h0M3532 1678h0M3707 1713h0M3572 1525h0M3515 1757h0M3556 1584h0M3524 1640h0M3507 1800h0M3525 1609h0M3569 1539h0M3545 1553h0M3719 1670h0M3675 1773h0M3632 1549h0M3717 1696h0M3660 1804h0M3636 1586h0M3611 1804h0M3537 1748h0M3616 1542h0M3591 1809h0M3553 1567h0M3554 1789h0M3716 1648h0M3504 1658h0M3724 1746h0M3703 1726h0M3658 1797h0M3686 1738h0M3716 1681h0M3604 1849h0M3563 1498h0M3700 1778h0M3543 1597h0M3531 1728h0M3671 1821h0M3682 1808h0M3562 1600h0M3523 1738h0M3510 1742h0M3740 1655h0M3558 1798h0M3706 1628h0M3599 1833h0M3716 1761h0M3539 1567h0M3675 1587h0M3535 1650h0M3650 1513h0M3502 1777h0M3619 1530h0M3588 1821h0M3523 1677h0M3662 1791h0M3602 1578h0M3535 1788h0M3569 1520h0M3613 1571h0M3660 1588h0M3644 1804h0M3625 1559h0M3502 1763h0M3514 1639h0M3657 1566h0M3580 1525h0M3513 1668h0M3596 1832h0M3658 1809h0M3515 1655h0M3586 1492h0M3663 1513h0M3549 1811h0M3617 1571h0M3701 1619h0M3523 1661h0M3615 1838h0M3679 1754h0M3597 1557h0M3655 1542h0M3600 1492h0M3564 1506h0M3610 1498h0M3574 1510h0M3547 1580h0M3571 1498h0M3550 1560h0M3602 1488h0M3548 1490h0M3625 1512h0M3540 1491h0M3562 1514h0M3544 1487h0M3567 1483h0M3597 1561h0M3564 1493h0M3590 1523h0M3621 1512h0M3583 1501h0M3663 1521h0M3607 1515h0M3617 1484h0M3621 1487h0M3661 1523h0M3657 1548h0M3555 1511h0M3662 1514h0M3635 1562h0M3600 1482h0M3621 1483h0M3550 1552h0M3647 1557h0M3624 1518h0M3656 1591h0" stroke="#5e6ab2" stroke-opacity=".95"/>
<path d="M3313 1475h0M3314 1495h0M3305 1468h0M3358 1396h0M3291 1445h0M3382 1448h0M3386 1464h0M3350 1515h0M3360 1373h0M3354 1504h0M3362 1413h0M3386 1396h0M3301 1441h0M3379 1470h0M3314 1467h0M3392 1492h0M3321 1395h0M3390 1401h0M3375 1515h0M3298 1433h0M3388 1489h0M3335 1408h0M3313 1428h0M3318 1438h0M3313 1448h0M3356 1412h0M3327 1511h0M3321 1492h0M3326 1513h0M3381 1456h0M3343 1522h0M3369 1475h0M3313 1487h0M3378 1507h0M3340 1415h0M3397 1440h0M3351 1500h0M3392 1486h0M3367 1441h0M3365 1365h0M3370 1414h0M3339 1512h0M3305 1429h0M3311 1466h0M3343 1505h0M3343 1525h0M3380 1475h0M3357 1508h0M3383 1485h0M3306 1399h0M3358 1404h0M3376 1486h0M3355 1518h0M3330 1412h0M3337 1499h0M3366 1506h0M3380 1449h0M3334 1428h0M3391 1471h0M3358 1520h0M3333 1400h0M3319 1491h0M3328 1493h0M3314 1412h0M3368 1516h0M3353 1397h0M3672 1814h0M3541 1640h0M3529 1711h0M3560 1600h0M3657 1751h0M3590 1809h0M3679 1776h0M3688 1606h0M3582 1808h0M3535 1705h0M3571 1629h0M3621 1564h0M3668 1752h0M3572 1614h0M3545 1768h0M3692 1602h0M3600 1802h0M3660 1748h0M3679 1731h0M3655 1737h0M3592 1835h0M3693 1745h0M3692 1630h0M3530 1676h0M3714 1665h0M3519 1693h0M3568 1598h0M3682 1659h0M3616 1560h0M3678 1713h0M3545 1594h0M3538 1731h0M3543 1669h0M3588 1810h0M3592 1786h0M3646 1585h0M3689 1618h0M3538 1632h0M3599 1807h0M3570 1782h0M3614 1552h0M3593 1592h0M3539 1755h0M3617 1801h0M3680 1702h0M3652 1772h0M3626 1762h0M3615 1811h0M3681 1749h0M3597 1597h0M3599 1613h0M3570 1633h0M3543 1644h0M3594 1584h0M3620 1818h0M3677 1697h0M3555 1658h0M3694 1661h0M3547 1711h0M3547 1766h0M3643 1804h0M3647 1586h0M3652 1764h0M3555 1735h0M3630 1800h0M3627 1817h0M3600 1786h0M3597 1789h0M3564 1741h0M3553 1683h0M3694 1766h0M3681 1717h0M3691 1727h0M3553 1641h0M3596 1597h0M3635 1788h0M3649 1604h0M3666 1721h0M3669 1607h0M3694 1619h0M3562 1771h0M3649 1796h0M3685 1682h0M3562 1776h0M3538 1695h0M3538 1663h0M3580 1600h0M3543 1766h0M3596 1607h0M3597 1586h0M3672 1652h0M3665 1775h0M3642 1814h0M3607 1802h0M3649 1777h0M3522 1626h0M3709 1702h0M3579 1546h0M3549 1653h0M3554 1750h0M3596 1622h0M3607 1591h0M3651 1604h0M3657 1762h0M3581 1630h0M3687 1726h0M3630 1756h0M3559 1737h0M3567 1780h0M3524 1626h0M3670 1622h0M3604 1595h0M3539 1697h0M3570 1758h0M3677 1637h0M3677 1621h0M3574 1624h0M3552 1602h0M3589 1618h0M3693 1726h0M3709 1694h0M3686 1640h0M3671 1808h0M3537 1705h0M3691 1658h0M3555 1748h0M3694 1601h0M3603 1794h0M3551 1678h0M3665 1770h0M3684 1662h0M3516 1739h0M3539 1722h0M3579 1550h0M3624 1811h0M3551 1766h0M3699 1761h0M3708 1671h0M3612 1787h0M3577 1535h0M3705 1692h0M3557 1782h0M3564 1789h0M3571 1802h0M3622 1786h0M3646 1758h0M3655 1746h0M3617 1511h0M3564 1600h0M3528 1685h0M3566 1493h0M3564 1501h0M3649 1556h0M3567 1548h0M3617 1522h0" stroke="#4c5aa6" stroke-opacity=".95"/>
<path d="M3347 1406h0M3321 1439h0M3339 1420h0M3331 1486h0M3310 1460h0M3373 1413h0M3366 1505h0M3358 1504h0M3349 1491h0M3317 1463h0M3351 1427h0M3382 1401h0M3349 1427h0M3343 1491h0M3354 1434h0M3386 1483h0M3354 1496h0M3383 1438h0M3377 1494h0M3370 1459h0M3322 1425h0M3339 1425h0M3331 1406h0M3372 1406h0M3371 1492h0M3371 1497h0M3361 1402h0M3320 1395h0M3373 1470h0M3385 1433h0M3379 1438h0M3361 1463h0M3366 1446h0M3350 1438h0M3383 1518h0M3367 1477h0M3315 1479h0M3360 1398h0M3323 1472h0M3311 1482h0M3362 1438h0M3333 1405h0M3307 1494h0M3334 1503h0M3358 1410h0M3364 1394h0M3357 1436h0M3323 1478h0M3318 1414h0M3362 1412h0M3366 1450h0M3307 1470h0M3338 1508h0M3374 1505h0M3340 1426h0M3383 1480h0M3347 1391h0M3363 1530h0M3314 1425h0M3340 1416h0M3317 1491h0M3367 1454h0M3339 1422h0M3391 1485h0M3639 1743h0M3576 1745h0M3615 1779h0M3639 1619h0M3603 1804h0M3528 1643h0M3613 1801h0M3655 1646h0M3690 1707h0M3602 1615h0M3533 1737h0M3645 1747h0M3677 1606h0M3591 1749h0M3647 1628h0M3643 1741h0M3558 1699h0M3592 1671h0M3616 1592h0M3533 1734h0M3601 1621h0M3666 1751h0M3552 1671h0M3592 1654h0M3637 1782h0M3674 1604h0M3703 1711h0M3567 1727h0M3638 1798h0M3550 1734h0M3542 1686h0M3666 1663h0M3596 1747h0M3589 1598h0M3568 1753h0M3585 1751h0M3574 1747h0M3606 1602h0M3602 1639h0M3609 1635h0M3704 1674h0M3624 1609h0M3626 1599h0M3551 1775h0M3679 1601h0M3655 1748h0M3685 1703h0M3632 1817h0M3572 1610h0M3668 1628h0M3558 1641h0M3668 1737h0M3671 1748h0M3558 1722h0M3648 1594h0M3614 1771h0M3668 1710h0M3553 1658h0M3650 1627h0M3574 1651h0M3635 1606h0M3604 1617h0M3564 1638h0M3680 1734h0M3610 1611h0M3535 1690h0M3677 1657h0M3596 1816h0M3681 1701h0M3708 1677h0M3527 1710h0M3667 1661h0M3579 1624h0M3675 1770h0M3541 1682h0M3536 1624h0M3609 1779h0M3576 1663h0M3579 1799h0M3656 1668h0M3670 1740h0M3639 1606h0M3559 1599h0M3674 1673h0M3544 1632h0M3610 1616h0M3693 1647h0M3571 1655h0M3674 1714h0M3656 1819h0M3550 1613h0M3648 1720h0M3558 1642h0M3674 1611h0M3561 1784h0M3540 1689h0M3553 1727h0M3699 1658h0M3553 1780h0M3703 1619h0M3654 1593h0M3584 1738h0M3677 1648h0M3592 1647h0M3566 1722h0M3550 1617h0M3570 1761h0M3583 1786h0M3660 1605h0M3657 1768h0M3575 1681h0M3626 1778h0M3624 1767h0M3565 1593h0M3578 1643h0M3598 1782h0M3596 1583h0M3569 1656h0M3664 1769h0M3696 1656h0M3667 1736h0M3537 1726h0M3675 1688h0M3552 1612h0M3685 1613h0M3573 1603h0M3567 1738h0M3558 1789h0M3683 1615h0M3690 1655h0M3539 1675h0M3546 1782h0M3606 1612h0M3547 1643h0M3706 1679h0M3634 1598h0M3669 1686h0M3625 1808h0M3701 1750h0M3572 1686h0M3567 1591h0M3673 1720h0M3553 1639h0M3675 1633h0M3657 1716h0M3532 1647h0M3700 1724h0M3546 1693h0M3658 1784h0M3683 1641h0M3554 1755h0M3711 1671h0M3649 1765h0M3539 1734h0M3629 1771h0M3653 1766h0M3654 1583h0M3682 1723h0M3694 1713h0M3614 1606h0M3713 1660h0M3549 1687h0M3695 1702h0" stroke="#4272a8" stroke-opacity=".95"/>
<path d="M3345 1430h0M3321 1466h0M3345 1458h0M3368 1457h0M3315 1480h0M3384 1456h0M3386 1443h0M3330 1446h0M3352 1466h0M3345 1421h0M3323 1444h0M3345 1464h0M3356 1398h0M3336 1432h0M3370 1437h0M3321 1467h0M3367 1431h0M3375 1472h0M3357 1500h0M3380 1469h0M3316 1488h0M3388 1442h0M3351 1474h0M3351 1433h0M3352 1415h0M3349 1468h0M3387 1451h0M3367 1490h0M3337 1407h0M3324 1432h0M3372 1495h0M3343 1458h0M3325 1491h0M3362 1432h0M3345 1489h0M3364 1479h0M3365 1415h0M3365 1433h0M3328 1462h0M3351 1491h0M3380 1479h0M3365 1411h0M3373 1418h0M3351 1504h0M3375 1431h0M3350 1448h0M3381 1454h0M3360 1494h0M3379 1486h0M3338 1450h0M3526 1697h0M3677 1628h0M3549 1733h0M3587 1763h0M3589 1632h0M3551 1658h0M3599 1660h0M3573 1632h0M3683 1696h0M3642 1666h0M3570 1615h0M3647 1743h0M3637 1707h0M3576 1793h0M3555 1612h0M3633 1619h0M3628 1650h0M3534 1698h0M3573 1608h0M3576 1647h0M3578 1660h0M3546 1703h0M3589 1701h0M3555 1709h0M3661 1690h0M3578 1779h0M3689 1679h0M3544 1722h0M3639 1767h0M3585 1688h0M3632 1769h0M3611 1648h0M3567 1747h0M3602 1630h0M3674 1690h0M3620 1799h0M3622 1596h0M3670 1606h0M3591 1607h0M3648 1735h0M3571 1730h0M3561 1629h0M3617 1733h0M3685 1601h0M3588 1700h0M3584 1741h0M3587 1651h0M3620 1742h0M3595 1668h0M3636 1724h0M3608 1630h0M3613 1611h0M3544 1639h0M3565 1673h0M3657 1728h0M3578 1801h0M3573 1623h0M3680 1623h0M3557 1788h0M3581 1751h0M3547 1720h0M3607 1633h0M3681 1722h0M3644 1759h0M3675 1694h0M3649 1684h0M3648 1729h0M3584 1777h0M3672 1715h0M3591 1674h0M3665 1763h0M3674 1621h0M3573 1660h0M3542 1724h0M3572 1672h0M3588 1754h0M3641 1681h0M3607 1788h0M3564 1694h0M3673 1758h0M3565 1762h0M3583 1746h0M3627 1598h0M3549 1742h0M3641 1596h0M3650 1676h0M3662 1640h0M3622 1763h0M3576 1641h0M3589 1734h0M3628 1611h0M3575 1671h0M3654 1621h0M3612 1794h0M3607 1636h0M3632 1764h0M3624 1737h0M3602 1647h0M3656 1647h0M3670 1705h0M3661 1685h0M3680 1608h0M3582 1661h0M3667 1663h0M3564 1791h0M3607 1658h0M3612 1640h0M3644 1782h0M3654 1647h0M3602 1801h0M3634 1643h0M3687 1683h0M3554 1666h0M3579 1656h0M3542 1625h0M3568 1718h0M3588 1665h0M3680 1606h0M3618 1784h0M3642 1774h0M3623 1614h0M3623 1744h0M3617 1653h0M3631 1630h0M3658 1650h0M3652 1635h0M3690 1711h0M3569 1787h0M3563 1764h0M3664 1617h0M3607 1767h0M3547 1711h0M3595 1608h0M3694 1714h0M3583 1613h0M3597 1801h0M3645 1677h0M3567 1731h0M3650 1601h0M3689 1606h0M3688 1644h0M3578 1685h0M3550 1619h0M3614 1793h0M3561 1766h0M3577 1662h0M3596 1629h0M3559 1627h0M3541 1643h0M3628 1613h0M3604 1598h0M3550 1700h0M3661 1642h0M3566 1741h0M3591 1760h0M3566 1723h0M3533 1711h0M3554 1636h0M3609 1596h0M3644 1787h0M3581 1725h0M3553 1667h0M3650 1756h0M3580 1620h0M3684 1659h0M3564 1763h0M3677 1662h0M3685 1717h0M3658 1683h0M3591 1773h0M3626 1723h0M3690 1643h0M3592 1696h0M3602 1739h0M3645 1724h0M3569 1648h0M3648 1649h0M3598 1668h0M3552 1715h0M3555 1749h0M3670 1727h0M3665 1774h0M3541 1628h0M3658 1656h0M3563 1756h0" stroke="#40949c" stroke-opacity=".95"/>
<path d="M3376 1450h0M3313 1441h0M3308 1459h0M3314 1480h0M3350 1469h0M3369 1438h0M3336 1481h0M3361 1485h0M3361 1455h0M3352 1476h0M3356 1412h0M3363 1501h0M3377 1456h0M3356 1461h0M3364 1510h0M3357 1425h0M3352 1455h0M3319 1442h0M3347 1493h0M3312 1473h0M3374 1476h0M3348 1457h0M3335 1434h0M3373 1460h0M3344 1429h0M3377 1475h0M3331 1453h0M3338 1468h0M3354 1408h0M3306 1488h0M3308 1487h0M3378 1447h0M3351 1449h0M3360 1426h0M3343 1451h0M3338 1453h0M3357 1458h0M3343 1441h0M3315 1485h0M3653 1621h0M3555 1760h0M3647 1777h0M3588 1728h0M3563 1659h0M3595 1801h0M3560 1637h0M3588 1630h0M3645 1659h0M3619 1630h0M3587 1617h0M3592 1682h0M3588 1702h0M3681 1690h0M3632 1667h0M3620 1788h0M3592 1773h0M3583 1637h0M3626 1628h0M3654 1673h0M3590 1643h0M3596 1758h0M3577 1776h0M3695 1668h0M3664 1731h0M3638 1646h0M3615 1756h0M3592 1720h0M3643 1620h0M3579 1696h0M3642 1608h0M3569 1776h0M3556 1730h0M3575 1696h0M3582 1666h0M3622 1747h0M3616 1744h0M3674 1626h0M3665 1724h0M3646 1656h0M3588 1722h0M3627 1622h0M3646 1703h0M3657 1661h0M3561 1658h0M3624 1634h0M3626 1636h0M3638 1708h0M3587 1738h0M3675 1674h0M3670 1693h0M3578 1700h0M3559 1633h0M3634 1753h0M3659 1758h0M3645 1668h0M3603 1626h0M3641 1771h0M3637 1629h0M3637 1660h0M3566 1666h0M3661 1670h0M3597 1637h0M3547 1721h0M3617 1643h0M3609 1737h0M3586 1722h0M3576 1687h0M3557 1693h0M3602 1614h0M3649 1710h0M3586 1677h0M3550 1758h0M3676 1707h0M3577 1701h0M3644 1752h0M3660 1676h0M3596 1710h0M3626 1635h0M3667 1681h0M3588 1723h0M3617 1749h0M3643 1736h0M3601 1771h0M3596 1748h0M3637 1611h0M3574 1649h0M3560 1703h0M3663 1638h0M3587 1706h0M3586 1638h0M3626 1778h0M3618 1606h0M3677 1623h0M3642 1734h0M3545 1714h0M3621 1728h0M3574 1779h0M3560 1676h0M3575 1625h0M3588 1652h0M3643 1602h0M3560 1717h0M3647 1748h0M3618 1664h0M3595 1797h0M3569 1624h0M3648 1717h0M3599 1686h0M3560 1711h0M3652 1688h0M3638 1678h0M3638 1669h0M3591 1703h0M3575 1714h0M3683 1625h0M3604 1730h0M3669 1670h0M3675 1630h0M3536 1708h0M3617 1658h0M3596 1625h0M3554 1695h0M3593 1727h0M3583 1778h0M3601 1772h0M3594 1770h0M3550 1672h0M3577 1698h0M3628 1764h0M3563 1708h0M3600 1762h0M3650 1772h0M3687 1665h0M3624 1759h0M3657 1744h0M3554 1692h0M3595 1773h0M3636 1773h0M3593 1673h0M3662 1689h0M3602 1679h0M3637 1610h0M3659 1754h0M3632 1774h0M3602 1648h0M3592 1745h0M3580 1691h0" stroke="#44a860" stroke-opacity=".95"/>
<path d="M3359 1457h0M3328 1479h0M3365 1462h0M3365 1470h0M3367 1454h0M3322 1469h0M3331 1488h0M3338 1483h0M3371 1459h0M3332 1464h0M3371 1449h0M3319 1474h0M3355 1453h0M3353 1482h0M3330 1436h0M3346 1452h0M3350 1477h0M3343 1466h0M3327 1470h0M3350 1484h0M3591 1716h0M3641 1633h0M3660 1680h0M3653 1722h0M3649 1710h0M3633 1709h0M3585 1638h0M3638 1628h0M3631 1649h0M3582 1757h0M3620 1646h0M3568 1683h0M3597 1741h0M3634 1684h0M3626 1668h0M3599 1765h0M3652 1669h0M3650 1635h0M3606 1760h0M3600 1682h0M3628 1713h0M3570 1689h0M3587 1633h0M3605 1735h0M3580 1695h0M3616 1735h0M3592 1693h0M3605 1706h0M3570 1673h0M3574 1699h0M3612 1665h0M3612 1754h0M3581 1636h0M3609 1764h0M3631 1717h0M3615 1763h0M3657 1672h0M3637 1634h0M3573 1742h0M3576 1757h0M3661 1718h0M3627 1686h0M3609 1667h0M3654 1668h0M3641 1672h0M3570 1734h0M3639 1646h0M3567 1713h0M3576 1679h0M3600 1734h0M3626 1735h0M3641 1711h0M3612 1740h0M3628 1698h0M3588 1708h0M3611 1745h0M3661 1646h0M3579 1674h0M3639 1673h0M3640 1655h0M3599 1776h0M3579 1660h0M3583 1632h0M3582 1757h0M3607 1716h0M3639 1696h0M3668 1694h0M3647 1718h0M3617 1728h0M3570 1714h0M3596 1631h0M3578 1732h0M3613 1768h0M3610 1680h0M3570 1717h0M3654 1713h0M3663 1712h0M3631 1734h0M3644 1720h0M3673 1687h0M3591 1743h0M3582 1750h0M3645 1639h0M3607 1674h0M3573 1698h0M3588 1635h0M3617 1752h0M3623 1733h0M3610 1734h0M3629 1661h0M3579 1703h0M3658 1703h0" stroke="#5cb840" stroke-opacity=".95"/>
<path d="M3348 1469h0M3336 1480h0M3354 1478h0M3346 1455h0M3355 1455h0M3614 1724h0M3629 1709h0M3611 1692h0M3617 1705h0M3653 1686h0M3612 1667h0M3595 1721h0M3639 1639h0M3619 1635h0M3570 1697h0M3603 1736h0M3575 1726h0M3584 1708h0M3588 1713h0M3658 1679h0M3592 1738h0M3646 1689h0M3634 1734h0M3617 1661h0M3635 1639h0M3582 1723h0M3632 1700h0M3643 1634h0M3662 1697h0M3630 1698h0M3632 1737h0M3613 1650h0M3612 1698h0M3579 1716h0M3636 1655h0M3613 1701h0M3625 1679h0M3573 1707h0M3611 1661h0M3575 1699h0M3620 1637h0M3642 1655h0M3652 1643h0M3629 1728h0M3661 1695h0M3591 1704h0M3567 1707h0M3637 1641h0M3636 1700h0" stroke="#98c834" stroke-opacity=".95"/>
<path d="M3630 1666h0M3619 1722h0M3629 1666h0M3629 1685h0M3624 1664h0M3600 1681h0M3621 1726h0M3631 1664h0M3611 1719h0M3623 1729h0M3631 1678h0M3597 1674h0" stroke="#d8d22c" stroke-opacity=".95"/>
<path d="M3607 1686h0M3630 1680h0M3613 1702h0M3601 1711h0M3619 1674h0M3612 1691h0M3602 1717h0M3624 1684h0M3628 1699h0M3613 1717h0" stroke="#f0a026" stroke-opacity=".95"/>
<path d="M3612 1686h0M3623 1684h0" stroke="#ee6420" stroke-opacity=".95"/>
<path d="M3624 1685h0M3615 1696h0M3620 1688h0M3623 1691h0" stroke="#e6261c" stroke-opacity=".95"/>
<path d="M2394 2311h0M2487 2265h0M2413 2243h0M2381 2257h0M2419 2427h0M2405 2403h0M2454 2199h0M2424 2212h0M2404 2261h0M2827 2600h0M2569 2614h0M2761 2457h0M2656 2441h0M2768 2503h0M2795 2524h0M2615 2704h0M2776 2482h0M2804 2499h0M2659 2292h0M2794 2445h0M2693 2813h0M2793 2472h0M2766 2740h0M2784 2460h0M2813 2541h0M2657 2458h0M2764 2678h0M2585 2523h0M2636 2448h0M2758 2704h0M2834 2538h0M2569 2515h0M2638 2464h0M2824 2630h0M2604 2387h0M2547 2581h0M2774 2311h0M2641 2245h0M2717 2306h0M2598 2319h0M2872 2422h0M2650 2321h0M2625 2386h0M2732 2292h0M2824 2329h0M2586 2367h0M2691 2383h0M2755 2388h0M2635 2419h0M2600 2356h0M2590 2326h0M2672 2312h0M2833 2394h0M2764 2339h0M2542 2342h0M2649 2270h0M2584 2406h0M2572 2246h0M2738 2267h0M2523 2288h0" stroke="#7a82c2" stroke-opacity=".62"/>
<path d="M2424 2448h0M2457 2390h0M2426 2404h0M2467 2414h0M2424 2445h0M2453 2297h0M2426 2306h0M2469 2370h0M2441 2311h0M2408 2278h0M2467 2405h0M2467 2294h0M2468 2412h0M2423 2284h0M2455 2422h0M2434 2394h0M2455 2415h0M2422 2299h0M2415 2382h0M2408 2348h0M2449 2303h0M2477 2424h0M2471 2313h0M2444 2432h0M2425 2291h0M2430 2283h0M2473 2300h0M2409 2337h0M2442 2300h0M2470 2308h0M2451 2434h0M2470 2315h0M2445 2267h0M2410 2367h0M2428 2343h0M2430 2339h0M2455 2263h0M2424 2310h0M2479 2293h0M2473 2372h0M2431 2263h0M2582 2575h0M2757 2562h0M2646 2521h0M2683 2484h0M2710 2613h0M2720 2472h0M2743 2573h0M2715 2681h0M2608 2507h0M2725 2516h0M2639 2597h0M2734 2526h0M2733 2492h0M2646 2569h0M2782 2573h0M2726 2668h0M2621 2537h0M2667 2698h0M2756 2502h0M2587 2580h0M2613 2504h0M2792 2552h0M2724 2658h0M2758 2530h0M2643 2533h0M2647 2507h0M2598 2626h0M2764 2527h0M2653 2597h0M2614 2607h0M2664 2572h0M2758 2565h0M2696 2455h0M2729 2666h0M2661 2684h0M2632 2543h0M2699 2496h0M2630 2586h0M2677 2680h0M2734 2453h0M2674 2471h0M2678 2473h0M2644 2561h0M2635 2527h0M2699 2638h0M2758 2540h0M2687 2660h0M2595 2621h0M2666 2682h0M2728 2512h0M2629 2651h0M2637 2509h0M2723 2673h0M2800 2645h0M2761 2607h0M2650 2667h0M2653 2588h0M2751 2579h0M2653 2409h0M2701 2722h0M2663 2475h0M2779 2575h0M2770 2532h0M2607 2497h0M2618 2686h0M2734 2651h0M2702 2616h0M2663 2483h0M2635 2521h0M2758 2587h0M2614 2537h0M2644 2726h0M2781 2546h0M2642 2564h0M2636 2498h0M2600 2523h0M2729 2629h0M2752 2544h0M2769 2582h0M2795 2639h0M2665 2628h0M2772 2653h0M2735 2498h0M2677 2717h0M2748 2664h0M2782 2586h0M2696 2677h0M2723 2560h0M2647 2637h0M2735 2562h0M2673 2670h0M2620 2615h0M2650 2636h0M2743 2489h0M2676 2711h0M2642 2737h0M2748 2641h0M2778 2642h0M2664 2481h0M2685 2427h0M2709 2504h0M2622 2715h0M2651 2637h0M2741 2477h0M2777 2631h0M2711 2656h0M2650 2512h0M2725 2611h0M2694 2643h0M2793 2617h0M2698 2659h0M2673 2677h0M2647 2696h0M2601 2613h0M2725 2718h0M2767 2618h0M2650 2654h0M2809 2521h0M2724 2447h0M2742 2657h0M2614 2496h0M2692 2501h0M2729 2498h0M2692 2327h0M2637 2704h0M2599 2528h0M2707 2426h0M2738 2483h0M2803 2636h0M2641 2497h0M2596 2510h0M2725 2419h0M2819 2519h0M2675 2703h0M2683 2495h0M2786 2616h0M2707 2436h0M2603 2573h0M2667 2577h0M2727 2380h0M2780 2519h0M2625 2561h0M2646 2508h0M2605 2583h0M2621 2546h0M2713 2714h0M2762 2545h0M2678 2456h0M2794 2560h0M2726 2651h0M2766 2638h0M2671 2529h0M2629 2684h0M2678 2524h0M2753 2648h0M2713 2464h0M2577 2431h0M2691 2684h0M2649 2597h0M2777 2435h0M2737 2415h0M2747 2427h0M2642 2678h0M2697 2663h0M2671 2486h0M2801 2416h0M2725 2381h0M2544 2401h0M2657 2340h0M2710 2400h0M2702 2364h0M2667 2405h0M2688 2471h0M2681 2377h0M2632 2516h0M2647 2338h0M2702 2330h0M2663 2364h0M2644 2411h0M2474 2409h0M2714 2481h0M2667 2365h0M2770 2406h0M2550 2386h0M2670 2340h0M2538 2384h0M2717 2407h0M2777 2437h0M2803 2410h0M2569 2423h0M2701 2342h0M2755 2428h0M2667 2335h0M2694 2431h0M2736 2363h0M2682 2342h0M2666 2337h0M2694 2436h0M2803 2381h0M2777 2400h0M2679 2362h0M2802 2365h0" stroke="#5e6ab2" stroke-opacity=".62"/>
<path d="M2423 2387h0M2437 2391h0M2439 2448h0M2456 2353h0M2446 2415h0M2446 2306h0M2444 2328h0M2429 2350h0M2430 2358h0M2435 2397h0M2457 2365h0M2432 2439h0M2427 2317h0M2449 2302h0M2697 2628h0M2612 2584h0M2598 2521h0M2643 2548h0M2614 2585h0M2683 2497h0M2655 2540h0M2695 2555h0M2698 2514h0M2734 2639h0M2707 2606h0M2671 2634h0M2737 2520h0M2744 2514h0M2742 2461h0M2719 2487h0M2663 2485h0M2690 2535h0M2663 2570h0M2778 2562h0M2702 2665h0M2682 2644h0M2631 2572h0M2742 2571h0M2628 2614h0M2665 2630h0M2742 2596h0M2728 2657h0M2673 2645h0M2684 2621h0M2647 2596h0M2715 2505h0M2771 2561h0M2739 2551h0M2711 2656h0M2675 2550h0M2760 2601h0M2689 2658h0M2647 2647h0M2755 2650h0M2651 2686h0M2660 2548h0M2736 2578h0M2705 2564h0M2711 2634h0M2661 2521h0M2645 2609h0M2689 2504h0M2627 2599h0M2756 2550h0M2665 2634h0M2678 2564h0M2693 2507h0M2725 2548h0M2646 2550h0M2727 2606h0M2755 2572h0M2759 2641h0M2705 2498h0M2641 2608h0M2717 2626h0M2756 2551h0M2696 2508h0M2688 2529h0M2736 2445h0M2774 2523h0M2709 2483h0M2723 2632h0M2706 2543h0M2652 2512h0M2623 2587h0M2740 2476h0M2707 2372h0M2715 2403h0M2698 2368h0M2662 2376h0M2735 2368h0" stroke="#4c5aa6" stroke-opacity=".62"/>
<path d="M2432 2275h0M2456 2294h0M2420 2390h0M2430 2339h0M2466 2358h0M2422 2319h0M2438 2450h0M2437 2400h0M2453 2343h0M2436 2357h0M2436 2279h0M2421 2332h0M2468 2383h0M2434 2329h0M2402 2322h0M2414 2275h0M2420 2273h0M2428 2336h0M2406 2327h0M2454 2321h0M2418 2367h0M2449 2328h0M2427 2361h0M2458 2402h0M2673 2506h0M2708 2494h0M2742 2464h0M2658 2539h0M2737 2608h0M2740 2645h0M2677 2648h0M2733 2604h0M2746 2558h0M2752 2567h0M2722 2605h0M2734 2634h0M2709 2543h0M2725 2570h0M2669 2564h0M2723 2670h0M2706 2485h0M2715 2535h0M2734 2511h0M2765 2649h0M2750 2616h0M2641 2607h0M2696 2535h0M2711 2498h0M2693 2570h0M2650 2601h0M2729 2557h0M2703 2586h0M2733 2557h0M2663 2621h0M2661 2531h0M2614 2542h0M2706 2670h0M2735 2642h0M2739 2509h0M2690 2626h0M2742 2613h0M2685 2668h0M2730 2576h0M2721 2622h0M2689 2631h0M2700 2652h0M2669 2671h0M2732 2575h0M2745 2570h0M2729 2600h0M2703 2631h0M2656 2577h0M2717 2510h0M2675 2505h0M2746 2549h0M2652 2546h0M2703 2550h0M2674 2567h0M2661 2500h0M2672 2680h0M2676 2385h0M2724 2405h0M2755 2615h0M2646 2565h0M2654 2486h0M2788 2608h0M2767 2526h0M2651 2616h0M2656 2486h0M2666 2611h0M2715 2500h0M2692 2667h0M2746 2446h0M2600 2619h0M2736 2378h0" stroke="#4272a8" stroke-opacity=".62"/>
<path d="M2454 2396h0M2460 2418h0M2425 2349h0M2452 2309h0M2455 2287h0M2426 2333h0M2456 2327h0M2424 2408h0M2440 2357h0M2422 2324h0M2432 2305h0M2453 2335h0M2444 2364h0M2421 2376h0M2448 2287h0M2428 2334h0M2423 2360h0M2421 2294h0M2441 2432h0M2422 2322h0M2440 2323h0M2426 2362h0M2756 2590h0M2765 2619h0M2725 2585h0M2638 2506h0M2662 2593h0M2672 2544h0M2655 2544h0M2727 2519h0M2722 2583h0M2772 2546h0M2677 2631h0M2769 2550h0M2670 2514h0M2677 2623h0M2663 2672h0M2689 2607h0M2729 2641h0M2731 2500h0M2670 2618h0M2686 2425h0M2673 2627h0M2752 2479h0M2715 2636h0M2711 2622h0M2723 2566h0M2674 2565h0M2702 2527h0M2667 2499h0M2661 2513h0M2637 2589h0M2723 2534h0M2689 2660h0M2687 2648h0M2789 2593h0M2710 2573h0M2696 2560h0M2654 2608h0M2720 2541h0M2753 2601h0M2753 2506h0M2708 2478h0M2624 2614h0M2721 2615h0M2766 2631h0M2664 2634h0M2745 2446h0M2666 2549h0M2689 2494h0M2668 2531h0M2764 2547h0M2728 2495h0M2702 2609h0M2722 2594h0M2735 2546h0M2682 2522h0M2718 2510h0M2739 2596h0M2794 2594h0M2743 2543h0M2754 2515h0M2708 2638h0M2637 2492h0M2755 2556h0M2705 2621h0M2753 2528h0M2697 2570h0M2761 2648h0M2687 2502h0M2728 2558h0M2627 2523h0M2646 2638h0M2738 2573h0M2678 2528h0M2703 2521h0M2652 2545h0M2697 2487h0M2712 2585h0M2613 2605h0M2712 2539h0M2744 2363h0M2740 2381h0M2672 2385h0" stroke="#40949c" stroke-opacity=".62"/>
<path d="M2431 2407h0M2454 2328h0M2454 2283h0M2413 2316h0M2455 2273h0M2442 2315h0M2452 2323h0M2453 2351h0M2416 2352h0M2436 2374h0M2450 2375h0M2455 2355h0M2445 2318h0M2436 2375h0M2453 2318h0M2422 2295h0M2414 2321h0M2412 2372h0M2433 2314h0M2429 2281h0M2452 2369h0M2654 2567h0M2731 2618h0M2652 2640h0M2682 2535h0M2728 2657h0M2758 2617h0M2712 2648h0M2723 2565h0M2707 2646h0M2708 2660h0M2643 2537h0M2743 2596h0M2665 2612h0M2721 2531h0M2724 2626h0M2754 2578h0M2656 2622h0M2671 2649h0M2741 2591h0M2632 2513h0M2665 2524h0M2746 2467h0M2634 2577h0M2642 2584h0M2658 2566h0M2735 2655h0M2695 2494h0M2678 2611h0M2735 2505h0M2662 2573h0M2666 2618h0M2639 2569h0M2749 2591h0M2621 2543h0M2719 2674h0M2771 2552h0M2715 2547h0M2668 2639h0M2708 2585h0M2646 2644h0M2708 2622h0M2672 2652h0M2715 2490h0M2662 2585h0M2714 2539h0M2666 2593h0M2746 2611h0M2700 2587h0M2665 2524h0M2687 2496h0M2710 2648h0M2714 2639h0M2696 2668h0M2640 2591h0M2682 2567h0M2668 2653h0M2658 2644h0M2677 2582h0M2700 2604h0M2646 2621h0M2773 2590h0M2763 2603h0M2753 2552h0M2674 2606h0M2664 2515h0M2668 2523h0M2684 2475h0M2646 2578h0M2668 2534h0M2639 2553h0M2670 2608h0" stroke="#44a860" stroke-opacity=".62"/>
<path d="M2431 2373h0M2449 2339h0M2448 2350h0M2438 2276h0M2448 2332h0M2432 2367h0M2433 2385h0M2439 2387h0M2426 2325h0M2452 2378h0M2453 2355h0M2466 2330h0M2468 2366h0M2418 2404h0M2448 2347h0M2420 2391h0M2426 2407h0M2654 2559h0M2690 2641h0M2681 2547h0M2730 2546h0M2710 2573h0M2731 2565h0M2676 2538h0M2733 2637h0M2699 2591h0M2746 2640h0M2665 2608h0M2674 2558h0M2678 2514h0M2684 2596h0M2746 2640h0M2693 2613h0M2687 2591h0M2708 2526h0M2734 2602h0M2672 2563h0M2720 2599h0M2723 2581h0M2740 2541h0M2660 2592h0M2736 2597h0M2648 2532h0M2755 2596h0M2715 2575h0M2693 2547h0M2686 2671h0M2679 2494h0M2683 2558h0M2671 2574h0M2743 2529h0M2683 2533h0M2667 2643h0M2737 2520h0M2705 2505h0M2690 2557h0M2734 2632h0M2716 2584h0M2703 2651h0M2683 2579h0M2693 2651h0M2732 2616h0M2684 2522h0M2691 2607h0M2742 2595h0M2638 2612h0M2724 2610h0M2761 2588h0M2751 2607h0M2639 2621h0M2721 2564h0M2714 2578h0M2688 2579h0M2762 2581h0M2634 2501h0M2686 2532h0M2728 2506h0M2704 2681h0M2782 2585h0M2723 2586h0M2637 2616h0M2750 2617h0M2676 2664h0M2762 2588h0M2729 2622h0M2743 2528h0M2638 2575h0M2772 2591h0M2669 2631h0M2664 2506h0" stroke="#5cb840" stroke-opacity=".62"/>
<path d="M2434 2372h0M2447 2374h0M2442 2350h0M2450 2350h0M2462 2370h0M2423 2311h0M2435 2345h0M2453 2373h0M2447 2376h0M2425 2353h0M2456 2408h0M2424 2382h0M2429 2323h0M2450 2409h0M2430 2365h0M2434 2353h0M2453 2404h0M2456 2355h0M2435 2315h0M2451 2313h0M2422 2375h0M2742 2585h0M2663 2523h0M2692 2491h0M2689 2670h0M2687 2633h0M2653 2623h0M2696 2599h0M2665 2585h0M2726 2638h0M2717 2644h0M2700 2485h0M2764 2598h0M2734 2578h0M2660 2499h0M2715 2654h0M2678 2509h0M2734 2594h0M2745 2541h0M2693 2595h0M2710 2667h0M2709 2496h0M2677 2523h0M2700 2576h0M2708 2566h0M2681 2591h0M2703 2643h0M2655 2561h0M2655 2613h0M2665 2557h0M2661 2557h0M2717 2561h0M2696 2632h0M2738 2570h0M2678 2517h0M2673 2509h0M2725 2548h0M2694 2551h0M2697 2533h0M2704 2624h0M2730 2613h0M2653 2507h0M2665 2497h0M2659 2608h0M2654 2618h0M2697 2623h0M2686 2521h0M2723 2592h0M2679 2611h0M2704 2603h0M2710 2610h0M2689 2667h0M2710 2528h0M2744 2621h0M2693 2514h0M2729 2591h0M2694 2480h0M2653 2535h0M2679 2496h0M2686 2520h0M2712 2669h0M2658 2508h0M2752 2578h0M2702 2487h0M2692 2482h0" stroke="#98c834" stroke-opacity=".62"/>
<path d="M2447 2370h0M2428 2337h0M2445 2364h0M2455 2333h0M2432 2368h0M2433 2340h0M2659 2538h0M2692 2629h0M2680 2628h0M2709 2542h0M2692 2577h0M2698 2618h0M2681 2586h0M2710 2497h0M2675 2618h0M2674 2583h0M2744 2607h0M2683 2580h0M2729 2623h0M2651 2564h0M2694 2633h0M2720 2637h0M2680 2612h0M2711 2613h0M2702 2576h0M2699 2592h0M2694 2488h0M2652 2567h0M2684 2633h0M2712 2535h0M2708 2531h0M2705 2577h0M2669 2560h0M2717 2541h0M2688 2487h0M2731 2553h0M2686 2593h0M2669 2639h0M2735 2612h0M2712 2552h0M2742 2558h0M2649 2557h0M2681 2602h0M2681 2545h0M2740 2621h0M2712 2521h0M2706 2524h0" stroke="#d8d22c" stroke-opacity=".62"/>
<path d="M2442 2346h0M2438 2370h0M2444 2352h0M2675 2583h0M2688 2611h0M2710 2568h0M2706 2525h0M2720 2597h0M2685 2556h0M2722 2583h0M2683 2562h0M2699 2565h0M2665 2606h0M2672 2603h0M2678 2553h0M2725 2543h0M2690 2567h0M2711 2522h0M2702 2541h0M2690 2595h0M2684 2622h0M2692 2576h0" stroke="#f0a026" stroke-opacity=".62"/>
<path d="M2682 2554h0M2685 2579h0M2691 2565h0M2682 2603h0M2688 2542h0M2687 2576h0" stroke="#ee6420" stroke-opacity=".62"/>
<path d="M2686 2575h0M2685 2587h0M2680 2583h0M2680 2611h0M2679 2544h0" stroke="#e6261c" stroke-opacity=".62"/>
<path d="M3346 2234h0M3327 2216h0M3364 2222h0M3326 2168h0M3279 2383h0M3337 2205h0M3312 2516h0M3266 2364h0M3344 2549h0M3348 2188h0M3332 2508h0M3371 2490h0M3373 2486h0M3260 2328h0M3375 2554h0M3264 2457h0M3322 2520h0M3364 2506h0M3264 2388h0M3264 2334h0M3397 2347h0M3397 2381h0M3332 2551h0M3302 2534h0M3288 2453h0M3275 2435h0M3319 2538h0M3391 2425h0M3630 2732h0M3707 2583h0M3610 2723h0M3573 2755h0M3605 2702h0M3542 2570h0M3529 2589h0M3509 2658h0M3545 2534h0M3591 2441h0M3681 2652h0M3743 2538h0M3638 2689h0M3648 2553h0M3562 2696h0M3637 2719h0M3638 2722h0M3619 2481h0M3543 2639h0M3708 2560h0M3656 2702h0M3638 2752h0M3609 2556h0M3661 2658h0M3606 2705h0M3633 2529h0M3564 2598h0M3638 2479h0M3665 2493h0M3677 2604h0M3642 2767h0M3716 2637h0M3554 2605h0M3621 2591h0M3531 2572h0M3660 2521h0M3548 2500h0M3601 2679h0M3704 2645h0M3700 2597h0M3562 2494h0M3623 2682h0M3682 2715h0M3532 2559h0M3682 2707h0M3648 2677h0M3687 2579h0M3570 2562h0M3544 2574h0M3670 2666h0M3568 2569h0M3534 2645h0M3603 2685h0M3713 2675h0M3671 2568h0M3526 2603h0M3660 2559h0M3628 2698h0M3568 2736h0M3628 2754h0M3539 2534h0M3630 2569h0M3684 2549h0M3564 2665h0M3561 2674h0M3585 2439h0M3528 2589h0M3595 2562h0M3670 2732h0M3713 2499h0M3659 2533h0M3584 2390h0M3587 2419h0M3707 2486h0M3609 2361h0M3635 2383h0M3576 2409h0M3484 2375h0M3727 2409h0M3613 2371h0M3662 2415h0M3568 2379h0M3809 2445h0M3643 2333h0M3704 2372h0M3589 2407h0M3742 2419h0M3543 2432h0M3630 2490h0M3685 2397h0M3561 2407h0M3634 2427h0M3628 2362h0M3704 2401h0M3839 2428h0M3766 2448h0M3648 2440h0M3659 2468h0M3658 2413h0M3709 2395h0M3698 2425h0M3747 2379h0M3658 2390h0M3642 2388h0M3722 2326h0M3721 2356h0M3685 2417h0M3680 2405h0M3553 2457h0M3807 2417h0M3671 2371h0" stroke="#a4a4d4" stroke-opacity=".52"/>
<path d="M3367 2307h0M3331 2489h0M3304 2226h0M3339 2233h0M3282 2370h0M3365 2424h0M3297 2227h0M3335 2487h0M3296 2229h0M3284 2314h0M3358 2469h0M3378 2339h0M3382 2444h0M3368 2445h0M3300 2452h0M3382 2458h0M3382 2340h0M3381 2459h0M3279 2365h0M3379 2345h0M3290 2424h0M3357 2461h0M3278 2311h0M3354 2490h0M3356 2252h0M3362 2478h0M3376 2409h0M3371 2294h0M3381 2358h0M3381 2413h0M3621 2572h0M3648 2587h0M3575 2699h0M3579 2584h0M3560 2630h0M3564 2611h0M3627 2656h0M3639 2642h0M3602 2572h0M3592 2648h0M3639 2659h0M3572 2628h0M3642 2661h0M3582 2656h0M3574 2614h0M3641 2664h0M3618 2639h0M3586 2655h0M3620 2665h0M3633 2608h0M3592 2596h0M3636 2628h0M3618 2607h0M3642 2617h0M3598 2604h0M3653 2598h0M3585 2668h0M3612 2577h0M3639 2650h0M3583 2683h0M3586 2616h0M3643 2646h0M3553 2634h0M3561 2641h0M3602 2558h0M3608 2662h0M3573 2661h0M3633 2615h0M3652 2616h0M3589 2584h0M3640 2636h0M3601 2562h0M3574 2687h0M3614 2572h0M3599 2624h0M3641 2596h0M3581 2592h0M3548 2648h0M3611 2629h0M3562 2607h0M3641 2592h0M3595 2599h0M3592 2700h0M3651 2573h0M3621 2619h0M3553 2644h0M3666 2638h0M3592 2664h0M3571 2644h0M3579 2694h0M3603 2564h0M3627 2629h0M3590 2623h0M3566 2622h0M3606 2614h0M3597 2618h0M3621 2640h0M3584 2663h0M3644 2672h0M3617 2653h0M3642 2576h0M3572 2644h0M3620 2643h0M3614 2663h0M3652 2589h0" stroke="#7a82c2" stroke-opacity=".75"/>
<path d="M3366 2323h0M3369 2409h0M3304 2280h0M3312 2257h0M3339 2247h0M3301 2436h0M3379 2378h0M3303 2274h0M3333 2475h0M3354 2474h0M3286 2287h0M3295 2300h0M3356 2452h0M3334 2251h0M3369 2419h0M3314 2252h0M3358 2445h0M3338 2471h0M3376 2362h0M3339 2242h0M3367 2405h0M3356 2266h0M3364 2438h0M3291 2372h0M3313 2272h0M3283 2331h0M3356 2279h0M3347 2480h0M3281 2336h0M3328 2477h0M3376 2397h0M3302 2436h0M3342 2476h0M3353 2260h0M3380 2384h0M3340 2489h0M3314 2270h0M3376 2383h0M3289 2292h0M3318 2471h0M3284 2333h0M3364 2266h0M3330 2479h0M3337 2478h0M3368 2328h0M3381 2391h0M3282 2323h0M3668 2627h0M3585 2637h0M3581 2624h0M3670 2623h0M3657 2630h0M3661 2627h0M3581 2636h0M3585 2640h0M3657 2615h0M3660 2617h0M3664 2624h0M3580 2639h0M3665 2625h0M3593 2633h0" stroke="#5e6ab2" stroke-opacity=".75"/>
<path d="M3322 2266h0M3301 2283h0M3307 2443h0M3363 2425h0M3303 2416h0M3331 2255h0M3305 2329h0M3370 2353h0M3291 2324h0M3366 2391h0M3318 2254h0M3313 2449h0M3299 2326h0M3334 2253h0M3335 2260h0M3298 2407h0M3366 2388h0M3304 2428h0M3300 2421h0M3290 2326h0M3335 2453h0M3318 2453h0M3338 2264h0M3293 2368h0M3322 2264h0M3293 2350h0M3320 2255h0M3295 2317h0M3361 2304h0M3300 2282h0M3329 2255h0M3311 2444h0M3299 2432h0M3314 2281h0M3285 2332h0M3300 2428h0M3286 2352h0M3296 2286h0M3366 2348h0M3290 2348h0M3291 2355h0M3328 2258h0M3295 2426h0M3339 2270h0M3334 2257h0M3292 2345h0M3370 2385h0M3294 2349h0M3329 2468h0M3292 2364h0M3367 2345h0M3371 2337h0M3305 2277h0M3296 2283h0M3334 2468h0M3291 2320h0M3341 2458h0M3346 2267h0M3294 2354h0M3297 2413h0M3334 2466h0M3353 2270h0M3367 2400h0M3345 2266h0M3291 2326h0" stroke="#4c5aa6" stroke-opacity=".75"/>
<path d="M3348 2436h0M3309 2430h0M3330 2453h0M3347 2279h0M3296 2321h0M3331 2266h0M3356 2298h0M3325 2446h0M3359 2411h0M3371 2366h0M3347 2439h0M3302 2384h0M3352 2436h0M3297 2309h0M3323 2445h0M3348 2279h0M3300 2302h0M3358 2313h0M3308 2425h0M3363 2412h0M3355 2273h0M3374 2367h0M3359 2301h0M3346 2440h0M3365 2299h0M3356 2302h0M3303 2346h0M3304 2350h0M3362 2411h0M3356 2409h0M3333 2454h0M3363 2410h0M3311 2441h0M3323 2450h0M3329 2453h0M3302 2308h0M3304 2343h0M3358 2409h0M3365 2316h0M3303 2333h0M3338 2448h0M3301 2319h0M3297 2390h0M3324 2273h0M3327 2271h0M3352 2433h0M3315 2435h0M3366 2365h0M3349 2442h0M3370 2363h0M3338 2446h0M3369 2364h0M3344 2442h0M3355 2387h0M3371 2377h0M3297 2295h0M3367 2377h0" stroke="#4272a8" stroke-opacity=".75"/>
<path d="M3297 2370h0M3362 2355h0M3349 2310h0M3363 2341h0M3300 2362h0M3338 2433h0M3360 2341h0M3312 2420h0M3355 2312h0M3301 2396h0M3311 2283h0M3327 2274h0M3299 2395h0M3357 2365h0M3320 2436h0M3331 2448h0M3360 2366h0M3346 2428h0M3363 2333h0M3322 2433h0M3304 2377h0M3328 2279h0M3362 2379h0M3334 2279h0M3364 2331h0M3313 2414h0M3339 2434h0M3300 2369h0M3299 2379h0M3355 2308h0M3327 2279h0M3357 2336h0M3361 2358h0M3358 2375h0M3361 2351h0M3295 2377h0M3301 2365h0M3358 2352h0M3303 2399h0M3302 2401h0M3322 2440h0M3329 2448h0M3299 2367h0M3331 2273h0M3298 2361h0" stroke="#40949c" stroke-opacity=".75"/>
<path d="M3321 2287h0M3341 2288h0M3340 2284h0M3335 2425h0M3340 2309h0M3324 2306h0M3346 2313h0M3340 2298h0M3344 2305h0M3327 2428h0M3336 2290h0M3323 2430h0M3332 2289h0M3325 2289h0M3336 2428h0M3318 2424h0M3331 2441h0M3352 2283h0M3312 2294h0M3325 2294h0M3318 2304h0M3335 2306h0M3351 2295h0M3346 2413h0M3334 2426h0M3330 2423h0M3311 2322h0M3314 2334h0M3311 2326h0M3325 2299h0M3349 2293h0M3328 2439h0M3330 2297h0M3313 2338h0M3310 2308h0M3310 2296h0M3339 2429h0M3307 2326h0M3322 2284h0M3324 2287h0M3310 2312h0M3336 2293h0M3306 2411h0M3313 2411h0M3320 2298h0M3339 2301h0M3348 2409h0M3313 2297h0M3307 2303h0M3336 2295h0M3353 2397h0M3350 2297h0M3353 2321h0M3349 2321h0M3344 2423h0M3315 2292h0M3335 2425h0M3347 2402h0M3306 2319h0" stroke="#44a860" stroke-opacity=".75"/>
<path d="M3337 2419h0M3345 2325h0M3316 2421h0M3316 2316h0M3313 2386h0M3352 2385h0M3345 2351h0M3319 2408h0M3347 2323h0M3348 2370h0M3310 2356h0M3347 2327h0M3347 2386h0M3346 2370h0M3347 2331h0M3311 2362h0M3334 2415h0M3350 2377h0M3312 2371h0M3313 2367h0M3310 2347h0M3338 2415h0M3311 2352h0M3349 2333h0M3309 2366h0M3346 2331h0M3352 2339h0M3312 2356h0M3352 2382h0M3306 2387h0M3351 2352h0M3322 2406h0M3348 2341h0M3351 2327h0M3312 2361h0M3346 2374h0M3311 2350h0M3354 2379h0M3344 2402h0M3348 2357h0M3338 2312h0M3350 2339h0M3328 2420h0M3320 2421h0M3321 2416h0M3307 2344h0M3322 2422h0M3309 2395h0M3319 2316h0M3316 2319h0M3353 2340h0M3317 2421h0M3314 2388h0M3349 2368h0M3344 2410h0M3309 2399h0M3315 2399h0" stroke="#5cb840" stroke-opacity=".75"/>
<path d="M3334 2407h0M3339 2395h0M3339 2377h0M3340 2386h0M3333 2313h0M3320 2323h0M3325 2400h0M3342 2374h0M3323 2374h0M3316 2393h0M3324 2370h0M3330 2408h0M3344 2377h0M3335 2390h0M3317 2372h0M3319 2372h0M3326 2321h0M3322 2332h0M3339 2389h0M3320 2385h0M3330 2405h0M3322 2379h0M3316 2324h0M3320 2392h0M3330 2390h0M3320 2331h0M3333 2382h0M3336 2389h0M3324 2390h0M3337 2325h0M3329 2390h0M3319 2341h0M3332 2404h0M3318 2333h0" stroke="#98c834" stroke-opacity=".75"/>
<path d="M3336 2335h0M3342 2351h0M3327 2331h0M3340 2339h0M3324 2360h0M3338 2362h0M3331 2330h0M3331 2332h0M3340 2352h0M3344 2364h0M3336 2336h0M3342 2366h0M3337 2357h0M3326 2332h0M3331 2323h0M3329 2380h0" stroke="#d8d22c" stroke-opacity=".75"/>
<path d="M3331 2338h0" stroke="#f0a026" stroke-opacity=".75"/>
<path d="M3330 2367h0M3329 2365h0M3326 2346h0M3332 2369h0M3326 2367h0M3328 2364h0M3332 2351h0" stroke="#ee6420" stroke-opacity=".75"/>
<path d="M3329 2359h0M3333 2358h0" stroke="#e6261c" stroke-opacity=".75"/>
<path d="M2377 3292h0M2490 3157h0M2375 3261h0M2515 3185h0M2375 3230h0M2368 3224h0M2352 3237h0M2432 3147h0M2420 3144h0M2420 3319h0M2480 3104h0M2511 3184h0M2389 3140h0M2419 3101h0M2477 3163h0M2465 3131h0M2483 3316h0M2422 3142h0M2507 3154h0M2536 3274h0M2495 3316h0M2451 3105h0M2397 3313h0M2386 3279h0M2533 3224h0M2526 3202h0M2430 3124h0M2495 3134h0M2509 3177h0M2483 3147h0M2521 3130h0M2465 3128h0M2381 3281h0M2532 3222h0M2462 3142h0M2449 3151h0M2403 3159h0M2525 3265h0M2451 3346h0M2344 3160h0M2363 3231h0M2475 3315h0M2428 3313h0M2469 3162h0M2447 3333h0M2429 3340h0M2533 3219h0M2411 3314h0M2458 3314h0M2355 3192h0M2436 3327h0M2356 3179h0M2386 3143h0M2385 3278h0M2558 3291h0M2541 3196h0M2520 3203h0M2403 3311h0M2374 3185h0M2482 3123h0M2546 3282h0M2532 3277h0M2407 3306h0M2525 3141h0M2468 3106h0M2479 3153h0M2427 3152h0M2510 3323h0M2455 3317h0M2365 3288h0M2514 3303h0M2424 3321h0M2404 3170h0M2539 3185h0M2419 3139h0M2530 3216h0M2454 3147h0M2521 3206h0M2371 3243h0M2512 3166h0M2435 3330h0M2516 3285h0M2463 3124h0M2541 3167h0M2396 3316h0M2440 3134h0M2383 3192h0M2504 3164h0M2502 3126h0M2387 3297h0M2527 3182h0M2441 3064h0M2496 3148h0M2667 3573h0M2655 3342h0M2798 3353h0M2788 3596h0M2705 3598h0M2811 3400h0M2631 3434h0M2760 3278h0M2649 3308h0M2738 3303h0M2792 3567h0M2832 3471h0M2770 3276h0M2815 3478h0M2802 3291h0M2662 3607h0M2767 3292h0M2787 3242h0M2784 3583h0M2691 3281h0M2726 3638h0M2722 3283h0M2769 3323h0M2817 3412h0M2627 3352h0M2783 3548h0M2742 3300h0M2732 3629h0M2791 3353h0M2636 3509h0M2783 3324h0M2804 3551h0M2787 3572h0M2759 3313h0M2738 3604h0M2744 3236h0M2630 3439h0M2653 3572h0M2786 3559h0M2616 3353h0M2655 3578h0M2842 3530h0M2755 3309h0M2625 3447h0M2620 3538h0M2633 3443h0M2720 3616h0M2740 3276h0M2830 3402h0M2640 3297h0M2638 3488h0M2652 3561h0M2807 3365h0M2660 3563h0M2800 3535h0M2614 3507h0M2670 3300h0M2717 3635h0M2769 3291h0M2637 3559h0M2803 3477h0M2764 3313h0M2750 3619h0M2768 3575h0M2825 3501h0M2800 3348h0M2707 3251h0M2703 3596h0M2739 3277h0M2651 3578h0M2720 3602h0M2752 3207h0M2763 3288h0M2672 3590h0M2772 3309h0M2715 3282h0M2742 3289h0M2637 3499h0M2708 3246h0M2818 3487h0M2753 3587h0M2637 3368h0M2713 3617h0M2815 3513h0M2820 3450h0M2819 3508h0M2720 3286h0M2720 3287h0M2708 3273h0M2814 3424h0M2770 3302h0M2612 3433h0M2706 3604h0M2636 3381h0M2811 3441h0M2846 3420h0M2800 3596h0M2622 3374h0M2818 3290h0M2842 3177h0M2632 3341h0M2685 3602h0M2823 3387h0M2613 3444h0M2570 3334h0M2761 3232h0M2811 3462h0M2759 3685h0M2758 3620h0M2635 3549h0M2776 3659h0M2586 3586h0M2837 3463h0M2843 3523h0M2758 3612h0M2781 3289h0M2577 3704h0M2642 3559h0M2828 3489h0M2616 3501h0M2656 3260h0M2782 3562h0M2729 3616h0M2764 3278h0M2792 3331h0M2615 3372h0M2610 3525h0M2711 3264h0M2607 3330h0M2811 3521h0M2722 3273h0M2823 3416h0M2661 3670h0M2635 3355h0M2633 3569h0M2795 3319h0M2868 3420h0M2622 3321h0M2668 3603h0M2718 3678h0M2673 3294h0M2798 3320h0M2602 3525h0M2821 3345h0M2723 3281h0M2619 3425h0M2698 3189h0M2747 3660h0M2698 3618h0M2755 3620h0M2622 3415h0M2810 3453h0M2821 3520h0M2750 3255h0M2663 3564h0M2615 3519h0M2737 3617h0M2832 3563h0M2674 3240h0M2828 3487h0M2596 3447h0M2790 3293h0M2610 3398h0M2626 3465h0M2585 3559h0M2685 3301h0M2743 3596h0M2841 3288h0M2765 3295h0M2720 3631h0M2644 3635h0M2839 3309h0M2846 3282h0M2584 3447h0M2655 3655h0M2753 3282h0M2647 3567h0M2752 3601h0M2693 3605h0M2690 3261h0M2620 3429h0M2635 3534h0M2743 3300h0M2804 3307h0M2710 3656h0M2775 3648h0M2853 3454h0M2750 3588h0M2615 3371h0M2822 3408h0M2650 3216h0M2623 3323h0M2657 3581h0M2765 3597h0M2861 3460h0M2636 3509h0M2771 3298h0M2732 3603h0M2688 3694h0M2798 3353h0M2811 3302h0M2679 3298h0M2697 3269h0M2768 3308h0M2815 3419h0M2823 3490h0M2600 3263h0M2621 3413h0M2768 3571h0M2837 3410h0M2658 3536h0M2636 3397h0M2698 3261h0M2643 3539h0M2736 3218h0M2682 3264h0M2608 3415h0M2685 3288h0M2675 3587h0M2744 3602h0M2624 3517h0M2612 3542h0M2572 3348h0M2838 3447h0M2778 3194h0M2621 3525h0M2628 3258h0M2625 3456h0M2822 3518h0M2762 3299h0M2624 3659h0M2625 3314h0M2666 3296h0M2651 3620h0M2774 3595h0M2789 3578h0M2656 3286h0M2608 3480h0M2541 3529h0M2601 3495h0M2752 3611h0M2820 3585h0M2770 3568h0M2757 3287h0M2783 3575h0M2680 3599h0M2694 3275h0M2635 3372h0M2711 3595h0M2818 3423h0M2657 3270h0M2713 3215h0M2635 3348h0M2675 3604h0M2736 3250h0M2626 3186h0M2599 3248h0M2743 3167h0M2612 3179h0M2637 3272h0M2706 3244h0M2703 3188h0M2542 3223h0M2634 3210h0M2661 3219h0M2574 3196h0M2730 3234h0M2706 3200h0M2752 3185h0M2666 3168h0M2626 3222h0M2615 3228h0M2719 3235h0M2759 3230h0M2735 3230h0M2704 3194h0M2654 3274h0M2616 3256h0M2616 3230h0M2709 3190h0M2730 3238h0M2791 3180h0M2606 3262h0M2689 3198h0M2621 3164h0M2642 3226h0M2771 3276h0M2837 3136h0M2616 3241h0M2740 3220h0M2809 3124h0M2779 3188h0M2648 3196h0M2679 3199h0M2647 3217h0M2746 3244h0M2623 3239h0M2815 3224h0M2644 3294h0M2684 3265h0M2735 3245h0M2648 3199h0M2647 3207h0M2605 3224h0M2668 3259h0M2617 3211h0M2619 3232h0M2804 3201h0M2736 3180h0M2755 3225h0M2601 3179h0M2563 3152h0M2766 3206h0M2760 3269h0M2737 3270h0M2730 3155h0M2685 3187h0M2583 3264h0M2753 3241h0M2594 3216h0M2592 3175h0M2696 3257h0M2726 3205h0M2707 3190h0M2621 3201h0M2681 3204h0M2656 3267h0M2700 3275h0M2847 3175h0M2704 3194h0M2602 3232h0M2662 3158h0M2805 3250h0M2720 3199h0M2773 3213h0M2679 3207h0M2594 3193h0M2708 3228h0M2730 3256h0M2739 3229h0M2674 3189h0M2632 3311h0M2730 3158h0M2661 3268h0M2685 3276h0M2683 3273h0M2831 3158h0M2767 3228h0M2672 3161h0M2580 3173h0M2725 3285h0M2774 3260h0M2734 3169h0M2617 3230h0M2753 3215h0M2758 3244h0M2866 3198h0M2677 3179h0M2576 3211h0M2767 3243h0M2655 3247h0M2616 3252h0M2769 3236h0M2631 3221h0M2730 3186h0M2665 3241h0M2703 3245h0M2774 3172h0M2671 3190h0M2709 3229h0M2658 3253h0M2666 3235h0M2724 3185h0M2663 3263h0M2571 3216h0M2737 3150h0M2755 3171h0M2625 3180h0M2752 3189h0M2689 3191h0M2662 3201h0M2600 3254h0M2704 3196h0M2649 3258h0M2608 3223h0M2594 3206h0M2669 3222h0M2657 3280h0M2819 3225h0M2762 3190h0M2633 3250h0M2650 3172h0M2739 3250h0M2557 3198h0M2711 3240h0M2608 3174h0M2616 3209h0M2651 3211h0" stroke="#a4a4d4" stroke-opacity=".66"/>
<path d="M2486 3294h0M2386 3202h0M2406 3287h0M2443 3311h0M2524 3220h0M2433 3314h0M2382 3195h0M2501 3189h0M2472 3300h0M2409 3297h0M2380 3251h0M2393 3275h0M2504 3275h0M2440 3306h0M2432 3306h0M2434 3306h0M2474 3302h0M2396 3187h0M2494 3164h0M2518 3265h0M2511 3259h0M2422 3158h0M2478 3302h0M2491 3298h0M2425 3310h0M2524 3260h0M2487 3307h0M2524 3221h0M2509 3255h0M2394 3280h0M2478 3303h0M2521 3255h0M2400 3175h0M2435 3160h0M2519 3242h0M2522 3252h0M2495 3176h0M2453 3157h0M2488 3306h0M2443 3316h0M2514 3206h0M2469 3295h0M2470 3300h0M2381 3207h0M2388 3189h0M2477 3163h0M2514 3263h0M2499 3177h0M2414 3171h0M2457 3310h0M2433 3304h0M2491 3294h0M2497 3287h0M2457 3162h0M2508 3259h0M2463 3310h0M2398 3174h0M2411 3154h0M2420 3155h0M2451 3155h0M2522 3253h0M2497 3287h0M2393 3184h0M2493 3297h0M2453 3153h0M2396 3193h0M2411 3296h0M2381 3241h0M2498 3181h0M2513 3255h0M2410 3157h0M2492 3182h0M2381 3258h0M2503 3189h0M2705 3565h0M2668 3347h0M2683 3567h0M2699 3574h0M2789 3536h0M2776 3531h0M2779 3517h0M2761 3560h0M2707 3585h0M2680 3553h0M2786 3356h0M2740 3554h0M2727 3583h0M2805 3494h0M2766 3340h0M2762 3335h0M2803 3494h0M2689 3579h0M2641 3475h0M2687 3549h0M2781 3525h0M2728 3581h0M2629 3424h0M2797 3486h0M2800 3514h0M2800 3468h0M2777 3533h0M2702 3581h0M2794 3528h0M2696 3581h0M2750 3559h0M2644 3517h0M2703 3317h0M2717 3287h0M2718 3576h0M2701 3571h0M2791 3404h0M2690 3298h0M2654 3485h0M2661 3345h0M2685 3573h0M2667 3323h0M2802 3397h0M2798 3385h0M2651 3346h0M2685 3585h0M2793 3524h0M2692 3558h0M2803 3458h0M2647 3391h0M2802 3391h0M2671 3333h0M2647 3507h0M2712 3587h0M2748 3572h0M2740 3578h0M2789 3505h0M2743 3568h0M2804 3410h0M2800 3495h0M2654 3496h0M2687 3332h0M2674 3329h0M2790 3535h0M2749 3569h0M2750 3559h0M2686 3548h0M2686 3546h0M2789 3377h0M2683 3574h0M2786 3521h0M2794 3416h0M2792 3530h0M2643 3370h0M2738 3577h0M2682 3323h0M2777 3527h0M2681 3320h0M2736 3583h0M2661 3331h0M2645 3436h0M2802 3464h0M2647 3406h0M2771 3330h0M2760 3564h0M2665 3547h0M2675 3537h0M2744 3316h0M2711 3302h0M2781 3541h0M2677 3548h0M2650 3369h0M2690 3288h0M2690 3574h0M2678 3550h0M2666 3541h0M2687 3325h0M2755 3568h0M2678 3591h0M2772 3351h0M2741 3587h0M2674 3541h0M2686 3321h0M2790 3398h0M2675 3553h0M2643 3433h0M2709 3575h0M2793 3470h0M2774 3557h0M2657 3393h0M2682 3324h0M2656 3532h0M2768 3327h0M2700 3579h0M2755 3552h0M2775 3530h0M2734 3581h0M2739 3317h0M2798 3416h0M2752 3548h0M2671 3321h0M2785 3505h0M2681 3316h0M2798 3461h0M2772 3532h0M2667 3352h0M2657 3352h0M2737 3310h0M2738 3584h0M2716 3299h0M2645 3428h0M2657 3523h0M2740 3568h0M2790 3391h0M2716 3309h0M2786 3542h0M2791 3368h0M2752 3557h0M2730 3593h0M2789 3392h0M2722 3307h0M2771 3332h0M2769 3524h0M2641 3413h0M2734 3580h0M2736 3564h0M2810 3499h0M2714 3322h0M2733 3568h0M2702 3582h0M2653 3515h0M2800 3507h0M2651 3368h0M2710 3586h0M2648 3419h0M2749 3549h0M2777 3561h0M2696 3294h0M2779 3368h0M2655 3378h0M2649 3514h0M2764 3563h0M2700 3295h0M2711 3306h0M2690 3560h0M2805 3496h0M2635 3409h0M2759 3547h0M2681 3571h0M2808 3511h0M2804 3422h0M2665 3324h0M2661 3339h0M2806 3398h0M2666 3527h0M2799 3397h0M2648 3359h0M2645 3484h0M2649 3486h0M2677 3343h0M2684 3578h0M2766 3336h0M2647 3374h0M2706 3565h0M2672 3576h0M2641 3419h0M2646 3398h0M2717 3300h0M2800 3385h0M2808 3502h0M2676 3565h0M2802 3412h0M2640 3487h0M2682 3327h0M2653 3530h0M2672 3576h0M2791 3391h0M2650 3365h0M2785 3352h0M2654 3495h0M2708 3307h0M2675 3541h0M2634 3422h0M2654 3378h0M2704 3592h0M2640 3411h0M2772 3331h0M2648 3473h0M2807 3487h0M2654 3528h0M2792 3528h0M2655 3494h0M2684 3304h0M2695 3556h0M2649 3351h0M2792 3525h0M2693 3290h0M2677 3229h0M2751 3332h0M2730 3565h0M2643 3497h0M2757 3557h0M2801 3404h0M2801 3502h0M2740 3316h0M2792 3538h0M2641 3387h0M2661 3532h0M2775 3351h0M2632 3420h0M2658 3504h0M2685 3315h0M2693 3325h0M2705 3312h0M2649 3364h0M2795 3508h0M2658 3547h0M2640 3521h0M2742 3312h0M2639 3446h0M2693 3225h0M2656 3512h0M2793 3519h0M2797 3534h0M2689 3312h0M2657 3350h0M2716 3318h0M2644 3375h0M2644 3410h0M2671 3327h0M2648 3513h0M2775 3334h0M2645 3478h0M2682 3587h0M2644 3354h0M2644 3459h0M2811 3490h0M2792 3378h0M2640 3446h0M2646 3520h0M2773 3323h0M2697 3242h0M2707 3230h0M2681 3228h0M2696 3209h0M2681 3214h0M2693 3291h0M2700 3220h0M2696 3230h0M2669 3328h0M2673 3228h0M2689 3228h0M2675 3230h0M2692 3242h0M2683 3228h0M2679 3214h0M2707 3231h0M2701 3226h0M2704 3225h0M2694 3216h0M2705 3216h0M2691 3221h0M2680 3230h0M2681 3236h0" stroke="#7a82c2" stroke-opacity=".95"/>
<path d="M2499 3257h0M2515 3233h0M2489 3184h0M2414 3181h0M2510 3242h0M2405 3278h0M2497 3274h0M2431 3295h0M2512 3231h0M2469 3285h0M2510 3238h0M2435 3297h0M2406 3283h0M2386 3219h0M2387 3219h0M2447 3172h0M2411 3284h0M2427 3299h0M2422 3171h0M2387 3221h0M2480 3182h0M2503 3255h0M2398 3276h0M2457 3296h0M2462 3296h0M2502 3259h0M2430 3299h0M2457 3300h0M2453 3172h0M2413 3181h0M2461 3170h0M2474 3284h0M2435 3297h0M2385 3228h0M2501 3193h0M2493 3274h0M2437 3294h0M2505 3262h0M2453 3299h0M2420 3169h0M2459 3172h0M2458 3165h0M2449 3294h0M2382 3218h0M2470 3290h0M2482 3178h0M2487 3292h0M2392 3195h0M2413 3179h0M2488 3176h0M2506 3206h0M2513 3231h0M2425 3166h0M2382 3231h0M2424 3167h0M2396 3197h0M2485 3177h0M2387 3230h0M2505 3253h0M2478 3289h0M2501 3205h0M2404 3278h0M2494 3191h0M2433 3169h0M2501 3196h0M2768 3363h0M2662 3502h0M2769 3365h0M2662 3481h0M2667 3447h0M2781 3419h0M2712 3560h0M2759 3349h0M2654 3440h0M2757 3540h0M2681 3336h0M2672 3500h0M2707 3550h0M2738 3322h0M2787 3431h0M2672 3523h0M2684 3350h0M2768 3356h0M2650 3430h0M2659 3459h0M2651 3406h0M2668 3411h0M2693 3536h0M2736 3332h0M2782 3415h0M2755 3538h0M2781 3490h0M2757 3541h0M2715 3561h0M2727 3561h0M2660 3505h0M2779 3412h0M2658 3460h0M2655 3454h0M2729 3328h0M2797 3433h0M2728 3328h0M2766 3350h0M2784 3396h0M2714 3564h0M2662 3387h0M2731 3325h0M2738 3325h0M2731 3325h0M2699 3327h0M2664 3372h0M2666 3517h0M2797 3442h0M2714 3572h0M2655 3421h0M2691 3350h0M2779 3399h0M2667 3499h0M2681 3342h0M2731 3330h0M2783 3421h0M2784 3376h0M2733 3318h0M2798 3461h0M2725 3332h0M2782 3499h0M2698 3332h0M2662 3455h0M2785 3475h0M2729 3317h0M2673 3518h0M2664 3393h0M2715 3572h0M2787 3379h0M2698 3549h0M2783 3475h0M2664 3495h0M2721 3317h0M2778 3491h0M2682 3538h0M2661 3479h0M2737 3315h0M2790 3447h0M2777 3371h0M2661 3406h0M2714 3329h0M2665 3521h0M2665 3370h0M2687 3356h0M2663 3411h0M2736 3555h0M2776 3513h0M2667 3470h0M2663 3417h0M2682 3339h0M2765 3343h0M2753 3543h0M2780 3378h0M2729 3553h0M2724 3554h0M2789 3425h0M2770 3364h0M2787 3429h0M2779 3491h0M2761 3532h0M2658 3447h0M2795 3430h0M2706 3559h0M2709 3566h0M2655 3458h0M2736 3547h0M2762 3531h0M2718 3560h0M2673 3353h0M2657 3427h0M2753 3538h0M2791 3458h0M2773 3515h0M2748 3548h0M2668 3468h0M2772 3511h0M2664 3515h0M2796 3457h0M2684 3339h0M2782 3493h0M2733 3549h0M2779 3465h0M2798 3428h0M2768 3362h0M2664 3377h0M2690 3339h0M2796 3449h0M2778 3404h0M2786 3472h0M2664 3416h0M2677 3497h0M2659 3467h0M2695 3543h0M2692 3550h0M2664 3419h0M2723 3316h0M2695 3547h0M2664 3377h0M2732 3314h0M2655 3456h0M2773 3364h0M2795 3449h0M2649 3469h0M2685 3349h0M2727 3324h0M2666 3458h0M2661 3379h0M2659 3410h0M2665 3519h0M2669 3370h0M2682 3359h0M2664 3522h0M2650 3406h0M2660 3489h0M2687 3536h0M2662 3402h0M2668 3475h0M2723 3564h0M2659 3516h0M2720 3562h0M2667 3374h0M2779 3499h0M2787 3469h0M2664 3370h0M2781 3409h0M2664 3472h0M2667 3447h0M2679 3362h0M2655 3460h0M2737 3548h0M2662 3382h0M2675 3518h0M2677 3358h0M2651 3408h0M2670 3348h0M2737 3549h0M2726 3319h0M2780 3381h0M2674 3359h0M2654 3434h0M2668 3408h0M2795 3455h0M2658 3472h0M2664 3517h0M2656 3432h0M2664 3476h0M2676 3364h0M2668 3468h0M2650 3431h0M2683 3348h0" stroke="#5e6ab2" stroke-opacity=".95"/>
<path d="M2401 3263h0M2408 3271h0M2393 3209h0M2414 3274h0M2388 3238h0M2459 3181h0M2488 3189h0M2393 3225h0M2397 3258h0M2463 3175h0M2500 3235h0M2394 3253h0M2438 3298h0M2504 3219h0M2393 3256h0M2502 3220h0M2406 3199h0M2397 3211h0M2397 3216h0M2389 3213h0M2428 3182h0M2491 3201h0M2407 3199h0M2393 3260h0M2478 3280h0M2493 3266h0M2486 3190h0M2393 3260h0M2499 3216h0M2496 3199h0M2398 3227h0M2458 3178h0M2395 3250h0M2401 3202h0M2499 3235h0M2420 3290h0M2499 3251h0M2420 3181h0M2426 3286h0M2428 3174h0M2499 3235h0M2508 3244h0M2501 3236h0M2404 3271h0M2465 3176h0M2778 3405h0M2748 3526h0M2741 3352h0M2741 3530h0M2773 3404h0M2784 3442h0M2674 3374h0M2784 3443h0M2770 3382h0M2722 3537h0M2770 3500h0M2770 3473h0M2685 3507h0M2724 3535h0M2677 3470h0M2777 3485h0M2712 3545h0M2777 3483h0M2699 3538h0M2699 3534h0M2706 3336h0M2670 3436h0M2759 3505h0M2742 3353h0M2684 3521h0M2737 3542h0M2773 3388h0M2771 3457h0M2671 3375h0M2768 3415h0M2718 3536h0M2773 3502h0M2758 3351h0M2772 3472h0M2781 3442h0M2788 3442h0M2687 3371h0M2758 3506h0M2711 3333h0M2678 3370h0M2773 3429h0M2731 3542h0M2766 3360h0M2774 3495h0M2673 3400h0M2751 3525h0M2675 3406h0M2761 3509h0M2674 3436h0M2702 3347h0M2731 3339h0M2672 3398h0M2786 3452h0M2676 3465h0M2755 3352h0M2716 3552h0M2777 3455h0M2706 3541h0M2777 3456h0M2775 3395h0M2766 3505h0M2668 3447h0M2726 3339h0M2671 3382h0M2678 3378h0M2680 3518h0M2695 3359h0M2770 3401h0M2772 3490h0M2781 3457h0M2712 3551h0M2773 3413h0M2658 3430h0M2725 3545h0M2694 3524h0M2671 3471h0M2669 3387h0M2701 3533h0M2685 3517h0M2769 3374h0M2772 3460h0M2716 3333h0M2748 3363h0M2677 3409h0M2753 3357h0M2697 3518h0M2708 3347h0M2772 3401h0M2719 3337h0M2683 3502h0M2681 3366h0M2706 3362h0M2720 3548h0M2750 3350h0M2749 3353h0M2717 3535h0M2726 3546h0M2674 3446h0M2706 3540h0M2770 3455h0M2692 3531h0M2718 3333h0M2728 3534h0M2707 3537h0M2776 3429h0M2723 3334h0M2757 3348h0M2755 3518h0M2705 3336h0M2711 3337h0M2699 3352h0M2692 3372h0M2767 3373h0M2670 3474h0M2783 3436h0M2671 3389h0M2741 3333h0M2697 3357h0M2771 3411h0M2770 3478h0M2750 3524h0M2740 3340h0M2740 3343h0M2782 3461h0M2699 3530h0M2682 3511h0M2692 3531h0M2680 3511h0M2678 3500h0M2715 3335h0M2773 3461h0M2710 3552h0M2700 3343h0M2713 3549h0M2714 3537h0M2662 3425h0M2775 3375h0M2681 3518h0M2699 3334h0M2760 3506h0M2779 3439h0M2699 3348h0M2663 3429h0M2670 3484h0M2682 3381h0M2673 3466h0M2691 3365h0M2776 3406h0M2693 3369h0M2785 3435h0M2687 3376h0M2678 3385h0M2691 3513h0M2695 3515h0M2777 3488h0M2726 3551h0M2725 3541h0M2786 3443h0M2683 3390h0M2689 3527h0M2670 3439h0M2769 3463h0M2747 3345h0" stroke="#4c5aa6" stroke-opacity=".95"/>
<path d="M2490 3250h0M2418 3274h0M2448 3182h0M2494 3204h0M2472 3278h0M2444 3292h0M2485 3203h0M2419 3274h0M2457 3179h0M2491 3215h0M2487 3203h0M2416 3202h0M2493 3209h0M2423 3189h0M2471 3279h0M2490 3206h0M2488 3255h0M2469 3277h0M2488 3215h0M2413 3201h0M2479 3272h0M2404 3254h0M2491 3260h0M2457 3287h0M2445 3175h0M2483 3272h0M2454 3178h0M2414 3196h0M2495 3217h0M2433 3284h0M2470 3274h0M2455 3178h0M2405 3209h0M2491 3205h0M2484 3263h0M2485 3264h0M2448 3176h0M2725 3366h0M2762 3386h0M2711 3528h0M2687 3490h0M2686 3492h0M2745 3363h0M2718 3526h0M2678 3430h0M2729 3373h0M2700 3375h0M2684 3451h0M2688 3502h0M2759 3404h0M2720 3372h0M2750 3378h0M2732 3532h0M2749 3381h0M2760 3416h0M2681 3474h0M2733 3357h0M2716 3366h0M2687 3465h0M2676 3419h0M2759 3482h0M2707 3378h0M2758 3369h0M2678 3399h0M2762 3484h0M2710 3520h0M2764 3490h0M2746 3516h0M2762 3377h0M2758 3458h0M2676 3427h0M2730 3525h0M2730 3528h0M2752 3380h0M2686 3482h0M2754 3370h0M2774 3449h0M2709 3528h0M2701 3377h0M2699 3379h0M2688 3455h0M2741 3371h0M2761 3484h0M2692 3389h0M2705 3376h0M2689 3508h0M2694 3375h0M2766 3481h0M2717 3527h0M2695 3392h0M2724 3523h0M2766 3475h0M2767 3460h0M2759 3490h0M2705 3373h0M2726 3523h0M2679 3405h0M2763 3480h0M2742 3373h0M2736 3369h0M2737 3356h0M2732 3351h0M2696 3387h0M2761 3459h0M2727 3355h0M2705 3504h0M2683 3474h0M2699 3520h0M2743 3361h0M2708 3361h0M2696 3383h0M2693 3507h0M2757 3374h0M2706 3509h0M2758 3390h0M2714 3357h0M2693 3381h0M2766 3377h0M2759 3500h0M2718 3521h0M2701 3507h0M2767 3394h0M2676 3419h0M2719 3372h0M2760 3387h0M2742 3517h0M2710 3506h0M2751 3383h0M2734 3529h0M2748 3512h0M2681 3491h0M2684 3490h0M2748 3522h0M2720 3517h0M2692 3391h0M2720 3530h0M2684 3458h0M2761 3502h0M2719 3358h0M2684 3483h0M2679 3477h0M2773 3435h0M2759 3381h0M2716 3350h0M2718 3351h0M2759 3478h0M2696 3380h0M2753 3503h0M2688 3398h0M2766 3461h0M2716 3360h0M2686 3435h0M2675 3424h0M2720 3520h0M2736 3347h0M2727 3354h0M2765 3412h0M2769 3446h0M2713 3522h0M2734 3368h0M2762 3374h0M2709 3371h0M2761 3494h0M2760 3498h0M2759 3391h0M2670 3415h0M2701 3367h0M2707 3520h0M2755 3377h0M2745 3355h0M2733 3351h0M2760 3388h0M2709 3530h0M2762 3499h0M2699 3521h0M2693 3496h0M2714 3346h0M2731 3357h0M2728 3516h0M2684 3480h0M2757 3509h0M2720 3346h0M2726 3346h0M2694 3388h0M2719 3527h0" stroke="#4272a8" stroke-opacity=".95"/>
<path d="M2411 3268h0M2433 3190h0M2495 3230h0M2407 3234h0M2405 3227h0M2474 3271h0M2484 3253h0M2413 3265h0M2403 3241h0M2435 3187h0M2447 3184h0M2456 3184h0M2441 3188h0M2403 3223h0M2472 3196h0M2466 3188h0M2450 3188h0M2434 3189h0M2463 3187h0M2491 3238h0M2490 3234h0M2402 3216h0M2412 3266h0M2407 3247h0M2449 3188h0M2405 3237h0M2446 3189h0M2442 3189h0M2418 3272h0M2433 3185h0M2438 3190h0M2453 3188h0M2484 3259h0M2399 3248h0M2496 3239h0M2404 3213h0M2483 3254h0M2404 3217h0M2407 3239h0M2481 3262h0M2449 3188h0M2497 3224h0M2496 3224h0M2408 3229h0M2448 3185h0M2455 3188h0M2495 3240h0M2489 3232h0M2412 3272h0M2476 3200h0M2695 3399h0M2686 3432h0M2751 3392h0M2750 3466h0M2717 3382h0M2767 3450h0M2733 3392h0M2702 3391h0M2692 3397h0M2724 3498h0M2741 3393h0M2696 3471h0M2688 3440h0M2753 3484h0M2702 3495h0M2689 3460h0M2691 3403h0M2766 3443h0M2752 3397h0M2691 3397h0M2723 3500h0M2726 3381h0M2744 3512h0M2704 3497h0M2713 3378h0M2750 3417h0M2749 3475h0M2716 3378h0M2743 3507h0M2722 3375h0M2705 3489h0M2700 3497h0M2705 3501h0M2756 3492h0M2754 3394h0M2744 3494h0M2678 3425h0M2753 3468h0M2694 3396h0M2721 3390h0M2756 3490h0M2739 3499h0M2761 3439h0M2749 3418h0M2724 3503h0M2692 3434h0M2731 3497h0M2747 3389h0M2756 3415h0M2742 3508h0M2738 3384h0M2708 3387h0M2752 3399h0M2692 3465h0M2757 3480h0M2684 3413h0M2704 3389h0M2742 3376h0M2753 3408h0M2689 3408h0M2696 3484h0M2708 3388h0M2727 3506h0M2763 3437h0M2749 3417h0M2694 3406h0M2764 3439h0M2752 3486h0M2757 3469h0M2731 3501h0M2755 3464h0M2741 3384h0M2730 3509h0M2679 3424h0M2694 3435h0M2720 3377h0M2697 3411h0M2729 3505h0M2729 3388h0M2744 3494h0M2691 3484h0M2698 3499h0M2733 3379h0M2755 3412h0M2680 3414h0M2710 3389h0M2698 3388h0M2753 3410h0M2721 3375h0M2747 3381h0M2693 3465h0M2753 3386h0M2743 3501h0M2691 3491h0M2691 3444h0M2719 3384h0M2730 3512h0M2709 3391h0M2754 3491h0M2716 3493h0M2719 3511h0M2693 3438h0M2753 3483h0M2717 3375h0M2696 3397h0M2755 3476h0M2686 3420h0M2730 3384h0M2696 3482h0M2749 3501h0M2752 3463h0M2689 3394h0" stroke="#40949c" stroke-opacity=".95"/>
<path d="M2412 3244h0M2457 3274h0M2437 3197h0M2450 3278h0M2427 3200h0M2437 3276h0M2412 3212h0M2415 3245h0M2419 3270h0M2481 3233h0M2457 3203h0M2457 3198h0M2423 3195h0M2468 3197h0M2449 3276h0M2458 3276h0M2480 3238h0M2425 3263h0M2453 3194h0M2475 3261h0M2464 3198h0M2484 3228h0M2430 3195h0M2423 3267h0M2414 3218h0M2414 3222h0M2472 3212h0M2414 3256h0M2445 3193h0M2417 3208h0M2436 3275h0M2452 3274h0M2451 3277h0M2429 3277h0M2430 3201h0M2436 3198h0M2423 3267h0M2454 3199h0M2478 3207h0M2475 3206h0M2414 3211h0M2427 3271h0M2442 3199h0M2419 3272h0M2488 3250h0M2413 3257h0M2470 3204h0M2424 3201h0M2472 3207h0M2706 3449h0M2704 3417h0M2703 3472h0M2690 3420h0M2713 3457h0M2725 3472h0M2740 3418h0M2714 3477h0M2733 3455h0M2711 3476h0M2721 3465h0M2717 3427h0M2742 3487h0M2719 3483h0M2721 3444h0M2721 3407h0M2715 3410h0M2741 3405h0M2689 3432h0M2734 3455h0M2720 3411h0M2732 3421h0M2717 3484h0M2754 3430h0M2708 3467h0M2733 3432h0M2709 3453h0M2707 3453h0M2735 3489h0M2708 3427h0M2722 3452h0M2747 3403h0M2719 3480h0M2712 3462h0M2693 3422h0M2715 3461h0M2744 3434h0M2719 3453h0M2732 3478h0M2741 3457h0M2741 3403h0M2739 3461h0M2729 3436h0M2729 3411h0M2737 3416h0M2722 3433h0M2746 3409h0M2739 3444h0M2745 3453h0M2714 3447h0M2728 3476h0M2724 3454h0M2715 3453h0M2753 3457h0M2721 3481h0M2706 3410h0M2749 3449h0M2724 3418h0M2706 3433h0M2698 3428h0M2731 3425h0M2707 3417h0M2711 3399h0M2724 3443h0M2748 3404h0M2728 3396h0M2713 3445h0M2755 3427h0M2737 3431h0M2745 3480h0M2700 3454h0M2725 3455h0M2706 3394h0M2742 3476h0M2713 3429h0M2718 3451h0M2729 3426h0M2712 3426h0M2742 3442h0M2739 3460h0M2726 3487h0M2712 3405h0M2741 3420h0M2730 3459h0M2717 3436h0M2720 3465h0M2721 3427h0M2705 3443h0M2736 3429h0M2723 3465h0M2748 3426h0M2744 3410h0M2712 3405h0M2730 3447h0M2698 3438h0M2702 3411h0M2698 3479h0M2705 3410h0M2707 3460h0M2737 3450h0M2706 3478h0M2745 3454h0M2717 3422h0M2722 3471h0M2700 3433h0M2726 3401h0M2750 3432h0M2719 3462h0M2693 3420h0M2757 3450h0M2713 3394h0M2726 3399h0M2692 3422h0M2726 3459h0M2706 3437h0M2754 3424h0M2720 3443h0M2736 3431h0M2741 3442h0M2729 3451h0M2714 3490h0M2703 3459h0M2714 3413h0M2740 3396h0M2744 3426h0M2739 3464h0M2699 3464h0M2743 3405h0M2714 3449h0M2752 3455h0M2716 3434h0M2703 3431h0M2725 3426h0M2719 3425h0M2741 3395h0M2734 3450h0M2744 3401h0M2722 3459h0M2752 3458h0M2470 3204h0" stroke="#44a860" stroke-opacity=".95"/>
<path d="M2447 3263h0M2414 3243h0M2478 3230h0M2470 3249h0M2426 3222h0M2428 3206h0M2472 3247h0M2470 3233h0M2454 3264h0M2444 3271h0M2424 3207h0M2472 3231h0M2435 3211h0M2429 3267h0M2470 3251h0M2419 3256h0M2414 3240h0M2445 3267h0M2477 3244h0M2410 3231h0M2456 3206h0M2431 3267h0M2426 3205h0M2421 3221h0M2458 3206h0M2469 3218h0M2459 3257h0M2473 3216h0M2470 3227h0M2468 3233h0M2439 3211h0M2418 3214h0M2434 3266h0M2427 3222h0M2444 3266h0M2455 3204h0M2433 3267h0M2440 3273h0M2410 3224h0M2410 3236h0M2474 3248h0M2446 3207h0" stroke="#5cb840" stroke-opacity=".95"/>
<path d="M2456 3261h0M2420 3229h0M2435 3220h0M2424 3235h0M2427 3248h0M2422 3224h0M2439 3261h0M2421 3240h0M2462 3223h0M2432 3256h0M2423 3233h0M2420 3243h0M2429 3219h0M2453 3254h0M2454 3215h0M2432 3258h0M2427 3230h0M2440 3223h0M2436 3219h0M2427 3240h0M2419 3253h0M2453 3257h0M2440 3254h0M2458 3216h0M2459 3245h0M2464 3243h0M2432 3254h0M2424 3227h0M2438 3219h0M2443 3258h0M2459 3219h0M2446 3258h0M2422 3226h0M2464 3215h0M2452 3255h0" stroke="#98c834" stroke-opacity=".95"/>
<path d="M2465 3239h0M2429 3223h0M2437 3246h0M2430 3246h0M2432 3250h0M2461 3231h0M2432 3245h0M2431 3243h0M2461 3224h0M2436 3249h0M2463 3230h0M2437 3253h0M2462 3228h0" stroke="#d8d22c" stroke-opacity=".95"/>
<path d="M2432 3242h0M2429 3233h0M2429 3241h0M2435 3240h0" stroke="#f0a026" stroke-opacity=".95"/>
<path d="M2450 3224h0M2449 3253h0M2454 3224h0M2442 3230h0M2451 3252h0M2454 3227h0M2452 3233h0M2439 3232h0M2442 3226h0" stroke="#ee6420" stroke-opacity=".95"/>
<path d="M2440 3250h0M2442 3252h0M2438 3251h0M2446 3249h0M2446 3238h0M2452 3243h0M2440 3241h0M2455 3241h0M2442 3245h0M2442 3241h0" stroke="#e6261c" stroke-opacity=".95"/>
<path d="M3291 3287h0M3273 3213h0M3318 3317h0M3391 3278h0M3377 3286h0M3355 3134h0M3306 3143h0M3363 3125h0M3312 3133h0M3379 3335h0M3381 3115h0M3345 3131h0M3387 3165h0M3365 3127h0M3329 3131h0M3401 3184h0M3305 3114h0M3296 3093h0M3426 3182h0M3402 3318h0M3362 3362h0M3415 3197h0M3383 3104h0M3341 3353h0M3378 3310h0M3335 3331h0M3402 3263h0M3302 3317h0M3313 3090h0M3315 3115h0M3403 3189h0M3423 3227h0M3259 3211h0M3317 3338h0M3313 3100h0M3296 3127h0M3325 3134h0M3306 3314h0M3391 3342h0M3324 3314h0M3330 3357h0M3407 3259h0M3417 3236h0M3432 3245h0M3363 3351h0M3364 3133h0M3329 3345h0M3255 3209h0M3378 3152h0M3253 3101h0M3362 3090h0M3380 3156h0M3284 3265h0M3396 3190h0M3270 3095h0M3414 3130h0M3345 3349h0M3265 3197h0M3297 3139h0M3368 3316h0M3359 3341h0M3668 3546h0M3564 3471h0M3655 3424h0M3586 3279h0M3642 3538h0M3639 3505h0M3588 3568h0M3629 3533h0M3618 3447h0M3670 3518h0M3545 3412h0M3645 3520h0M3618 3545h0M3664 3630h0M3707 3508h0M3605 3425h0M3639 3411h0M3665 3382h0M3597 3433h0M3603 3464h0M3665 3547h0M3637 3459h0M3574 3350h0M3650 3510h0M3635 3529h0M3701 3499h0M3613 3585h0M3611 3481h0M3610 3554h0M3602 3391h0M3629 3438h0M3632 3575h0M3656 3449h0M3622 3525h0M3629 3322h0M3652 3505h0M3583 3476h0M3612 3336h0M3579 3426h0M3678 3506h0M3535 3547h0M3606 3486h0M3611 3585h0M3680 3458h0M3626 3587h0M3580 3481h0M3678 3380h0M3548 3628h0M3692 3440h0M3589 3436h0M3637 3436h0M3622 3463h0M3621 3340h0M3630 3389h0M3561 3522h0M3610 3446h0M3648 3582h0M3647 3590h0M3595 3450h0M3664 3471h0M3725 3472h0M3659 3414h0M3714 3452h0M3640 3456h0M3699 3440h0M3625 3579h0M3535 3503h0M3568 3426h0M3620 3508h0M3685 3503h0M3630 3554h0M3646 3471h0M3609 3558h0M3608 3395h0M3638 3383h0M3578 3456h0M3575 3252h0M3604 3547h0M3587 3492h0M3564 3372h0M3630 3424h0M3649 3406h0M3689 3446h0M3582 3432h0M3598 3441h0M3615 3515h0M3728 3526h0M3590 3493h0M3678 3531h0M3630 3497h0M3624 3483h0M3603 3494h0M3691 3537h0M3638 3426h0M3565 3437h0M3686 3520h0M3678 3486h0M3652 3524h0M3598 3503h0M3620 3457h0M3623 3436h0M3579 3446h0M3635 3568h0M3685 3521h0M3557 3449h0M3622 3439h0M3594 3462h0M3581 3558h0M3612 3466h0M3607 3506h0M3678 3510h0M3677 3337h0M3651 3430h0M3567 3514h0M3613 3506h0M3606 3520h0M3645 3354h0M3620 3519h0M3562 3153h0M3709 3138h0M3585 3298h0M3555 3137h0M3575 3241h0M3532 3228h0M3617 3218h0M3669 3191h0M3642 3155h0M3612 3192h0M3532 3178h0M3572 3161h0M3494 3247h0M3587 3250h0M3466 3186h0M3551 3202h0M3590 3090h0M3584 3200h0M3612 3173h0M3631 3175h0M3702 3136h0M3693 3059h0M3620 3152h0M3691 3083h0M3567 3148h0M3693 3194h0M3499 3107h0M3587 3196h0M3616 3239h0M3486 3185h0M3461 3214h0M3752 3214h0M3735 3137h0M3468 3238h0M3589 3140h0M3665 3218h0M3646 3225h0M3537 3200h0M3593 3182h0M3557 3156h0M3587 3226h0M3536 3139h0M3546 3228h0M3639 3208h0M3545 3068h0M3616 3176h0M3589 3209h0M3424 3087h0M3582 3180h0M3659 3137h0" stroke="#a4a4d4" stroke-opacity=".56"/>
<path d="M3399 3226h0M3345 3315h0M3385 3257h0M3361 3171h0M3326 3148h0M3398 3241h0M3276 3257h0M3318 3300h0M3291 3179h0M3329 3152h0M3275 3234h0M3397 3239h0M3289 3153h0M3350 3154h0M3293 3165h0M3299 3288h0M3288 3164h0M3339 3303h0M3361 3159h0M3288 3172h0M3342 3144h0M3295 3146h0M3289 3183h0M3362 3319h0M3366 3169h0M3338 3143h0M3283 3206h0M3370 3286h0M3324 3146h0M3365 3306h0M3335 3312h0M3290 3182h0M3321 3153h0M3356 3328h0M3365 3170h0M3384 3178h0M3392 3187h0M3354 3329h0M3371 3160h0M3351 3326h0M3304 3293h0M3327 3309h0M3285 3207h0M3379 3169h0M3345 3319h0M3305 3156h0M3295 3147h0M3315 3305h0M3294 3159h0M3401 3222h0M3346 3335h0M3376 3172h0M3362 3327h0M3645 3502h0M3650 3493h0M3636 3467h0M3646 3499h0M3665 3492h0M3642 3466h0M3645 3478h0M3658 3491h0M3659 3491h0M3668 3491h0M3645 3465h0M3668 3492h0" stroke="#7a82c2" stroke-opacity=".80"/>
<path d="M3364 3296h0M3374 3175h0M3280 3242h0M3292 3203h0M3281 3226h0M3315 3290h0M3294 3196h0M3301 3275h0M3286 3194h0M3284 3250h0M3285 3246h0M3279 3248h0M3291 3196h0M3277 3226h0M3393 3224h0M3303 3275h0M3375 3263h0M3283 3239h0M3294 3188h0M3376 3188h0M3381 3263h0M3359 3174h0M3343 3163h0M3329 3156h0M3367 3177h0M3333 3163h0M3282 3247h0M3386 3218h0M3369 3281h0M3385 3199h0M3395 3214h0M3387 3242h0M3321 3172h0M3346 3304h0M3356 3177h0M3364 3299h0M3388 3237h0M3352 3311h0M3355 3299h0" stroke="#5e6ab2" stroke-opacity=".80"/>
<path d="M3344 3168h0M3328 3173h0M3317 3288h0M3380 3196h0M3319 3289h0M3379 3198h0M3346 3293h0M3379 3261h0M3303 3190h0M3303 3268h0M3371 3185h0M3345 3295h0M3378 3201h0M3305 3190h0M3377 3256h0M3291 3205h0M3285 3253h0M3347 3299h0M3331 3167h0M3344 3168h0M3352 3179h0M3314 3183h0M3331 3172h0M3304 3269h0M3305 3187h0M3380 3198h0M3351 3297h0M3340 3293h0M3347 3298h0M3338 3171h0M3366 3183h0M3346 3300h0M3380 3252h0M3301 3267h0M3329 3163h0M3377 3260h0M3314 3180h0M3347 3298h0" stroke="#4c5aa6" stroke-opacity=".80"/>
<path d="M3295 3200h0M3323 3181h0M3341 3290h0M3293 3248h0M3293 3240h0M3330 3179h0M3352 3287h0M3355 3274h0M3382 3205h0M3380 3232h0M3336 3284h0M3355 3289h0M3335 3288h0M3293 3233h0M3344 3286h0M3288 3223h0M3289 3214h0M3382 3209h0M3311 3192h0M3343 3285h0M3313 3189h0M3381 3206h0M3366 3196h0M3365 3202h0M3338 3181h0M3357 3280h0M3370 3266h0M3318 3183h0M3383 3212h0M3314 3189h0M3294 3231h0M3376 3205h0M3368 3264h0M3337 3176h0M3357 3282h0" stroke="#4272a8" stroke-opacity=".80"/>
<path d="M3374 3208h0M3349 3187h0M3351 3273h0M3372 3212h0M3311 3268h0M3318 3278h0M3363 3273h0M3321 3276h0M3311 3265h0M3313 3270h0M3299 3261h0M3352 3184h0M3358 3265h0M3350 3187h0M3369 3212h0M3347 3274h0M3300 3261h0M3318 3277h0M3367 3259h0M3307 3272h0M3324 3281h0M3347 3278h0M3367 3203h0M3370 3256h0M3348 3184h0M3346 3192h0M3322 3279h0M3348 3281h0M3314 3270h0" stroke="#40949c" stroke-opacity=".80"/>
<path d="M3345 3267h0M3303 3247h0M3343 3277h0M3316 3266h0M3337 3188h0M3372 3214h0M3345 3270h0M3321 3273h0M3357 3256h0M3306 3203h0M3369 3224h0M3314 3194h0M3359 3262h0M3370 3251h0M3316 3184h0M3367 3217h0M3364 3259h0M3301 3248h0M3362 3202h0M3369 3214h0M3332 3279h0M3358 3203h0M3300 3251h0M3303 3252h0M3300 3232h0M3341 3275h0M3304 3225h0M3297 3215h0M3302 3244h0M3318 3266h0M3305 3235h0M3295 3245h0M3313 3255h0M3368 3246h0M3332 3193h0M3367 3246h0M3359 3210h0M3300 3225h0M3361 3209h0M3337 3192h0M3304 3247h0" stroke="#44a860" stroke-opacity=".80"/>
<path d="M3310 3206h0M3322 3203h0M3349 3207h0M3323 3199h0M3359 3236h0M3321 3256h0M3356 3226h0M3358 3232h0M3323 3255h0M3307 3208h0M3355 3237h0M3310 3204h0M3308 3245h0M3342 3198h0M3354 3208h0M3334 3201h0M3309 3252h0M3348 3203h0M3313 3251h0M3325 3201h0M3332 3270h0M3362 3213h0M3317 3260h0M3360 3250h0M3357 3226h0M3308 3251h0M3320 3257h0M3358 3252h0M3326 3263h0M3329 3193h0M3330 3201h0M3309 3213h0M3309 3213h0M3313 3243h0M3312 3219h0M3362 3223h0M3352 3203h0M3352 3204h0M3347 3206h0M3321 3261h0M3332 3203h0M3347 3198h0M3361 3234h0M3349 3208h0M3313 3218h0M3324 3197h0M3307 3212h0" stroke="#5cb840" stroke-opacity=".80"/>
<path d="M3320 3210h0M3350 3252h0M3344 3255h0M3346 3248h0M3354 3220h0M3329 3253h0M3347 3228h0M3325 3259h0M3316 3210h0M3305 3237h0M3308 3224h0M3344 3211h0M3329 3253h0M3319 3206h0M3306 3238h0M3351 3225h0M3329 3211h0M3354 3241h0M3344 3254h0M3324 3213h0M3352 3251h0M3308 3230h0M3339 3209h0M3347 3220h0" stroke="#98c834" stroke-opacity=".80"/>
<path d="M3343 3217h0M3320 3220h0M3339 3219h0M3324 3253h0M3339 3218h0M3320 3215h0M3323 3246h0M3320 3213h0" stroke="#d8d22c" stroke-opacity=".80"/>
<path d="M3335 3249h0M3331 3219h0M3340 3253h0M3319 3224h0M3340 3250h0M3331 3222h0M3321 3231h0M3323 3237h0M3319 3243h0M3320 3225h0" stroke="#f0a026" stroke-opacity=".80"/>
<path d="M3327 3246h0M3339 3223h0M3340 3224h0M3343 3242h0M3336 3237h0M3345 3223h0M3335 3238h0" stroke="#ee6420" stroke-opacity=".80"/>
<path d="M3330 3242h0M3332 3229h0M3335 3234h0M3327 3242h0M3332 3239h0" stroke="#e6261c" stroke-opacity=".80"/>
</g>
<rect x="35.1" y="32.0" width="83.6" height="83.0" fill="none" stroke="#000" stroke-width="1.4"/>
<rect x="45.8" y="52.3" width="29.6" height="20.9" fill="none" stroke="#000" stroke-width="1.4"/>
<rect x="77.5" y="51.6" width="22.7" height="23.9" fill="none" stroke="#000" stroke-width="1.4"/>
<text x="58.4" y="44.2" font-size="7.4" text-anchor="middle" font-weight="bold" fill="#e3221c" stroke="#e3221c" stroke-width=".25">EM</text>
<text x="58.4" y="54.4" font-size="7.4" text-anchor="middle" font-weight="bold" fill="#e3221c" stroke="#e3221c" stroke-width=".25">2.39</text>
<text x="107.5" y="59.3" font-size="7.4" text-anchor="middle" font-weight="bold" fill="#e3221c" stroke="#e3221c" stroke-width=".25">CM</text>
<text x="107.5" y="69.5" font-size="7.4" text-anchor="middle" font-weight="bold" fill="#e3221c" stroke="#e3221c" stroke-width=".25">22.9</text>
<rect x="123.8" y="32.0" width="84.1" height="83.0" fill="none" stroke="#000" stroke-width="1.4"/>
<rect x="134.2" y="52.3" width="29.5" height="20.9" fill="none" stroke="#000" stroke-width="1.4"/>
<rect x="166.2" y="51.6" width="22.5" height="23.9" fill="none" stroke="#000" stroke-width="1.4"/>
<text x="146.5" y="44.2" font-size="7.4" text-anchor="middle" font-weight="bold" fill="#e3221c" stroke="#e3221c" stroke-width=".25">EM</text>
<text x="146.5" y="54.4" font-size="7.4" text-anchor="middle" font-weight="bold" fill="#e3221c" stroke="#e3221c" stroke-width=".25">13.4</text>
<text x="196.2" y="59.3" font-size="7.4" text-anchor="middle" font-weight="bold" fill="#e3221c" stroke="#e3221c" stroke-width=".25">CM</text>
<text x="196.2" y="69.5" font-size="7.4" text-anchor="middle" font-weight="bold" fill="#e3221c" stroke="#e3221c" stroke-width=".25">33.4</text>
<rect x="35.1" y="120.1" width="83.6" height="83.0" fill="none" stroke="#000" stroke-width="1.4"/>
<rect x="40.4" y="138.9" width="29.4" height="21.3" fill="none" stroke="#000" stroke-width="1.4"/>
<rect x="71.7" y="138.2" width="26.6" height="25.4" fill="none" stroke="#000" stroke-width="1.4"/>
<text x="53.0" y="132.6" font-size="7.4" text-anchor="middle" font-weight="bold" fill="#e3221c" stroke="#e3221c" stroke-width=".25">EM</text>
<text x="53.0" y="142.8" font-size="7.4" text-anchor="middle" font-weight="bold" fill="#e3221c" stroke="#e3221c" stroke-width=".25">2.48</text>
<text x="103.8" y="146.3" font-size="7.4" text-anchor="middle" font-weight="bold" fill="#e3221c" stroke="#e3221c" stroke-width=".25">CM</text>
<text x="103.8" y="156.5" font-size="7.4" text-anchor="middle" font-weight="bold" fill="#e3221c" stroke="#e3221c" stroke-width=".25">18.8</text>
<rect x="123.8" y="120.1" width="84.1" height="83.0" fill="none" stroke="#000" stroke-width="1.4"/>
<rect x="129.1" y="138.9" width="29.5" height="21.3" fill="none" stroke="#000" stroke-width="1.4"/>
<rect x="160.2" y="138.2" width="26.8" height="25.4" fill="none" stroke="#000" stroke-width="1.4"/>
<text x="141.6" y="132.6" font-size="7.4" text-anchor="middle" font-weight="bold" fill="#e3221c" stroke="#e3221c" stroke-width=".25">EM</text>
<text x="141.6" y="142.8" font-size="7.4" text-anchor="middle" font-weight="bold" fill="#e3221c" stroke="#e3221c" stroke-width=".25">4.10</text>
<text x="193.2" y="146.3" font-size="7.4" text-anchor="middle" font-weight="bold" fill="#e3221c" stroke="#e3221c" stroke-width=".25">CM</text>
<text x="193.2" y="156.5" font-size="7.4" text-anchor="middle" font-weight="bold" fill="#e3221c" stroke="#e3221c" stroke-width=".25">36.7</text>
<rect x="35.1" y="209.2" width="83.6" height="83.0" fill="none" stroke="#000" stroke-width="1.4"/>
<rect x="42.3" y="230.9" width="29.4" height="23.4" fill="none" stroke="#000" stroke-width="1.4"/>
<rect x="73.5" y="228.9" width="26.5" height="24.3" fill="none" stroke="#000" stroke-width="1.4"/>
<text x="56.0" y="221.6" font-size="7.4" text-anchor="middle" font-weight="bold" fill="#e3221c" stroke="#e3221c" stroke-width=".25">EM</text>
<text x="56.0" y="231.8" font-size="7.4" text-anchor="middle" font-weight="bold" fill="#e3221c" stroke="#e3221c" stroke-width=".25">8.29</text>
<text x="105.5" y="236.4" font-size="7.4" text-anchor="middle" font-weight="bold" fill="#e3221c" stroke="#e3221c" stroke-width=".25">CM</text>
<text x="105.5" y="246.6" font-size="7.4" text-anchor="middle" font-weight="bold" fill="#e3221c" stroke="#e3221c" stroke-width=".25">22.5</text>
<rect x="123.8" y="209.2" width="84.1" height="83.0" fill="none" stroke="#000" stroke-width="1.4"/>
<rect x="131.2" y="230.9" width="29.0" height="23.4" fill="none" stroke="#000" stroke-width="1.4"/>
<rect x="162.0" y="228.9" width="26.7" height="24.3" fill="none" stroke="#000" stroke-width="1.4"/>
<text x="144.9" y="221.6" font-size="7.4" text-anchor="middle" font-weight="bold" fill="#e3221c" stroke="#e3221c" stroke-width=".25">EM</text>
<text x="144.9" y="231.8" font-size="7.4" text-anchor="middle" font-weight="bold" fill="#e3221c" stroke="#e3221c" stroke-width=".25">72.4</text>
<text x="194.2" y="236.4" font-size="7.4" text-anchor="middle" font-weight="bold" fill="#e3221c" stroke="#e3221c" stroke-width=".25">CM</text>
<text x="194.2" y="246.6" font-size="7.4" text-anchor="middle" font-weight="bold" fill="#e3221c" stroke="#e3221c" stroke-width=".25">12.4</text>
<rect x="35.1" y="297.3" width="83.6" height="83.0" fill="none" stroke="#000" stroke-width="1.4"/>
<rect x="46.2" y="314.0" width="24.3" height="25.5" fill="none" stroke="#000" stroke-width="1.4"/>
<rect x="71.2" y="314.0" width="28.3" height="24.5" fill="none" stroke="#000" stroke-width="1.4"/>
<text x="57.0" y="309.1" font-size="7.4" text-anchor="middle" font-weight="bold" fill="#e3221c" stroke="#e3221c" stroke-width=".25">EM</text>
<text x="57.0" y="319.3" font-size="7.4" text-anchor="middle" font-weight="bold" fill="#e3221c" stroke="#e3221c" stroke-width=".25">19.1</text>
<text x="107.0" y="323.1" font-size="7.4" text-anchor="middle" font-weight="bold" fill="#e3221c" stroke="#e3221c" stroke-width=".25">CM</text>
<text x="107.0" y="333.3" font-size="7.4" text-anchor="middle" font-weight="bold" fill="#e3221c" stroke="#e3221c" stroke-width=".25">26.5</text>
<rect x="123.8" y="297.3" width="84.1" height="83.0" fill="none" stroke="#000" stroke-width="1.4"/>
<rect x="134.2" y="314.0" width="24.6" height="25.5" fill="none" stroke="#000" stroke-width="1.4"/>
<rect x="160.2" y="314.0" width="28.5" height="24.5" fill="none" stroke="#000" stroke-width="1.4"/>
<text x="145.4" y="309.1" font-size="7.4" text-anchor="middle" font-weight="bold" fill="#e3221c" stroke="#e3221c" stroke-width=".25">EM</text>
<text x="145.4" y="319.3" font-size="7.4" text-anchor="middle" font-weight="bold" fill="#e3221c" stroke="#e3221c" stroke-width=".25">77.6</text>
<text x="195.2" y="323.1" font-size="7.4" text-anchor="middle" font-weight="bold" fill="#e3221c" stroke="#e3221c" stroke-width=".25">CM</text>
<text x="195.2" y="333.3" font-size="7.4" text-anchor="middle" font-weight="bold" fill="#e3221c" stroke="#e3221c" stroke-width=".25">11.5</text>
<rect x="225.8" y="32.0" width="83.1" height="83.0" fill="none" stroke="#000" stroke-width="1.4"/>
<rect x="237.4" y="40.5" width="16.9" height="29.0" fill="none" stroke="#000" stroke-width="1.4"/>
<rect x="257.5" y="40.5" width="34.8" height="27.6" fill="none" stroke="#000" stroke-width="1.4"/>
<text x="241.8" y="78.4" font-size="7.4" text-anchor="middle" font-weight="bold" fill="#e3221c" stroke="#e3221c" stroke-width=".25">EM</text>
<text x="241.8" y="88.6" font-size="7.4" text-anchor="middle" font-weight="bold" fill="#e3221c" stroke="#e3221c" stroke-width=".25">17.1</text>
<text x="299.8" y="49.0" font-size="7.4" text-anchor="middle" font-weight="bold" fill="#e3221c" stroke="#e3221c" stroke-width=".25">CM</text>
<text x="299.8" y="59.2" font-size="7.4" text-anchor="middle" font-weight="bold" fill="#e3221c" stroke="#e3221c" stroke-width=".25">6.13</text>
<rect x="314.5" y="32.0" width="83.4" height="83.0" fill="none" stroke="#000" stroke-width="1.4"/>
<rect x="325.9" y="40.5" width="16.9" height="29.0" fill="none" stroke="#000" stroke-width="1.4"/>
<rect x="346.7" y="40.5" width="33.8" height="27.6" fill="none" stroke="#000" stroke-width="1.4"/>
<text x="330.4" y="78.4" font-size="7.4" text-anchor="middle" font-weight="bold" fill="#e3221c" stroke="#e3221c" stroke-width=".25">EM</text>
<text x="330.4" y="88.6" font-size="7.4" text-anchor="middle" font-weight="bold" fill="#e3221c" stroke="#e3221c" stroke-width=".25">63.7</text>
<text x="388.4" y="49.0" font-size="7.4" text-anchor="middle" font-weight="bold" fill="#e3221c" stroke="#e3221c" stroke-width=".25">CM</text>
<text x="388.4" y="59.2" font-size="7.4" text-anchor="middle" font-weight="bold" fill="#e3221c" stroke="#e3221c" stroke-width=".25">4.29</text>
<rect x="225.8" y="120.1" width="83.1" height="83.0" fill="none" stroke="#000" stroke-width="1.4"/>
<rect x="237.4" y="124.3" width="16.9" height="28.9" fill="none" stroke="#000" stroke-width="1.4"/>
<rect x="257.8" y="125.0" width="29.4" height="27.5" fill="none" stroke="#000" stroke-width="1.4"/>
<text x="243.0" y="160.9" font-size="7.4" text-anchor="middle" font-weight="bold" fill="#e3221c" stroke="#e3221c" stroke-width=".25">EM</text>
<text x="243.0" y="171.1" font-size="7.4" text-anchor="middle" font-weight="bold" fill="#e3221c" stroke="#e3221c" stroke-width=".25">4.12</text>
<text x="297.6" y="134.4" font-size="7.4" text-anchor="middle" font-weight="bold" fill="#e3221c" stroke="#e3221c" stroke-width=".25">CM</text>
<text x="297.6" y="144.6" font-size="7.4" text-anchor="middle" font-weight="bold" fill="#e3221c" stroke="#e3221c" stroke-width=".25">2.97</text>
<rect x="314.5" y="120.1" width="83.4" height="83.0" fill="none" stroke="#000" stroke-width="1.4"/>
<rect x="325.9" y="124.3" width="16.9" height="28.9" fill="none" stroke="#000" stroke-width="1.4"/>
<rect x="346.7" y="125.0" width="29.7" height="27.5" fill="none" stroke="#000" stroke-width="1.4"/>
<text x="331.8" y="160.9" font-size="7.4" text-anchor="middle" font-weight="bold" fill="#e3221c" stroke="#e3221c" stroke-width=".25">EM</text>
<text x="331.8" y="171.1" font-size="7.4" text-anchor="middle" font-weight="bold" fill="#e3221c" stroke="#e3221c" stroke-width=".25">21.7</text>
<text x="386.2" y="134.4" font-size="7.4" text-anchor="middle" font-weight="bold" fill="#e3221c" stroke="#e3221c" stroke-width=".25">CM</text>
<text x="386.2" y="144.6" font-size="7.4" text-anchor="middle" font-weight="bold" fill="#e3221c" stroke="#e3221c" stroke-width=".25">4.44</text>
<rect x="225.8" y="209.2" width="83.1" height="83.0" fill="none" stroke="#000" stroke-width="1.4"/>
<rect x="237.4" y="218.4" width="16.9" height="29.0" fill="none" stroke="#000" stroke-width="1.4"/>
<rect x="257.5" y="219.6" width="34.3" height="27.1" fill="none" stroke="#000" stroke-width="1.4"/>
<text x="243.6" y="255.4" font-size="7.4" text-anchor="middle" font-weight="bold" fill="#e3221c" stroke="#e3221c" stroke-width=".25">EM</text>
<text x="243.6" y="265.6" font-size="7.4" text-anchor="middle" font-weight="bold" fill="#e3221c" stroke="#e3221c" stroke-width=".25">18.8</text>
<text x="298.8" y="229.3" font-size="7.4" text-anchor="middle" font-weight="bold" fill="#e3221c" stroke="#e3221c" stroke-width=".25">CM</text>
<text x="298.8" y="239.5" font-size="7.4" text-anchor="middle" font-weight="bold" fill="#e3221c" stroke="#e3221c" stroke-width=".25">7.77</text>
<rect x="314.5" y="209.2" width="83.4" height="83.0" fill="none" stroke="#000" stroke-width="1.4"/>
<rect x="325.9" y="221.9" width="16.9" height="29.0" fill="none" stroke="#000" stroke-width="1.4"/>
<rect x="346.7" y="220.5" width="33.8" height="26.9" fill="none" stroke="#000" stroke-width="1.4"/>
<text x="331.1" y="258.8" font-size="7.4" text-anchor="middle" font-weight="bold" fill="#e3221c" stroke="#e3221c" stroke-width=".25">EM</text>
<text x="331.1" y="269.0" font-size="7.4" text-anchor="middle" font-weight="bold" fill="#e3221c" stroke="#e3221c" stroke-width=".25">92.6</text>
<text x="388.4" y="230.2" font-size="7.4" text-anchor="middle" font-weight="bold" fill="#e3221c" stroke="#e3221c" stroke-width=".25">CM</text>
<text x="388.4" y="240.4" font-size="7.4" text-anchor="middle" font-weight="bold" fill="#e3221c" stroke="#e3221c" stroke-width=".25">1.18</text>
<rect x="225.8" y="297.3" width="83.1" height="83.0" fill="none" stroke="#000" stroke-width="1.4"/>
<rect x="237.4" y="304.7" width="16.9" height="29.2" fill="none" stroke="#000" stroke-width="1.4"/>
<rect x="256.4" y="305.9" width="28.0" height="25.0" fill="none" stroke="#000" stroke-width="1.4"/>
<text x="243.2" y="341.9" font-size="7.4" text-anchor="middle" font-weight="bold" fill="#e3221c" stroke="#e3221c" stroke-width=".25">EM</text>
<text x="243.2" y="352.1" font-size="7.4" text-anchor="middle" fill="#e8706a">52.9</text>
<text x="291.1" y="315.4" font-size="7.4" text-anchor="middle" font-weight="bold" fill="#e3221c" stroke="#e3221c" stroke-width=".25">CM</text>
<text x="291.1" y="325.6" font-size="7.4" text-anchor="middle" font-weight="bold" fill="#e3221c" stroke="#e3221c" stroke-width=".25">2.25</text>
<rect x="314.5" y="297.3" width="83.4" height="83.0" fill="none" stroke="#000" stroke-width="1.4"/>
<rect x="325.9" y="304.7" width="16.9" height="29.2" fill="none" stroke="#000" stroke-width="1.4"/>
<rect x="345.8" y="305.9" width="27.8" height="25.0" fill="none" stroke="#000" stroke-width="1.4"/>
<text x="332.1" y="342.2" font-size="7.4" text-anchor="middle" font-weight="bold" fill="#e3221c" stroke="#e3221c" stroke-width=".25">EM</text>
<text x="332.1" y="352.4" font-size="7.4" text-anchor="middle" font-weight="bold" fill="#e3221c" stroke="#e3221c" stroke-width=".25">91.2</text>
<text x="379.8" y="315.8" font-size="7.4" text-anchor="middle" font-weight="bold" fill="#e3221c" stroke="#e3221c" stroke-width=".25">CM</text>
<text x="379.8" y="326.0" font-size="7.4" text-anchor="middle" font-weight="bold" fill="#e3221c" stroke="#e3221c" stroke-width=".25">2.32</text>
<circle cx="459.9" cy="86.4" r="35.8" fill="#fff" stroke="#000" stroke-width="1.45"/>
<path d="M459.9 86.4L459.9 50.60000000000001A35.8 35.8 0 0 0 435.23 60.46Z" fill="#000" stroke="#000" stroke-width="1.5" stroke-linejoin="miter"/>
<circle cx="538.5" cy="86.4" r="35.8" fill="#fff" stroke="#000" stroke-width="1.45"/>
<path d="M538.5 86.4L538.5 50.60000000000001A35.8 35.8 0 0 0 503.61 94.43Z" fill="#000" stroke="#000" stroke-width="1.5" stroke-linejoin="miter"/>
<circle cx="653.3" cy="86.4" r="35.8" fill="#fff" stroke="#000" stroke-width="1.45"/>
<path d="M653.3 86.4L653.3 50.60000000000001A35.8 35.8 0 1 0 688.96 89.55Z" fill="#000" stroke="#000" stroke-width="1.5" stroke-linejoin="miter"/>
<circle cx="731.0" cy="86.4" r="35.8" fill="#fff" stroke="#000" stroke-width="1.45"/>
<path d="M731.0 86.4L731.0 50.60000000000001A35.8 35.8 0 1 0 744.80 53.37Z" fill="#000" stroke="#000" stroke-width="1.5" stroke-linejoin="miter"/>
<circle cx="459.9" cy="166.1" r="35.8" fill="#fff" stroke="#000" stroke-width="1.45"/>
<path d="M459.9 166.1L459.9 130.3A35.8 35.8 0 0 0 435.89 139.55Z" fill="#000" stroke="#000" stroke-width="1.5" stroke-linejoin="miter"/>
<circle cx="538.5" cy="166.1" r="35.8" fill="#fff" stroke="#000" stroke-width="1.45"/>
<path d="M538.5 166.1L538.5 130.3A35.8 35.8 0 0 0 517.46 137.14Z" fill="#000" stroke="#000" stroke-width="1.5" stroke-linejoin="miter"/>
<circle cx="653.3" cy="166.1" r="35.8" fill="#fff" stroke="#000" stroke-width="1.45"/>
<path d="M653.3 166.1L653.3 130.3A35.8 35.8 0 1 0 670.74 197.36Z" fill="#000" stroke="#000" stroke-width="1.5" stroke-linejoin="miter"/>
<circle cx="731.0" cy="166.1" r="35.8" fill="#fff" stroke="#000" stroke-width="1.45"/>
<path d="M731.0 166.1L731.0 130.3A35.8 35.8 0 1 0 762.37 148.85Z" fill="#000" stroke="#000" stroke-width="1.5" stroke-linejoin="miter"/>
<circle cx="459.9" cy="245.4" r="35.8" fill="#fff" stroke="#000" stroke-width="1.45"/>
<path d="M459.9 245.4L459.9 209.60000000000002A35.8 35.8 0 0 0 424.35 249.66Z" fill="#000" stroke="#000" stroke-width="1.5" stroke-linejoin="miter"/>
<circle cx="538.5" cy="245.4" r="35.8" fill="#fff" stroke="#000" stroke-width="1.45"/>
<path d="M538.5 245.4L538.5 209.60000000000002A35.8 35.8 0 1 0 566.92 223.64Z" fill="#000" stroke="#000" stroke-width="1.5" stroke-linejoin="miter"/>
<circle cx="653.3" cy="245.4" r="35.8" fill="#fff" stroke="#000" stroke-width="1.45"/>
<path d="M653.3 245.4L653.3 209.60000000000002A35.8 35.8 0 1 0 687.86 254.74Z" fill="#000" stroke="#000" stroke-width="1.5" stroke-linejoin="miter"/>
<circle cx="731.0" cy="245.4" r="35.8" fill="#fff" stroke="#000" stroke-width="1.45"/>
<path d="M731.0 245.4L731.0 209.60000000000002A35.8 35.8 0 1 0 733.92 209.72Z" fill="#000" stroke="#000" stroke-width="1.5" stroke-linejoin="miter"/>
<circle cx="459.9" cy="325.1" r="35.8" fill="#fff" stroke="#000" stroke-width="1.45"/>
<path d="M459.9 325.1L459.9 289.3A35.8 35.8 0 0 0 442.46 356.36Z" fill="#000" stroke="#000" stroke-width="1.5" stroke-linejoin="miter"/>
<circle cx="538.5" cy="325.1" r="35.8" fill="#fff" stroke="#000" stroke-width="1.45"/>
<path d="M538.5 325.1L538.5 289.3A35.8 35.8 0 1 0 564.44 300.43Z" fill="#000" stroke="#000" stroke-width="1.5" stroke-linejoin="miter"/>
<circle cx="653.3" cy="325.1" r="35.8" fill="#fff" stroke="#000" stroke-width="1.45"/>
<path d="M653.3 325.1L653.3 289.3A35.8 35.8 0 1 0 662.42 290.48Z" fill="#000" stroke="#000" stroke-width="1.5" stroke-linejoin="miter"/>
<circle cx="731.0" cy="325.1" r="35.8" fill="#fff" stroke="#000" stroke-width="1.45"/>
<path d="M731.0 325.1L731.0 289.3A35.8 35.8 0 1 0 736.60 289.74Z" fill="#000" stroke="#000" stroke-width="1.5" stroke-linejoin="miter"/>
<text x="499" y="17.0" font-size="10.9" text-anchor="middle">CD8 T cells</text>
<text x="692" y="17.0" font-size="10.9" text-anchor="middle">CD4 T cells</text>
<text x="461" y="38.6" font-size="10.9" text-anchor="middle">Control</text>
<text x="537.3" y="38.6" font-size="10.9" text-anchor="middle">IT</text>
<text x="653" y="38.6" font-size="10.9" text-anchor="middle">Control</text>
<text x="731.3" y="38.6" font-size="10.9" text-anchor="middle">IT</text>
<text x="451.7" y="68.0" font-size="11.9" text-anchor="middle" font-weight="bold" fill="#fff" stroke="#000" stroke-width="1.9" stroke-linejoin="round" paint-order="stroke">9.5</text>
<text x="460.6" y="102.2" font-size="11" text-anchor="middle">90.5</text>
<text x="522.6" y="79.4" font-size="11.9" text-anchor="middle" font-weight="bold" fill="#fff" stroke="#000" stroke-width="1.9" stroke-linejoin="round" paint-order="stroke">28.6</text>
<text x="544.6" y="102.2" font-size="11" text-anchor="middle">71.4</text>
<text x="449.5" y="145.6" font-size="11.9" text-anchor="middle" font-weight="bold" fill="#fff" stroke="#000" stroke-width="1.9" stroke-linejoin="round" paint-order="stroke">11.7</text>
<text x="461.3" y="182.8" font-size="11" text-anchor="middle">88.3</text>
<text x="531" y="145.6" font-size="11.9" text-anchor="middle" font-weight="bold" fill="#fff" stroke="#000" stroke-width="1.9" stroke-linejoin="round" paint-order="stroke">10</text>
<text x="543.8" y="182.8" font-size="11" text-anchor="middle">90.0</text>
<text x="443.4" y="237.8" font-size="11.9" text-anchor="middle" font-weight="bold" fill="#fff" stroke="#000" stroke-width="1.9" stroke-linejoin="round" paint-order="stroke">26.9</text>
<text x="461.6" y="264.6" font-size="11" text-anchor="middle">73.1</text>
<text x="550.4" y="228.3" font-size="11" text-anchor="middle">14.6</text>
<text x="538" y="265.0" font-size="11.9" text-anchor="middle" font-weight="bold" fill="#fff" stroke="#000" stroke-width="1.9" stroke-linejoin="round" paint-order="stroke">85.4</text>
<text x="443" y="318.2" font-size="11.9" text-anchor="middle" font-weight="bold" fill="#fff" stroke="#000" stroke-width="1.9" stroke-linejoin="round" paint-order="stroke">41.9</text>
<text x="472.6" y="338.4" font-size="11" text-anchor="middle">58.1</text>
<text x="550.2" y="305.4" font-size="11" text-anchor="middle">12.9</text>
<text x="539.6" y="338.8" font-size="11.9" text-anchor="middle" font-weight="bold" fill="#fff" stroke="#000" stroke-width="1.9" stroke-linejoin="round" paint-order="stroke">87.1</text>
<text x="670.1" y="79.4" font-size="11" text-anchor="middle">26.4</text>
<text x="649" y="105.4" font-size="11.9" text-anchor="middle" font-weight="bold" fill="#fff" stroke="#000" stroke-width="1.9" stroke-linejoin="round" paint-order="stroke">73.6</text>
<text x="731" y="105.4" font-size="11.9" text-anchor="middle" font-weight="bold" fill="#fff" stroke="#000" stroke-width="1.9" stroke-linejoin="round" paint-order="stroke">93.7</text>
<text x="669.5" y="164.3" font-size="11" text-anchor="middle">41.9</text>
<text x="643.6" y="183.3" font-size="11.9" text-anchor="middle" font-weight="bold" fill="#fff" stroke="#000" stroke-width="1.9" stroke-linejoin="round" paint-order="stroke">58.1</text>
<text x="743.1" y="148.7" font-size="11" text-anchor="middle">17.0</text>
<text x="731.5" y="183.3" font-size="11.9" text-anchor="middle" font-weight="bold" fill="#fff" stroke="#000" stroke-width="1.9" stroke-linejoin="round" paint-order="stroke">83.0</text>
<text x="667.1" y="237.4" font-size="11" text-anchor="middle">29.2</text>
<text x="653.6" y="265.4" font-size="11.9" text-anchor="middle" font-weight="bold" fill="#fff" stroke="#000" stroke-width="1.9" stroke-linejoin="round" paint-order="stroke">70.8</text>
<text x="731.5" y="265.4" font-size="11.9" text-anchor="middle" font-weight="bold" fill="#fff" stroke="#000" stroke-width="1.9" stroke-linejoin="round" paint-order="stroke">98.7</text>
<text x="653.5" y="338.8" font-size="11.9" text-anchor="middle" font-weight="bold" fill="#fff" stroke="#000" stroke-width="1.9" stroke-linejoin="round" paint-order="stroke">95.9</text>
<text x="731.5" y="338.8" font-size="11.9" text-anchor="middle" font-weight="bold" fill="#fff" stroke="#000" stroke-width="1.9" stroke-linejoin="round" paint-order="stroke">97.5</text>
<path d="M735.7 56.2H760.1M731.7 214.9H757M656.6 294.6H680.1M731.7 294.4H757" stroke="#e3221c" stroke-width="1.2" fill="none"/>
<text x="761.8" y="58.7" font-size="11">6.3</text>
<text x="761.8" y="215.6" font-size="11">1.3</text>
<text x="680.8" y="295.2" font-size="11">4.1</text>
<text x="761.8" y="295.0" font-size="11">2.5</text>
<rect x="563.7" y="390" width="18.9" height="10.3" fill="#000"/>
<rect x="628.8" y="390.7" width="17.6" height="8.9" fill="#fff" stroke="#000" stroke-width="1.4"/>
<text x="591.6" y="399.4" font-size="12.2">EM</text>
<text x="655.4" y="399.4" font-size="12.2">CM</text>
<text x="0.5" y="460.2" font-size="16">E</text>
<text x="372.3" y="460.0" font-size="16">F</text>
<text x="97.5" y="438.8" font-size="13.9">Effector/Effector Memory</text>
<text x="490.6" y="441.7" font-size="13.9">Central Memory</text>
<path d="M42.4 445.2H318M420 448.3H695.4" stroke="#000" stroke-width="1.35" fill="none"/>
<path d="M28.9 474.09999999999997V563.9H165" stroke="#000" stroke-width="1.6" fill="none"/>
<text x="24.75" y="567.5" font-size="10.2" text-anchor="end">0</text>
<text x="24.75" y="549.7" font-size="10.2" text-anchor="end">20</text>
<text x="24.75" y="531.8" font-size="10.2" text-anchor="end">40</text>
<text x="24.75" y="514.0" font-size="10.2" text-anchor="end">60</text>
<text x="24.75" y="496.1" font-size="10.2" text-anchor="end">80</text>
<text x="24.75" y="478.3" font-size="10.2" text-anchor="end">100</text>
<path d="M26.099999999999998 563.9H28.9M26.099999999999998 546.1H28.9M26.099999999999998 528.2H28.9M26.099999999999998 510.4H28.9M26.099999999999998 492.5H28.9M26.099999999999998 474.7H28.9M46.2 563.9v2.6M79.6 563.9v2.6M113.2 563.9v2.6M146.9 563.9v2.6" stroke="#000" stroke-width="1.2" fill="none"/>
<text x="95.7" y="471.0" font-size="11.6" text-anchor="middle">CD8 T cells</text>
<text x="7.6" y="523" font-size="10.4" text-anchor="middle" transform="rotate(-90 7.6 523)">% of CD8 T cells</text>
<rect x="36.1" y="561.9" width="7.9" height="2.0" fill="#fff" stroke="#000" stroke-width="1.25"/>
<path d="M52.3 547.0V542.0M49.9 542.0H54.7" stroke="#000" stroke-width="1.45" fill="none"/>
<rect x="47.8" y="547.0" width="9.1" height="16.9" fill="#000"/>
<rect x="69.5" y="561.3" width="7.8" height="2.6" fill="#fff" stroke="#000" stroke-width="1.25"/>
<path d="M85.7 557.7V556.9M83.3 556.9H88.1" stroke="#000" stroke-width="1.45" fill="none"/>
<rect x="81.2" y="557.7" width="9.0" height="6.2" fill="#000"/>
<path d="M107.0 553.2V550.1M104.6 550.1H109.4" stroke="#000" stroke-width="1.45" fill="none"/>
<rect x="103.1" y="553.8" width="7.8" height="10.1" fill="#fff" stroke="#000" stroke-width="1.25"/>
<path d="M119.6 504.3V499.0M117.2 499.0H122.0" stroke="#000" stroke-width="1.45" fill="none"/>
<rect x="114.8" y="504.3" width="9.6" height="59.6" fill="#000"/>
<rect x="136.5" y="546.7" width="7.8" height="17.2" fill="#fff" stroke="#000" stroke-width="1.25"/>
<path d="M153.8 496.8V492.8M151.4 492.8H156.2" stroke="#000" stroke-width="1.45" fill="none"/>
<rect x="149.0" y="496.8" width="9.6" height="67.1" fill="#000"/>
<text x="48.2" y="575.7" font-size="10.3" text-anchor="middle">Spleen</text>
<text x="79.7" y="575.7" font-size="10.3" text-anchor="middle">LN</text>
<text x="115.7" y="575.7" font-size="10.3" text-anchor="middle">Lungs</text>
<text x="147.6" y="575.7" font-size="10.3" text-anchor="middle">Liver</text>
<path d="M205.0 474.09999999999997V563.9H339.5" stroke="#000" stroke-width="1.6" fill="none"/>
<text x="200.9" y="567.5" font-size="10.2" text-anchor="end">0</text>
<text x="200.9" y="549.7" font-size="10.2" text-anchor="end">20</text>
<text x="200.9" y="531.8" font-size="10.2" text-anchor="end">40</text>
<text x="200.9" y="514.0" font-size="10.2" text-anchor="end">60</text>
<text x="200.9" y="496.1" font-size="10.2" text-anchor="end">80</text>
<text x="200.9" y="478.3" font-size="10.2" text-anchor="end">100</text>
<path d="M202.2 563.9H205.0M202.2 546.1H205.0M202.2 528.2H205.0M202.2 510.4H205.0M202.2 492.5H205.0M202.2 474.7H205.0M221.6 563.9v2.6M254.9 563.9v2.6M289.0 563.9v2.6M322.4 563.9v2.6" stroke="#000" stroke-width="1.2" fill="none"/>
<text x="273.5" y="469.2" font-size="11.6" text-anchor="middle">CD4 T cells</text>
<text x="183.6" y="520.5" font-size="10.4" text-anchor="middle" transform="rotate(-90 183.6 520.5)">% of CD4 T cells</text>
<path d="M215.2 546.5V545.1M212.8 545.1H217.7" stroke="#000" stroke-width="1.45" fill="none"/>
<rect x="211.2" y="547.1" width="8.1" height="16.8" fill="#fff" stroke="#000" stroke-width="1.25"/>
<path d="M227.9 505.5V504.9M225.5 504.9H230.3" stroke="#000" stroke-width="1.45" fill="none"/>
<rect x="223.3" y="505.5" width="9.2" height="58.4" fill="#000"/>
<rect x="244.5" y="560.9" width="8.1" height="3.0" fill="#fff" stroke="#000" stroke-width="1.25"/>
<path d="M261.2 547.8V545.0M258.8 545.0H263.6" stroke="#000" stroke-width="1.45" fill="none"/>
<rect x="256.6" y="547.8" width="9.2" height="16.1" fill="#000"/>
<path d="M282.5 545.2V543.9M280.1 543.9H284.9" stroke="#000" stroke-width="1.45" fill="none"/>
<rect x="278.4" y="545.8" width="8.1" height="18.1" fill="#fff" stroke="#000" stroke-width="1.25"/>
<path d="M295.4 483.6V479.9M293.0 479.9H297.8" stroke="#000" stroke-width="1.45" fill="none"/>
<rect x="290.8" y="483.6" width="9.2" height="80.3" fill="#000"/>
<path d="M315.9 522.9V517.2M313.5 517.2H318.3" stroke="#000" stroke-width="1.45" fill="none"/>
<rect x="311.7" y="523.5" width="8.4" height="40.4" fill="#fff" stroke="#000" stroke-width="1.25"/>
<path d="M328.9 482.3V481.4M326.6 481.4H331.3" stroke="#000" stroke-width="1.45" fill="none"/>
<rect x="324.0" y="482.3" width="9.9" height="81.6" fill="#000"/>
<text x="223.4" y="575.7" font-size="10.3" text-anchor="middle">Spleen</text>
<text x="254.8" y="575.7" font-size="10.3" text-anchor="middle">LN</text>
<text x="290.6" y="575.7" font-size="10.3" text-anchor="middle">Lungs</text>
<text x="323.1" y="575.7" font-size="10.3" text-anchor="middle">Liver</text>
<rect x="246.0" y="484.90000000000003" width="8.8" height="3.8" fill="#fff" stroke="#000" stroke-width="1.2"/>
<rect x="245.4" y="493.6" width="10" height="5" fill="#000"/>
<text x="260.0" y="489.5" font-size="10.4">Ctrl</text>
<text x="260.0" y="499.2" font-size="10.4">IT</text>
<path d="M401.0 474.09999999999997V563.9H536.1" stroke="#000" stroke-width="1.6" fill="none"/>
<text x="398.0" y="567.5" font-size="10.2" text-anchor="end">0</text>
<text x="398.0" y="549.7" font-size="10.2" text-anchor="end">20</text>
<text x="398.0" y="531.8" font-size="10.2" text-anchor="end">40</text>
<text x="398.0" y="514.0" font-size="10.2" text-anchor="end">60</text>
<text x="398.0" y="496.1" font-size="10.2" text-anchor="end">80</text>
<text x="398.0" y="478.3" font-size="10.2" text-anchor="end">100</text>
<path d="M398.2 563.9H401.0M398.2 546.1H401.0M398.2 528.2H401.0M398.2 510.4H401.0M398.2 492.5H401.0M398.2 474.7H401.0M417.9 563.9v2.6M451.8 563.9v2.6M485.5 563.9v2.6M519.3 563.9v2.6" stroke="#000" stroke-width="1.2" fill="none"/>
<text x="470.7" y="470.2" font-size="11.6" text-anchor="middle">CD8 T cells</text>
<text x="380.3" y="517.5" font-size="10.4" text-anchor="middle" transform="rotate(-90 380.3 517.5)">% of CD8 T cells</text>
<path d="M411.7 542.5V542.0M409.3 542.0H414.1" stroke="#000" stroke-width="1.45" fill="none"/>
<rect x="407.7" y="543.1" width="8.0" height="20.8" fill="#fff" stroke="#000" stroke-width="1.25"/>
<path d="M424.4 534.5V533.9M422.0 533.9H426.8" stroke="#000" stroke-width="1.45" fill="none"/>
<rect x="419.4" y="534.5" width="9.9" height="29.4" fill="#000"/>
<path d="M445.6 546.5V545.2M443.2 545.2H448.0" stroke="#000" stroke-width="1.45" fill="none"/>
<rect x="441.6" y="547.1" width="8.0" height="16.8" fill="#fff" stroke="#000" stroke-width="1.25"/>
<path d="M458.2 537.1V533.3M455.8 533.3H460.6" stroke="#000" stroke-width="1.45" fill="none"/>
<rect x="453.3" y="537.1" width="9.8" height="26.8" fill="#000"/>
<path d="M479.1 550.1V544.9M476.8 544.9H481.5" stroke="#000" stroke-width="1.45" fill="none"/>
<rect x="475.1" y="550.7" width="8.1" height="13.2" fill="#fff" stroke="#000" stroke-width="1.25"/>
<path d="M492.1 552.3V549.3M489.7 549.3H494.5" stroke="#000" stroke-width="1.45" fill="none"/>
<rect x="487.2" y="552.3" width="9.8" height="11.6" fill="#000"/>
<path d="M513.0 546.1V542.8M510.6 542.8H515.4" stroke="#000" stroke-width="1.45" fill="none"/>
<rect x="509.0" y="546.7" width="8.0" height="17.2" fill="#fff" stroke="#000" stroke-width="1.25"/>
<path d="M525.6 553.6V551.7M523.2 551.7H528.0" stroke="#000" stroke-width="1.45" fill="none"/>
<rect x="521.0" y="553.6" width="9.3" height="10.3" fill="#000"/>
<text x="421.2" y="575.7" font-size="10.3" text-anchor="middle">Spleen</text>
<text x="451.9" y="575.7" font-size="10.3" text-anchor="middle">LN</text>
<text x="487.5" y="575.7" font-size="10.3" text-anchor="middle">Lungs</text>
<text x="520.1" y="575.7" font-size="10.3" text-anchor="middle">Liver</text>
<path d="M575.9 474.09999999999997V563.9H711.4" stroke="#000" stroke-width="1.6" fill="none"/>
<text x="572.9" y="567.5" font-size="10.2" text-anchor="end">0</text>
<text x="572.9" y="549.7" font-size="10.2" text-anchor="end">20</text>
<text x="572.9" y="531.8" font-size="10.2" text-anchor="end">40</text>
<text x="572.9" y="514.0" font-size="10.2" text-anchor="end">60</text>
<text x="572.9" y="496.1" font-size="10.2" text-anchor="end">80</text>
<text x="572.9" y="478.3" font-size="10.2" text-anchor="end">100</text>
<path d="M573.1 563.9H575.9M573.1 546.1H575.9M573.1 528.2H575.9M573.1 510.4H575.9M573.1 492.5H575.9M573.1 474.7H575.9M593.2 563.9v2.6M627.0 563.9v2.6M660.8 563.9v2.6M694.8 563.9v2.6" stroke="#000" stroke-width="1.2" fill="none"/>
<text x="644.4" y="470.2" font-size="11.6" text-anchor="middle">CD4 T cells</text>
<text x="555.6" y="517.5" font-size="10.4" text-anchor="middle" transform="rotate(-90 555.6 517.5)">% of CD4 T cells</text>
<path d="M587.0 557.2V556.5M584.6 556.5H589.4" stroke="#000" stroke-width="1.45" fill="none"/>
<rect x="582.8" y="557.8" width="8.3" height="6.1" fill="#fff" stroke="#000" stroke-width="1.25"/>
<path d="M599.7 559.0V558.5M597.3 558.5H602.1" stroke="#000" stroke-width="1.45" fill="none"/>
<rect x="594.8" y="559.0" width="9.8" height="4.9" fill="#000"/>
<rect x="616.6" y="561.4" width="8.4" height="2.5" fill="#fff" stroke="#000" stroke-width="1.25"/>
<path d="M633.4 560.3V560.0M631.0 560.0H635.8" stroke="#000" stroke-width="1.45" fill="none"/>
<rect x="628.3" y="560.3" width="10.2" height="3.6" fill="#000"/>
<path d="M654.2 558.5V557.8M651.8 557.8H656.6" stroke="#000" stroke-width="1.45" fill="none"/>
<rect x="649.9" y="559.1" width="8.6" height="4.8" fill="#fff" stroke="#000" stroke-width="1.25"/>
<path d="M667.4 561.6V561.3M665.0 561.3H669.8" stroke="#000" stroke-width="1.45" fill="none"/>
<rect x="662.5" y="561.6" width="9.8" height="2.3" fill="#000"/>
<path d="M688.5 560.4V560.2M686.1 560.2H690.9" stroke="#000" stroke-width="1.45" fill="none"/>
<rect x="684.3" y="561.0" width="8.4" height="2.9" fill="#fff" stroke="#000" stroke-width="1.25"/>
<rect x="696.3" y="561.4" width="9.9" height="2.5" fill="#000"/>
<text x="595.9" y="575.7" font-size="10.3" text-anchor="middle">Spleen</text>
<text x="627.3" y="575.7" font-size="10.3" text-anchor="middle">LN</text>
<text x="662.8" y="575.7" font-size="10.3" text-anchor="middle">Lungs</text>
<text x="695.5" y="575.7" font-size="10.3" text-anchor="middle">Liver</text>
<rect x="668.9" y="487.0" width="8.8" height="3.8" fill="#fff" stroke="#000" stroke-width="1.2"/>
<rect x="668.3" y="495.7" width="10" height="5" fill="#000"/>
<text x="682.9" y="491.6" font-size="10.4">Ctrl</text>
<text x="682.9" y="501.3" font-size="10.4">IT</text>
</svg></body></html>
